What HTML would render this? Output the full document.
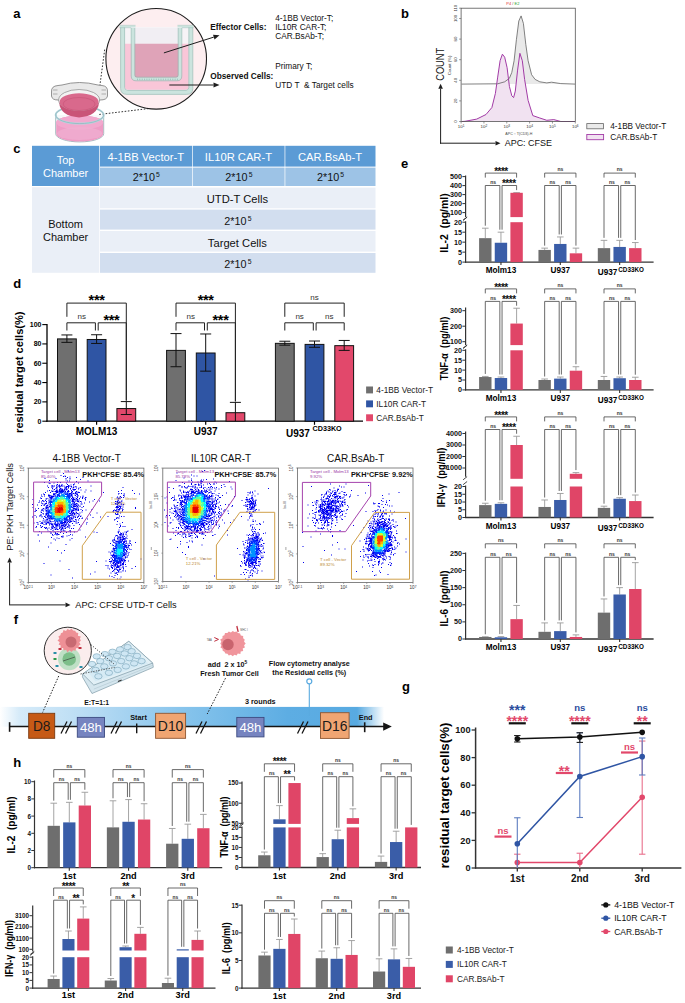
<!DOCTYPE html>
<html><head><meta charset="utf-8"><style>
html,body{margin:0;padding:0;background:#fff;}
svg{display:block;}
text{font-family:"Liberation Sans", sans-serif;}
</style></head><body>
<svg width="685" height="1003" viewBox="0 0 685 1003">
<rect width="685" height="1003" fill="#fff"/>
<text x="13.30" y="17.80" font-size="13" font-weight="bold" text-anchor="start" fill="#000">a</text>
<text x="401.00" y="17.80" font-size="13" font-weight="bold" text-anchor="start" fill="#000">b</text>
<text x="13.30" y="153.20" font-size="13" font-weight="bold" text-anchor="start" fill="#000">c</text>
<text x="13.30" y="288.20" font-size="13" font-weight="bold" text-anchor="start" fill="#000">d</text>
<text x="401.00" y="167.50" font-size="13" font-weight="bold" text-anchor="start" fill="#000">e</text>
<text x="13.80" y="623.50" font-size="13" font-weight="bold" text-anchor="start" fill="#000">f</text>
<text x="402.00" y="690.70" font-size="13" font-weight="bold" text-anchor="start" fill="#000">g</text>
<text x="13.30" y="766.60" font-size="13" font-weight="bold" text-anchor="start" fill="#000">h</text>
<rect x="32.00" y="145.80" width="67.30" height="40.20" fill="#5B9BD5"/>
<rect x="32.00" y="187.20" width="67.30" height="85.60" fill="#EAEFF7"/>
<rect x="100.00" y="145.80" width="92.30" height="20.80" fill="#5B9BD5"/>
<rect x="100.00" y="167.60" width="92.30" height="18.40" fill="#9DC3E6"/>
<rect x="193.00" y="145.80" width="91.60" height="20.80" fill="#5B9BD5"/>
<rect x="193.00" y="167.60" width="91.60" height="18.40" fill="#9DC3E6"/>
<rect x="285.30" y="145.80" width="90.20" height="20.80" fill="#5B9BD5"/>
<rect x="285.30" y="167.60" width="90.20" height="18.40" fill="#9DC3E6"/>
<rect x="100.00" y="187.60" width="275.50" height="20.70" fill="#EAEFF7"/>
<rect x="100.00" y="209.60" width="275.50" height="20.00" fill="#D2DEEF"/>
<rect x="100.00" y="231.00" width="275.50" height="20.60" fill="#EAEFF7"/>
<rect x="100.00" y="253.00" width="275.50" height="19.80" fill="#D2DEEF"/>
<text x="65.60" y="164.00" font-size="11" text-anchor="middle" fill="#fff">Top</text>
<text x="65.60" y="177.30" font-size="11" text-anchor="middle" fill="#fff">Chamber</text>
<text x="65.60" y="227.60" font-size="11" text-anchor="middle" fill="#111">Bottom</text>
<text x="65.60" y="240.80" font-size="11" text-anchor="middle" fill="#111">Chamber</text>
<text x="145.80" y="161.00" font-size="11.2" text-anchor="middle" fill="#fff">4-1BB Vector-T</text>
<text x="143.80" y="181.30" font-size="10.8" text-anchor="middle" fill="#111">2*10</text>
<text x="156.10" y="177.30" font-size="6.8" text-anchor="start" fill="#111">5</text>
<text x="238.45" y="161.00" font-size="11.2" text-anchor="middle" fill="#fff">IL10R CAR-T</text>
<text x="236.45" y="181.30" font-size="10.8" text-anchor="middle" fill="#111">2*10</text>
<text x="248.75" y="177.30" font-size="6.8" text-anchor="start" fill="#111">5</text>
<text x="330.05" y="161.00" font-size="11.2" text-anchor="middle" fill="#fff">CAR.BsAb-T</text>
<text x="328.05" y="181.30" font-size="10.8" text-anchor="middle" fill="#111">2*10</text>
<text x="340.35" y="177.30" font-size="6.8" text-anchor="start" fill="#111">5</text>
<text x="237.40" y="202.50" font-size="11.2" text-anchor="middle" fill="#111">UTD-T Cells</text>
<text x="235.40" y="224.50" font-size="10.8" text-anchor="middle" fill="#111">2*10</text>
<text x="247.70" y="220.50" font-size="6.8" text-anchor="start" fill="#111">5</text>
<text x="237.40" y="246.50" font-size="11.2" text-anchor="middle" fill="#111">Target Cells</text>
<text x="235.40" y="267.50" font-size="10.8" text-anchor="middle" fill="#111">2*10</text>
<text x="247.70" y="263.50" font-size="6.8" text-anchor="start" fill="#111">5</text>
<line x1="47.00" y1="324.00" x2="47.00" y2="421.80" stroke="#000" stroke-width="1.3"/>
<line x1="46.40" y1="421.20" x2="363.00" y2="421.20" stroke="#000" stroke-width="1.3"/>
<line x1="42.30" y1="421.20" x2="47.00" y2="421.20" stroke="#000" stroke-width="1.1"/>
<text x="41.50" y="423.70" font-size="7" font-weight="bold" text-anchor="end" fill="#000">0</text>
<line x1="42.30" y1="401.88" x2="47.00" y2="401.88" stroke="#000" stroke-width="1.1"/>
<text x="41.50" y="404.38" font-size="7" font-weight="bold" text-anchor="end" fill="#000">20</text>
<line x1="42.30" y1="382.56" x2="47.00" y2="382.56" stroke="#000" stroke-width="1.1"/>
<text x="41.50" y="385.06" font-size="7" font-weight="bold" text-anchor="end" fill="#000">40</text>
<line x1="42.30" y1="363.24" x2="47.00" y2="363.24" stroke="#000" stroke-width="1.1"/>
<text x="41.50" y="365.74" font-size="7" font-weight="bold" text-anchor="end" fill="#000">60</text>
<line x1="42.30" y1="343.92" x2="47.00" y2="343.92" stroke="#000" stroke-width="1.1"/>
<text x="41.50" y="346.42" font-size="7" font-weight="bold" text-anchor="end" fill="#000">80</text>
<line x1="42.30" y1="324.60" x2="47.00" y2="324.60" stroke="#000" stroke-width="1.1"/>
<text x="41.50" y="327.10" font-size="7" font-weight="bold" text-anchor="end" fill="#000">100</text>
<text x="22.60" y="372.20" font-size="11.2" font-weight="bold" text-anchor="middle" fill="#000" transform="rotate(-90 22.6 372.2)" textLength="121.5" lengthAdjust="spacingAndGlyphs">residual target cells(%)</text>
<rect x="57.50" y="338.90" width="18.80" height="82.30" fill="#6F6F6F" stroke="#111" stroke-width="1"/>
<line x1="66.90" y1="334.94" x2="66.90" y2="342.37" stroke="#111" stroke-width="1"/>
<line x1="61.40" y1="334.94" x2="72.40" y2="334.94" stroke="#111" stroke-width="1"/>
<line x1="61.40" y1="342.37" x2="72.40" y2="342.37" stroke="#111" stroke-width="1"/>
<rect x="87.20" y="339.48" width="18.80" height="81.72" fill="#2F55A4" stroke="#111" stroke-width="1"/>
<line x1="96.60" y1="334.74" x2="96.60" y2="343.44" stroke="#111" stroke-width="1"/>
<line x1="91.10" y1="334.74" x2="102.10" y2="334.74" stroke="#111" stroke-width="1"/>
<line x1="91.10" y1="343.44" x2="102.10" y2="343.44" stroke="#111" stroke-width="1"/>
<rect x="116.90" y="408.55" width="18.80" height="12.65" fill="#E2486B" stroke="#111" stroke-width="1"/>
<line x1="126.30" y1="401.59" x2="126.30" y2="414.53" stroke="#111" stroke-width="1"/>
<line x1="120.80" y1="401.59" x2="131.80" y2="401.59" stroke="#111" stroke-width="1"/>
<line x1="120.80" y1="414.53" x2="131.80" y2="414.53" stroke="#111" stroke-width="1"/>
<line x1="96.60" y1="421.20" x2="96.60" y2="424.80" stroke="#000" stroke-width="1.2"/>
<rect x="166.60" y="350.39" width="18.80" height="70.81" fill="#6F6F6F" stroke="#111" stroke-width="1"/>
<line x1="176.00" y1="333.58" x2="176.00" y2="366.72" stroke="#111" stroke-width="1"/>
<line x1="170.50" y1="333.58" x2="181.50" y2="333.58" stroke="#111" stroke-width="1"/>
<line x1="170.50" y1="366.72" x2="181.50" y2="366.72" stroke="#111" stroke-width="1"/>
<rect x="196.30" y="353.00" width="18.80" height="68.20" fill="#2F55A4" stroke="#111" stroke-width="1"/>
<line x1="205.70" y1="333.97" x2="205.70" y2="371.16" stroke="#111" stroke-width="1"/>
<line x1="200.20" y1="333.97" x2="211.20" y2="333.97" stroke="#111" stroke-width="1"/>
<line x1="200.20" y1="371.16" x2="211.20" y2="371.16" stroke="#111" stroke-width="1"/>
<rect x="226.00" y="412.70" width="18.80" height="8.50" fill="#E2486B" stroke="#111" stroke-width="1"/>
<line x1="235.40" y1="402.36" x2="235.40" y2="421.20" stroke="#111" stroke-width="1"/>
<line x1="229.90" y1="402.36" x2="240.90" y2="402.36" stroke="#111" stroke-width="1"/>
<line x1="205.70" y1="421.20" x2="205.70" y2="424.80" stroke="#000" stroke-width="1.2"/>
<rect x="275.40" y="343.34" width="18.80" height="77.86" fill="#6F6F6F" stroke="#111" stroke-width="1"/>
<line x1="284.80" y1="341.22" x2="284.80" y2="345.18" stroke="#111" stroke-width="1"/>
<line x1="279.30" y1="341.22" x2="290.30" y2="341.22" stroke="#111" stroke-width="1"/>
<line x1="279.30" y1="345.18" x2="290.30" y2="345.18" stroke="#111" stroke-width="1"/>
<rect x="305.10" y="344.40" width="18.80" height="76.80" fill="#2F55A4" stroke="#111" stroke-width="1"/>
<line x1="314.50" y1="341.02" x2="314.50" y2="347.30" stroke="#111" stroke-width="1"/>
<line x1="309.00" y1="341.02" x2="320.00" y2="341.02" stroke="#111" stroke-width="1"/>
<line x1="309.00" y1="347.30" x2="320.00" y2="347.30" stroke="#111" stroke-width="1"/>
<rect x="334.80" y="345.66" width="18.80" height="75.54" fill="#E2486B" stroke="#111" stroke-width="1"/>
<line x1="344.20" y1="340.44" x2="344.20" y2="350.39" stroke="#111" stroke-width="1"/>
<line x1="338.70" y1="340.44" x2="349.70" y2="340.44" stroke="#111" stroke-width="1"/>
<line x1="338.70" y1="350.39" x2="349.70" y2="350.39" stroke="#111" stroke-width="1"/>
<line x1="314.50" y1="421.20" x2="314.50" y2="424.80" stroke="#000" stroke-width="1.2"/>
<text x="96.60" y="435.00" font-size="10" font-weight="bold" text-anchor="middle" fill="#000">MOLM13</text>
<text x="205.70" y="435.00" font-size="10" font-weight="bold" text-anchor="middle" fill="#000">U937</text>
<text x="286.00" y="437.00" font-size="10" font-weight="bold" text-anchor="start" fill="#000">U937</text>
<text x="312.50" y="431.00" font-size="7.2" font-weight="bold" text-anchor="start" fill="#000">CD33KO</text>
<path d="M66.90 316.80 V303.10 H126.30 V400.59" fill="none" stroke="#222" stroke-width="1"/>
<path d="M66.90 330.50 V322.80 H95.40 V330.50" fill="none" stroke="#222" stroke-width="1"/>
<path d="M98.20 330.50 V322.80 H126.30 V400.59" fill="none" stroke="#222" stroke-width="1"/>
<text x="96.60" y="304.90" font-size="14.5" font-weight="bold" text-anchor="middle" fill="#000" letter-spacing="-0.3">***</text>
<text x="81.75" y="319.30" font-size="8" text-anchor="middle" fill="#333">ns</text>
<text x="111.45" y="324.60" font-size="14.5" font-weight="bold" text-anchor="middle" fill="#000" letter-spacing="-0.3">***</text>
<path d="M176.00 316.80 V303.10 H235.40 V401.36" fill="none" stroke="#222" stroke-width="1"/>
<path d="M176.00 330.50 V322.80 H204.50 V330.50" fill="none" stroke="#222" stroke-width="1"/>
<path d="M207.30 330.50 V322.80 H235.40 V401.36" fill="none" stroke="#222" stroke-width="1"/>
<text x="205.70" y="304.90" font-size="14.5" font-weight="bold" text-anchor="middle" fill="#000" letter-spacing="-0.3">***</text>
<text x="190.85" y="319.30" font-size="8" text-anchor="middle" fill="#333">ns</text>
<text x="220.55" y="324.60" font-size="14.5" font-weight="bold" text-anchor="middle" fill="#000" letter-spacing="-0.3">***</text>
<path d="M284.80 316.80 V303.10 H344.20 V316.80" fill="none" stroke="#222" stroke-width="1"/>
<path d="M284.80 330.50 V322.80 H313.30 V330.50" fill="none" stroke="#222" stroke-width="1"/>
<path d="M316.10 330.50 V322.80 H344.20 V330.50" fill="none" stroke="#222" stroke-width="1"/>
<text x="314.50" y="299.60" font-size="8" text-anchor="middle" fill="#333">ns</text>
<text x="299.65" y="319.30" font-size="8" text-anchor="middle" fill="#333">ns</text>
<text x="329.35" y="319.30" font-size="8" text-anchor="middle" fill="#333">ns</text>
<rect x="366.10" y="386.50" width="6.90" height="6.90" fill="#6F6F6F"/>
<text x="376.30" y="392.90" font-size="8.3" text-anchor="start" fill="#222">4-1BB Vector-T</text>
<rect x="366.10" y="400.40" width="6.90" height="6.90" fill="#2F55A4"/>
<text x="376.30" y="406.80" font-size="8.3" text-anchor="start" fill="#222">IL10R CAR-T</text>
<rect x="366.10" y="414.30" width="6.90" height="6.90" fill="#E2486B"/>
<text x="376.30" y="420.70" font-size="8.3" text-anchor="start" fill="#222">CAR.BsAb-T</text>
<line x1="465.60" y1="221.20" x2="465.60" y2="262.70" stroke="#333" stroke-width="1.2"/>
<line x1="465.60" y1="175.50" x2="465.60" y2="217.10" stroke="#333" stroke-width="1.2"/>
<line x1="463.10" y1="220.40" x2="467.10" y2="217.20" stroke="#333" stroke-width="0.9"/>
<line x1="463.10" y1="220.10" x2="467.10" y2="216.90" stroke="#333" stroke-width="0.9"/>
<line x1="465.00" y1="262.10" x2="653.60" y2="262.10" stroke="#333" stroke-width="1.3"/>
<line x1="462.40" y1="262.10" x2="465.60" y2="262.10" stroke="#333" stroke-width="1.0"/>
<text x="462.00" y="264.50" font-size="7.2" font-weight="bold" text-anchor="end" fill="#111">0</text>
<line x1="462.40" y1="252.13" x2="465.60" y2="252.13" stroke="#333" stroke-width="1.0"/>
<text x="462.00" y="254.53" font-size="7.2" font-weight="bold" text-anchor="end" fill="#111">5</text>
<line x1="462.40" y1="242.15" x2="465.60" y2="242.15" stroke="#333" stroke-width="1.0"/>
<text x="462.00" y="244.55" font-size="7.2" font-weight="bold" text-anchor="end" fill="#111">10</text>
<line x1="462.40" y1="232.18" x2="465.60" y2="232.18" stroke="#333" stroke-width="1.0"/>
<text x="462.00" y="234.58" font-size="7.2" font-weight="bold" text-anchor="end" fill="#111">15</text>
<line x1="462.40" y1="222.20" x2="465.60" y2="222.20" stroke="#333" stroke-width="1.0"/>
<text x="462.00" y="224.60" font-size="7.2" font-weight="bold" text-anchor="end" fill="#111">20</text>
<line x1="462.40" y1="212.60" x2="465.60" y2="212.60" stroke="#333" stroke-width="1.0"/>
<text x="462.00" y="215.00" font-size="7.2" font-weight="bold" text-anchor="end" fill="#111">100</text>
<line x1="462.40" y1="203.60" x2="465.60" y2="203.60" stroke="#333" stroke-width="1.0"/>
<text x="462.00" y="206.00" font-size="7.2" font-weight="bold" text-anchor="end" fill="#111">200</text>
<line x1="462.40" y1="194.60" x2="465.60" y2="194.60" stroke="#333" stroke-width="1.0"/>
<text x="462.00" y="197.00" font-size="7.2" font-weight="bold" text-anchor="end" fill="#111">300</text>
<line x1="462.40" y1="185.60" x2="465.60" y2="185.60" stroke="#333" stroke-width="1.0"/>
<text x="462.00" y="188.00" font-size="7.2" font-weight="bold" text-anchor="end" fill="#111">400</text>
<line x1="462.40" y1="176.60" x2="465.60" y2="176.60" stroke="#333" stroke-width="1.0"/>
<text x="462.00" y="179.00" font-size="7.2" font-weight="bold" text-anchor="end" fill="#111">500</text>
<text x="447.50" y="223.00" font-size="10.5" font-weight="bold" text-anchor="middle" fill="#000" transform="rotate(-90 447.5 223)" textLength="59.5" lengthAdjust="spacingAndGlyphs">IL-2  (pg/ml)</text>
<line x1="485.30" y1="228.19" x2="485.30" y2="238.16" stroke="#9a9a9a" stroke-width="0.9"/>
<line x1="482.00" y1="228.19" x2="488.60" y2="228.19" stroke="#9a9a9a" stroke-width="0.9"/>
<rect x="479.10" y="238.16" width="12.40" height="23.94" fill="#6E6E6E"/>
<line x1="500.95" y1="232.18" x2="500.95" y2="242.75" stroke="#9a9a9a" stroke-width="0.9"/>
<line x1="497.65" y1="232.18" x2="504.25" y2="232.18" stroke="#9a9a9a" stroke-width="0.9"/>
<rect x="494.75" y="242.75" width="12.40" height="19.35" fill="#3A5DA8"/>
<line x1="516.60" y1="192.62" x2="516.60" y2="192.80" stroke="#9a9a9a" stroke-width="0.9"/>
<line x1="513.30" y1="192.62" x2="519.90" y2="192.62" stroke="#9a9a9a" stroke-width="0.9"/>
<rect x="510.40" y="192.80" width="12.40" height="24.30" fill="#E04567"/>
<rect x="510.40" y="222.20" width="12.40" height="39.90" fill="#E04567"/>
<line x1="500.95" y1="262.10" x2="500.95" y2="265.10" stroke="#333" stroke-width="1.1"/>
<path d="M485.30 177.60 V173.10 H516.60 V177.60" fill="none" stroke="#444" stroke-width="0.8"/>
<path d="M485.30 225.69 V185.50 H499.85 V229.68" fill="none" stroke="#444" stroke-width="0.8"/>
<path d="M502.05 229.68 V185.50 H516.60 V190.12" fill="none" stroke="#444" stroke-width="0.8"/>
<text x="500.95" y="174.70" font-size="10" font-weight="bold" text-anchor="middle" fill="#111" letter-spacing="-0.5">****</text>
<text x="493.12" y="183.80" font-size="5.0" font-weight="bold" text-anchor="middle" fill="#333">ns</text>
<text x="508.77" y="187.10" font-size="10" font-weight="bold" text-anchor="middle" fill="#111" letter-spacing="-0.5">****</text>
<text x="500.95" y="273.30" font-size="8.2" font-weight="bold" text-anchor="middle" fill="#000">Molm13</text>
<line x1="544.65" y1="248.14" x2="544.65" y2="249.93" stroke="#9a9a9a" stroke-width="0.9"/>
<line x1="541.35" y1="248.14" x2="547.95" y2="248.14" stroke="#9a9a9a" stroke-width="0.9"/>
<rect x="538.45" y="249.93" width="12.40" height="12.17" fill="#6E6E6E"/>
<line x1="560.30" y1="236.96" x2="560.30" y2="243.95" stroke="#9a9a9a" stroke-width="0.9"/>
<line x1="557.00" y1="236.96" x2="563.60" y2="236.96" stroke="#9a9a9a" stroke-width="0.9"/>
<rect x="554.10" y="243.95" width="12.40" height="18.15" fill="#3A5DA8"/>
<line x1="575.95" y1="248.14" x2="575.95" y2="253.32" stroke="#9a9a9a" stroke-width="0.9"/>
<line x1="572.65" y1="248.14" x2="579.25" y2="248.14" stroke="#9a9a9a" stroke-width="0.9"/>
<rect x="569.75" y="253.32" width="12.40" height="8.78" fill="#E04567"/>
<line x1="560.30" y1="262.10" x2="560.30" y2="265.10" stroke="#333" stroke-width="1.1"/>
<path d="M544.65 177.60 V173.10 H575.95 V177.60" fill="none" stroke="#444" stroke-width="0.8"/>
<path d="M544.65 245.64 V185.50 H559.20 V234.46" fill="none" stroke="#444" stroke-width="0.8"/>
<path d="M561.40 234.46 V185.50 H575.95 V245.64" fill="none" stroke="#444" stroke-width="0.8"/>
<text x="560.30" y="171.40" font-size="5.0" font-weight="bold" text-anchor="middle" fill="#333">ns</text>
<text x="552.48" y="183.80" font-size="5.0" font-weight="bold" text-anchor="middle" fill="#333">ns</text>
<text x="568.12" y="183.80" font-size="5.0" font-weight="bold" text-anchor="middle" fill="#333">ns</text>
<text x="560.30" y="273.30" font-size="8.2" font-weight="bold" text-anchor="middle" fill="#000">U937</text>
<line x1="604.00" y1="240.35" x2="604.00" y2="248.14" stroke="#9a9a9a" stroke-width="0.9"/>
<line x1="600.70" y1="240.35" x2="607.30" y2="240.35" stroke="#9a9a9a" stroke-width="0.9"/>
<rect x="597.80" y="248.14" width="12.40" height="13.97" fill="#6E6E6E"/>
<line x1="619.65" y1="240.35" x2="619.65" y2="246.94" stroke="#9a9a9a" stroke-width="0.9"/>
<line x1="616.35" y1="240.35" x2="622.95" y2="240.35" stroke="#9a9a9a" stroke-width="0.9"/>
<rect x="613.45" y="246.94" width="12.40" height="15.16" fill="#3A5DA8"/>
<line x1="635.30" y1="242.55" x2="635.30" y2="248.14" stroke="#9a9a9a" stroke-width="0.9"/>
<line x1="632.00" y1="242.55" x2="638.60" y2="242.55" stroke="#9a9a9a" stroke-width="0.9"/>
<rect x="629.10" y="248.14" width="12.40" height="13.97" fill="#E04567"/>
<line x1="619.65" y1="262.10" x2="619.65" y2="265.10" stroke="#333" stroke-width="1.1"/>
<path d="M604.00 177.60 V173.10 H635.30 V177.60" fill="none" stroke="#444" stroke-width="0.8"/>
<path d="M604.00 237.85 V185.50 H618.55 V237.85" fill="none" stroke="#444" stroke-width="0.8"/>
<path d="M620.75 237.85 V185.50 H635.30 V240.05" fill="none" stroke="#444" stroke-width="0.8"/>
<text x="619.65" y="171.40" font-size="5.0" font-weight="bold" text-anchor="middle" fill="#333">ns</text>
<text x="611.83" y="183.80" font-size="5.0" font-weight="bold" text-anchor="middle" fill="#333">ns</text>
<text x="627.48" y="183.80" font-size="5.0" font-weight="bold" text-anchor="middle" fill="#333">ns</text>
<text x="597.80" y="275.10" font-size="8.2" font-weight="bold" text-anchor="start" fill="#000">U937</text>
<text x="618.30" y="272.10" font-size="6.3" font-weight="bold" text-anchor="start" fill="#000">CD33KO</text>
<line x1="465.60" y1="349.30" x2="465.60" y2="390.50" stroke="#333" stroke-width="1.2"/>
<line x1="465.60" y1="307.50" x2="465.60" y2="345.10" stroke="#333" stroke-width="1.2"/>
<line x1="463.10" y1="348.50" x2="467.10" y2="345.30" stroke="#333" stroke-width="0.9"/>
<line x1="463.10" y1="348.10" x2="467.10" y2="344.90" stroke="#333" stroke-width="0.9"/>
<line x1="465.00" y1="389.90" x2="653.60" y2="389.90" stroke="#333" stroke-width="1.3"/>
<line x1="462.40" y1="389.90" x2="465.60" y2="389.90" stroke="#333" stroke-width="1.0"/>
<text x="462.00" y="392.30" font-size="7.2" font-weight="bold" text-anchor="end" fill="#111">0</text>
<line x1="462.40" y1="380.00" x2="465.60" y2="380.00" stroke="#333" stroke-width="1.0"/>
<text x="462.00" y="382.40" font-size="7.2" font-weight="bold" text-anchor="end" fill="#111">5</text>
<line x1="462.40" y1="370.10" x2="465.60" y2="370.10" stroke="#333" stroke-width="1.0"/>
<text x="462.00" y="372.50" font-size="7.2" font-weight="bold" text-anchor="end" fill="#111">10</text>
<line x1="462.40" y1="360.20" x2="465.60" y2="360.20" stroke="#333" stroke-width="1.0"/>
<text x="462.00" y="362.60" font-size="7.2" font-weight="bold" text-anchor="end" fill="#111">15</text>
<line x1="462.40" y1="350.30" x2="465.60" y2="350.30" stroke="#333" stroke-width="1.0"/>
<text x="462.00" y="352.70" font-size="7.2" font-weight="bold" text-anchor="end" fill="#111">20</text>
<line x1="462.40" y1="341.70" x2="465.60" y2="341.70" stroke="#333" stroke-width="1.0"/>
<text x="462.00" y="344.10" font-size="7.2" font-weight="bold" text-anchor="end" fill="#111">100</text>
<line x1="462.40" y1="326.20" x2="465.60" y2="326.20" stroke="#333" stroke-width="1.0"/>
<text x="462.00" y="328.60" font-size="7.2" font-weight="bold" text-anchor="end" fill="#111">200</text>
<line x1="462.40" y1="310.70" x2="465.60" y2="310.70" stroke="#333" stroke-width="1.0"/>
<text x="462.00" y="313.10" font-size="7.2" font-weight="bold" text-anchor="end" fill="#111">300</text>
<text x="447.50" y="348.50" font-size="10.5" font-weight="bold" text-anchor="middle" fill="#000" transform="rotate(-90 447.5 348.5)" textLength="63.7" lengthAdjust="spacingAndGlyphs">TNF-α  (pg/ml)</text>
<line x1="485.30" y1="376.44" x2="485.30" y2="377.03" stroke="#9a9a9a" stroke-width="0.9"/>
<line x1="482.00" y1="376.44" x2="488.60" y2="376.44" stroke="#9a9a9a" stroke-width="0.9"/>
<rect x="479.10" y="377.03" width="12.40" height="12.87" fill="#6E6E6E"/>
<line x1="500.95" y1="377.03" x2="500.95" y2="378.02" stroke="#9a9a9a" stroke-width="0.9"/>
<line x1="497.65" y1="377.03" x2="504.25" y2="377.03" stroke="#9a9a9a" stroke-width="0.9"/>
<rect x="494.75" y="378.02" width="12.40" height="11.88" fill="#3A5DA8"/>
<line x1="516.60" y1="308.22" x2="516.60" y2="323.56" stroke="#9a9a9a" stroke-width="0.9"/>
<line x1="513.30" y1="308.22" x2="519.90" y2="308.22" stroke="#9a9a9a" stroke-width="0.9"/>
<rect x="510.40" y="323.56" width="12.40" height="21.54" fill="#E04567"/>
<rect x="510.40" y="350.30" width="12.40" height="39.60" fill="#E04567"/>
<line x1="500.95" y1="389.90" x2="500.95" y2="392.90" stroke="#333" stroke-width="1.1"/>
<path d="M485.30 293.40 V288.90 H516.60 V293.40" fill="none" stroke="#444" stroke-width="0.8"/>
<path d="M485.30 373.94 V301.40 H499.85 V374.53" fill="none" stroke="#444" stroke-width="0.8"/>
<path d="M502.05 374.53 V301.40 H516.60 V305.72" fill="none" stroke="#444" stroke-width="0.8"/>
<text x="500.95" y="290.50" font-size="10" font-weight="bold" text-anchor="middle" fill="#111" letter-spacing="-0.5">****</text>
<text x="493.12" y="299.70" font-size="5.0" font-weight="bold" text-anchor="middle" fill="#333">ns</text>
<text x="508.77" y="303.00" font-size="10" font-weight="bold" text-anchor="middle" fill="#111" letter-spacing="-0.5">****</text>
<text x="500.95" y="401.10" font-size="8.2" font-weight="bold" text-anchor="middle" fill="#000">Molm13</text>
<line x1="544.65" y1="379.01" x2="544.65" y2="380.00" stroke="#9a9a9a" stroke-width="0.9"/>
<line x1="541.35" y1="379.01" x2="547.95" y2="379.01" stroke="#9a9a9a" stroke-width="0.9"/>
<rect x="538.45" y="380.00" width="12.40" height="9.90" fill="#6E6E6E"/>
<line x1="560.30" y1="377.03" x2="560.30" y2="378.61" stroke="#9a9a9a" stroke-width="0.9"/>
<line x1="557.00" y1="377.03" x2="563.60" y2="377.03" stroke="#9a9a9a" stroke-width="0.9"/>
<rect x="554.10" y="378.61" width="12.40" height="11.29" fill="#3A5DA8"/>
<line x1="575.95" y1="366.73" x2="575.95" y2="370.69" stroke="#9a9a9a" stroke-width="0.9"/>
<line x1="572.65" y1="366.73" x2="579.25" y2="366.73" stroke="#9a9a9a" stroke-width="0.9"/>
<rect x="569.75" y="370.69" width="12.40" height="19.21" fill="#E04567"/>
<line x1="560.30" y1="389.90" x2="560.30" y2="392.90" stroke="#333" stroke-width="1.1"/>
<path d="M544.65 293.40 V288.90 H575.95 V293.40" fill="none" stroke="#444" stroke-width="0.8"/>
<path d="M544.65 376.51 V301.40 H559.20 V374.53" fill="none" stroke="#444" stroke-width="0.8"/>
<path d="M561.40 374.53 V301.40 H575.95 V364.23" fill="none" stroke="#444" stroke-width="0.8"/>
<text x="560.30" y="287.20" font-size="5.0" font-weight="bold" text-anchor="middle" fill="#333">ns</text>
<text x="552.48" y="299.70" font-size="5.0" font-weight="bold" text-anchor="middle" fill="#333">ns</text>
<text x="568.12" y="299.70" font-size="5.0" font-weight="bold" text-anchor="middle" fill="#333">ns</text>
<text x="560.30" y="401.10" font-size="8.2" font-weight="bold" text-anchor="middle" fill="#000">U937</text>
<line x1="604.00" y1="376.44" x2="604.00" y2="380.00" stroke="#9a9a9a" stroke-width="0.9"/>
<line x1="600.70" y1="376.44" x2="607.30" y2="376.44" stroke="#9a9a9a" stroke-width="0.9"/>
<rect x="597.80" y="380.00" width="12.40" height="9.90" fill="#6E6E6E"/>
<line x1="619.65" y1="377.03" x2="619.65" y2="378.22" stroke="#9a9a9a" stroke-width="0.9"/>
<line x1="616.35" y1="377.03" x2="622.95" y2="377.03" stroke="#9a9a9a" stroke-width="0.9"/>
<rect x="613.45" y="378.22" width="12.40" height="11.68" fill="#3A5DA8"/>
<line x1="635.30" y1="377.23" x2="635.30" y2="380.00" stroke="#9a9a9a" stroke-width="0.9"/>
<line x1="632.00" y1="377.23" x2="638.60" y2="377.23" stroke="#9a9a9a" stroke-width="0.9"/>
<rect x="629.10" y="380.00" width="12.40" height="9.90" fill="#E04567"/>
<line x1="619.65" y1="389.90" x2="619.65" y2="392.90" stroke="#333" stroke-width="1.1"/>
<path d="M604.00 293.40 V288.90 H635.30 V293.40" fill="none" stroke="#444" stroke-width="0.8"/>
<path d="M604.00 373.94 V301.40 H618.55 V374.53" fill="none" stroke="#444" stroke-width="0.8"/>
<path d="M620.75 374.53 V301.40 H635.30 V374.73" fill="none" stroke="#444" stroke-width="0.8"/>
<text x="619.65" y="287.20" font-size="5.0" font-weight="bold" text-anchor="middle" fill="#333">ns</text>
<text x="611.83" y="299.70" font-size="5.0" font-weight="bold" text-anchor="middle" fill="#333">ns</text>
<text x="627.48" y="299.70" font-size="5.0" font-weight="bold" text-anchor="middle" fill="#333">ns</text>
<text x="597.80" y="402.90" font-size="8.2" font-weight="bold" text-anchor="start" fill="#000">U937</text>
<text x="618.30" y="399.90" font-size="6.3" font-weight="bold" text-anchor="start" fill="#000">CD33KO</text>
<line x1="465.60" y1="485.50" x2="465.60" y2="518.10" stroke="#333" stroke-width="1.2"/>
<line x1="465.60" y1="431.50" x2="465.60" y2="476.80" stroke="#333" stroke-width="1.2"/>
<line x1="463.10" y1="484.70" x2="467.10" y2="481.50" stroke="#333" stroke-width="0.9"/>
<line x1="463.10" y1="479.80" x2="467.10" y2="476.60" stroke="#333" stroke-width="0.9"/>
<line x1="465.00" y1="517.50" x2="653.60" y2="517.50" stroke="#333" stroke-width="1.3"/>
<line x1="462.40" y1="517.50" x2="465.60" y2="517.50" stroke="#333" stroke-width="1.0"/>
<text x="462.00" y="519.90" font-size="7.2" font-weight="bold" text-anchor="end" fill="#111">0</text>
<line x1="462.40" y1="509.75" x2="465.60" y2="509.75" stroke="#333" stroke-width="1.0"/>
<text x="462.00" y="512.15" font-size="7.2" font-weight="bold" text-anchor="end" fill="#111">5</text>
<line x1="462.40" y1="502.00" x2="465.60" y2="502.00" stroke="#333" stroke-width="1.0"/>
<text x="462.00" y="504.40" font-size="7.2" font-weight="bold" text-anchor="end" fill="#111">10</text>
<line x1="462.40" y1="494.25" x2="465.60" y2="494.25" stroke="#333" stroke-width="1.0"/>
<text x="462.00" y="496.65" font-size="7.2" font-weight="bold" text-anchor="end" fill="#111">15</text>
<line x1="462.40" y1="486.50" x2="465.60" y2="486.50" stroke="#333" stroke-width="1.0"/>
<text x="462.00" y="488.90" font-size="7.2" font-weight="bold" text-anchor="end" fill="#111">20</text>
<line x1="462.40" y1="468.00" x2="465.60" y2="468.00" stroke="#333" stroke-width="1.0"/>
<text x="462.00" y="470.40" font-size="7.2" font-weight="bold" text-anchor="end" fill="#111">1000</text>
<line x1="462.40" y1="456.50" x2="465.60" y2="456.50" stroke="#333" stroke-width="1.0"/>
<text x="462.00" y="458.90" font-size="7.2" font-weight="bold" text-anchor="end" fill="#111">2000</text>
<line x1="462.40" y1="445.00" x2="465.60" y2="445.00" stroke="#333" stroke-width="1.0"/>
<text x="462.00" y="447.40" font-size="7.2" font-weight="bold" text-anchor="end" fill="#111">3000</text>
<line x1="462.40" y1="433.50" x2="465.60" y2="433.50" stroke="#333" stroke-width="1.0"/>
<text x="462.00" y="435.90" font-size="7.2" font-weight="bold" text-anchor="end" fill="#111">4000</text>
<text x="444.50" y="477.50" font-size="10.5" font-weight="bold" text-anchor="middle" fill="#000" transform="rotate(-90 444.5 477.5)" textLength="59.5" lengthAdjust="spacingAndGlyphs">IFN-γ  (pg/ml)</text>
<line x1="485.30" y1="503.24" x2="485.30" y2="505.10" stroke="#9a9a9a" stroke-width="0.9"/>
<line x1="482.00" y1="503.24" x2="488.60" y2="503.24" stroke="#9a9a9a" stroke-width="0.9"/>
<rect x="479.10" y="505.10" width="12.40" height="12.40" fill="#6E6E6E"/>
<line x1="500.95" y1="502.77" x2="500.95" y2="503.86" stroke="#9a9a9a" stroke-width="0.9"/>
<line x1="497.65" y1="502.77" x2="504.25" y2="502.77" stroke="#9a9a9a" stroke-width="0.9"/>
<rect x="494.75" y="503.86" width="12.40" height="13.64" fill="#3A5DA8"/>
<line x1="516.60" y1="436.26" x2="516.60" y2="445.00" stroke="#9a9a9a" stroke-width="0.9"/>
<line x1="513.30" y1="436.26" x2="519.90" y2="436.26" stroke="#9a9a9a" stroke-width="0.9"/>
<rect x="510.40" y="445.00" width="12.40" height="33.80" fill="#E04567"/>
<rect x="510.40" y="486.50" width="12.40" height="31.00" fill="#E04567"/>
<line x1="500.95" y1="517.50" x2="500.95" y2="520.50" stroke="#333" stroke-width="1.1"/>
<path d="M485.30 421.40 V416.90 H516.60 V421.40" fill="none" stroke="#444" stroke-width="0.8"/>
<path d="M485.30 500.74 V429.50 H499.85 V500.27" fill="none" stroke="#444" stroke-width="0.8"/>
<path d="M502.05 500.27 V429.50 H516.60 V433.76" fill="none" stroke="#444" stroke-width="0.8"/>
<text x="500.95" y="418.50" font-size="10" font-weight="bold" text-anchor="middle" fill="#111" letter-spacing="-0.5">****</text>
<text x="493.12" y="427.80" font-size="5.0" font-weight="bold" text-anchor="middle" fill="#333">ns</text>
<text x="508.77" y="431.10" font-size="10" font-weight="bold" text-anchor="middle" fill="#111" letter-spacing="-0.5">****</text>
<text x="500.95" y="528.70" font-size="8.2" font-weight="bold" text-anchor="middle" fill="#000">Molm13</text>
<line x1="544.65" y1="499.99" x2="544.65" y2="506.96" stroke="#9a9a9a" stroke-width="0.9"/>
<line x1="541.35" y1="499.99" x2="547.95" y2="499.99" stroke="#9a9a9a" stroke-width="0.9"/>
<rect x="538.45" y="506.96" width="12.40" height="10.54" fill="#6E6E6E"/>
<line x1="560.30" y1="493.48" x2="560.30" y2="499.99" stroke="#9a9a9a" stroke-width="0.9"/>
<line x1="557.00" y1="493.48" x2="563.60" y2="493.48" stroke="#9a9a9a" stroke-width="0.9"/>
<rect x="554.10" y="499.99" width="12.40" height="17.51" fill="#3A5DA8"/>
<line x1="575.95" y1="472.60" x2="575.95" y2="473.80" stroke="#9a9a9a" stroke-width="0.9"/>
<line x1="572.65" y1="472.60" x2="579.25" y2="472.60" stroke="#9a9a9a" stroke-width="0.9"/>
<rect x="569.75" y="473.80" width="12.40" height="5.00" fill="#E04567"/>
<rect x="569.75" y="486.50" width="12.40" height="31.00" fill="#E04567"/>
<line x1="560.30" y1="517.50" x2="560.30" y2="520.50" stroke="#333" stroke-width="1.1"/>
<path d="M544.65 421.40 V416.90 H575.95 V421.40" fill="none" stroke="#444" stroke-width="0.8"/>
<path d="M544.65 497.49 V429.50 H559.20 V490.98" fill="none" stroke="#444" stroke-width="0.8"/>
<path d="M561.40 490.98 V429.50 H575.95 V470.10" fill="none" stroke="#444" stroke-width="0.8"/>
<text x="560.30" y="415.20" font-size="5.0" font-weight="bold" text-anchor="middle" fill="#333">ns</text>
<text x="552.48" y="427.80" font-size="5.0" font-weight="bold" text-anchor="middle" fill="#333">ns</text>
<text x="568.12" y="427.80" font-size="5.0" font-weight="bold" text-anchor="middle" fill="#333">ns</text>
<text x="560.30" y="528.70" font-size="8.2" font-weight="bold" text-anchor="middle" fill="#000">U937</text>
<line x1="604.00" y1="506.19" x2="604.00" y2="507.89" stroke="#9a9a9a" stroke-width="0.9"/>
<line x1="600.70" y1="506.19" x2="607.30" y2="506.19" stroke="#9a9a9a" stroke-width="0.9"/>
<rect x="597.80" y="507.89" width="12.40" height="9.61" fill="#6E6E6E"/>
<line x1="619.65" y1="497.66" x2="619.65" y2="498.75" stroke="#9a9a9a" stroke-width="0.9"/>
<line x1="616.35" y1="497.66" x2="622.95" y2="497.66" stroke="#9a9a9a" stroke-width="0.9"/>
<rect x="613.45" y="498.75" width="12.40" height="18.75" fill="#3A5DA8"/>
<line x1="635.30" y1="495.02" x2="635.30" y2="501.07" stroke="#9a9a9a" stroke-width="0.9"/>
<line x1="632.00" y1="495.02" x2="638.60" y2="495.02" stroke="#9a9a9a" stroke-width="0.9"/>
<rect x="629.10" y="501.07" width="12.40" height="16.43" fill="#E04567"/>
<line x1="619.65" y1="517.50" x2="619.65" y2="520.50" stroke="#333" stroke-width="1.1"/>
<path d="M604.00 421.40 V416.90 H635.30 V421.40" fill="none" stroke="#444" stroke-width="0.8"/>
<path d="M604.00 503.69 V429.50 H618.55 V495.16" fill="none" stroke="#444" stroke-width="0.8"/>
<path d="M620.75 495.16 V429.50 H635.30 V492.52" fill="none" stroke="#444" stroke-width="0.8"/>
<text x="619.65" y="415.20" font-size="5.0" font-weight="bold" text-anchor="middle" fill="#333">ns</text>
<text x="611.83" y="427.80" font-size="5.0" font-weight="bold" text-anchor="middle" fill="#333">ns</text>
<text x="627.48" y="427.80" font-size="5.0" font-weight="bold" text-anchor="middle" fill="#333">ns</text>
<text x="597.80" y="530.50" font-size="8.2" font-weight="bold" text-anchor="start" fill="#000">U937</text>
<text x="618.30" y="527.50" font-size="6.3" font-weight="bold" text-anchor="start" fill="#000">CD33KO</text>
<line x1="465.60" y1="552.50" x2="465.60" y2="639.60" stroke="#333" stroke-width="1.2"/>
<line x1="465.00" y1="639.00" x2="653.60" y2="639.00" stroke="#333" stroke-width="1.3"/>
<line x1="462.40" y1="639.00" x2="465.60" y2="639.00" stroke="#333" stroke-width="1.0"/>
<text x="462.00" y="641.40" font-size="7.2" font-weight="bold" text-anchor="end" fill="#111">0</text>
<line x1="462.40" y1="621.88" x2="465.60" y2="621.88" stroke="#333" stroke-width="1.0"/>
<text x="462.00" y="624.28" font-size="7.2" font-weight="bold" text-anchor="end" fill="#111">50</text>
<line x1="462.40" y1="604.76" x2="465.60" y2="604.76" stroke="#333" stroke-width="1.0"/>
<text x="462.00" y="607.16" font-size="7.2" font-weight="bold" text-anchor="end" fill="#111">100</text>
<line x1="462.40" y1="587.64" x2="465.60" y2="587.64" stroke="#333" stroke-width="1.0"/>
<text x="462.00" y="590.04" font-size="7.2" font-weight="bold" text-anchor="end" fill="#111">150</text>
<line x1="462.40" y1="570.52" x2="465.60" y2="570.52" stroke="#333" stroke-width="1.0"/>
<text x="462.00" y="572.92" font-size="7.2" font-weight="bold" text-anchor="end" fill="#111">200</text>
<line x1="462.40" y1="553.40" x2="465.60" y2="553.40" stroke="#333" stroke-width="1.0"/>
<text x="462.00" y="555.80" font-size="7.2" font-weight="bold" text-anchor="end" fill="#111">250</text>
<text x="447.50" y="598.50" font-size="10.5" font-weight="bold" text-anchor="middle" fill="#000" transform="rotate(-90 447.5 598.5)" textLength="56" lengthAdjust="spacingAndGlyphs">IL-6  (pg/ml)</text>
<line x1="485.30" y1="636.77" x2="485.30" y2="636.95" stroke="#9a9a9a" stroke-width="0.9"/>
<line x1="482.00" y1="636.77" x2="488.60" y2="636.77" stroke="#9a9a9a" stroke-width="0.9"/>
<rect x="479.10" y="636.95" width="12.40" height="2.05" fill="#6E6E6E"/>
<line x1="500.95" y1="636.60" x2="500.95" y2="637.29" stroke="#9a9a9a" stroke-width="0.9"/>
<line x1="497.65" y1="636.60" x2="504.25" y2="636.60" stroke="#9a9a9a" stroke-width="0.9"/>
<rect x="494.75" y="637.29" width="12.40" height="1.71" fill="#3A5DA8"/>
<line x1="516.60" y1="605.44" x2="516.60" y2="619.14" stroke="#9a9a9a" stroke-width="0.9"/>
<line x1="513.30" y1="605.44" x2="519.90" y2="605.44" stroke="#9a9a9a" stroke-width="0.9"/>
<rect x="510.40" y="619.14" width="12.40" height="19.86" fill="#E04567"/>
<line x1="500.95" y1="639.00" x2="500.95" y2="642.00" stroke="#333" stroke-width="1.1"/>
<path d="M485.30 548.30 V543.80 H516.60 V548.30" fill="none" stroke="#444" stroke-width="0.8"/>
<path d="M485.30 634.27 V557.30 H499.85 V634.10" fill="none" stroke="#444" stroke-width="0.8"/>
<path d="M502.05 634.10 V557.30 H516.60 V602.94" fill="none" stroke="#444" stroke-width="0.8"/>
<text x="500.95" y="542.10" font-size="5.0" font-weight="bold" text-anchor="middle" fill="#333">ns</text>
<text x="493.12" y="555.60" font-size="5.0" font-weight="bold" text-anchor="middle" fill="#333">ns</text>
<text x="508.77" y="555.60" font-size="5.0" font-weight="bold" text-anchor="middle" fill="#333">ns</text>
<text x="500.95" y="650.20" font-size="8.2" font-weight="bold" text-anchor="middle" fill="#000">Molm13</text>
<line x1="544.65" y1="622.91" x2="544.65" y2="631.81" stroke="#9a9a9a" stroke-width="0.9"/>
<line x1="541.35" y1="622.91" x2="547.95" y2="622.91" stroke="#9a9a9a" stroke-width="0.9"/>
<rect x="538.45" y="631.81" width="12.40" height="7.19" fill="#6E6E6E"/>
<line x1="560.30" y1="622.91" x2="560.30" y2="631.12" stroke="#9a9a9a" stroke-width="0.9"/>
<line x1="557.00" y1="622.91" x2="563.60" y2="622.91" stroke="#9a9a9a" stroke-width="0.9"/>
<rect x="554.10" y="631.12" width="12.40" height="7.88" fill="#3A5DA8"/>
<line x1="575.95" y1="634.89" x2="575.95" y2="636.95" stroke="#9a9a9a" stroke-width="0.9"/>
<line x1="572.65" y1="634.89" x2="579.25" y2="634.89" stroke="#9a9a9a" stroke-width="0.9"/>
<rect x="569.75" y="636.95" width="12.40" height="2.05" fill="#E04567"/>
<line x1="560.30" y1="639.00" x2="560.30" y2="642.00" stroke="#333" stroke-width="1.1"/>
<path d="M544.65 548.30 V543.80 H575.95 V548.30" fill="none" stroke="#444" stroke-width="0.8"/>
<path d="M544.65 620.41 V557.30 H559.20 V620.41" fill="none" stroke="#444" stroke-width="0.8"/>
<path d="M561.40 620.41 V557.30 H575.95 V632.39" fill="none" stroke="#444" stroke-width="0.8"/>
<text x="560.30" y="542.10" font-size="5.0" font-weight="bold" text-anchor="middle" fill="#333">ns</text>
<text x="552.48" y="555.60" font-size="5.0" font-weight="bold" text-anchor="middle" fill="#333">ns</text>
<text x="568.12" y="555.60" font-size="5.0" font-weight="bold" text-anchor="middle" fill="#333">ns</text>
<text x="560.30" y="650.20" font-size="8.2" font-weight="bold" text-anchor="middle" fill="#000">U937</text>
<line x1="604.00" y1="598.94" x2="604.00" y2="612.64" stroke="#9a9a9a" stroke-width="0.9"/>
<line x1="600.70" y1="598.94" x2="607.30" y2="598.94" stroke="#9a9a9a" stroke-width="0.9"/>
<rect x="597.80" y="612.64" width="12.40" height="26.36" fill="#6E6E6E"/>
<line x1="619.65" y1="587.64" x2="619.65" y2="594.49" stroke="#9a9a9a" stroke-width="0.9"/>
<line x1="616.35" y1="587.64" x2="622.95" y2="587.64" stroke="#9a9a9a" stroke-width="0.9"/>
<rect x="613.45" y="594.49" width="12.40" height="44.51" fill="#3A5DA8"/>
<line x1="635.30" y1="562.64" x2="635.30" y2="589.01" stroke="#9a9a9a" stroke-width="0.9"/>
<line x1="632.00" y1="562.64" x2="638.60" y2="562.64" stroke="#9a9a9a" stroke-width="0.9"/>
<rect x="629.10" y="589.01" width="12.40" height="49.99" fill="#E04567"/>
<line x1="619.65" y1="639.00" x2="619.65" y2="642.00" stroke="#333" stroke-width="1.1"/>
<path d="M604.00 548.30 V543.80 H635.30 V548.30" fill="none" stroke="#444" stroke-width="0.8"/>
<path d="M604.00 596.44 V557.30 H618.55 V585.14" fill="none" stroke="#444" stroke-width="0.8"/>
<path d="M620.75 585.14 V557.30 H635.30 V560.14" fill="none" stroke="#444" stroke-width="0.8"/>
<text x="619.65" y="542.10" font-size="5.0" font-weight="bold" text-anchor="middle" fill="#333">ns</text>
<text x="611.83" y="555.60" font-size="5.0" font-weight="bold" text-anchor="middle" fill="#333">ns</text>
<text x="627.48" y="555.60" font-size="5.0" font-weight="bold" text-anchor="middle" fill="#333">ns</text>
<text x="597.80" y="652.00" font-size="8.2" font-weight="bold" text-anchor="start" fill="#000">U937</text>
<text x="618.30" y="649.00" font-size="6.3" font-weight="bold" text-anchor="start" fill="#000">CD33KO</text>
<line x1="34.50" y1="780.50" x2="34.50" y2="868.30" stroke="#333" stroke-width="1.2"/>
<line x1="33.90" y1="867.70" x2="222.20" y2="867.70" stroke="#333" stroke-width="1.3"/>
<line x1="31.30" y1="867.70" x2="34.50" y2="867.70" stroke="#333" stroke-width="1.0"/>
<text x="30.90" y="870.10" font-size="6.3" font-weight="bold" text-anchor="end" fill="#111">0</text>
<line x1="31.30" y1="850.50" x2="34.50" y2="850.50" stroke="#333" stroke-width="1.0"/>
<text x="30.90" y="852.90" font-size="6.3" font-weight="bold" text-anchor="end" fill="#111">2</text>
<line x1="31.30" y1="833.30" x2="34.50" y2="833.30" stroke="#333" stroke-width="1.0"/>
<text x="30.90" y="835.70" font-size="6.3" font-weight="bold" text-anchor="end" fill="#111">4</text>
<line x1="31.30" y1="816.10" x2="34.50" y2="816.10" stroke="#333" stroke-width="1.0"/>
<text x="30.90" y="818.50" font-size="6.3" font-weight="bold" text-anchor="end" fill="#111">6</text>
<line x1="31.30" y1="798.90" x2="34.50" y2="798.90" stroke="#333" stroke-width="1.0"/>
<text x="30.90" y="801.30" font-size="6.3" font-weight="bold" text-anchor="end" fill="#111">8</text>
<line x1="31.30" y1="781.70" x2="34.50" y2="781.70" stroke="#333" stroke-width="1.0"/>
<text x="30.90" y="784.10" font-size="6.3" font-weight="bold" text-anchor="end" fill="#111">10</text>
<text x="14.50" y="825.00" font-size="10.5" font-weight="bold" text-anchor="middle" fill="#000" transform="rotate(-90 14.5 825)" textLength="57" lengthAdjust="spacingAndGlyphs">IL-2  (pg/ml)</text>
<line x1="53.75" y1="803.20" x2="53.75" y2="825.82" stroke="#9a9a9a" stroke-width="0.9"/>
<line x1="50.45" y1="803.20" x2="57.05" y2="803.20" stroke="#9a9a9a" stroke-width="0.9"/>
<rect x="47.60" y="825.82" width="12.30" height="41.88" fill="#6E6E6E"/>
<line x1="69.30" y1="802.34" x2="69.30" y2="822.38" stroke="#9a9a9a" stroke-width="0.9"/>
<line x1="66.00" y1="802.34" x2="72.60" y2="802.34" stroke="#9a9a9a" stroke-width="0.9"/>
<rect x="63.15" y="822.38" width="12.30" height="45.32" fill="#3A5DA8"/>
<line x1="84.85" y1="792.28" x2="84.85" y2="805.52" stroke="#9a9a9a" stroke-width="0.9"/>
<line x1="81.55" y1="792.28" x2="88.15" y2="792.28" stroke="#9a9a9a" stroke-width="0.9"/>
<rect x="78.70" y="805.52" width="12.30" height="62.18" fill="#E04567"/>
<line x1="69.30" y1="867.70" x2="69.30" y2="870.70" stroke="#333" stroke-width="1.1"/>
<path d="M53.75 777.60 V769.60 H84.85 V777.60" fill="none" stroke="#444" stroke-width="0.8"/>
<path d="M53.75 800.70 V782.70 H68.20 V799.84" fill="none" stroke="#444" stroke-width="0.8"/>
<path d="M70.40 799.84 V782.70 H84.85 V789.78" fill="none" stroke="#444" stroke-width="0.8"/>
<text x="69.30" y="767.90" font-size="4.9" font-weight="bold" text-anchor="middle" fill="#333">ns</text>
<text x="61.52" y="781.00" font-size="4.9" font-weight="bold" text-anchor="middle" fill="#333">ns</text>
<text x="77.07" y="781.00" font-size="4.9" font-weight="bold" text-anchor="middle" fill="#333">ns</text>
<text x="69.30" y="878.60" font-size="9.2" font-weight="bold" text-anchor="middle" fill="#000">1st</text>
<line x1="113.00" y1="800.79" x2="113.00" y2="827.37" stroke="#9a9a9a" stroke-width="0.9"/>
<line x1="109.70" y1="800.79" x2="116.30" y2="800.79" stroke="#9a9a9a" stroke-width="0.9"/>
<rect x="106.85" y="827.37" width="12.30" height="40.33" fill="#6E6E6E"/>
<line x1="128.55" y1="799.59" x2="128.55" y2="821.78" stroke="#9a9a9a" stroke-width="0.9"/>
<line x1="125.25" y1="799.59" x2="131.85" y2="799.59" stroke="#9a9a9a" stroke-width="0.9"/>
<rect x="122.40" y="821.78" width="12.30" height="45.92" fill="#3A5DA8"/>
<line x1="144.10" y1="803.72" x2="144.10" y2="819.54" stroke="#9a9a9a" stroke-width="0.9"/>
<line x1="140.80" y1="803.72" x2="147.40" y2="803.72" stroke="#9a9a9a" stroke-width="0.9"/>
<rect x="137.95" y="819.54" width="12.30" height="48.16" fill="#E04567"/>
<line x1="128.55" y1="867.70" x2="128.55" y2="870.70" stroke="#333" stroke-width="1.1"/>
<path d="M113.00 777.60 V769.60 H144.10 V777.60" fill="none" stroke="#444" stroke-width="0.8"/>
<path d="M113.00 798.29 V782.70 H127.45 V797.09" fill="none" stroke="#444" stroke-width="0.8"/>
<path d="M129.65 797.09 V782.70 H144.10 V801.22" fill="none" stroke="#444" stroke-width="0.8"/>
<text x="128.55" y="767.90" font-size="4.9" font-weight="bold" text-anchor="middle" fill="#333">ns</text>
<text x="120.78" y="781.00" font-size="4.9" font-weight="bold" text-anchor="middle" fill="#333">ns</text>
<text x="136.32" y="781.00" font-size="4.9" font-weight="bold" text-anchor="middle" fill="#333">ns</text>
<text x="128.55" y="878.60" font-size="9.2" font-weight="bold" text-anchor="middle" fill="#000">2nd</text>
<line x1="172.25" y1="828.48" x2="172.25" y2="843.71" stroke="#9a9a9a" stroke-width="0.9"/>
<line x1="168.95" y1="828.48" x2="175.55" y2="828.48" stroke="#9a9a9a" stroke-width="0.9"/>
<rect x="166.10" y="843.71" width="12.30" height="23.99" fill="#6E6E6E"/>
<line x1="187.80" y1="824.18" x2="187.80" y2="838.80" stroke="#9a9a9a" stroke-width="0.9"/>
<line x1="184.50" y1="824.18" x2="191.10" y2="824.18" stroke="#9a9a9a" stroke-width="0.9"/>
<rect x="181.65" y="838.80" width="12.30" height="28.90" fill="#3A5DA8"/>
<line x1="203.35" y1="814.38" x2="203.35" y2="828.23" stroke="#9a9a9a" stroke-width="0.9"/>
<line x1="200.05" y1="814.38" x2="206.65" y2="814.38" stroke="#9a9a9a" stroke-width="0.9"/>
<rect x="197.20" y="828.23" width="12.30" height="39.47" fill="#E04567"/>
<line x1="187.80" y1="867.70" x2="187.80" y2="870.70" stroke="#333" stroke-width="1.1"/>
<path d="M172.25 777.60 V769.60 H203.35 V777.60" fill="none" stroke="#444" stroke-width="0.8"/>
<path d="M172.25 825.98 V782.70 H186.70 V821.68" fill="none" stroke="#444" stroke-width="0.8"/>
<path d="M188.90 821.68 V782.70 H203.35 V811.88" fill="none" stroke="#444" stroke-width="0.8"/>
<text x="187.80" y="767.90" font-size="4.9" font-weight="bold" text-anchor="middle" fill="#333">ns</text>
<text x="180.03" y="781.00" font-size="4.9" font-weight="bold" text-anchor="middle" fill="#333">ns</text>
<text x="195.57" y="781.00" font-size="4.9" font-weight="bold" text-anchor="middle" fill="#333">ns</text>
<text x="187.80" y="878.60" font-size="9.2" font-weight="bold" text-anchor="middle" fill="#000">3rd</text>
<line x1="32.70" y1="956.20" x2="32.70" y2="988.70" stroke="#333" stroke-width="1.2"/>
<line x1="32.70" y1="905.50" x2="32.70" y2="951.50" stroke="#333" stroke-width="1.2"/>
<line x1="30.20" y1="955.40" x2="34.20" y2="952.20" stroke="#333" stroke-width="0.9"/>
<line x1="30.20" y1="954.50" x2="34.20" y2="951.30" stroke="#333" stroke-width="0.9"/>
<line x1="32.10" y1="988.10" x2="215.50" y2="988.10" stroke="#333" stroke-width="1.3"/>
<line x1="29.50" y1="988.10" x2="32.70" y2="988.10" stroke="#333" stroke-width="1.0"/>
<text x="29.10" y="990.50" font-size="6.3" font-weight="bold" text-anchor="end" fill="#111">0</text>
<line x1="29.50" y1="980.38" x2="32.70" y2="980.38" stroke="#333" stroke-width="1.0"/>
<text x="29.10" y="982.77" font-size="6.3" font-weight="bold" text-anchor="end" fill="#111">5</text>
<line x1="29.50" y1="972.65" x2="32.70" y2="972.65" stroke="#333" stroke-width="1.0"/>
<text x="29.10" y="975.05" font-size="6.3" font-weight="bold" text-anchor="end" fill="#111">10</text>
<line x1="29.50" y1="964.93" x2="32.70" y2="964.93" stroke="#333" stroke-width="1.0"/>
<text x="29.10" y="967.33" font-size="6.3" font-weight="bold" text-anchor="end" fill="#111">15</text>
<line x1="29.50" y1="957.20" x2="32.70" y2="957.20" stroke="#333" stroke-width="1.0"/>
<text x="29.10" y="959.60" font-size="6.3" font-weight="bold" text-anchor="end" fill="#111">20</text>
<line x1="29.50" y1="949.30" x2="32.70" y2="949.30" stroke="#333" stroke-width="1.0"/>
<text x="29.10" y="951.70" font-size="6.3" font-weight="bold" text-anchor="end" fill="#111">100</text>
<line x1="29.50" y1="938.10" x2="32.70" y2="938.10" stroke="#333" stroke-width="1.0"/>
<text x="29.10" y="940.50" font-size="6.3" font-weight="bold" text-anchor="end" fill="#111">1100</text>
<line x1="29.50" y1="926.90" x2="32.70" y2="926.90" stroke="#333" stroke-width="1.0"/>
<text x="29.10" y="929.30" font-size="6.3" font-weight="bold" text-anchor="end" fill="#111">2100</text>
<line x1="29.50" y1="915.70" x2="32.70" y2="915.70" stroke="#333" stroke-width="1.0"/>
<text x="29.10" y="918.10" font-size="6.3" font-weight="bold" text-anchor="end" fill="#111">3100</text>
<text x="12.50" y="948.50" font-size="10.5" font-weight="bold" text-anchor="middle" fill="#000" transform="rotate(-90 12.5 948.5)" textLength="57" lengthAdjust="spacingAndGlyphs">IFN-γ  (pg/ml)</text>
<line x1="53.65" y1="976.05" x2="53.65" y2="978.98" stroke="#9a9a9a" stroke-width="0.9"/>
<line x1="50.35" y1="976.05" x2="56.95" y2="976.05" stroke="#9a9a9a" stroke-width="0.9"/>
<rect x="47.60" y="978.98" width="12.10" height="9.12" fill="#6E6E6E"/>
<line x1="68.45" y1="931.00" x2="68.45" y2="939.00" stroke="#9a9a9a" stroke-width="0.9"/>
<line x1="65.15" y1="931.00" x2="71.75" y2="931.00" stroke="#9a9a9a" stroke-width="0.9"/>
<rect x="62.40" y="939.00" width="12.10" height="11.50" fill="#3A5DA8"/>
<rect x="62.40" y="957.20" width="12.10" height="30.90" fill="#3A5DA8"/>
<line x1="83.25" y1="906.90" x2="83.25" y2="918.60" stroke="#9a9a9a" stroke-width="0.9"/>
<line x1="79.95" y1="906.90" x2="86.55" y2="906.90" stroke="#9a9a9a" stroke-width="0.9"/>
<rect x="77.20" y="918.60" width="12.10" height="31.90" fill="#E04567"/>
<rect x="77.20" y="957.20" width="12.10" height="30.90" fill="#E04567"/>
<line x1="68.45" y1="988.10" x2="68.45" y2="991.10" stroke="#333" stroke-width="1.1"/>
<path d="M53.65 896.00 V888.00 H83.25 V896.00" fill="none" stroke="#444" stroke-width="0.8"/>
<path d="M53.65 973.55 V900.20 H67.35 V928.50" fill="none" stroke="#444" stroke-width="0.8"/>
<path d="M69.55 928.50 V900.20 H83.25 V904.40" fill="none" stroke="#444" stroke-width="0.8"/>
<text x="68.45" y="889.60" font-size="10" font-weight="bold" text-anchor="middle" fill="#111" letter-spacing="-0.5">****</text>
<text x="61.05" y="898.50" font-size="4.9" font-weight="bold" text-anchor="middle" fill="#333">ns</text>
<text x="75.85" y="901.80" font-size="10" font-weight="bold" text-anchor="middle" fill="#111" letter-spacing="-0.5">**</text>
<text x="68.45" y="998.30" font-size="9.2" font-weight="bold" text-anchor="middle" fill="#000">1st</text>
<line x1="110.80" y1="978.52" x2="110.80" y2="980.53" stroke="#9a9a9a" stroke-width="0.9"/>
<line x1="107.50" y1="978.52" x2="114.10" y2="978.52" stroke="#9a9a9a" stroke-width="0.9"/>
<rect x="104.75" y="980.53" width="12.10" height="7.57" fill="#6E6E6E"/>
<line x1="125.60" y1="946.00" x2="125.60" y2="947.21" stroke="#9a9a9a" stroke-width="0.9"/>
<line x1="122.30" y1="946.00" x2="128.90" y2="946.00" stroke="#9a9a9a" stroke-width="0.9"/>
<rect x="119.55" y="947.21" width="12.10" height="3.29" fill="#3A5DA8"/>
<rect x="119.55" y="957.20" width="12.10" height="30.90" fill="#3A5DA8"/>
<line x1="140.40" y1="927.40" x2="140.40" y2="933.80" stroke="#9a9a9a" stroke-width="0.9"/>
<line x1="137.10" y1="927.40" x2="143.70" y2="927.40" stroke="#9a9a9a" stroke-width="0.9"/>
<rect x="134.35" y="933.80" width="12.10" height="16.70" fill="#E04567"/>
<rect x="134.35" y="957.20" width="12.10" height="30.90" fill="#E04567"/>
<line x1="125.60" y1="988.10" x2="125.60" y2="991.10" stroke="#333" stroke-width="1.1"/>
<path d="M110.80 896.00 V888.00 H140.40 V896.00" fill="none" stroke="#444" stroke-width="0.8"/>
<path d="M110.80 976.02 V900.20 H124.50 V943.50" fill="none" stroke="#444" stroke-width="0.8"/>
<path d="M126.70 943.50 V900.20 H140.40 V924.90" fill="none" stroke="#444" stroke-width="0.8"/>
<text x="125.60" y="889.60" font-size="10" font-weight="bold" text-anchor="middle" fill="#111" letter-spacing="-0.5">**</text>
<text x="118.20" y="898.50" font-size="4.9" font-weight="bold" text-anchor="middle" fill="#333">ns</text>
<text x="133.00" y="901.80" font-size="10" font-weight="bold" text-anchor="middle" fill="#111" letter-spacing="-0.5">*</text>
<text x="125.60" y="998.30" font-size="9.2" font-weight="bold" text-anchor="middle" fill="#000">2nd</text>
<line x1="167.95" y1="978.21" x2="167.95" y2="983.00" stroke="#9a9a9a" stroke-width="0.9"/>
<line x1="164.65" y1="978.21" x2="171.25" y2="978.21" stroke="#9a9a9a" stroke-width="0.9"/>
<rect x="161.90" y="983.00" width="12.10" height="5.10" fill="#6E6E6E"/>
<rect x="176.70" y="949.30" width="12.10" height="1.20" fill="#3A5DA8"/>
<rect x="176.70" y="957.20" width="12.10" height="30.90" fill="#3A5DA8"/>
<line x1="197.55" y1="931.00" x2="197.55" y2="939.90" stroke="#9a9a9a" stroke-width="0.9"/>
<line x1="194.25" y1="931.00" x2="200.85" y2="931.00" stroke="#9a9a9a" stroke-width="0.9"/>
<rect x="191.50" y="939.90" width="12.10" height="10.60" fill="#E04567"/>
<rect x="191.50" y="957.20" width="12.10" height="30.90" fill="#E04567"/>
<line x1="182.75" y1="988.10" x2="182.75" y2="991.10" stroke="#333" stroke-width="1.1"/>
<path d="M167.95 896.00 V888.00 H197.55 V896.00" fill="none" stroke="#444" stroke-width="0.8"/>
<path d="M167.95 975.71 V900.20 H181.65 V946.80" fill="none" stroke="#444" stroke-width="0.8"/>
<path d="M183.85 946.80 V900.20 H197.55 V928.50" fill="none" stroke="#444" stroke-width="0.8"/>
<text x="182.75" y="886.30" font-size="4.9" font-weight="bold" text-anchor="middle" fill="#333">ns</text>
<text x="175.35" y="898.50" font-size="4.9" font-weight="bold" text-anchor="middle" fill="#333">ns</text>
<text x="190.15" y="898.50" font-size="4.9" font-weight="bold" text-anchor="middle" fill="#333">ns</text>
<text x="182.75" y="998.30" font-size="9.2" font-weight="bold" text-anchor="middle" fill="#000">3rd</text>
<line x1="242.00" y1="826.40" x2="242.00" y2="868.10" stroke="#333" stroke-width="1.2"/>
<line x1="242.00" y1="781.50" x2="242.00" y2="823.90" stroke="#333" stroke-width="1.2"/>
<line x1="239.50" y1="825.60" x2="243.50" y2="822.40" stroke="#333" stroke-width="0.9"/>
<line x1="239.50" y1="826.90" x2="243.50" y2="823.70" stroke="#333" stroke-width="0.9"/>
<line x1="241.40" y1="867.50" x2="421.00" y2="867.50" stroke="#333" stroke-width="1.3"/>
<line x1="238.80" y1="867.50" x2="242.00" y2="867.50" stroke="#333" stroke-width="1.0"/>
<text x="238.40" y="869.90" font-size="6.3" font-weight="bold" text-anchor="end" fill="#111">0</text>
<line x1="238.80" y1="857.48" x2="242.00" y2="857.48" stroke="#333" stroke-width="1.0"/>
<text x="238.40" y="859.88" font-size="6.3" font-weight="bold" text-anchor="end" fill="#111">5</text>
<line x1="238.80" y1="847.45" x2="242.00" y2="847.45" stroke="#333" stroke-width="1.0"/>
<text x="238.40" y="849.85" font-size="6.3" font-weight="bold" text-anchor="end" fill="#111">10</text>
<line x1="238.80" y1="837.42" x2="242.00" y2="837.42" stroke="#333" stroke-width="1.0"/>
<text x="238.40" y="839.82" font-size="6.3" font-weight="bold" text-anchor="end" fill="#111">15</text>
<line x1="238.80" y1="827.40" x2="242.00" y2="827.40" stroke="#333" stroke-width="1.0"/>
<text x="238.40" y="829.80" font-size="6.3" font-weight="bold" text-anchor="end" fill="#111">20</text>
<line x1="238.80" y1="823.35" x2="242.00" y2="823.35" stroke="#333" stroke-width="1.0"/>
<text x="238.40" y="825.75" font-size="6.3" font-weight="bold" text-anchor="end" fill="#111">50</text>
<line x1="238.80" y1="803.20" x2="242.00" y2="803.20" stroke="#333" stroke-width="1.0"/>
<text x="238.40" y="805.60" font-size="6.3" font-weight="bold" text-anchor="end" fill="#111">100</text>
<line x1="238.80" y1="783.05" x2="242.00" y2="783.05" stroke="#333" stroke-width="1.0"/>
<text x="238.40" y="785.45" font-size="6.3" font-weight="bold" text-anchor="end" fill="#111">150</text>
<text x="228.00" y="827.00" font-size="10.5" font-weight="bold" text-anchor="middle" fill="#000" transform="rotate(-90 228 827)" textLength="61" lengthAdjust="spacingAndGlyphs">TNF-α  (pg/ml)</text>
<line x1="264.35" y1="852.06" x2="264.35" y2="855.27" stroke="#9a9a9a" stroke-width="0.9"/>
<line x1="261.05" y1="852.06" x2="267.65" y2="852.06" stroke="#9a9a9a" stroke-width="0.9"/>
<rect x="258.20" y="855.27" width="12.30" height="12.23" fill="#6E6E6E"/>
<line x1="279.45" y1="805.62" x2="279.45" y2="819.32" stroke="#9a9a9a" stroke-width="0.9"/>
<line x1="276.15" y1="805.62" x2="282.75" y2="805.62" stroke="#9a9a9a" stroke-width="0.9"/>
<rect x="273.30" y="819.32" width="12.30" height="4.58" fill="#3A5DA8"/>
<rect x="273.30" y="827.40" width="12.30" height="40.10" fill="#3A5DA8"/>
<rect x="288.40" y="783.05" width="12.30" height="40.85" fill="#E04567"/>
<rect x="288.40" y="827.40" width="12.30" height="40.10" fill="#E04567"/>
<line x1="279.45" y1="867.50" x2="279.45" y2="870.50" stroke="#333" stroke-width="1.1"/>
<path d="M264.35 771.80 V763.80 H294.55 V771.80" fill="none" stroke="#444" stroke-width="0.8"/>
<path d="M264.35 849.56 V776.70 H278.35 V803.12" fill="none" stroke="#444" stroke-width="0.8"/>
<path d="M280.55 803.12 V776.70 H294.55 V780.55" fill="none" stroke="#444" stroke-width="0.8"/>
<text x="279.45" y="765.40" font-size="10" font-weight="bold" text-anchor="middle" fill="#111" letter-spacing="-0.5">****</text>
<text x="271.90" y="775.00" font-size="4.9" font-weight="bold" text-anchor="middle" fill="#333">ns</text>
<text x="287.00" y="778.30" font-size="10" font-weight="bold" text-anchor="middle" fill="#111" letter-spacing="-0.5">**</text>
<text x="279.45" y="878.90" font-size="9.2" font-weight="bold" text-anchor="middle" fill="#000">1st</text>
<line x1="322.70" y1="853.67" x2="322.70" y2="857.07" stroke="#9a9a9a" stroke-width="0.9"/>
<line x1="319.40" y1="853.67" x2="326.00" y2="853.67" stroke="#9a9a9a" stroke-width="0.9"/>
<rect x="316.55" y="857.07" width="12.30" height="10.43" fill="#6E6E6E"/>
<line x1="337.80" y1="830.21" x2="337.80" y2="839.23" stroke="#9a9a9a" stroke-width="0.9"/>
<line x1="334.50" y1="830.21" x2="341.10" y2="830.21" stroke="#9a9a9a" stroke-width="0.9"/>
<rect x="331.65" y="839.23" width="12.30" height="28.27" fill="#3A5DA8"/>
<line x1="352.90" y1="808.84" x2="352.90" y2="818.11" stroke="#9a9a9a" stroke-width="0.9"/>
<line x1="349.60" y1="808.84" x2="356.20" y2="808.84" stroke="#9a9a9a" stroke-width="0.9"/>
<rect x="346.75" y="818.11" width="12.30" height="5.79" fill="#E04567"/>
<rect x="346.75" y="827.40" width="12.30" height="40.10" fill="#E04567"/>
<line x1="337.80" y1="867.50" x2="337.80" y2="870.50" stroke="#333" stroke-width="1.1"/>
<path d="M322.70 771.80 V763.80 H352.90 V771.80" fill="none" stroke="#444" stroke-width="0.8"/>
<path d="M322.70 851.17 V776.70 H336.70 V827.71" fill="none" stroke="#444" stroke-width="0.8"/>
<path d="M338.90 827.71 V776.70 H352.90 V806.34" fill="none" stroke="#444" stroke-width="0.8"/>
<text x="337.80" y="762.10" font-size="4.9" font-weight="bold" text-anchor="middle" fill="#333">ns</text>
<text x="330.25" y="775.00" font-size="4.9" font-weight="bold" text-anchor="middle" fill="#333">ns</text>
<text x="345.35" y="775.00" font-size="4.9" font-weight="bold" text-anchor="middle" fill="#333">ns</text>
<text x="337.80" y="878.90" font-size="9.2" font-weight="bold" text-anchor="middle" fill="#000">2nd</text>
<line x1="381.05" y1="856.07" x2="381.05" y2="861.89" stroke="#9a9a9a" stroke-width="0.9"/>
<line x1="377.75" y1="856.07" x2="384.35" y2="856.07" stroke="#9a9a9a" stroke-width="0.9"/>
<rect x="374.90" y="861.89" width="12.30" height="5.61" fill="#6E6E6E"/>
<line x1="396.15" y1="831.21" x2="396.15" y2="842.04" stroke="#9a9a9a" stroke-width="0.9"/>
<line x1="392.85" y1="831.21" x2="399.45" y2="831.21" stroke="#9a9a9a" stroke-width="0.9"/>
<rect x="390.00" y="842.04" width="12.30" height="25.46" fill="#3A5DA8"/>
<rect x="405.10" y="827.40" width="12.30" height="40.10" fill="#E04567"/>
<line x1="396.15" y1="867.50" x2="396.15" y2="870.50" stroke="#333" stroke-width="1.1"/>
<path d="M381.05 771.80 V763.80 H411.25 V771.80" fill="none" stroke="#444" stroke-width="0.8"/>
<path d="M381.05 853.57 V776.70 H395.05 V828.71" fill="none" stroke="#444" stroke-width="0.8"/>
<path d="M397.25 828.71 V776.70 H411.25 V824.90" fill="none" stroke="#444" stroke-width="0.8"/>
<text x="396.15" y="762.10" font-size="4.9" font-weight="bold" text-anchor="middle" fill="#333">ns</text>
<text x="388.60" y="775.00" font-size="4.9" font-weight="bold" text-anchor="middle" fill="#333">ns</text>
<text x="403.70" y="775.00" font-size="4.9" font-weight="bold" text-anchor="middle" fill="#333">ns</text>
<text x="396.15" y="878.90" font-size="9.2" font-weight="bold" text-anchor="middle" fill="#000">3rd</text>
<line x1="242.00" y1="904.50" x2="242.00" y2="988.70" stroke="#333" stroke-width="1.2"/>
<line x1="241.40" y1="988.10" x2="421.00" y2="988.10" stroke="#333" stroke-width="1.3"/>
<line x1="238.80" y1="988.10" x2="242.00" y2="988.10" stroke="#333" stroke-width="1.0"/>
<text x="238.40" y="990.50" font-size="6.3" font-weight="bold" text-anchor="end" fill="#111">0</text>
<line x1="238.80" y1="960.47" x2="242.00" y2="960.47" stroke="#333" stroke-width="1.0"/>
<text x="238.40" y="962.87" font-size="6.3" font-weight="bold" text-anchor="end" fill="#111">5</text>
<line x1="238.80" y1="932.83" x2="242.00" y2="932.83" stroke="#333" stroke-width="1.0"/>
<text x="238.40" y="935.23" font-size="6.3" font-weight="bold" text-anchor="end" fill="#111">10</text>
<line x1="238.80" y1="905.20" x2="242.00" y2="905.20" stroke="#333" stroke-width="1.0"/>
<text x="238.40" y="907.60" font-size="6.3" font-weight="bold" text-anchor="end" fill="#111">15</text>
<text x="230.50" y="948.30" font-size="10.5" font-weight="bold" text-anchor="middle" fill="#000" transform="rotate(-90 230.5 948.3)" textLength="52" lengthAdjust="spacingAndGlyphs">IL-6  (pg/ml)</text>
<line x1="264.50" y1="952.17" x2="264.50" y2="955.49" stroke="#9a9a9a" stroke-width="0.9"/>
<line x1="261.20" y1="952.17" x2="267.80" y2="952.17" stroke="#9a9a9a" stroke-width="0.9"/>
<rect x="258.40" y="955.49" width="12.20" height="32.61" fill="#6E6E6E"/>
<line x1="279.40" y1="939.46" x2="279.40" y2="948.86" stroke="#9a9a9a" stroke-width="0.9"/>
<line x1="276.10" y1="939.46" x2="282.70" y2="939.46" stroke="#9a9a9a" stroke-width="0.9"/>
<rect x="273.30" y="948.86" width="12.20" height="39.24" fill="#3A5DA8"/>
<line x1="294.30" y1="919.01" x2="294.30" y2="933.94" stroke="#9a9a9a" stroke-width="0.9"/>
<line x1="291.00" y1="919.01" x2="297.60" y2="919.01" stroke="#9a9a9a" stroke-width="0.9"/>
<rect x="288.20" y="933.94" width="12.20" height="54.16" fill="#E04567"/>
<line x1="279.40" y1="988.10" x2="279.40" y2="991.10" stroke="#333" stroke-width="1.1"/>
<path d="M264.50 908.70 V900.70 H294.30 V908.70" fill="none" stroke="#444" stroke-width="0.8"/>
<path d="M264.50 949.67 V913.30 H278.30 V936.96" fill="none" stroke="#444" stroke-width="0.8"/>
<path d="M280.50 936.96 V913.30 H294.30 V916.51" fill="none" stroke="#444" stroke-width="0.8"/>
<text x="279.40" y="899.00" font-size="4.9" font-weight="bold" text-anchor="middle" fill="#333">ns</text>
<text x="271.95" y="911.60" font-size="4.9" font-weight="bold" text-anchor="middle" fill="#333">ns</text>
<text x="286.85" y="911.60" font-size="4.9" font-weight="bold" text-anchor="middle" fill="#333">ns</text>
<text x="279.40" y="999.30" font-size="9.2" font-weight="bold" text-anchor="middle" fill="#000">1st</text>
<line x1="321.80" y1="951.07" x2="321.80" y2="958.25" stroke="#9a9a9a" stroke-width="0.9"/>
<line x1="318.50" y1="951.07" x2="325.10" y2="951.07" stroke="#9a9a9a" stroke-width="0.9"/>
<rect x="315.70" y="958.25" width="12.20" height="29.85" fill="#6E6E6E"/>
<line x1="336.70" y1="947.75" x2="336.70" y2="958.81" stroke="#9a9a9a" stroke-width="0.9"/>
<line x1="333.40" y1="947.75" x2="340.00" y2="947.75" stroke="#9a9a9a" stroke-width="0.9"/>
<rect x="330.60" y="958.81" width="12.20" height="29.29" fill="#3A5DA8"/>
<line x1="351.60" y1="940.57" x2="351.60" y2="954.94" stroke="#9a9a9a" stroke-width="0.9"/>
<line x1="348.30" y1="940.57" x2="354.90" y2="940.57" stroke="#9a9a9a" stroke-width="0.9"/>
<rect x="345.50" y="954.94" width="12.20" height="33.16" fill="#E04567"/>
<line x1="336.70" y1="988.10" x2="336.70" y2="991.10" stroke="#333" stroke-width="1.1"/>
<path d="M321.80 908.70 V900.70 H351.60 V908.70" fill="none" stroke="#444" stroke-width="0.8"/>
<path d="M321.80 948.57 V913.30 H335.60 V945.25" fill="none" stroke="#444" stroke-width="0.8"/>
<path d="M337.80 945.25 V913.30 H351.60 V938.07" fill="none" stroke="#444" stroke-width="0.8"/>
<text x="336.70" y="899.00" font-size="4.9" font-weight="bold" text-anchor="middle" fill="#333">ns</text>
<text x="329.25" y="911.60" font-size="4.9" font-weight="bold" text-anchor="middle" fill="#333">ns</text>
<text x="344.15" y="911.60" font-size="4.9" font-weight="bold" text-anchor="middle" fill="#333">ns</text>
<text x="336.70" y="999.30" font-size="9.2" font-weight="bold" text-anchor="middle" fill="#000">2nd</text>
<line x1="379.10" y1="958.81" x2="379.10" y2="971.52" stroke="#9a9a9a" stroke-width="0.9"/>
<line x1="375.80" y1="958.81" x2="382.40" y2="958.81" stroke="#9a9a9a" stroke-width="0.9"/>
<rect x="373.00" y="971.52" width="12.20" height="16.58" fill="#6E6E6E"/>
<line x1="394.00" y1="948.86" x2="394.00" y2="959.36" stroke="#9a9a9a" stroke-width="0.9"/>
<line x1="390.70" y1="948.86" x2="397.30" y2="948.86" stroke="#9a9a9a" stroke-width="0.9"/>
<rect x="387.90" y="959.36" width="12.20" height="28.74" fill="#3A5DA8"/>
<line x1="408.90" y1="958.48" x2="408.90" y2="966.82" stroke="#9a9a9a" stroke-width="0.9"/>
<line x1="405.60" y1="958.48" x2="412.20" y2="958.48" stroke="#9a9a9a" stroke-width="0.9"/>
<rect x="402.80" y="966.82" width="12.20" height="21.28" fill="#E04567"/>
<line x1="394.00" y1="988.10" x2="394.00" y2="991.10" stroke="#333" stroke-width="1.1"/>
<path d="M379.10 908.70 V900.70 H408.90 V908.70" fill="none" stroke="#444" stroke-width="0.8"/>
<path d="M379.10 956.31 V913.30 H392.90 V946.36" fill="none" stroke="#444" stroke-width="0.8"/>
<path d="M395.10 946.36 V913.30 H408.90 V955.98" fill="none" stroke="#444" stroke-width="0.8"/>
<text x="394.00" y="899.00" font-size="4.9" font-weight="bold" text-anchor="middle" fill="#333">ns</text>
<text x="386.55" y="911.60" font-size="4.9" font-weight="bold" text-anchor="middle" fill="#333">ns</text>
<text x="401.45" y="911.60" font-size="4.9" font-weight="bold" text-anchor="middle" fill="#333">ns</text>
<text x="394.00" y="999.30" font-size="9.2" font-weight="bold" text-anchor="middle" fill="#000">3rd</text>
<line x1="475.60" y1="727.50" x2="475.60" y2="868.60" stroke="#333" stroke-width="1.5"/>
<line x1="475.00" y1="868.10" x2="681.40" y2="868.10" stroke="#333" stroke-width="1.5"/>
<line x1="471.60" y1="868.00" x2="475.60" y2="868.00" stroke="#333" stroke-width="1.3"/>
<text x="470.60" y="871.20" font-size="9.2" font-weight="bold" text-anchor="end" fill="#111">0</text>
<line x1="471.60" y1="840.40" x2="475.60" y2="840.40" stroke="#333" stroke-width="1.3"/>
<text x="470.60" y="843.60" font-size="9.2" font-weight="bold" text-anchor="end" fill="#111">20</text>
<line x1="471.60" y1="812.80" x2="475.60" y2="812.80" stroke="#333" stroke-width="1.3"/>
<text x="470.60" y="816.00" font-size="9.2" font-weight="bold" text-anchor="end" fill="#111">40</text>
<line x1="471.60" y1="785.20" x2="475.60" y2="785.20" stroke="#333" stroke-width="1.3"/>
<text x="470.60" y="788.40" font-size="9.2" font-weight="bold" text-anchor="end" fill="#111">60</text>
<line x1="471.60" y1="757.60" x2="475.60" y2="757.60" stroke="#333" stroke-width="1.3"/>
<text x="470.60" y="760.80" font-size="9.2" font-weight="bold" text-anchor="end" fill="#111">80</text>
<line x1="471.60" y1="730.00" x2="475.60" y2="730.00" stroke="#333" stroke-width="1.3"/>
<text x="470.60" y="733.20" font-size="9.2" font-weight="bold" text-anchor="end" fill="#111">100</text>
<text x="448.80" y="795.50" font-size="13.2" font-weight="bold" text-anchor="middle" fill="#000" transform="rotate(-90 448.8 795.5)" textLength="146" lengthAdjust="spacingAndGlyphs">residual target cells(%)</text>
<line x1="517.30" y1="868.10" x2="517.30" y2="871.50" stroke="#333" stroke-width="1.3"/>
<text x="517.30" y="882.20" font-size="10" font-weight="bold" text-anchor="middle" fill="#111">1st</text>
<line x1="579.80" y1="868.10" x2="579.80" y2="871.50" stroke="#333" stroke-width="1.3"/>
<text x="579.80" y="882.20" font-size="10" font-weight="bold" text-anchor="middle" fill="#111">2nd</text>
<line x1="642.20" y1="868.10" x2="642.20" y2="871.50" stroke="#333" stroke-width="1.3"/>
<text x="642.20" y="882.20" font-size="10" font-weight="bold" text-anchor="middle" fill="#111">3rd</text>
<polyline points="517.30,862.48 579.80,862.48 642.20,797.34" fill="none" stroke="#E2486B" stroke-width="1.5"/>
<line x1="517.30" y1="854.20" x2="517.30" y2="868.00" stroke="#E8708C" stroke-width="1.1"/>
<line x1="514.10" y1="854.20" x2="520.50" y2="854.20" stroke="#E8708C" stroke-width="1.1"/>
<line x1="579.80" y1="853.23" x2="579.80" y2="868.00" stroke="#E8708C" stroke-width="1.1"/>
<line x1="576.60" y1="853.23" x2="583.00" y2="853.23" stroke="#E8708C" stroke-width="1.1"/>
<line x1="642.20" y1="741.04" x2="642.20" y2="854.20" stroke="#E8708C" stroke-width="1.1"/>
<line x1="639.00" y1="741.04" x2="645.40" y2="741.04" stroke="#E8708C" stroke-width="1.1"/>
<line x1="639.00" y1="854.20" x2="645.40" y2="854.20" stroke="#E8708C" stroke-width="1.1"/>
<circle cx="517.30" cy="862.48" r="2.8" fill="#E2486B"/>
<circle cx="579.80" cy="862.48" r="2.8" fill="#E2486B"/>
<circle cx="642.20" cy="797.34" r="2.8" fill="#E2486B"/>
<polyline points="517.30,843.71 579.80,776.51 642.20,756.63" fill="none" stroke="#2F55A4" stroke-width="1.5"/>
<line x1="517.30" y1="817.77" x2="517.30" y2="868.00" stroke="#5D7DC0" stroke-width="1.1"/>
<line x1="514.10" y1="817.77" x2="520.50" y2="817.77" stroke="#5D7DC0" stroke-width="1.1"/>
<line x1="579.80" y1="732.76" x2="579.80" y2="817.49" stroke="#5D7DC0" stroke-width="1.1"/>
<line x1="576.60" y1="732.76" x2="583.00" y2="732.76" stroke="#5D7DC0" stroke-width="1.1"/>
<line x1="576.60" y1="817.49" x2="583.00" y2="817.49" stroke="#5D7DC0" stroke-width="1.1"/>
<line x1="642.20" y1="738.00" x2="642.20" y2="774.99" stroke="#5D7DC0" stroke-width="1.1"/>
<line x1="639.00" y1="738.00" x2="645.40" y2="738.00" stroke="#5D7DC0" stroke-width="1.1"/>
<line x1="639.00" y1="774.99" x2="645.40" y2="774.99" stroke="#5D7DC0" stroke-width="1.1"/>
<circle cx="517.30" cy="843.71" r="2.8" fill="#2F55A4"/>
<circle cx="579.80" cy="776.51" r="2.8" fill="#2F55A4"/>
<circle cx="642.20" cy="756.63" r="2.8" fill="#2F55A4"/>
<polyline points="517.30,738.83 579.80,737.04 642.20,732.35" fill="none" stroke="#111" stroke-width="1.5"/>
<line x1="517.30" y1="735.52" x2="517.30" y2="742.01" stroke="#222" stroke-width="1.1"/>
<line x1="514.10" y1="735.52" x2="520.50" y2="735.52" stroke="#222" stroke-width="1.1"/>
<line x1="514.10" y1="742.01" x2="520.50" y2="742.01" stroke="#222" stroke-width="1.1"/>
<line x1="579.80" y1="732.76" x2="579.80" y2="742.42" stroke="#222" stroke-width="1.1"/>
<line x1="576.60" y1="732.76" x2="583.00" y2="732.76" stroke="#222" stroke-width="1.1"/>
<line x1="576.60" y1="742.42" x2="583.00" y2="742.42" stroke="#222" stroke-width="1.1"/>
<circle cx="517.30" cy="738.83" r="2.8" fill="#111"/>
<circle cx="579.80" cy="737.04" r="2.8" fill="#111"/>
<circle cx="642.20" cy="732.35" r="2.8" fill="#111"/>
<text x="517.30" y="715.20" font-size="14" font-weight="bold" text-anchor="middle" fill="#2B4D9E">***</text>
<text x="517.30" y="725.50" font-size="14" font-weight="bold" text-anchor="middle" fill="#E2486B">****</text>
<line x1="508.80" y1="723.30" x2="525.80" y2="723.30" stroke="#111" stroke-width="2.2"/>
<text x="579.80" y="710.50" font-size="9.5" font-weight="bold" text-anchor="middle" fill="#2B4D9E">ns</text>
<text x="579.80" y="725.50" font-size="14" font-weight="bold" text-anchor="middle" fill="#E2486B">****</text>
<line x1="571.30" y1="723.30" x2="588.30" y2="723.30" stroke="#111" stroke-width="2.2"/>
<text x="642.20" y="710.50" font-size="9.5" font-weight="bold" text-anchor="middle" fill="#2B4D9E">ns</text>
<text x="642.20" y="725.50" font-size="14" font-weight="bold" text-anchor="middle" fill="#E2486B">**</text>
<line x1="633.70" y1="723.30" x2="650.70" y2="723.30" stroke="#111" stroke-width="2.2"/>
<text x="503.00" y="833.60" font-size="9.5" font-weight="bold" text-anchor="middle" fill="#E2486B">ns</text>
<line x1="494.50" y1="836.60" x2="511.50" y2="836.60" stroke="#E2486B" stroke-width="2.2"/>
<text x="564.30" y="776.20" font-size="14" font-weight="bold" text-anchor="middle" fill="#E2486B">**</text>
<line x1="555.80" y1="773.00" x2="572.80" y2="773.00" stroke="#E2486B" stroke-width="2.2"/>
<text x="629.50" y="749.50" font-size="9.5" font-weight="bold" text-anchor="middle" fill="#E2486B">ns</text>
<line x1="621.00" y1="752.50" x2="638.00" y2="752.50" stroke="#E2486B" stroke-width="2.2"/>
<line x1="601.30" y1="904.90" x2="610.30" y2="904.90" stroke="#111" stroke-width="1.3"/>
<circle cx="605.8" cy="904.9" r="2.6" fill="#111"/>
<text x="614.20" y="908.00" font-size="8.3" text-anchor="start" fill="#111" textLength="60.3" lengthAdjust="spacingAndGlyphs">4-1BB Vector-T</text>
<line x1="601.30" y1="918.20" x2="610.30" y2="918.20" stroke="#2F55A4" stroke-width="1.3"/>
<circle cx="605.8" cy="918.1999999999999" r="2.6" fill="#2F55A4"/>
<text x="614.20" y="921.30" font-size="8.3" text-anchor="start" fill="#111" textLength="52.5" lengthAdjust="spacingAndGlyphs">IL10R CAR-T</text>
<line x1="601.30" y1="931.50" x2="610.30" y2="931.50" stroke="#E2486B" stroke-width="1.3"/>
<circle cx="605.8" cy="931.5" r="2.6" fill="#E2486B"/>
<text x="614.20" y="934.60" font-size="8.3" text-anchor="start" fill="#111" textLength="48.5" lengthAdjust="spacingAndGlyphs">CAR.BsAb-T</text>
<rect x="445.80" y="946.50" width="7.00" height="7.00" fill="#6E6E6E"/>
<text x="457.00" y="952.80" font-size="8.3" text-anchor="start" fill="#222">4-1BB Vector-T</text>
<rect x="445.80" y="960.90" width="7.00" height="7.00" fill="#3A5DA8"/>
<text x="457.00" y="967.20" font-size="8.3" text-anchor="start" fill="#222">IL10R CAR-T</text>
<rect x="445.80" y="975.30" width="7.00" height="7.00" fill="#E04567"/>
<text x="457.00" y="981.60" font-size="8.3" text-anchor="start" fill="#222">CAR.BsAb-T</text>
<path d="M104.7 49.6 L98.8 93.4" fill="none" stroke="#333" stroke-width="1.0" stroke-dasharray="1.6 1.6"/>
<path d="M148.5 108.6 L98.8 114.5" fill="none" stroke="#333" stroke-width="1.0" stroke-dasharray="1.6 1.6"/>
<path d="M55.7 115 V133.7 A24 8.2 0 0 0 103.7 133.7 V115" fill="#F7F9FA" stroke="#8FA9AE" stroke-width="0.8"/>
<path d="M56.2 122.5 V133.7 A23.5 7.8 0 0 0 103.2 133.7 V122.5 A23.5 7 0 0 0 56.2 122.5 Z" fill="#EE9CC5"/>
<ellipse cx="79.7" cy="122.5" rx="23.5" ry="7" fill="#F2A9CE"/>
<ellipse cx="79.7" cy="133.5" rx="22.5" ry="6.5" fill="#F0B0D2" opacity="0.7"/>
<ellipse cx="79.7" cy="115" rx="24" ry="8.6" fill="none" stroke="#B5D8DF" stroke-width="2"/>
<ellipse cx="79.7" cy="115" rx="24" ry="8.6" fill="none" stroke="#7FA3AA" stroke-width="0.5"/>
<path d="M51.5 92 Q51 86 58 85.5 L62 85 Q79 80 98 85 L102 85.5 Q108 86 107.5 92 L107.5 96 Q107 100 100 100 L96 101 Q79 108 62 101 L58 100 Q52 100 51.5 96 Z" fill="#E9E9E9" stroke="#7A7A7A" stroke-width="0.8"/>
<path d="M59.2 102.5 Q60 116 79.1 117.4 Q98 116 99 102.5 Z" fill="#C95478"/>
<ellipse cx="79.1" cy="100" rx="20.5" ry="10.5" fill="#F2F2F2" stroke="#8A8A8A" stroke-width="0.7"/>
<ellipse cx="79.1" cy="102" rx="19.5" ry="8.8" fill="#D9698C"/>
<ellipse cx="79.1" cy="104" rx="16" ry="6.5" fill="none" stroke="#C24F72" stroke-width="0.5"/>
<path d="M53 90 H57.5 M53 94 H57.5 M101.5 90 H106 M101.5 94 H106" fill="none" stroke="#888" stroke-width="0.6"/>
<circle cx="156.2" cy="58.8" r="50.3" fill="#FDEEF0" stroke="#1E1E1E" stroke-width="1.1"/>
<path d="M122.6 27 V88 Q122.6 92 127 92 H186.5 Q190.8 92 190.8 88 V27" fill="#F6F3F6"/>
<path d="M124.8 43.8 H188.6 V87 Q188.6 89.8 185.6 89.8 H128 Q124.8 89.8 124.8 87 Z" fill="#F9C6D8"/>
<path d="M122.6 27 V88 Q122.6 92.4 127 92.4 H186.5 Q190.8 92.4 190.8 88 V27" fill="none" stroke="#CBE4DE" stroke-width="3.6"/>
<path d="M120.6 27 V88.5 Q120.6 94.4 127 94.4 H186.5 Q192.8 94.4 192.8 88.5 V27 M124.6 27 V87.5 Q124.6 90.4 127.5 90.4 H186 Q188.8 90.4 188.8 87.5 V27" fill="none" stroke="#86B3AA" stroke-width="0.6"/>
<path d="M134.4 28 V43.8 H178.6 V28 Z" fill="#F1EEF3"/>
<path d="M134.4 43.8 H178.6 V75 Q178.6 77.6 176 77.6 H137 Q134.4 77.6 134.4 75 Z" fill="#DFA3B8"/>
<path d="M133 28 V75.5 Q133 79 136.5 79 H176.5 Q180 79 180 75.5 V28" fill="none" stroke="#CBE4DE" stroke-width="3.2"/>
<path d="M131.2 28 V76 Q131.2 80.8 136 80.8 H177 Q181.8 80.8 181.8 76 V28 M134.8 28 V75 Q134.8 77.2 137 77.2 H176 Q178.2 77.2 178.2 75 V28" fill="none" stroke="#86B3AA" stroke-width="0.6"/>
<path d="M119.5 26.5 H135.5 M177.5 26.5 H193.5" fill="none" stroke="#CBE4DE" stroke-width="2.2"/>
<path d="M119.5 25.3 H135.5 M177.5 25.3 H193.5 M119.5 27.7 H131.2 M181.8 27.7 H193.5" fill="none" stroke="#8DB8AF" stroke-width="0.4"/>
<path d="M137.5 78.6 v1.6 M139.8 78.6 v1.6 M142.2 78.6 v1.6 M144.6 78.6 v1.6 M146.9 78.6 v1.6 M149.2 78.6 v1.6 M151.6 78.6 v1.6 M153.9 78.6 v1.6 M156.3 78.6 v1.6 M158.7 78.6 v1.6 M161.0 78.6 v1.6 M163.3 78.6 v1.6 M165.7 78.6 v1.6 M168.1 78.6 v1.6 M170.4 78.6 v1.6 M172.8 78.6 v1.6 M175.1 78.6 v1.6 M177.4 78.6 v1.6" fill="none" stroke="#8DB8AF" stroke-width="0.7"/>
<line x1="163.90" y1="52.90" x2="213.78" y2="37.11" stroke="#1E1E1E" stroke-width="1.0"/>
<path d="M219.50 35.30 L214.56 39.59 L213.00 34.63 Z" fill="#1E1E1E"/>
<line x1="169.30" y1="85.00" x2="213.50" y2="85.00" stroke="#1E1E1E" stroke-width="1.0"/>
<path d="M219.50 85.00 L213.50 87.60 L213.50 82.40 Z" fill="#1E1E1E"/>
<text x="210.20" y="30.20" font-size="8.3" font-weight="bold" text-anchor="start" fill="#111">Effector Cells:</text>
<text x="210.20" y="78.80" font-size="8.3" font-weight="bold" text-anchor="start" fill="#111">Observed Cells:</text>
<text x="275.20" y="20.80" font-size="8.3" text-anchor="start" fill="#111">4-1BB Vector-T;</text>
<text x="275.20" y="30.10" font-size="8.3" text-anchor="start" fill="#111">IL10R CAR-T;</text>
<text x="275.20" y="39.40" font-size="8.3" text-anchor="start" fill="#111">CAR.BsAb-T;</text>
<text x="275.20" y="69.40" font-size="8.3" text-anchor="start" fill="#111">Primary T;</text>
<text x="275.20" y="87.70" font-size="8.3" text-anchor="start" fill="#111">UTD T&#160; &amp; Target cells</text>
<path d="M461.6 84.1 L497.7 83.8 L504.7 81.8 L509.4 78.3 L511.8 72.4 L514.1 60.7 L516.4 39.7 L518.8 21.0 L521.1 15.9 L523.4 23.4 L525.8 44.4 L528.1 60.7 L531.6 74.7 L535.1 79.4 L539.8 81.8 L546.8 82.9 L551.5 82.2 L560.8 83.6 L575.0 84.1 Z" fill="#E9E9E9"/>
<path d="M462.0 121.5 L465.0 121.3 L476.7 119.1 L486.0 114.5 L491.9 107.5 L495.4 93.4 L497.7 77.1 L500.1 60.7 L502.4 54.2 L504.7 57.2 L507.1 67.7 L509.4 86.4 L511.8 95.8 L513.6 97.6 L515.3 91.1 L517.6 70.1 L519.9 53.3 L522.3 60.7 L524.6 79.4 L528.1 100.4 L532.8 115.6 L539.8 118.0 L546.8 120.3 L553.8 119.6 L560.8 121.5 L575.0 121.5 Z" fill="#F1E2F1"/>
<path d="M461.6 84.1 L497.7 83.8 L504.7 81.8 L509.4 78.3 L511.8 72.4 L514.1 60.7 L516.4 39.7 L518.8 21.0 L521.1 15.9 L523.4 23.4 L525.8 44.4 L528.1 60.7 L531.6 74.7 L535.1 79.4 L539.8 81.8 L546.8 82.9 L551.5 82.2 L560.8 83.6 L575.0 84.1" fill="none" stroke="#5A5A5A" stroke-width="0.75"/>
<path d="M462.0 121.5 L465.0 121.3 L476.7 119.1 L486.0 114.5 L491.9 107.5 L495.4 93.4 L497.7 77.1 L500.1 60.7 L502.4 54.2 L504.7 57.2 L507.1 67.7 L509.4 86.4 L511.8 95.8 L513.6 97.6 L515.3 91.1 L517.6 70.1 L519.9 53.3 L522.3 60.7 L524.6 79.4 L528.1 100.4 L532.8 115.6 L539.8 118.0 L546.8 120.3 L553.8 119.6 L560.8 121.5 L575.0 121.5" fill="none" stroke="#A23BA6" stroke-width="1.0"/>
<rect x="461.1" y="8.2" width="114.2" height="113.3" fill="none" stroke="#555" stroke-width="0.8"/>
<line x1="459.10" y1="121.50" x2="461.10" y2="121.50" stroke="#555" stroke-width="0.6"/>
<text x="457.20" y="121.50" font-size="4.2" text-anchor="middle" fill="#333" transform="rotate(-90 457.2 121.5)">0</text>
<line x1="459.10" y1="100.90" x2="461.10" y2="100.90" stroke="#555" stroke-width="0.6"/>
<text x="457.20" y="100.90" font-size="4.2" text-anchor="middle" fill="#333" transform="rotate(-90 457.2 100.9)">20</text>
<line x1="459.10" y1="80.30" x2="461.10" y2="80.30" stroke="#555" stroke-width="0.6"/>
<text x="457.20" y="80.30" font-size="4.2" text-anchor="middle" fill="#333" transform="rotate(-90 457.2 80.3)">40</text>
<line x1="459.10" y1="59.70" x2="461.10" y2="59.70" stroke="#555" stroke-width="0.6"/>
<text x="457.20" y="59.70" font-size="4.2" text-anchor="middle" fill="#333" transform="rotate(-90 457.2 59.7)">60</text>
<line x1="459.10" y1="39.10" x2="461.10" y2="39.10" stroke="#555" stroke-width="0.6"/>
<text x="457.20" y="39.10" font-size="4.2" text-anchor="middle" fill="#333" transform="rotate(-90 457.2 39.099999999999994)">80</text>
<line x1="459.10" y1="18.50" x2="461.10" y2="18.50" stroke="#555" stroke-width="0.6"/>
<text x="457.20" y="18.50" font-size="4.2" text-anchor="middle" fill="#333" transform="rotate(-90 457.2 18.5)">100</text>
<line x1="459.10" y1="8.20" x2="461.10" y2="8.20" stroke="#555" stroke-width="0.6"/>
<text x="457.20" y="8.20" font-size="4.2" text-anchor="middle" fill="#333" transform="rotate(-90 457.2 8.200000000000003)">110</text>
<line x1="461.10" y1="121.50" x2="461.10" y2="123.50" stroke="#555" stroke-width="0.6"/>
<text x="461.10" y="128.20" font-size="4.4" text-anchor="middle" fill="#333">10<tspan dy="-1.5" font-size="3.2">1</tspan></text>
<line x1="483.94" y1="121.50" x2="483.94" y2="123.50" stroke="#555" stroke-width="0.6"/>
<text x="483.94" y="128.20" font-size="4.4" text-anchor="middle" fill="#333">10<tspan dy="-1.5" font-size="3.2">2</tspan></text>
<line x1="506.78" y1="121.50" x2="506.78" y2="123.50" stroke="#555" stroke-width="0.6"/>
<text x="506.78" y="128.20" font-size="4.4" text-anchor="middle" fill="#333">10<tspan dy="-1.5" font-size="3.2">3</tspan></text>
<line x1="529.62" y1="121.50" x2="529.62" y2="123.50" stroke="#555" stroke-width="0.6"/>
<text x="529.62" y="128.20" font-size="4.4" text-anchor="middle" fill="#333">10<tspan dy="-1.5" font-size="3.2">4</tspan></text>
<line x1="552.46" y1="121.50" x2="552.46" y2="123.50" stroke="#555" stroke-width="0.6"/>
<text x="552.46" y="128.20" font-size="4.4" text-anchor="middle" fill="#333">10<tspan dy="-1.5" font-size="3.2">5</tspan></text>
<line x1="575.30" y1="121.50" x2="575.30" y2="123.50" stroke="#555" stroke-width="0.6"/>
<text x="575.30" y="128.20" font-size="4.4" text-anchor="middle" fill="#333">10<tspan dy="-1.5" font-size="3.2">6</tspan></text>
<text x="451.00" y="65.40" font-size="4.4" text-anchor="middle" fill="#333" transform="rotate(-90 451 65.4)">Count (%)</text>
<text x="518.80" y="134.50" font-size="3.6" text-anchor="middle" fill="#444">APC :: T(CD3)-H</text>
<text x="512.80" y="5.20" font-size="4" text-anchor="middle" fill="#000"><tspan fill="#E03030">P4</tspan><tspan fill="#555"> / </tspan><tspan fill="#30A030">E2</tspan></text>
<text x="444.50" y="64.30" font-size="11" text-anchor="middle" fill="#111" transform="rotate(-90 444.5 64.3)" textLength="33" lengthAdjust="spacingAndGlyphs">COUNT</text>
<line x1="440.60" y1="143.20" x2="440.60" y2="88.80" stroke="#1E1E1E" stroke-width="1.0"/>
<path d="M440.60 83.80 L442.90 88.80 L438.30 88.80 Z" fill="#1E1E1E"/>
<line x1="440.10" y1="143.20" x2="441.00" y2="143.20" stroke="#1E1E1E" stroke-width="1"/>
<line x1="440.10" y1="143.20" x2="495.50" y2="143.20" stroke="#1E1E1E" stroke-width="1.0"/>
<path d="M500.50 143.20 L495.50 145.50 L495.50 140.90 Z" fill="#1E1E1E"/>
<text x="504.70" y="146.10" font-size="9.3" text-anchor="start" fill="#111" textLength="47.3" lengthAdjust="spacingAndGlyphs">APC: CFSE</text>
<rect x="586.80" y="123.60" width="16.80" height="5.20" fill="#EAEAEA" stroke="#666" stroke-width="0.8"/>
<rect x="586.80" y="134.50" width="16.80" height="5.20" fill="#F1E2F1" stroke="#A23BA6" stroke-width="0.9"/>
<text x="610.30" y="129.10" font-size="8.2" text-anchor="start" fill="#111">4-1BB Vector-T</text>
<text x="610.30" y="140.10" font-size="8.2" text-anchor="start" fill="#111">CAR.BsAb-T</text>
<text x="86.60" y="462.30" font-size="10" text-anchor="middle" fill="#111">4-1BB Vector-T</text>
<path d="M55.5 490.5h1v1h-1m-4 27h1v1h-1m20-25.5h1v1h-1m-15-10.5h1v1h-1m-5.5 13h1v1h-1m-2.5 17h1v1h-1m27.5-26.5h1v1h-1m-5 22.5h1v1h-1m-24.5-17.5h1v1h-1m26-10h1v1h-1m4.5 13.5h1v1h-1m-21.5-11.5h1v1h-1m-10 20h1v1h-1m3-15h1v1h-1m14.5 21h1v1h-1m-10-27.5h1v1h-1m-6.5 15h1v1h-1m0-7.5h1v1h-1m15-15h1v1h-1m-11 4h1v1h-1m24 0.5h1v1h-1m-19 27.5h1v1h-1m14.5-6.5h1v1h-1m0-33h1v1h-1m-23.5 21.5h1v1h-1m15 11h1v1h-1m6-5h1v1h-1m-17-22.5h1v1h-1m10.5-13.5h1v1h-1m-9.5 39.5h1v1h-1m1.5 0h1v1h-1m10-36.5h1v1h-1m-10 3.5h1v1h-1m13-10.5h1v1h-1m6 4h1v1h-1m-16 33.5h1v1h-1m-1-3h1v1h-1m-4.5-6h1v1h-1m0 3.5h1v1h-1m-5-7h1v1h-1m10.5-26h1v1h-1m0.5 31h1v1h-1m22.5-27h1v1h-1m-32.5 15.5h1v1h-1m8 8.5h1v1h-1m4.5-35h1v1h-1m-9.5 32.5h1v1h-1m9.5-35.5h1v1h-1m-3.5 38h1v1h-1m16-28h1v1h-1m-4.5-21.5h1v1h-1m-8.5 43.5h1v1h-1m-11.5-10h1v1h-1m18-26h1v1h-1m8.5 14.5h1v1h-1m-27.5 16h1v1h-1m30.5-28.5h1v1h-1m-35 19.5h1v1h-1m8-11.5h1v1h-1m21.5-12h1v1h-1m-22.5 26.5h1v1h-1m29.5-31.5h1v1h-1m-7.5 18.5h1v1h-1m-13.5-21h1v1h-1m-8.5 8h1v1h-1m22.5-11.5h1v1h-1m4.5 13.5h1v1h-1m-12-15h1v1h-1m14 0h1v1h-1m-20 36.5h1v1h-1m-11.5-27h1v1h-1m22.5-13h1v1h-1m-20.5 10.5h1v1h-1m12.5 21h1v1h-1m-0.5-34.5h1v1h-1m-7 4h1v1h-1m14 29h1v1h-1m-11-40h1v1h-1m-7 13.5h1v1h-1m13.5 20.5h1v1h-1m-9-0.5h1v1h-1m12-35.5h1v1h-1m-11 33.5h1v1h-1m4.5-38h1v1h-1m-10 18.5h1v1h-1m16 14h1v1h-1m8.5-20.5h1v1h-1m-5.5-16h1v1h-1m-16 37h1v1h-1m-4-10.5h1v1h-1m18 6.5h1v1h-1m-3-32.5h1v1h-1m-3.5-2.5h1v1h-1m-14.5 12.5h1v1h-1m0.5 9h1v1h-1m19 12h1v1h-1m-10 0h1v1h-1m17-15h1v1h-1m-11.5 8.5h1v1h-1m-1-32.5h1v1h-1m-11.5 17h1v1h-1m13-20.5h1v1h-1m-15 32.5h1v1h-1m4-6.5h1v1h-1m-3.5-17.5h1v1h-1m21.5-11h1v1h-1m-10.5-1.5h1v1h-1m-4 2h1v1h-1m11.5 29.5h1v1h-1m-18-18h1v1h-1m5.5 18.5h1v1h-1m17.5-8h1v1h-1m-15.5-26.5h1v1h-1m6.5-5h1v1h-1m-8 5h1v1h-1m20.5 20.5h1v1h-1m-1.5-27h1v1h-1m-20 5.5h1v1h-1m-6 8.5h1v1h-1m19 15h1v1h-1m-8-35h1v1h-1m20.5 17h1v1h-1m-5-7.5h1v1h-1m-15-15.5h1v1h-1m9.5 2h1v1h-1m-11 34.5h1v1h-1m15.5-28h1v1h-1m-5.5 21.5h1v1h-1m-16-1.5h1v1h-1m16 3.5h1v1h-1m-23-5h1v1h-1m29-10.5h1v1h-1m-17 9h1v1h-1m-0.5-26.5h1v1h-1m17-3h1v1h-1m-25 20h1v1h-1m-3-5h1v1h-1m26-18.5h1v1h-1m4 12.5h1v1h-1m-4.5-13.5h1v1h-1m-18.5 3.5h1v1h-1m-1.5 28h1v1h-1m-2.5-26h1v1h-1m0.5 7h1v1h-1m-2.5-17.5h1v1h-1m2.5 24h1v1h-1m6-23.5h1v1h-1m21.5-8.5h1v1h-1m-31.5 32.5h1v1h-1m1.5-28h1v1h-1m1.5 2h1v1h-1m8.5-10.5h1v1h-1m17 38h1v1h-1m4.5-6.5h1v1h-1m-28.5-38h1v1h-1m0.5 23h1v1h-1m33-7h1v1h-1m-35.5 23.5h1v1h-1m4.5-46h1v1h-1m-10.5 16.5h1v1h-1m7 26h1v1h-1m-1.5-24.5h1v1h-1m23 22h1v1h-1m-4.5-2.5h1v1h-1m-21-17h1v1h-1m5 9h1v1h-1m-9.5 2h1v1h-1m19 14h1v1h-1m17.5-36.5h1v1h-1m-22.5 24h1v1h-1m-4.5-12.5h1v1h-1m14 14.5h1v1h-1m-11.5-11h1v1h-1m17-1.5h1v1h-1m-0.5 3h1v1h-1m12-24.5h1v1h-1m2-5.5h1v1h-1m-7 18h1v1h-1m-26.5-4h1v1h-1m23 16.5h1v1h-1m-3-42.5h1v1h-1m5.5 7.5h1v1h-1m-26 12h1v1h-1m29-18h1v1h-1m-2 3.5h1v1h-1m-5 27h1v1h-1m-11.5 8h1v1h-1m12.5-50h1v1h-1m7 18h1v1h-1m-8-20.5h1v1h-1m4 32.5h1v1h-1m-8.5-34h1v1h-1m11 22.5h1v1h-1m-11-20.5h1v1h-1m-16.5 38h1v1h-1m17-7.5h1v1h-1m-18 0h1v1h-1m3-27.5h1v1h-1m13 27.5h1v1h-1m8.5-40h1v1h-1m-11.5 39.5h1v1h-1m17-15.5h1v1h-1m-6 8.5h1v1h-1m3-12.5h1v1h-1m2-7.5h1v1h-1m-21.5-22h1v1h-1m21.5 33h1v1h-1m-14.5 7h1v1h-1m20-36h1v1h-1m-18.5 37.5h1v1h-1m12.5-36h1v1h-1m-25 21.5h1v1h-1m-6 3h1v1h-1m8.5-24h1v1h-1m21-4.5h1v1h-1m11.5 4h1v1h-1m-49.5 11.5h1v1h-1m42.5-20h1v1h-1m-25.5 31h1v1h-1m7.5-39h1v1h-1m22.5 23.5h1v1h-1m3.5-21.5h1v1h-1m-11 17.5h1v1h-1m-13.5-18h1v1h-1m-8.5 29h1v1h-1m-9 2h1v1h-1m25.5-4.5h1v1h-1m-20-6h1v1h-1m24-15.5h1v1h-1m-4 25.5h1v1h-1m-19.5-24h1v1h-1m7.5 18h1v1h-1m-15.5-14.5h1v1h-1m8-14h1v1h-1m26 13.5h1v1h-1m-6 13h1v1h-1m4-18.5h1v1h-1m-1 4.5h1v1h-1m2-14h1v1h-1m-1.5-2h1v1h-1m8 1h1v1h-1m-19 24.5h1v1h-1m-15.5-7h1v1h-1m14.5-37h1v1h-1m8.5-7.5h1v1h-1m-21.5 16h1v1h-1m22 34h1v1h-1m2-35h1v1h-1m-3.5 28h1v1h-1m-8-3.5h1v1h-1m-9-0.5h1v1h-1m21-24.5h1v1h-1m-10.5-15.5h1v1h-1m-19 14h1v1h-1m17.5 28h1v1h-1m13.5-31.5h1v1h-1m-18 33.5h1v1h-1m-7.5-28h1v1h-1m24 5h1v1h-1m-40-6.5h1v1h-1m22 12.5h1v1h-1m0 1h1v1h-1m-13.5-29h1v1h-1m8.5-0.5h1v1h-1m27.5 1h1v1h-1m-20-6h1v1h-1m17.5-6.5h1v1h-1m1.5 18h1v1h-1m-27 18h1v1h-1m-11.5 9h1v1h-1m41-20.5h1v1h-1m-4.5-12h1v1h-1m-30-23h1v1h-1m1.5 37h1v1h-1m-4.5-9h1v1h-1m11-25h1v1h-1m17.5-12.5h1v1h-1m6.5 10h1v1h-1m-1.5 10.5h1v1h-1m-26.5 22.5h1v1h-1m23.5-7h1v1h-1m2.5-13h1v1h-1m-19.5-14.5h1v1h-1m-3.5 5h1v1h-1m13.5-11h1v1h-1m11.5-11h1v1h-1m-34.5 18h1v1h-1m5.5 8.5h1v1h-1m22-26h1v1h-1m3 28.5h1v1h-1m-28 16h1v1h-1m24-4.5h1v1h-1m2.5-6h1v1h-1m-29-3.5h1v1h-1m-2.5-1.5h1v1h-1m36-10.5h1v1h-1m-7-16h1v1h-1m-29 48.5h1v1h-1m19-18h1v1h-1m5.5 6h1v1h-1m5.5-46h1v1h-1m-27.5 16.5h1v1h-1m21 21h1v1h-1m-13.5-36h1v1h-1m8 42h1v1h-1m-11.5-14.5h1v1h-1m45-35h1v1h-1m-18.5 48h1v1h-1m8-19.5h1v1h-1m-16 9h1v1h-1m-22-1h1v1h-1m24-44.5h1v1h-1m-11 45.5h1v1h-1m31.5-8h1v1h-1m-41 4h1v1h-1m15.5-2.5h1v1h-1m3-0.5h1v1h-1m-9 12.5h1v1h-1m21.5-42h1v1h-1m-14.5-9.5h1v1h-1m1-18h1v1h-1m13 24h1v1h-1m-41.5 16h1v1h-1m17-31h1v1h-1m3.5 37.5h1v1h-1m21-31h1v1h-1m-35 38h1v1h-1m34.5-20.5h1v1h-1m-4-15.5h1v1h-1m-27-21.5h1v1h-1m11.5 45.5h1v1h-1m1-1.5h1v1h-1m-7 7.5h1v1h-1m-4-28h1v1h-1m27-2h1v1h-1m-11.5 24h1v1h-1m-14.5-23.5h1v1h-1m31-19.5h1v1h-1m-35 28.5h1v1h-1m1-14.5h1v1h-1m15 18h1v1h-1m-3-39h1v1h-1m14 6.5h1v1h-1m6 15h1v1h-1m-28.5 6.5h1v1h-1m30-17h1v1h-1m-5.5 13h1v1h-1m-31-10.5h1v1h-1m4-6h1v1h-1m15-13h1v1h-1m10-1h1v1h-1m2 34h1v1h-1m-0.5-6h1v1h-1m0-0.5h1v1h-1m6-6.5h1v1h-1m-26.5 4h1v1h-1m36-0.5h1v1h-1m-14.5-21h1v1h-1m5-4h1v1h-1m-4 7.5h1v1h-1m-22.5 22.5h1v1h-1m0-4.5h1v1h-1m19.5-31h1v1h-1m-32.5 13h1v1h-1m3 0.5h1v1h-1m32.5-6.5h1v1h-1m-13-15.5h1v1h-1m15.5-9.5h1v1h-1m-29.5 30h1v1h-1m4.5 19.5h1v1h-1m20.5-15h1v1h-1m4 0h1v1h-1m4.5-41.5h1v1h-1m-32.5 35.5h1v1h-1m10 6h1v1h-1m36.5-24.5h1v1h-1m-21 6h1v1h-1m-30.5-3.5h1v1h-1m7 26.5h1v1h-1m-1-49.5h1v1h-1m-8 43h1v1h-1m13.5-0.5h1v1h-1m7 0.5h1v1h-1m-12.5-34h1v1h-1m22 18h1v1h-1m-2.5 5.5h1v1h-1m-3 0h1v1h-1m-2.5 12.5h1v1h-1m-17-12.5h1v1h-1m26-24.5h1v1h-1m-18 30h1v1h-1m-11-32h1v1h-1m39 16.5h1v1h-1m-37-15.5h1v1h-1m7-9h1v1h-1m4.5 31h1v1h-1m-3.5-37.5h1v1h-1m3 31.5h1v1h-1m0-33h1v1h-1m-1 34.5h1v1h-1m-15.5 3h1v1h-1m38-19h1v1h-1m-3-30.5h1v1h-1m-7 6.5h1v1h-1m-8 32.5h1v1h-1m17-32h1v1h-1m-7 27.5h1v1h-1m6.5-14.5h1v1h-1m4.5-22.5h1v1h-1m-3 13h1v1h-1m-1.5-10h1v1h-1m-0.5-1h1v1h-1m-2 15h1v1h-1m5 0h1v1h-1m-25.5 20h1v1h-1m-11.5-29.5h1v1h-1m20.5-14h1v1h-1m-17.5 26.5h1v1h-1m27-25.5h1v1h-1m8.5 13h1v1h-1m-21.5-21h1v1h-1m-8.5 32h1v1h-1m26-27h1v1h-1m-4.5 18h1v1h-1m-27 9h1v1h-1m15-36h1v1h-1m7.5 36h1v1h-1m8.5-5.5h1v1h-1m-20 13h1v1h-1m-2.5-47.5h1v1h-1m9 49h1v1h-1m-18.5-29.5h1v1h-1m29-9.5h1v1h-1m-32.5 20.5h1v1h-1m36-21.5h1v1h-1m-6 17.5h1v1h-1m-33.5-10h1v1h-1m11.5 6.5h1v1h-1m1-18.5h1v1h-1m-12.5 25h1v1h-1m38-6h1v1h-1m-29.5-13.5h1v1h-1m32-10h1v1h-1m5 6.5h1v1h-1m-17.5 14.5h1v1h-1m-19-8h1v1h-1m29.5-6.5h1v1h-1m-3-18.5h1v1h-1m-35 28.5h1v1h-1m27.5-34h1v1h-1m-14 2h1v1h-1m14 28h1v1h-1m21.5-12.5h1v1h-1m-28 23.5h1v1h-1m-15-26.5h1v1h-1m14-21h1v1h-1m-5.5 7h1v1h-1m-10 25h1v1h-1m30.5-27.5h1v1h-1m-31.5 28h1v1h-1m29-8.5h1v1h-1m-1-28.5h1v1h-1m-25 22.5h1v1h-1m12.5-36.5h1v1h-1m1.5 11.5h1v1h-1m20.5 14h1v1h-1m-17.5 25.5h1v1h-1m0-51h1v1h-1m-16.5 18h1v1h-1m7 27h1v1h-1m22.5-43h1v1h-1m-9.5 36.5h1v1h-1m18.5-27.5h1v1h-1m-14-13.5h1v1h-1m-11-2.5h1v1h-1m8.5 39.5h1v1h-1m-2.5-35h1v1h-1m-10.5-2h1v1h-1m8-15.5h1v1h-1m13 36.5h1v1h-1m-25-19h1v1h-1m26.5 23.5h1v1h-1m-24.5-1.5h1v1h-1m6 9.5h1v1h-1m1 1h1v1h-1m17.5-15h1v1h-1m-4.5-4h1v1h-1m-14.5-25h1v1h-1m-1 41h1v1h-1m22.5-20h1v1h-1m-31.5-6h1v1h-1m13.5 18.5h1v1h-1m-0.5-2h1v1h-1m-8.5-31.5h1v1h-1m26.5 12.5h1v1h-1m6-4.5h1v1h-1m-17.5-19h1v1h-1m12.5 27h1v1h-1m-13.5-26.5h1v1h-1m-2 32.5h1v1h-1m-20.5-2h1v1h-1m21.5 3.5h1v1h-1m-31.5-24.5h1v1h-1m46.5-3.5h1v1h-1m-35 2.5h1v1h-1m35.5 12h1v1h-1m-13.5-41h1v1h-1m9.5 10h1v1h-1m-17 33.5h1v1h-1m17-32.5h1v1h-1m-2 8.5h1v1h-1m-19-17h1v1h-1m-6.5 18h1v1h-1m19.5 15h1v1h-1m-19-14h1v1h-1m9-18h1v1h-1m3.5-3h1v1h-1m-5 35.5h1v1h-1m10.5 6h1v1h-1m-15.5 9.5h1v1h-1m22-56h1v1h-1m-16 1h1v1h-1m21.5 19.5h1v1h-1m-25.5 24h1v1h-1m4.5-10.5h1v1h-1m18-22h1v1h-1m1 4h1v1h-1m-16 19h1v1h-1m8.5-6h1v1h-1m14-29h1v1h-1m-4 16.5h1v1h-1m-30.5-20.5h1v1h-1m0.5 7h1v1h-1m3.5-12.5h1v1h-1m23.5-0.5h1v1h-1m-2.5 17h1v1h-1m-6-26.5h1v1h-1m-18-5h1v1h-1m13 10h1v1h-1m-5-10h1v1h-1m10 3h1v1h-1m13 14h1v1h-1m-18.5-18h1v1h-1m-21 26.5h1v1h-1m20.5 23.5h1v1h-1m-15.5-27.5h1v1h-1m29-0.5h1v1h-1m3.5-6.5h1v1h-1m9.5-25h1v1h-1m-5 14h1v1h-1m-35 26h1v1h-1m25.5-39.5h1v1h-1m-3.5 40.5h1v1h-1m-19-5.5h1v1h-1m-7.5-28.5h1v1h-1m-3.5 21h1v1h-1m23.5-40.5h1v1h-1m-15.5 53.5h1v1h-1m20.5-61h1v1h-1m-6 17.5h1v1h-1m6-2.5h1v1h-1m5.5 27h1v1h-1m1.5-8h1v1h-1m-21.5-15.5h1v1h-1m0-2h1v1h-1m22 15h1v1h-1m-24 16.5h1v1h-1m25.5-33h1v1h-1m0.5 20.5h1v1h-1m-9 18h1v1h-1m-22-17.5h1v1h-1m19 7.5h1v1h-1m-12 0.5h1v1h-1m5.5-44.5h1v1h-1m-13.5 21h1v1h-1m28-2.5h1v1h-1m11-15h1v1h-1m-11.5 14h1v1h-1m-14.5 18h1v1h-1m13-16.5h1v1h-1m-1.5 2h1v1h-1m-15.5-20.5h1v1h-1m10.5 33.5h1v1h-1m12-23h1v1h-1m-20 17h1v1h-1m2.5 2.5h1v1h-1m-11.5-41.5h1v1h-1m-1.5 25.5h1v1h-1m35.5 3h1v1h-1m-42-21h1v1h-1m-7.5 0.5h1v1h-1m38.5 11h1v1h-1m-17.5 26.5h1v1h-1m-5-20h1v1h-1m14.5 9h1v1h-1m10-18.5h1v1h-1m-22.5-17.5h1v1h-1m19.5 37.5h1v1h-1m-29.5-20h1v1h-1m18.5-31.5h1v1h-1m17.5 37h1v1h-1m4-14.5h1v1h-1m-4-16.5h1v1h-1m-1-8.5h1v1h-1m-2 38h1v1h-1m-25-26h1v1h-1m22.5 20h1v1h-1m-10.5-36h1v1h-1m10.5 25h1v1h-1m-10-24.5h1v1h-1m17 18h1v1h-1m-42 8h1v1h-1m23.5-30h1v1h-1m9.5 30h1v1h-1m5-13.5h1v1h-1m-27 12h1v1h-1m-9.5 4h1v1h-1m33.5-39h1v1h-1m-6-11h1v1h-1m-6 51h1v1h-1m12.5-34h1v1h-1m7.5-4h1v1h-1m-7.5 20h1v1h-1m-10 12h1v1h-1m-8.5-1.5h1v1h-1m17 5h1v1h-1m-19-15h1v1h-1m5-27.5h1v1h-1m-4 36h1v1h-1m21.5-24h1v1h-1m-0.5-17h1v1h-1m-5.5 30h1v1h-1m-7.5 5.5h1v1h-1m13.5-37.5h1v1h-1m-25 7.5h1v1h-1m25 17h1v1h-1m-16-27h1v1h-1m-5-6h1v1h-1m18.5 0h1v1h-1m-4-10.5h1v1h-1m-18 44.5h1v1h-1m21.5-6.5h1v1h-1m11-14.5h1v1h-1m-17-18h1v1h-1m19.5 15h1v1h-1m-37 4h1v1h-1m34.5 3h1v1h-1m-10 8h1v1h-1m2.5 10h1v1h-1m-12.5-4.5h1v1h-1m-8.5-2.5h1v1h-1m29-30.5h1v1h-1m-45 6.5h1v1h-1m8.5 1h1v1h-1m13 30.5h1v1h-1m10.5-13.5h1v1h-1m-7.5 0.5h1v1h-1m-19-15h1v1h-1m30.5-15.5h1v1h-1m2.5 15h1v1h-1m-24-29h1v1h-1m25.5 6h1v1h-1m-22.5 39.5h1v1h-1m22.5-36h1v1h-1m-25 34h1v1h-1m30.5-58h1v1h-1m-16.5 9h1v1h-1m11.5 4h1v1h-1m0 12h1v1h-1m-16.5-16h1v1h-1m14.5 30h1v1h-1m-29 0h1v1h-1m26.5-37.5h1v1h-1m5-4h1v1h-1m-27.5 38h1v1h-1m26.5-22h1v1h-1m-31 25.5h1v1h-1m5-37.5h1v1h-1m-10.5 22.5h1v1h-1m35.5-7.5h1v1h-1m-7.5 22.5h1v1h-1m3-17h1v1h-1m-26-5.5h1v1h-1m0.5-13h1v1h-1m10.5 28h1v1h-1m34-38h1v1h-1m-25-12h1v1h-1m-17.5 41h1v1h-1m12.5 0h1v1h-1m-12.5-21h1v1h-1m18.5 32h1v1h-1m6-25h1v1h-1m1-9.5h1v1h-1m-3-19.5h1v1h-1m-30 37.5h1v1h-1m1.5-24h1v1h-1m43.5-4h1v1h-1m-44.5 0h1v1h-1m14.5-11h1v1h-1m9.5-1.5h1v1h-1m-14-2h1v1h-1m8 36h1v1h-1m6.5-37h1v1h-1m-1.5 0h1v1h-1m-13.5 39.5h1v1h-1m20.5-38h1v1h-1m-24 29h1v1h-1m-12.5-12h1v1h-1m4-10h1v1h-1m26-27.5h1v1h-1m0 54h1v1h-1m10.5-36.5h1v1h-1m-26.5 22h1v1h-1m2-22h1v1h-1m19-20h1v1h-1m7 15h1v1h-1m-23.5-1h1v1h-1m-12 32h1v1h-1m37.5-28.5h1v1h-1m-37 21.5h1v1h-1m33.5-18.5h1v1h-1m-34 17h1v1h-1m5 0h1v1h-1m17 1h1v1h-1m10-6h1v1h-1m-6.5-33h1v1h-1m18.5 9.5h1v1h-1m-40-8h1v1h-1m28 35h1v1h-1m48.5 6.5h1v1h-1m2.5 5.5h1v1h-1m-10-5.5h1v1h-1m5.5 1.5h1v1h-1m-1.5-9h1v1h-1m-7 34h1v1h-1m18-19.5h1v1h-1m-15.5 6h1v1h-1m12-10h1v1h-1m-11 11h1v1h-1m0-3h1v1h-1m-3.5 3.5h1v1h-1m15.5-15h1v1h-1m-4-11h1v1h-1m-7.5 25h1v1h-1m2-2h1v1h-1m3 1.5h1v1h-1m0.5-3.5h1v1h-1m-6-20.5h1v1h-1m5.5-4h1v1h-1m-7.5 22.5h1v1h-1m17.5-21h1v1h-1m-7.5-5h1v1h-1m-10 14.5h1v1h-1m-1 6h1v1h-1m5.5 3h1v1h-1m5.5-6.5h1v1h-1m-2.5-22.5h1v1h-1m-7 26h1v1h-1m10-4.5h1v1h-1m-1-23h1v1h-1m-9 12.5h1v1h-1m13-7h1v1h-1m-6 13h1v1h-1m8-16h1v1h-1m-7.5 12h1v1h-1m-8.5 4.5h1v1h-1m11-23.5h1v1h-1m-9.5 27h1v1h-1m2.5 1h1v1h-1m7-32h1v1h-1m-4-8.5h1v1h-1m-7 24h1v1h-1m3.5-17.5h1v1h-1m4 21.5h1v1h-1m3.5-3h1v1h-1m-7 3h1v1h-1m10-36h1v1h-1m-4.5 27h1v1h-1m7.5-16h1v1h-1m-16 17.5h1v1h-1m2.5-21.5h1v1h-1m4 15h1v1h-1m-1-22.5h1v1h-1m-6 10h1v1h-1m10.5-7.5h1v1h-1m-3 17.5h1v1h-1m0.5-23h1v1h-1m-1.5-12.5h1v1h-1m-4.5 29.5h1v1h-1m11.5-7.5h1v1h-1m-1-6h1v1h-1m-6-7.5h1v1h-1m-5.5-1h1v1h-1m9.5 14.5h1v1h-1m-8.5 16.5h1v1h-1m8.5-30.5h1v1h-1m-2.5 21h1v1h-1m-7-2.5h1v1h-1m8-25.5h1v1h-1m-5 29h1v1h-1m3-33.5h1v1h-1m-5.5 14h1v1h-1m0.5 8.5h1v1h-1m3 3h1v1h-1m0.5-33.5h1v1h-1m4 5.5h1v1h-1m-2-5.5h1v1h-1m4.5 3h1v1h-1m-11.5 30.5h1v1h-1m2-2.5h1v1h-1m9.5-31.5h1v1h-1m-2.5 24.5h1v1h-1m-8-4.5h1v1h-1m4.5 5h1v1h-1m-5.5-3.5h1v1h-1m10 3h1v1h-1m-6-2h1v1h-1m5.5-30h1v1h-1m-6 26h1v1h-1m-6.5-13h1v1h-1m8 8.5h1v1h-1m4.5-27h1v1h-1m-6 27h1v1h-1m-7.5-6h1v1h-1m4 1.5h1v1h-1m5 4.5h1v1h-1m3-9h1v1h-1m-6.5 4h1v1h-1m3.5-24.5h1v1h-1m-0.5 23.5h1v1h-1m-4.5-12h1v1h-1m1 4.5h1v1h-1m2.5-19.5h1v1h-1m-3.5 13.5h1v1h-1m12-7.5h1v1h-1m2.5-6.5h1v1h-1m-2.5 9h1v1h-1m-12 1h1v1h-1m2 12h1v1h-1m10.5-26.5h1v1h-1m-0.5 1.5h1v1h-1m-2 15h1v1h-1m-4.5 7.5h1v1h-1m-2.5-7.5h1v1h-1m7.5-10.5h1v1h-1m-2-20h1v1h-1m-7.5 13.5h1v1h-1m4.5 12.5h1v1h-1m-4.5-2h1v1h-1m2.5 3h1v1h-1m7.5-26h1v1h-1m-5.5-4.5h1v1h-1m-4.5 16.5h1v1h-1m3.5 11h1v1h-1m-4-18h1v1h-1m12 3h1v1h-1m-3.5 1h1v1h-1m0 3.5h1v1h-1m-8-1h1v1h-1m5.5-24h1v1h-1m4 16.5h1v1h-1m-12 4h1v1h-1m12.5-0.5h1v1h-1m-10.5-6h1v1h-1m-0.5 6h1v1h-1m7-25h1v1h-1m-1.5 22.5h1v1h-1m3-3h1v1h-1m2.5-1.5h1v1h-1m-6.5-22h1v1h-1m-3.5 19h1v1h-1m-0.5-4.5h1v1h-1m12.5-10.5h1v1h-1m-14 9.5h1v1h-1m3.5 5.5h1v1h-1m0-22.5h1v1h-1m1 20h1v1h-1m6-4h1v1h-1m-8-10h1v1h-1m11-1h1v1h-1m1 0h1v1h-1m-11 21h1v1h-1m10-21.5h1v1h-1m-2.5-14.5h1v1h-1m2 24h1v1h-1m-13.5-10h1v1h-1m11.5 6.5h1v1h-1m-1-3h1v1h-1m-5-24h1v1h-1m2-4.5h1v1h-1m0.5 43.5h1v1h-1m7.5-30.5h1v1h-1m-5.5-16h1v1h-1m6.5 10h1v1h-1m-6-6.5h1v1h-1m-6 21.5h1v1h-1m8.5-31.5h1v1h-1m0.5 6h1v1h-1m-4.5 28h1v1h-1m-3.5 5.5h1v1h-1m-5-4h1v1h-1m2.5-16h1v1h-1m13-2h1v1h-1m-4.5 7.5h1v1h-1m5.5-12.5h1v1h-1m-5.5 15.5h1v1h-1m2.5-14h1v1h-1m-1.5-20.5h1v1h-1m-12 7.5h1v1h-1m8.5 18.5h1v1h-1m-3.5-1.5h1v1h-1m2 4.5h1v1h-1m-5.5-28h1v1h-1m3-2.5h1v1h-1m11 2h1v1h-1m-7.5-18.5h1v1h-1m-3 11h1v1h-1m10.5 6.5h1v1h-1m-14 9h1v1h-1m9 6.5h1v1h-1m-4-34.5h1v1h-1m16.5 11.5h1v1h-1m-24.5 14.5h1v1h-1m12 0h1v1h-1m1.5-5.5h1v1h-1m-16.5 10.5h1v1h-1m2.5-4h1v1h-1m12.5-26h1v1h-1m-4.5 23h1v1h-1m-4 3h1v1h-1m-4-5.5h1v1h-1m9.5-38.5h1v1h-1m4.5 15h1v1h-1m-9.5 11.5h1v1h-1m8.5 11h1v1h-1m0-27.5h1v1h-1m-1 24.5h1v1h-1m9.5-35h1v1h-1m-6 11h1v1h-1m-12 35h1v1h-1m13-47h1v1h-1m-9.5 35h1v1h-1m5-31.5h1v1h-1m-7.5 26.5h1v1h-1m10.5-18.5h1v1h-1m0-2.5h1v1h-1m-12 9h1v1h-1m9-34h1v1h-1m-5.5 19.5h1v1h-1m0.5-2.5h1v1h-1m3-17h1v1h-1m-3.5 9h1v1h-1m1 27h1v1h-1m0 5.5h1v1h-1m-4-22h1v1h-1m1 15.5h1v1h-1m13-18.5h1v1h-1m-15.5 19.5h1v1h-1m7.5-3.5h1v1h-1m5-40.5h1v1h-1m-16 24.5h1v1h-1m12 19h1v1h-1m-7.5-12.5h1v1h-1m7.5-1.5h1v1h-1m-1-23h1v1h-1m3 28.5h1v1h-1m3-34.5h1v1h-1m-8.5 44h1v1h-1m11-26h1v1h-1m-5.5-22h1v1h-1m-6.5 1.5h1v1h-1m11.5-5.5h1v1h-1m-13.5 36h1v1h-1m4.5-37.5h1v1h-1m-1.5 34h1v1h-1m5.5 3h1v1h-1m-3-35.5h1v1h-1m3 30h1v1h-1m-1-28h1v1h-1m-0.5 18.5h1v1h-1m3.5 1.5h1v1h-1m-1.5-0.5h1v1h-1m-5.5-31.5h1v1h-1m-3.5 25.5h1v1h-1m8.5-4.5h1v1h-1m-6 16.5h1v1h-1m3.5-40.5h1v1h-1m-7 14h1v1h-1m8 12h1v1h-1m4-21h1v1h-1m5-1h1v1h-1m-17 14h1v1h-1m-1.5-6h1v1h-1m8.5 11h1v1h-1m-9.5 2h1v1h-1m11.5-2.5h1v1h-1m0.5-39h1v1h-1m-9 28.5h1v1h-1m15.5-16h1v1h-1m-3 3.5h1v1h-1m0.5-10.5h1v1h-1m-15.5 30h1v1h-1m7 3.5h1v1h-1m-4-18.5h1v1h-1m4.5 17h1v1h-1m-6-33h1v1h-1m13.5 7h1v1h-1m-3 10h1v1h-1m-2.5 17h1v1h-1m-5.5-13.5h1v1h-1m-9.5-4.5h1v1h-1m6.5 6h1v1h-1m9.5-28.5h1v1h-1m-7.5 7h1v1h-1m4-12.5h1v1h-1m-9 31h1v1h-1m14.5-11h1v1h-1m0-3h1v1h-1m2-0.5h1v1h-1m-3-17h1v1h-1m1-4h1v1h-1m2.5 11h1v1h-1m-12.5-3h1v1h-1m3.5 25h1v1h-1m9.5-37h1v1h-1m-9.5 31h1v1h-1m-3-2h1v1h-1m-2-3h1v1h-1m1-26.5h1v1h-1m5 29h1v1h-1m-5-27.5h1v1h-1m3 22.5h1v1h-1m6-33.5h1v1h-1m-10.5 20.5h1v1h-1m2-10.5h1v1h-1m7-12h1v1h-1m-0.5 31h1v1h-1m2.5-4.5h1v1h-1m-5.5-1h1v1h-1m-2.5 8.5h1v1h-1m7-41.5h1v1h-1m9.5 9h1v1h-1m-22 15.5h1v1h-1m18-5.5h1v1h-1m-12 7.5h1v1h-1m8-32h1v1h-1m-12.5 37.5h1v1h-1m12-35.5h1v1h-1m0 31.5h1v1h-1m6.5-29h1v1h-1m-4 13h1v1h-1m-7.5 8.5h1v1h-1m5-24h1v1h-1m-10 7h1v1h-1m6.5 15.5h1v1h-1m-13.5-3.5h1v1h-1m13.5 3h1v1h-1m-4-34.5h1v1h-1m6.5 3h1v1h-1m-14 27h1v1h-1m1.5 7h1v1h-1m1-33.5h1v1h-1m13 24h1v1h-1m0-35.5h1v1h-1m0 0h1v1h-1m-9 32h1v1h-1m-3-7.5h1v1h-1m17-1.5h1v1h-1m-17 3h1v1h-1m-0.5-11h1v1h-1m4.5 10h1v1h-1m9-11.5h1v1h-1m1 8h1v1h-1m5.5-16h1v1h-1m-11-16h1v1h-1m-5.5 4h1v1h-1m12.5 12.5h1v1h-1m-0.5-11h1v1h-1m-18.5 21.5h1v1h-1m24 2h1v1h-1m-6.5 1.5h1v1h-1m0.5-34.5h1v1h-1m-0.5 19.5h1v1h-1m-11.5-6.5h1v1h-1m7 10.5h1v1h-1m-8.5-9.5h1v1h-1m0-15.5h1v1h-1m2 8.5h1v1h-1m12-10.5h1v1h-1m-5-8.5h1v1h-1m-7 35h1v1h-1m4.5-4h1v1h-1m-4-27h1v1h-1m5 20.5h1v1h-1m6-28.5h1v1h-1m-5-1.5h1v1h-1m-3.5 1h1v1h-1m-3.5 13h1v1h-1m12.5-5.5h1v1h-1m-8.5-7h1v1h-1m-6 11.5h1v1h-1m2.5 4h1v1h-1m-1-0.5h1v1h-1m9.5-51.5h1v1h-1m-6.5 2h1v1h-1m1-9.5h1v1h-1m1.5 4h1v1h-1m5.5-13.5h1v1h-1m-7 18h1v1h-1m1-6.5h1v1h-1m5-11h1v1h-1m-5 12.5h1v1h-1m0.5-18.5h1v1h-1m-2.5 12h1v1h-1m1.5 10.5h1v1h-1m5.5-23.5h1v1h-1m-2.5 15.5h1v1h-1m2-8h1v1h-1m-5.5 0.5h1v1h-1m5 2.5h1v1h-1m0 0h1v1h-1m-4-13.5h1v1h-1m6-3.5h1v1h-1m-6 6.5h1v1h-1m-1.5-3h1v1h-1m0.5 19h1v1h-1m1.5-20.5h1v1h-1m-0.5 9h1v1h-1m-1-10.5h1v1h-1m-3 6.5h1v1h-1m5 5h1v1h-1m-5 3h1v1h-1m7-17h1v1h-1m-3-1.5h1v1h-1m-3 6h1v1h-1m2.5-11h1v1h-1m2 5h1v1h-1m-2.5-3.5h1v1h-1m-0.5 9.5h1v1h-1m5-14.5h1v1h-1m-4 12.5h1v1h-1m-1 2h1v1h-1m2.5-8.5h1v1h-1m-6-0.5h1v1h-1m6-2h1v1h-1m0.5-1.5h1v1h-1m-3 1.5h1v1h-1m3-14h1v1h-1m-3.5 7h1v1h-1m5-17h1v1h-1m-8 20.5h1v1h-1m3.5 11.5h1v1h-1m-1.5-22h1v1h-1m1.5 4.5h1v1h-1m4.5 6.5h1v1h-1m-6-4h1v1h-1m0.5-7h1v1h-1m3 1h1v1h-1m-3 4h1v1h-1m3-10h1v1h-1m0-8.5h1v1h-1m1.5 9h1v1h-1m-1.5 9h1v1h-1m-2-15.5h1v1h-1m1.5 7h1v1h-1m-0.5-0.5h1v1h-1m3.5-19.5h1v1h-1m-3-3h1v1h-1m0 10h1v1h-1m2 3.5h1v1h-1m-2.5 6h1v1h-1m3.5-17.5h1v1h-1m-4.5 9h1v1h-1m6.5-4h1v1h-1m-5 2h1v1h-1m2.5-3.5h1v1h-1m-1-3.5h1v1h-1m-2-3.5h1v1h-1m3 1h1v1h-1m-1 5.5h1v1h-1m3-22h1v1h-1m-5.5 8.5h1v1h-1m0.5 13h1v1h-1m6 4.5h1v1h-1m-2-9h1v1h-1m-4.5-0.5h1v1h-1m-4.5 1.5h1v1h-1m5.5-3h1v1h-1m-1.5-12.5h1v1h-1m0.5 6h1v1h-1m2.5-3h1v1h-1m-0.5 6h1v1h-1m-3.5-6.5h1v1h-1m-0.5-4h1v1h-1m6-1.5h1v1h-1m1.5 7.5h1v1h-1m-2-4h1v1h-1m-0.5 5.5h1v1h-1m-1-12h1v1h-1m-3 15.5h1v1h-1m2.5-17h1v1h-1m-0.5-9.5h1v1h-1m-1 12.5h1v1h-1m1-8.5h1v1h-1m1 7.5h1v1h-1m-2-2h1v1h-1m-1.5 2.5h1v1h-1m1-9h1v1h-1m2.5-1.5h1v1h-1m-4.5 16h1v1h-1m9-26.5h1v1h-1m-4 2h1v1h-1m0.5-1.5h1v1h-1m-42 25h1v1h-1m15.5 8.5h1v1h-1m-30-4.5h1v1h-1m-0.5-38h1v1h-1m15.5-4.5h1v1h-1m-11.5 33.5h1v1h-1m4.5-29.5h1v1h-1m-10.5 30h1v1h-1m24 11h1v1h-1m-40-16h1v1h-1m18.5 3h1v1h-1m-16.5-13.5h1v1h-1m32.5-8h1v1h-1m5.5-10h1v1h-1m-19.5 46h1v1h-1m8.5-41.5h1v1h-1m4 15h1v1h-1m-4-6.5h1v1h-1m2.5-16h1v1h-1m-21.5 24.5h1v1h-1m41.5 6.5h1v1h-1m-20.5-13.5h1v1h-1m1.5-25.5h1v1h-1m-3.5 17h1v1h-1m6.5 1.5h1v1h-1m-9-9.5h1v1h-1m-25 2.5h1v1h-1m33 18h1v1h-1m9.5-29h1v1h-1m-32 22h1v1h-1m7 24.5h1v1h-1m10.5-56.5h1v1h-1m-12 41h1v1h-1m-17.5-20.5h1v1h-1m6 19h1v1h-1m-4.5-32.5h1v1h-1m-11.5 2h1v1h-1m65 7h1v1h-1m-33.5-18.5h1v1h-1m8 8.5h1v1h-1m-16 24.5h1v1h-1m17.5-32h1v1h-1m14 10.5h1v1h-1m-13 1.5h1v1h-1m9 5.5h1v1h-1m-21 0.5h1v1h-1m-0.5-9h1v1h-1m28-17.5h1v1h-1m-29.5 31.5h1v1h-1m-15 12.5h1v1h-1m43.5-38.5h1v1h-1m-19 0h1v1h-1m6.5 13h1v1h-1m1.5 0.5h1v1h-1m16-14h1v1h-1m-17-1h1v1h-1m-9 4.5h1v1h-1m-1 0.5h1v1h-1m-1.5-27h1v1h-1m14 15.5h1v1h-1m-46.5 16h1v1h-1m63.5-27.5h1v1h-1m26.5 64.5h1v1h-1m-0.5-7h1v1h-1m-40-61.5h1v1h-1m-24 52h1v1h-1m78-60h1v1h-1m-107 22h1v1h-1m37.5 22h1v1h-1m-26 22.5h1v1h-1m25 5h1v1h-1m-1-58h1v1h-1m-17 61.5h1v1h-1m45.5-14.5h1v1h-1m-58-27.5h1v1h-1m73.5 40.5h1v1h-1m22.5-84h1v1h-1m-62 83.5h1v1h-1m18-5h1v1h-1m-31-89h1v1h-1m76 21.5h1v1h-1m-42.5 8h1v1h-1m2 53.5h1v1h-1m40.5-6.5h1v1h-1m-75.5-6.5h1v1h-1m-26-39h1v1h-1m101.5-16.5h1v1h-1m-63.5 30h1v1h-1m-14.5 11h1v1h-1m46-59h1v1h-1m29-3h1v1h-1m-24.5 25h1v1h-1m-60.5-26.5h1v1h-1m93.5 67h1v1h-1" fill="#0000ef"/>
<path d="M48.5 510.5h1v1h-1m1.5-10.5h1v1h-1m1.5 4h1v1h-1m-3.5 6.5h1v1h-1m21-19.5h1v1h-1m0 17h1v1h-1m-17.5-13h1v1h-1m17.5-4h1v1h-1m-11-5h1v1h-1m1 25.5h1v1h-1m-8.5-4.5h1v1h-1m11 2.5h1v1h-1m-14-12h1v1h-1m21 0h1v1h-1m-16.5-8.5h1v1h-1m15.5-12h1v1h-1m2 16.5h1v1h-1m-12.5-16h1v1h-1m8.5 22h1v1h-1m1-2h1v1h-1m-17-13.5h1v1h-1m0.5 12h1v1h-1m15-3h1v1h-1m0.5 1.5h1v1h-1m-2-25.5h1v1h-1m-13.5 9h1v1h-1m17.5-9h1v1h-1m-3.5 22.5h1v1h-1m2.5-23.5h1v1h-1m-15.5 8.5h1v1h-1m8.5-11h1v1h-1m13 12.5h1v1h-1m-4.5 0.5h1v1h-1m-3.5 7h1v1h-1m-12-1.5h1v1h-1m-0.5-22h1v1h-1m18.5 8.5h1v1h-1m-1.5-12h1v1h-1m-11-1.5h1v1h-1m-0.5 0.5h1v1h-1m-6 7h1v1h-1m15-9.5h1v1h-1m-10 23h1v1h-1m-7-5h1v1h-1m-0.5-5.5h1v1h-1m5.5 6h1v1h-1m13.5-9h1v1h-1m-1.5-15h1v1h-1m1-0.5h1v1h-1m-3-5.5h1v1h-1m-3.5 28.5h1v1h-1m-7-3h1v1h-1m-5.5-10.5h1v1h-1m-1 1h1v1h-1m0.5-1.5h1v1h-1m17-19h1v1h-1m-1.5-1.5h1v1h-1m0-1.5h1v1h-1m-4 26h1v1h-1m8.5-5.5h1v1h-1m-2.5-20.5h1v1h-1m3.5 14h1v1h-1m-18 4h1v1h-1m10-25h1v1h-1m-4 3.5h1v1h-1m4.5-5.5h1v1h-1m5 25.5h1v1h-1m-17-4.5h1v1h-1m20-21.5h1v1h-1m-2.5 21h1v1h-1m2-19.5h1v1h-1m-12-5h1v1h-1m-3.5 23h1v1h-1m-2-4h1v1h-1m-1.5-11.5h1v1h-1m-0.5 11h1v1h-1m15.5-1h1v1h-1m-4-24h1v1h-1m-9 7h1v1h-1m8.5 18.5h1v1h-1m-1.5-27h1v1h-1m2.5-4h1v1h-1m-12 19h1v1h-1m4.5-14.5h1v1h-1m11.5-3.5h1v1h-1m-9 24h1v1h-1m11.5-26h1v1h-1m-0.5 13h1v1h-1m3.5-7h1v1h-1m-4 10.5h1v1h-1m-5.5 3.5h1v1h-1m-6-0.5h1v1h-1m0-25.5h1v1h-1m11.5-3h1v1h-1m-16 4.5h1v1h-1m18 10.5h1v1h-1m-10-19h1v1h-1m-7.5 7.5h1v1h-1m7-8.5h1v1h-1m-1.5 0h1v1h-1m1.5-2h1v1h-1m9.5 1.5h1v1h-1m-2.5 20.5h1v1h-1m-3-27h1v1h-1m-5.5 3.5h1v1h-1m3 24.5h1v1h-1m1.5-30.5h1v1h-1m-14 17h1v1h-1m21.5-17.5h1v1h-1m-0.5-0.5h1v1h-1m0.5 2.5h1v1h-1m-3.5-3h1v1h-1m4 18h1v1h-1m-8 5.5h1v1h-1m6-6h1v1h-1m-8.5 2.5h1v1h-1m10.5-24.5h1v1h-1m-11 24h1v1h-1m10-27.5h1v1h-1m-1.5 20.5h1v1h-1m1.5-22.5h1v1h-1m-16 22.5h1v1h-1m3-25h1v1h-1m10 0.5h1v1h-1m1.5-4h1v1h-1m0-0.5h1v1h-1m2.5 2.5h1v1h-1m-18.5 3h1v1h-1m-2 9h1v1h-1m1.5-10h1v1h-1m0 12.5h1v1h-1m21-10h1v1h-1m-14-12h1v1h-1m-8.5 13.5h1v1h-1m6 11h1v1h-1m-3-20h1v1h-1m18 2h1v1h-1m-18 10.5h1v1h-1m14 0.5h1v1h-1m-15.5-16h1v1h-1m17-8.5h1v1h-1m-13.5 21h1v1h-1m-1.5-2h1v1h-1m19.5-11.5h1v1h-1m-23 3.5h1v1h-1m17 7h1v1h-1m-1.5-3h1v1h-1m-4.5 2h1v1h-1m6.5-6.5h1v1h-1m-1-22.5h1v1h-1m-1-2.5h1v1h-1m4 23.5h1v1h-1m-8 5h1v1h-1m-1.5-27.5h1v1h-1m9 18h1v1h-1m-16.5 1.5h1v1h-1m17.5-21h1v1h-1m-18 1h1v1h-1m18 15.5h1v1h-1m1.5-11h1v1h-1m-2-11h1v1h-1m1 20h1v1h-1m-4.5 1.5h1v1h-1m-1-1.5h1v1h-1m-13.5-4h1v1h-1m19.5-2h1v1h-1m-21.5-4h1v1h-1m3-13.5h1v1h-1m7-7.5h1v1h-1m-8.5 6.5h1v1h-1m7-7.5h1v1h-1m-5.5 7h1v1h-1m-0.5-1.5h1v1h-1m14.5 14h1v1h-1m4-22h1v1h-1m-10 24h1v1h-1m-12.5-8.5h1v1h-1m21-15.5h1v1h-1m-19.5 15h1v1h-1m17-19.5h1v1h-1m-14 4.5h1v1h-1m18-3.5h1v1h-1m-8.5-8h1v1h-1m6-0.5h1v1h-1m-3.5 0h1v1h-1m-15.5 17h1v1h-1m2-5.5h1v1h-1m18.5 7h1v1h-1m0.5-20.5h1v1h-1m-2.5 21.5h1v1h-1m-0.5-25h1v1h-1m-11 0.5h1v1h-1m-5 7.5h1v1h-1m15 14h1v1h-1m-3 2h1v1h-1m7-10h1v1h-1m-1-15h1v1h-1m1-3.5h1v1h-1m2 8.5h1v1h-1m-21-1.5h1v1h-1m18.5-9h1v1h-1m1.5 9h1v1h-1m2.5-1h1v1h-1m-5.5 11h1v1h-1m5.5-17.5h1v1h-1m-11-12h1v1h-1m-7 24.5h1v1h-1m12-24h1v1h-1m0 1h1v1h-1m-15 3.5h1v1h-1m12 15.5h1v1h-1m4-3h1v1h-1m-7.5-24.5h1v1h-1m-12 19.5h1v1h-1m18.5-19.5h1v1h-1m2 20.5h1v1h-1m1.5-21h1v1h-1m-20.5 5.5h1v1h-1m2.5-0.5h1v1h-1m17 6h1v1h-1m-0.5-14h1v1h-1m-15.5 1h1v1h-1m18 10h1v1h-1m-0.5-7h1v1h-1m-19 2h1v1h-1m10.5-13.5h1v1h-1m0 26.5h1v1h-1m-10-20h1v1h-1m-4.5 9h1v1h-1m19 4h1v1h-1m2.5-24h1v1h-1m-19.5 20h1v1h-1m0-17h1v1h-1m18 10.5h1v1h-1m-6.5 8.5h1v1h-1m4.5-2h1v1h-1m-11.5-2.5h1v1h-1m5.5-27h1v1h-1m-0.5-0.5h1v1h-1m-0.5 1.5h1v1h-1m-1 24.5h1v1h-1m-6.5-6h1v1h-1m15-24h1v1h-1m6 11h1v1h-1m-13-12h1v1h-1m6.5-2h1v1h-1m-8.5 28h1v1h-1m0-1.5h1v1h-1m12-9.5h1v1h-1m-13 6.5h1v1h-1m-6-20h1v1h-1m21 4.5h1v1h-1m-22 3.5h1v1h-1m10-18.5h1v1h-1m0.5-2.5h1v1h-1m-2.5 2.5h1v1h-1m0.5 24h1v1h-1m0.5-30h1v1h-1m2 0h1v1h-1m5.5 26.5h1v1h-1m-1.5-28.5h1v1h-1m3 22h1v1h-1m-14.5 1.5h1v1h-1m12 0.5h1v1h-1m2.5-25h1v1h-1m-0.5 20h1v1h-1m-4.5 4.5h1v1h-1m-6-2.5h1v1h-1m-9-9h1v1h-1m12.5-17.5h1v1h-1m8.5 2h1v1h-1m4 2.5h1v1h-1m-20.5-1.5h1v1h-1m-4 8h1v1h-1m1.5-1h1v1h-1m20-1h1v1h-1m2.5-5.5h1v1h-1m-8 12.5h1v1h-1m-11.5-2.5h1v1h-1m8.5 2h1v1h-1m10.5-18h1v1h-1m-8 13h1v1h-1m5-7.5h1v1h-1m-18-7.5h1v1h-1m0.5 10.5h1v1h-1m-2.5-3.5h1v1h-1m71 45.5h1v1h-1m-1-5.5h1v1h-1m-3.5 3.5h1v1h-1m2-15.5h1v1h-1m6.5-3.5h1v1h-1m-6.5 12.5h1v1h-1m6.5-12h1v1h-1m1.5 4.5h1v1h-1m-3.5-11h1v1h-1m3 9.5h1v1h-1m-8.5-8.5h1v1h-1m1 9h1v1h-1m8-12.5h1v1h-1m-1 6.5h1v1h-1m1-6h1v1h-1m-7.5-0.5h1v1h-1m4 9h1v1h-1m-6-2.5h1v1h-1m8-5h1v1h-1m-4 8h1v1h-1m3.5-13.5h1v1h-1m1-3h1v1h-1m1 3h1v1h-1m-8-2.5h1v1h-1m1 9.5h1v1h-1m-2.5-13.5h1v1h-1m2.5-4h1v1h-1m6.5 4h1v1h-1m-6.5-6h1v1h-1m-2.5 15h1v1h-1m8.5-9h1v1h-1m-1.5-2h1v1h-1m-7 8.5h1v1h-1m8-9.5h1v1h-1m-3-11h1v1h-1m-3.5 4h1v1h-1m-1.5 8.5h1v1h-1m1.5-1h1v1h-1m7-10h1v1h-1m-2 10h1v1h-1m-4.5-1h1v1h-1m7-13.5h1v1h-1m-5.5-2.5h1v1h-1m0 14.5h1v1h-1m2.5-3h1v1h-1m-2.5-15.5h1v1h-1m-2.5 0.5h1v1h-1m-1 15.5h1v1h-1m-0.5-1.5h1v1h-1m7.5-2.5h1v1h-1m-7.5-1h1v1h-1m10-15.5h1v1h-1m-1.5-1.5h1v1h-1m0.5 5h1v1h-1m-0.5-2h1v1h-1m-4 10.5h1v1h-1m-3.5-3.5h1v1h-1m1.5 1.5h1v1h-1m4-19.5h1v1h-1m-4 16h1v1h-1m1.5 0h1v1h-1m-2-4.5h1v1h-1m1.5-16h1v1h-1m-0.5-0.5h1v1h-1m5.5 6.5h1v1h-1m-6 10h1v1h-1m-2 0h1v1h-1m8-9h1v1h-1m-6.5-9h1v1h-1m-1 15h1v1h-1m1-3.5h1v1h-1m1 2h1v1h-1m-1-14.5h1v1h-1m-0.5 8h1v1h-1m3.5-16.5h1v1h-1m-3 14h1v1h-1m0 0h1v1h-1m7.5-10h1v1h-1m-5.5-7h1v1h-1m1 18h1v1h-1m-1-20.5h1v1h-1m-3 2h1v1h-1m0.5 11h1v1h-1m6-15h1v1h-1m-3-2h1v1h-1m0.5 14h1v1h-1m3-7h1v1h-1m-7-5h1v1h-1m3.5-5.5h1v1h-1m2-1h1v1h-1m-2 0h1v1h-1m-0.5 12h1v1h-1m-4 3.5h1v1h-1m8-15h1v1h-1m-7.5 10h1v1h-1m3.5 0.5h1v1h-1m6-8.5h1v1h-1m-9-6h1v1h-1m3.5 12.5h1v1h-1m0-2h1v1h-1m-3-12h1v1h-1m5-8.5h1v1h-1m-5 3.5h1v1h-1m-0.5 10.5h1v1h-1m-0.5-11.5h1v1h-1m1.5 11.5h1v1h-1m0-5h1v1h-1m5.5-12.5h1v1h-1m-3 14h1v1h-1m-0.5-17.5h1v1h-1m-1 18h1v1h-1m0-19.5h1v1h-1m0.5-2.5h1v1h-1m-2.5 18h1v1h-1m-1-15h1v1h-1m9 6.5h1v1h-1m-8 2h1v1h-1m2.5 3.5h1v1h-1m-2-1.5h1v1h-1m4.5-3.5h1v1h-1m-2.5-2h1v1h-1m4.5-9.5h1v1h-1m-3.5-8.5h1v1h-1m1.5 15.5h1v1h-1m-4.5-2h1v1h-1m3.5 2.5h1v1h-1m4-11h1v1h-1m-9 5.5h1v1h-1m3.5-15h1v1h-1m-3 2h1v1h-1m9 5.5h1v1h-1m-1.5-7h1v1h-1m-3 11h1v1h-1m-3-10.5h1v1h-1m0 11h1v1h-1m6-11h1v1h-1m-7-7h1v1h-1m2 16h1v1h-1m6-12h1v1h-1m-7.5-4h1v1h-1m7.5-0.5h1v1h-1m-2 9.5h1v1h-1m-1-17.5h1v1h-1m-0.5 13.5h1v1h-1m-2.5-16.5h1v1h-1m-2 15.5h1v1h-1m0-10h1v1h-1m0 8.5h1v1h-1m7.5-5.5h1v1h-1m-0.5-4.5h1v1h-1m0 2.5h1v1h-1m-5.5 3h1v1h-1m6-7h1v1h-1m-6.5-4.5h1v1h-1m6-2h1v1h-1m-1.5-5.5h1v1h-1m0 14.5h1v1h-1m0.5-2.5h1v1h-1m-5 3.5h1v1h-1m-0.5-2h1v1h-1m6-15.5h1v1h-1m-4 11h1v1h-1m6-6.5h1v1h-1m-0.5-7.5h1v1h-1m1 0.5h1v1h-1m-1-4h1v1h-1m-1 6.5h1v1h-1m-8 7.5h1v1h-1m2.5-5h1v1h-1m-1.5-12h1v1h-1m8.5 5.5h1v1h-1m-9 8.5h1v1h-1m0.5-18.5h1v1h-1m0 11h1v1h-1m1-8h1v1h-1m6-2.5h1v1h-1m-7 6.5h1v1h-1m3.5 3.5h1v1h-1m0.5-18.5h1v1h-1m-1.5 0h1v1h-1m3.5 15h1v1h-1m2-6h1v1h-1m-4-12h1v1h-1m4 8h1v1h-1m-8.5-4.5h1v1h-1m6-6.5h1v1h-1m-5 18h1v1h-1m5.5-4h1v1h-1m1.5-10.5h1v1h-1m-6.5-1.5h1v1h-1m6.5 4h1v1h-1m-6.5 4h1v1h-1m6-12.5h1v1h-1m-4 9.5h1v1h-1m-1.5-2.5h1v1h-1m2.5 3h1v1h-1m-4-15.5h1v1h-1m4.5 10h1v1h-1m0.5 0.5h1v1h-1m3-10.5h1v1h-1m-5-8.5h1v1h-1m5.5 5h1v1h-1m-1 0.5h1v1h-1m-4.5 9h1v1h-1m5-6.5h1v1h-1m0-10h1v1h-1m-6 15.5h1v1h-1m5.5-8h1v1h-1m-5.5 3h1v1h-1m7-12h1v1h-1m-6 10h1v1h-1m-3.5 1.5h1v1h-1m-0.5-4.5h1v1h-1m-51-44h1v1h-1m1.5-13h1v1h-1m-11.5 6.5h1v1h-1m7-12.5h1v1h-1m3.5 2.5h1v1h-1m-2.5-3h1v1h-1m5-0.5h1v1h-1" fill="#002dff"/>
<path d="M53.5 515h1v1h-1m12.5-19.5h1v1h-1m-16.5 13h1v1h-1m1.5 0.5h1v1h-1m17.5-6.5h1v1h-1m1-5.5h1v1h-1m0-3h1v1h-1m-1.5-1h1v1h-1m-8 19h1v1h-1m7-24h1v1h-1m-12 20.5h1v1h-1m14.5-17h1v1h-1m0.5-1.5h1v1h-1m-17.5-3.5h1v1h-1m0.5-1.5h1v1h-1m7.5 18.5h1v1h-1m-6.5-20h1v1h-1m7.5-4.5h1v1h-1m6.5 4h1v1h-1m-4.5-6h1v1h-1m-1.5-1h1v1h-1m-2-1.5h1v1h-1m-6 4h1v1h-1m3-4.5h1v1h-1m11.5 3.5h1v1h-1m0 2h1v1h-1m1.5-5h1v1h-1m-6.5-5.5h1v1h-1m5.5 8.5h1v1h-1m-1.5 0.5h1v1h-1m1-1h1v1h-1m-0.5-4h1v1h-1m-10 15h1v1h-1m-1.5-24h1v1h-1m9.5 0h1v1h-1m-10 0h1v1h-1m4 18.5h1v1h-1m-6.5-4.5h1v1h-1m-1.5-6.5h1v1h-1m-1-1h1v1h-1m-0.5 4.5h1v1h-1m4.5-17h1v1h-1m14 0h1v1h-1m0 4h1v1h-1m-11 11.5h1v1h-1m-3-1h1v1h-1m-5-9.5h1v1h-1m7.5 8h1v1h-1m3-23h1v1h-1m0.5-2.5h1v1h-1m-11.5 13.5h1v1h-1m14-14h1v1h-1m5 11h1v1h-1m0.5 0h1v1h-1m-10.5 8h1v1h-1m-8.5-7.5h1v1h-1m15-16.5h1v1h-1m-12 18.5h1v1h-1m6 1.5h1v1h-1m1 1h1v1h-1m-7.5-20h1v1h-1m5 17h1v1h-1m-7.5-7.5h1v1h-1m0.5-3.5h1v1h-1m6 8.5h1v1h-1m5.5-2h1v1h-1m4-21.5h1v1h-1m-14 15h1v1h-1m-1-6h1v1h-1m18.5-7.5h1v1h-1m0.5-1.5h1v1h-1m-12 16h1v1h-1m-6-18.5h1v1h-1m10-6.5h1v1h-1m-8 19h1v1h-1m2.5-19h1v1h-1m9 0h1v1h-1m-13 17h1v1h-1m-1.5-9.5h1v1h-1m10.5 10h1v1h-1m-10-7h1v1h-1m-2-1.5h1v1h-1m20-8.5h1v1h-1m0.5 2h1v1h-1m-19 3.5h1v1h-1m0.5-4.5h1v1h-1m1-11h1v1h-1m5.5 19.5h1v1h-1m-2-23.5h1v1h-1m-1.5 21h1v1h-1m4.5-1.5h1v1h-1m10.5-14h1v1h-1m-15-9.5h1v1h-1m1.5-1.5h1v1h-1m9.5 0.5h1v1h-1m-13.5 17h1v1h-1m-2-4.5h1v1h-1m18.5-13.5h1v1h-1m0.5 6h1v1h-1m-1.5-3h1v1h-1m-14.5 10h1v1h-1m1.5-17.5h1v1h-1m3.5 18h1v1h-1m-6-8h1v1h-1m-2-4.5h1v1h-1m19-2.5h1v1h-1m-17.5 6.5h1v1h-1m12-21h1v1h-1m6 8h1v1h-1m-18 4h1v1h-1m18.5-1h1v1h-1m-1.5-7.5h1v1h-1m-15.5 14h1v1h-1m2-0.5h1v1h-1m11-21h1v1h-1m-3-2.5h1v1h-1m-11.5 11h1v1h-1m5.5 10.5h1v1h-1m12-12h1v1h-1m-8.5 8h1v1h-1m-5.5 0h1v1h-1m5-23h1v1h-1m9 3h1v1h-1m-15 16h1v1h-1m8-23h1v1h-1m-6.5 0.5h1v1h-1m12.5 2.5h1v1h-1m0-2h1v1h-1m-16 16h1v1h-1m9-23h1v1h-1m-6.5 4.5h1v1h-1m3 18h1v1h-1m1.5-2h1v1h-1m4-24.5h1v1h-1m-2 0h1v1h-1m8.5 3h1v1h-1m-8 18h1v1h-1m-8-19h1v1h-1m-3 6.5h1v1h-1m19.5-3h1v1h-1m-1-3h1v1h-1m-1 0.5h1v1h-1m-11-7.5h1v1h-1m9-2h1v1h-1m0.5-2h1v1h-1m1 11.5h1v1h-1m-12 9h1v1h-1m13-18h1v1h-1m-13-6.5h1v1h-1m14.5 7h1v1h-1m-18.5 6.5h1v1h-1m13.5-17.5h1v1h-1m-2-1.5h1v1h-1m-1-2.5h1v1h-1m-1 1h1v1h-1m-9.5 11.5h1v1h-1m-1.5-2.5h1v1h-1m-0.5 1h1v1h-1m18.5-8h1v1h-1m-12.5-4h1v1h-1m-2.5 1.5h1v1h-1m14.5 3h1v1h-1m2-2h1v1h-1m-5.5-11h1v1h-1m-12 21.5h1v1h-1m3.5-21h1v1h-1m4.5 22h1v1h-1m-4.5-23h1v1h-1m13.5 3h1v1h-1m-13-6.5h1v1h-1m6.5-3h1v1h-1m-13 17.5h1v1h-1m7.5 4.5h1v1h-1m8-21.5h1v1h-1m-11.5 2h1v1h-1m13.5-4h1v1h-1m-6.5 19h1v1h-1m-8-1.5h1v1h-1m-1-6.5h1v1h-1m17-5h1v1h-1m-16 6.5h1v1h-1m15-18h1v1h-1m0-1.5h1v1h-1m1 1h1v1h-1m-13-2.5h1v1h-1m14 8.5h1v1h-1m-6.5-15h1v1h-1m-6.5 23h1v1h-1m7.5-23.5h1v1h-1m-6 23h1v1h-1m10.5-15h1v1h-1m-12 13h1v1h-1m5-26h1v1h-1m8.5 10.5h1v1h-1m0 2.5h1v1h-1m-13 8h1v1h-1m-2-1.5h1v1h-1m-3-6.5h1v1h-1m17.5-13h1v1h-1m-16.5 15.5h1v1h-1m2-20h1v1h-1m13.5 8.5h1v1h-1m-11 10.5h1v1h-1m10-12.5h1v1h-1m0.5-4h1v1h-1m-3.5-9.5h1v1h-1m-13.5 14.5h1v1h-1m2 4.5h1v1h-1m11-21.5h1v1h-1m-2-2h1v1h-1m-6 23h1v1h-1m3-3h1v1h-1m0.5-0.5h1v1h-1m7-20.5h1v1h-1m-15.5 15h1v1h-1m18-14.5h1v1h-1m0.5 5h1v1h-1m-13.5 10.5h1v1h-1m-3-19.5h1v1h-1m6 17.5h1v1h-1m-8-12.5h1v1h-1m16-10.5h1v1h-1m-15.5 11h1v1h-1m8.5 7.5h1v1h-1m2 0.5h1v1h-1m-10-9h1v1h-1m0-2.5h1v1h-1m9.5-15.5h1v1h-1m-8 4h1v1h-1m12.5-2.5h1v1h-1m-14 13.5h1v1h-1m68 37.5h1v1h-1m0 1.5h1v1h-1m-4-2h1v1h-1m3-8.5h1v1h-1m0 8h1v1h-1m3-1h1v1h-1m-2.5-1h1v1h-1m-1.5-10h1v1h-1m-1.5 4h1v1h-1m3.5-4.5h1v1h-1m-2 6.5h1v1h-1m4-11h1v1h-1m-2.5-1h1v1h-1m0-0.5h1v1h-1m-1-1h1v1h-1m1 0h1v1h-1m-0.5 1h1v1h-1m0.5-2.5h1v1h-1m-1.5-3h1v1h-1m4 7.5h1v1h-1m-6.5-2h1v1h-1m3.5 1.5h1v1h-1m1-8.5h1v1h-1m-2.5 6.5h1v1h-1m3-11h1v1h-1m0.5 2.5h1v1h-1m-3.5-6h1v1h-1m4.5 0h1v1h-1m-2-0.5h1v1h-1m-1 9h1v1h-1m-3.5-4h1v1h-1m2.5-4.5h1v1h-1m4-3h1v1h-1m-5 1h1v1h-1m4 3h1v1h-1m-1 2.5h1v1h-1m1.5-3h1v1h-1m-0.5-3.5h1v1h-1m-4.5-2.5h1v1h-1m2.5-3h1v1h-1m-1 6.5h1v1h-1m0.5-9.5h1v1h-1m0 7.5h1v1h-1m1-1.5h1v1h-1m0.5-4.5h1v1h-1m-3.5 1h1v1h-1m3.5-9.5h1v1h-1m1 0h1v1h-1m0 9.5h1v1h-1m-1-12h1v1h-1m-5 6.5h1v1h-1m6 1h1v1h-1m-4.5-2h1v1h-1m2 0.5h1v1h-1m2-4h1v1h-1m1.5 1.5h1v1h-1m-4-2h1v1h-1m1-7h1v1h-1m0 5.5h1v1h-1m-2 0.5h1v1h-1m1.5-11h1v1h-1m3 8.5h1v1h-1m-4.5-5.5h1v1h-1m4-7h1v1h-1m-1 1.5h1v1h-1m-0.5-1.5h1v1h-1m2 3h1v1h-1m-5.5-0.5h1v1h-1m1.5-4.5h1v1h-1m-1.5 1.5h1v1h-1m2.5-5h1v1h-1m-1.5 2h1v1h-1m-1-0.5h1v1h-1m3.5-5.5h1v1h-1m1-1h1v1h-1m-2.5 7.5h1v1h-1m-2-4h1v1h-1m-0.5 1.5h1v1h-1m3.5 1h1v1h-1m2.5-11h1v1h-1m-4.5 6.5h1v1h-1m3.5-10.5h1v1h-1m-4.5 9h1v1h-1m1.5-7h1v1h-1m4.5 4h1v1h-1m-4-6.5h1v1h-1m-0.5-1.5h1v1h-1m4 0.5h1v1h-1m-4.5-4h1v1h-1m3 9h1v1h-1m1.5-2h1v1h-1m-1.5-7.5h1v1h-1m1 7.5h1v1h-1m-1-4h1v1h-1m-3.5-3.5h1v1h-1m-1-1.5h1v1h-1m1.5-7h1v1h-1m1 9h1v1h-1m-1.5-6h1v1h-1m-1 3h1v1h-1m5.5-1.5h1v1h-1m-4-2h1v1h-1m2-7.5h1v1h-1m-0.5 1.5h1v1h-1m-0.5-1h1v1h-1m-1.5 1.5h1v1h-1m-2 0.5h1v1h-1m5.5 4h1v1h-1m-2.5-9h1v1h-1m1-1.5h1v1h-1m1-4h1v1h-1m1 1h1v1h-1m0.5-1h1v1h-1m1-1h1v1h-1m-0.5 4.5h1v1h-1m-1.5-1h1v1h-1m-1.5-5.5h1v1h-1m2-4h1v1h-1m-1-0.5h1v1h-1m1 1.5h1v1h-1m0.5-3h1v1h-1m-5.5 3h1v1h-1m1.5 4h1v1h-1m1.5-12h1v1h-1m2 10h1v1h-1m-2.5-12h1v1h-1m0.5 3h1v1h-1m2-4.5h1v1h-1m0 10.5h1v1h-1m0-12.5h1v1h-1m-1 0h1v1h-1m-0.5 0h1v1h-1m-0.5 7h1v1h-1m0-1h1v1h-1m-2-4.5h1v1h-1m3-5h1v1h-1m-1.5 6h1v1h-1m-2-5h1v1h-1m6-5h1v1h-1m-7 6h1v1h-1m7-10h1v1h-1m-2 11h1v1h-1m2-4.5h1v1h-1m-4.5 1h1v1h-1m1-10.5h1v1h-1m2-1.5h1v1h-1m-3.5 9h1v1h-1m-0.5-6h1v1h-1m0 2.5h1v1h-1m1.5 0.5h1v1h-1m4-2h1v1h-1m-1-7h1v1h-1m-3 7h1v1h-1m-2-7h1v1h-1m3-2.5h1v1h-1m2.5 3.5h1v1h-1m-1-2h1v1h-1m-2 1.5h1v1h-1m1.5-1h1v1h-1m1.5-11h1v1h-1m-2 2.5h1v1h-1m0 4.5h1v1h-1m0-9.5h1v1h-1m-3 7.5h1v1h-1m1-6.5h1v1h-1m-0.5 2.5h1v1h-1m4.5-4.5h1v1h-1m-4-2h1v1h-1m0-1h1v1h-1m4 7h1v1h-1m0.5-10.5h1v1h-1m-5 10.5h1v1h-1m1.5-3h1v1h-1m3-11.5h1v1h-1m-6.5 7h1v1h-1m3-6.5h1v1h-1m-3.5 4.5h1v1h-1m7.5-0.5h1v1h-1m-2 1h1v1h-1m-0.5-7h1v1h-1m0.5 2.5h1v1h-1m-5-3h1v1h-1m1.5 0.5h1v1h-1m5-8h1v1h-1m-1 2h1v1h-1m0.5-2.5h1v1h-1m0.5 0.5h1v1h-1m-1.5-4.5h1v1h-1m-5.5 7.5h1v1h-1m3.5-10h1v1h-1m-2.5 6h1v1h-1m4.5 0.5h1v1h-1m-0.5-6h1v1h-1m1.5 6.5h1v1h-1m-0.5-2h1v1h-1m1.5-11h1v1h-1m-4 0.5h1v1h-1m-0.5-1h1v1h-1m-1 3h1v1h-1m3 2h1v1h-1m1-9h1v1h-1m-2 0h1v1h-1m1-1.5h1v1h-1m0 11h1v1h-1m-4.5-4.5h1v1h-1m3-5.5h1v1h-1m4 5.5h1v1h-1m-5.5-5.5h1v1h-1m4-4.5h1v1h-1m1.5-0.5h1v1h-1m-3.5 6h1v1h-1m2.5-1.5h1v1h-1m-0.5-8.5h1v1h-1m1.5 4.5h1v1h-1m-0.5-1.5h1v1h-1m-0.5-1h1v1h-1m-63.5-42h1v1h-1m-1.5-2h1v1h-1m2.5 2.5h1v1h-1m2-6h1v1h-1" fill="#0093ff"/>
<path d="M60.5 515.5h1v1h-1m5.5-4h1v1h-1m-2.5-16h1v1h-1m-7.5 2.5h1v1h-1m9.5 12h1v1h-1m0.5-0.5h1v1h-1m-13.5-3h1v1h-1m0-10h1v1h-1m10.5 11h1v1h-1m-10-10h1v1h-1m12.5-6.5h1v1h-1m-1.5 13h1v1h-1m-1.5-17.5h1v1h-1m-9.5 14h1v1h-1m0.5-2h1v1h-1m-0.5-9h1v1h-1m0.5 8.5h1v1h-1m9 0h1v1h-1m1-17.5h1v1h-1m-6.5 0h1v1h-1m3 14.5h1v1h-1m-2.5-17h1v1h-1m9.5 13.5h1v1h-1m-7 0.5h1v1h-1m-7-10h1v1h-1m3-6.5h1v1h-1m11.5 13h1v1h-1m-6.5 0h1v1h-1m-8-12h1v1h-1m1.5 0h1v1h-1m9.5-9.5h1v1h-1m-10 6h1v1h-1m7 10.5h1v1h-1m4-16.5h1v1h-1m-10.5 5.5h1v1h-1m-2-3.5h1v1h-1m14 7.5h1v1h-1m-14-11h1v1h-1m14.5 10h1v1h-1m-13.5-11.5h1v1h-1m0.5 8.5h1v1h-1m11-2h1v1h-1m-0.5-14h1v1h-1m1 11h1v1h-1m-0.5 0.5h1v1h-1m-9-13.5h1v1h-1m10 10.5h1v1h-1m-11.5-7h1v1h-1m7.5 9h1v1h-1m1.5-0.5h1v1h-1m3-6h1v1h-1m-0.5 3h1v1h-1m-0.5-5.5h1v1h-1m-13-7h1v1h-1m11.5-6.5h1v1h-1m3 0.5h1v1h-1m-4.5 15h1v1h-1m1.5-19.5h1v1h-1m-3 18h1v1h-1m6.5-18h1v1h-1m-4.5 14.5h1v1h-1m-10.5-12.5h1v1h-1m13-4.5h1v1h-1m-13 5.5h1v1h-1m1-2h1v1h-1m-1 0h1v1h-1m5-10.5h1v1h-1m8.5 13.5h1v1h-1m-12-8h1v1h-1m12.5 7.5h1v1h-1m-7-15.5h1v1h-1m-5 14h1v1h-1m12.5-4.5h1v1h-1m-0.5 3h1v1h-1m0-4.5h1v1h-1m-14 1h1v1h-1m0.5 1h1v1h-1m14.5-1.5h1v1h-1m-2.5 2h1v1h-1m-13-12h1v1h-1m0.5 6h1v1h-1m10.5 1.5h1v1h-1m-6-15h1v1h-1m0-1.5h1v1h-1m9.5-2.5h1v1h-1m-1-0.5h1v1h-1m-8.5-1.5h1v1h-1m-5 12h1v1h-1m10.5 4h1v1h-1m-9-14.5h1v1h-1m12.5 5.5h1v1h-1m-10.5-11h1v1h-1m-2 3.5h1v1h-1m7 10.5h1v1h-1m5-17h1v1h-1m-11 2.5h1v1h-1m7.5 11h1v1h-1m4.5-17.5h1v1h-1m-14 6.5h1v1h-1m4.5-8h1v1h-1m8-1h1v1h-1m-2-2.5h1v1h-1m1-2h1v1h-1m-10 6.5h1v1h-1m7 10.5h1v1h-1m-6-16h1v1h-1m-1.5 1h1v1h-1m-1 9h1v1h-1m7-16.5h1v1h-1m-6 5h1v1h-1m4-7h1v1h-1m9 1h1v1h-1m-13.5 3.5h1v1h-1m3-3.5h1v1h-1m5.5 14h1v1h-1m-5.5-18.5h1v1h-1m11.5-1h1v1h-1m-5-1.5h1v1h-1m-9 2h1v1h-1m1 10h1v1h-1m10.5 1h1v1h-1m0-14.5h1v1h-1m-11 10h1v1h-1m1.5-12.5h1v1h-1m8 14h1v1h-1m-2-1.5h1v1h-1m6-4h1v1h-1m-4.5-15.5h1v1h-1m3.5 13.5h1v1h-1m1 1h1v1h-1m-3.5 0.5h1v1h-1m2.5-3.5h1v1h-1m-6.5-15.5h1v1h-1m2 17.5h1v1h-1m-10-15.5h1v1h-1m3-3.5h1v1h-1m4.5-3.5h1v1h-1m6.5 12h1v1h-1m-14 0.5h1v1h-1m13-2.5h1v1h-1m-11.5 1h1v1h-1m5-16.5h1v1h-1m8.5 15.5h1v1h-1m-15-9.5h1v1h-1m3.5-5.5h1v1h-1m6 15h1v1h-1m2.5-19.5h1v1h-1m1.5 11h1v1h-1m0-12h1v1h-1m-7-3h1v1h-1m8 2h1v1h-1m-4.5 15h1v1h-1m-9.5-4.5h1v1h-1m13-2h1v1h-1m-2.5-15h1v1h-1m-0.5-1.5h1v1h-1m1 16.5h1v1h-1m-11.5-12.5h1v1h-1m15 9h1v1h-1m-13.5-12.5h1v1h-1m12-2.5h1v1h-1m1.5 12h1v1h-1m-11.5-14h1v1h-1m0.5-1.5h1v1h-1m-3.5 13.5h1v1h-1m0-11.5h1v1h-1m9.5 11.5h1v1h-1m-8-14h1v1h-1m2.5-3h1v1h-1m3.5 13.5h1v1h-1m5-7.5h1v1h-1m-7-11.5h1v1h-1m7 14.5h1v1h-1m-4.5 1.5h1v1h-1m-2.5-21h1v1h-1m1 0.5h1v1h-1m5.5 15.5h1v1h-1m0-18h1v1h-1m-10 4h1v1h-1m4-5h1v1h-1m6 16h1v1h-1m-1.5-0.5h1v1h-1m-5-20h1v1h-1m2 18.5h1v1h-1m5.5-5.5h1v1h-1m0-2h1v1h-1m1 2h1v1h-1m-13.5-2.5h1v1h-1m0.5 0.5h1v1h-1m11-17.5h1v1h-1m2.5 12h1v1h-1m-0.5-11h1v1h-1m0 8h1v1h-1m-6 5h1v1h-1m5-4h1v1h-1m0 0.5h1v1h-1m1-13.5h1v1h-1m-3.5 12.5h1v1h-1m1-1.5h1v1h-1m-1-1h1v1h-1m2-5.5h1v1h-1m-1.5-13.5h1v1h-1m4 11h1v1h-1m-14-5h1v1h-1m11.5 4.5h1v1h-1m-2.5-14h1v1h-1m-0.5 16.5h1v1h-1m-9-14h1v1h-1m1 2h1v1h-1m4-8.5h1v1h-1m9 13.5h1v1h-1m-3.5 1.5h1v1h-1m-11-3.5h1v1h-1m14-14h1v1h-1m-12.5 1h1v1h-1m12-3h1v1h-1m-13.5 13h1v1h-1m13.5-14.5h1v1h-1m-1-0.5h1v1h-1m-7-3.5h1v1h-1m3.5 16h1v1h-1m-9-10.5h1v1h-1m14 3.5h1v1h-1m-4 4h1v1h-1m4-3.5h1v1h-1m51 39h1v1h-1m2-2h1v1h-1m-0.5-4h1v1h-1m1.5-0.5h1v1h-1m0-0.5h1v1h-1m-3 0.5h1v1h-1m2.5-2.5h1v1h-1m2-1h1v1h-1m-2.5 0.5h1v1h-1m-2-3.5h1v1h-1m0 0.5h1v1h-1m1.5-1h1v1h-1m2.5-1.5h1v1h-1m-3-0.5h1v1h-1m0.5 2.5h1v1h-1m-2-2h1v1h-1m0.5-3.5h1v1h-1m2-1h1v1h-1m-2.5 1h1v1h-1m0.5-2h1v1h-1m0-1.5h1v1h-1m0.5 1.5h1v1h-1m0.5-3.5h1v1h-1m1.5-1h1v1h-1m-1.5 2h1v1h-1m0-2.5h1v1h-1m0-1.5h1v1h-1m0 0h1v1h-1m-0.5-1.5h1v1h-1m1-2h1v1h-1m2-2h1v1h-1m1-2h1v1h-1m0-1h1v1h-1m-5 3h1v1h-1m0.5-5h1v1h-1m1-1h1v1h-1m3.5-1h1v1h-1m-4.5-0.5h1v1h-1m3.5-1h1v1h-1m-3.5-0.5h1v1h-1m0 2h1v1h-1m1.5-1.5h1v1h-1m-2-4.5h1v1h-1m3-1.5h1v1h-1m-1 2h1v1h-1m2-2h1v1h-1m-1-3.5h1v1h-1m-0.5 1.5h1v1h-1m-2 1h1v1h-1m4.5-4h1v1h-1m0-1h1v1h-1m-4 1h1v1h-1m2.5-3.5h1v1h-1m-3 0h1v1h-1m2.5-2.5h1v1h-1m-3 1h1v1h-1m1.5 1h1v1h-1m0.5-2h1v1h-1m3-2h1v1h-1m-3.5 1.5h1v1h-1m0-3.5h1v1h-1m-0.5-3h1v1h-1m2.5-0.5h1v1h-1m-1-1h1v1h-1m1 0h1v1h-1m1-0.5h1v1h-1m-1.5-2h1v1h-1m-2 1h1v1h-1m1-1h1v1h-1m-0.5 0.5h1v1h-1m-0.5-6h1v1h-1m3 1.5h1v1h-1m0-1h1v1h-1m-2.5-1.5h1v1h-1m-1-3h1v1h-1m0 4h1v1h-1m0-5.5h1v1h-1" fill="#00f9ff"/>
<path d="M64 512.5h1v1h-1m-5 3.5h1v1h-1m1-19h1v1h-1m-4 17h1v1h-1m4.5-21.5h1v1h-1m2.5 15.5h1v1h-1m-6 2h1v1h-1m-3.5-6.5h1v1h-1m3.5 5h1v1h-1m8.5-10.5h1v1h-1m-0.5-0.5h1v1h-1m2.5 0h1v1h-1m0-2h1v1h-1m-11 8.5h1v1h-1m3-2.5h1v1h-1m2.5-19.5h1v1h-1m4 6.5h1v1h-1m-13.5 2h1v1h-1m12 6h1v1h-1m-11.5-5h1v1h-1m7-12.5h1v1h-1m-5.5 7.5h1v1h-1m8-11h1v1h-1m-3.5 17h1v1h-1m-6.5-5.5h1v1h-1m1.5-2.5h1v1h-1m12.5-3h1v1h-1m-8 7.5h1v1h-1m4-4.5h1v1h-1m-8-3.5h1v1h-1m13-8.5h1v1h-1m-10 13.5h1v1h-1m8-8.5h1v1h-1m-11.5 0.5h1v1h-1m12.5-2.5h1v1h-1m-12.5 1.5h1v1h-1m13-7h1v1h-1m-5-8.5h1v1h-1m-9.5 10h1v1h-1m2 0h1v1h-1m-1.5-1.5h1v1h-1m13-7.5h1v1h-1m-13.5 2.5h1v1h-1m13.5-5h1v1h-1m-8.5 11h1v1h-1m-3-5.5h1v1h-1m13-4.5h1v1h-1m-10.5 7.5h1v1h-1m-4.5-8h1v1h-1m10 4.5h1v1h-1m-1.5-16.5h1v1h-1m-4 15.5h1v1h-1m10-8h1v1h-1m-2-3.5h1v1h-1m0.5-4h1v1h-1m-10 13.5h1v1h-1m-3.5-7h1v1h-1m2 0h1v1h-1m9.5 2h1v1h-1m-10.5-4h1v1h-1m12.5-7.5h1v1h-1m2-3.5h1v1h-1m-9.5 11h1v1h-1m-4.5-8.5h1v1h-1m9 4.5h1v1h-1m4-12h1v1h-1m0 6h1v1h-1m-9.5 7h1v1h-1m5.5-19.5h1v1h-1m-0.5-1h1v1h-1m2.5 14h1v1h-1m1.5-7.5h1v1h-1m-0.5 1.5h1v1h-1m-6.5 5.5h1v1h-1m1.5-19h1v1h-1m-7 11h1v1h-1m13-7.5h1v1h-1m-9.5 11h1v1h-1m2.5-1.5h1v1h-1m2.5-17h1v1h-1m-1.5-2h1v1h-1m5 5.5h1v1h-1m-12.5 3.5h1v1h-1m13.5-4h1v1h-1m0-1h1v1h-1m-13 4h1v1h-1m0 0h1v1h-1m4.5 2.5h1v1h-1m-6-7h1v1h-1m14.5-8h1v1h-1m1 1h1v1h-1m0-2h1v1h-1m-7-8h1v1h-1m4 15h1v1h-1m1.5-8.5h1v1h-1m-0.5 2h1v1h-1m1-6.5h1v1h-1m-14 7h1v1h-1m13.5-9.5h1v1h-1m-10.5 13.5h1v1h-1m-1-10h1v1h-1m7-11.5h1v1h-1m-2 17.5h1v1h-1m-0.5-1.5h1v1h-1m2.5-17h1v1h-1m4.5 4h1v1h-1m-0.5 4.5h1v1h-1m-13-2.5h1v1h-1m13.5-2.5h1v1h-1m-12.5 3h1v1h-1m3 3.5h1v1h-1m-4-7.5h1v1h-1m14-3h1v1h-1m-10.5 7.5h1v1h-1m7-2h1v1h-1m-5.5 1.5h1v1h-1m8-15h1v1h-1m-12.5 4h1v1h-1m-1 2.5h1v1h-1m2.5-2h1v1h-1m-2.5-0.5h1v1h-1m14-4.5h1v1h-1m-0.5-4.5h1v1h-1m-1.5 9h1v1h-1m-5.5 0.5h1v1h-1m1.5-19h1v1h-1m5.5 5h1v1h-1m-3-6h1v1h-1m3.5 5.5h1v1h-1m-4-7h1v1h-1m4 7h1v1h-1m-11.5 2.5h1v1h-1m4 5.5h1v1h-1m-4-9h1v1h-1m0-1h1v1h-1m12.5-4.5h1v1h-1m-3.5 8h1v1h-1m-2.5-16.5h1v1h-1m-0.5-1.5h1v1h-1m-2.5 17h1v1h-1m-3-1h1v1h-1m9.5-4h1v1h-1m-2.5-15h1v1h-1m-7.5 10.5h1v1h-1m6.5-15h1v1h-1m-8 10h1v1h-1m6 8h1v1h-1m0-2h1v1h-1m-3.5 0.5h1v1h-1m11.5-15h1v1h-1m-3 9h1v1h-1m-11.5-2.5h1v1h-1m1.5-0.5h1v1h-1m8-16.5h1v1h-1m-1-0.5h1v1h-1m6.5 8h1v1h-1m-1.5-3h1v1h-1m-9.5 11h1v1h-1m-1-2h1v1h-1m10-13h1v1h-1m-9.5 11h1v1h-1m10-13h1v1h-1m-1-1h1v1h-1m-10 13h1v1h-1m10.5-11.5h1v1h-1m-1.5 5h1v1h-1m3-11.5h1v1h-1m-1.5 1.5h1v1h-1m-0.5 0h1v1h-1m1 0.5h1v1h-1m-7 7.5h1v1h-1m-5-9h1v1h-1m13 0.5h1v1h-1m-1-7.5h1v1h-1m0.5 0.5h1v1h-1m1 2h1v1h-1m-10.5 8h1v1h-1m0-2h1v1h-1m7-1.5h1v1h-1m-11-4.5h1v1h-1m9.5 0.5h1v1h-1m-3 3.5h1v1h-1m0.5-1.5h1v1h-1m3-3h1v1h-1m2-11.5h1v1h-1m-7.5 12.5h1v1h-1m9-10.5h1v1h-1m-2 4.5h1v1h-1m-6.5 2h1v1h-1m1.5-0.5h1v1h-1m1-20h1v1h-1m6 6h1v1h-1m-1-2h1v1h-1m2-2h1v1h-1m-15 4h1v1h-1m14.5-4h1v1h-1m-2 0h1v1h-1m-9 9h1v1h-1m11.5-9h1v1h-1m-6-11h1v1h-1m-2.5 18h1v1h-1m-3.5-2.5h1v1h-1m11-8.5h1v1h-1m-4 5.5h1v1h-1m-2.5-17h1v1h-1m-5.5 8h1v1h-1m6-9.5h1v1h-1m5.5 2.5h1v1h-1m-14 6h1v1h-1m14-2.5h1v1h-1m0 0h1v1h-1m-0.5-7h1v1h-1m0.5 0.5h1v1h-1m-9 11.5h1v1h-1m1.5-1.5h1v1h-1m0-2h1v1h-1m6-3h1v1h-1m-12-5.5h1v1h-1m2-1.5h1v1h-1" fill="#60ff9e"/>
<path d="M55.5 503.5h1v1h-1m0.5-2.5h1v1h-1m8 0h1v1h-1m-5.5-3.5h1v1h-1m2.5-1h1v1h-1m3.5 2h1v1h-1m-1-2.5h1v1h-1m-0.5 0h1v1h-1m-8-1.5h1v1h-1m8-1h1v1h-1m-1-2.5h1v1h-1m2.5-1.5h1v1h-1m-3-0.5h1v1h-1m-0.5 0h1v1h-1m0.5-2.5h1v1h-1m-2-1h1v1h-1m-0.5-0.5h1v1h-1m-3.5 0.5h1v1h-1m7-4.5h1v1h-1m1 4h1v1h-1m-5-4h1v1h-1m4.5 0.5h1v1h-1m-4-3.5h1v1h-1m5.5-0.5h1v1h-1m-7 0h1v1h-1m6.5 0h1v1h-1m-8-1h1v1h-1m0.5-1h1v1h-1m6 0h1v1h-1m-7.5 0h1v1h-1m3-4h1v1h-1m0.5-2h1v1h-1m-0.5-1.5h1v1h-1m5 1h1v1h-1m0-0.5h1v1h-1m-5.5-3.5h1v1h-1m0-1.5h1v1h-1m-1.5 2h1v1h-1m2.5-4h1v1h-1m2 0.5h1v1h-1m-5 0.5h1v1h-1m6.5-3h1v1h-1m2.5 2h1v1h-1m-8-1.5h1v1h-1m2-2.5h1v1h-1m-0.5-2h1v1h-1m5.5 3h1v1h-1m-5.5-6h1v1h-1m0.5-1h1v1h-1m-1 0h1v1h-1m5.5-1.5h1v1h-1m1 1h1v1h-1m-0.5 0h1v1h-1m-4.5-4h1v1h-1m0 0.5h1v1h-1m-2.5 1h1v1h-1m7-2.5h1v1h-1m1-2h1v1h-1m-5-0.5h1v1h-1m-0.5-2.5h1v1h-1m-2.5 2.5h1v1h-1m4.5-3.5h1v1h-1m-3-2h1v1h-1m-1.5 2h1v1h-1m6.5-2h1v1h-1m-6.5 0h1v1h-1m7.5-4.5h1v1h-1m-2 1.5h1v1h-1m-5.5 0.5h1v1h-1m7-5h1v1h-1m-4-1h1v1h-1m0 0h1v1h-1m5.5-1h1v1h-1m-1 0.5h1v1h-1m-3-2.5h1v1h-1m2.5-0.5h1v1h-1m0-0.5h1v1h-1m0.5 1.5h1v1h-1m-1.5-4.5h1v1h-1m-4.5-1h1v1h-1m0.5 0h1v1h-1m1-1.5h1v1h-1m4 1.5h1v1h-1m-8.5-2.5h1v1h-1m1-1h1v1h-1m1-2h1v1h-1m4-1.5h1v1h-1m-1-2h1v1h-1m-2 0h1v1h-1m1-1h1v1h-1m0.5-1h1v1h-1m3.5 1h1v1h-1m-0.5 0.5h1v1h-1m-7-2.5h1v1h-1m6-3h1v1h-1m2 2.5h1v1h-1m-8.5-1.5h1v1h-1m8.5-2.5h1v1h-1m0.5-1.5h1v1h-1m-1 1h1v1h-1m-3.5-4.5h1v1h-1m-2-1h1v1h-1m6 1.5h1v1h-1m-0.5-1h1v1h-1m-6.5-0.5h1v1h-1m8.5-1.5h1v1h-1m-1.5-2.5h1v1h-1m-8.5 2h1v1h-1m9.5-1h1v1h-1m-6.5-3.5h1v1h-1m3.5-2h1v1h-1m-4.5 1.5h1v1h-1m4-2.5h1v1h-1m-0.5-2h1v1h-1m0.5-1h1v1h-1m2-0.5h1v1h-1m0-2h1v1h-1m-0.5 3h1v1h-1m0.5-3h1v1h-1m-8-1h1v1h-1m5-3.5h1v1h-1m4 0.5h1v1h-1m-3.5-2h1v1h-1m4-1.5h1v1h-1m-6-0.5h1v1h-1m-1.5 1.5h1v1h-1m3-3h1v1h-1m1-1h1v1h-1m-3.5 0h1v1h-1m1.5-3h1v1h-1m4.5 2h1v1h-1m0.5-2h1v1h-1m-6.5-3h1v1h-1m5.5 0.5h1v1h-1m0.5-2.5h1v1h-1m-3-1h1v1h-1m-5.5 2h1v1h-1" fill="#d1ff2d"/>
<path d="M59 504h1v1h-1m5 6h1v1h-1m1-1.5h1v1h-1m-9 3h1v1h-1m7-8.5h1v1h-1m-3.5 4.5h1v1h-1m-2.5-11h1v1h-1m8 5.5h1v1h-1m-2.5-2h1v1h-1m-0.5 3.5h1v1h-1m-3.5-10h1v1h-1m-1.5 9.5h1v1h-1m5.5-11.5h1v1h-1m-5.5 0.5h1v1h-1m-0.5 8h1v1h-1m6.5-5.5h1v1h-1m2-4h1v1h-1m-7 5h1v1h-1m1-1.5h1v1h-1m1.5-10.5h1v1h-1m-3.5 9.5h1v1h-1m-0.5 0.5h1v1h-1m1-2.5h1v1h-1m6.5-7.5h1v1h-1m-1.5-3.5h1v1h-1m-1 9h1v1h-1m-2-12h1v1h-1m-4.5 0.5h1v1h-1m3.5 8.5h1v1h-1m5.5-5.5h1v1h-1m-8-6h1v1h-1m-0.5 7h1v1h-1m1-7.5h1v1h-1m0 5h1v1h-1m-1.5 1.5h1v1h-1m0.5-2.5h1v1h-1m9-5h1v1h-1m-1-1.5h1v1h-1m-1-2h1v1h-1m-1.5 5h1v1h-1m-1.5-10h1v1h-1m-0.5-1.5h1v1h-1m1 7.5h1v1h-1m2.5-3h1v1h-1m-6-4.5h1v1h-1m7-3h1v1h-1m1.5 4h1v1h-1m-2.5-4h1v1h-1m-2 5.5h1v1h-1m1.5-10h1v1h-1m2.5-1h1v1h-1m-7 7.5h1v1h-1m-1-8.5h1v1h-1m6-0.5h1v1h-1m1.5 0.5h1v1h-1m-8-2.5h1v1h-1m1.5 6h1v1h-1m5-3.5h1v1h-1m0-4.5h1v1h-1m-5.5 4.5h1v1h-1m6.5-6h1v1h-1m-8.5 6h1v1h-1m3-2.5h1v1h-1m2-12h1v1h-1m-4 2.5h1v1h-1m8.5 1h1v1h-1m-8.5-2.5h1v1h-1m4.5 7h1v1h-1m3-3.5h1v1h-1m1-7h1v1h-1m-8.5 7h1v1h-1m6.5-7.5h1v1h-1m1-1h1v1h-1m0.5 3.5h1v1h-1m-5 2h1v1h-1m5-10h1v1h-1m-1-0.5h1v1h-1m-8 5.5h1v1h-1m6-9.5h1v1h-1m-1.5-2h1v1h-1m1.5-2h1v1h-1m-3.5 9.5h1v1h-1m-1.5-8h1v1h-1m7 3.5h1v1h-1m-5 3.5h1v1h-1m1-13.5h1v1h-1m5 6h1v1h-1m-4.5-8h1v1h-1m-0.5 1h1v1h-1m2-3h1v1h-1m-5 4h1v1h-1m4.5 5h1v1h-1m1.5 0h1v1h-1m0.5-11.5h1v1h-1m-0.5-2.5h1v1h-1m0 1.5h1v1h-1m-6.5 0.5h1v1h-1m1.5-0.5h1v1h-1m4 6.5h1v1h-1m-2-11h1v1h-1m3.5 1.5h1v1h-1m0.5-2h1v1h-1m0 5h1v1h-1m-2-10h1v1h-1m3 1h1v1h-1m-2-2h1v1h-1m-3.5 8.5h1v1h-1m-3.5-9h1v1h-1m9.5 3h1v1h-1m-3 3h1v1h-1m-4-11h1v1h-1m7 8h1v1h-1m-2-6.5h1v1h-1m0-4.5h1v1h-1m-7 8.5h1v1h-1m8-6.5h1v1h-1m-6.5 4.5h1v1h-1m4.5-11.5h1v1h-1m-7 10.5h1v1h-1m8.5-5.5h1v1h-1m1 0.5h1v1h-1m-7.5-7h1v1h-1m6-2h1v1h-1m0.5 4h1v1h-1m-4.5 3.5h1v1h-1m3 0.5h1v1h-1m-2.5-2h1v1h-1m-2-1h1v1h-1m-0.5-9h1v1h-1m5.5 6.5h1v1h-1m0.5-1h1v1h-1m-4-12h1v1h-1m6.5 8.5h1v1h-1m-9 1.5h1v1h-1m8.5-5.5h1v1h-1m-9.5-4h1v1h-1m1.5 5h1v1h-1m-2 1h1v1h-1m2-8.5h1v1h-1m-1-2.5h1v1h-1m7.5 4h1v1h-1m0-3h1v1h-1m-2-6h1v1h-1m-6 9.5h1v1h-1m9.5-5.5h1v1h-1m-5.5-8.5h1v1h-1m2-1h1v1h-1m-0.5 1h1v1h-1m-3-3h1v1h-1m6 5.5h1v1h-1m0.5-3.5h1v1h-1m-8.5 0h1v1h-1m9 0.5h1v1h-1m-2.5-6.5h1v1h-1m-5 10h1v1h-1m4.5-2.5h1v1h-1m-5.5-7h1v1h-1m4.5-5.5h1v1h-1m0.5 11.5h1v1h-1m-2.5-12h1v1h-1m-2.5 10h1v1h-1m4-2.5h1v1h-1m-0.5-12h1v1h-1m-4.5 3.5h1v1h-1m8.5-2h1v1h-1m-6-2h1v1h-1m3-3.5h1v1h-1m-0.5 1.5h1v1h-1m3.5 1.5h1v1h-1m-3.5-6h1v1h-1m0 0.5h1v1h-1m1-2h1v1h-1m-3.5 10.5h1v1h-1m7-3h1v1h-1m-6.5-11h1v1h-1m6 3.5h1v1h-1m-7-2.5h1v1h-1m-1.5 8h1v1h-1m8.5-5.5h1v1h-1m-1 1h1v1h-1m-3 1h1v1h-1m2.5-8.5h1v1h-1m-3.5 6.5h1v1h-1m5.5-9h1v1h-1m-1 0.5h1v1h-1m-1.5 4.5h1v1h-1m2.5-5h1v1h-1m-5 4h1v1h-1m-2.5-8.5h1v1h-1m3 6h1v1h-1m4-5h1v1h-1m-4.5-8h1v1h-1m1.5 0.5h1v1h-1m-3.5-0.5h1v1h-1m-3 0h1v1h-1m1.5 8.5h1v1h-1m7-6.5h1v1h-1m-4.5 2h1v1h-1m-1.5 0h1v1h-1m-2-2h1v1h-1m4 1h1v1h-1m-3-2h1v1h-1m2.5-10h1v1h-1m4 5h1v1h-1m-2 1.5h1v1h-1m-1.5-1h1v1h-1m0-9.5h1v1h-1m3-1h1v1h-1m-3-2h1v1h-1m3.5 3.5h1v1h-1m0.5-3.5h1v1h-1m-7.5 0.5h1v1h-1m8 0.5h1v1h-1m-4.5-5.5h1v1h-1m5 4h1v1h-1m-2 4.5h1v1h-1m0-0.5h1v1h-1m-1-13h1v1h-1m2.5 4.5h1v1h-1m-2.5-5h1v1h-1m-6.5 0h1v1h-1m2 0h1v1h-1m1 7.5h1v1h-1m3-2h1v1h-1m3.5-8h1v1h-1m-4.5 6.5h1v1h-1m4-9.5h1v1h-1m-8.5 7.5h1v1h-1m8-3.5h1v1h-1m-3-8.5h1v1h-1m4.5 0h1v1h-1m-8 8.5h1v1h-1m6.5-3.5h1v1h-1m0.5-6h1v1h-1m-3-4h1v1h-1m-2.5-1h1v1h-1m4 7.5h1v1h-1m-2 0.5h1v1h-1m1.5-12h1v1h-1m2 4h1v1h-1m-1-2h1v1h-1m-7 5.5h1v1h-1m6.5-10h1v1h-1m-5.5 7h1v1h-1m1 0.5h1v1h-1m-1-2h1v1h-1m3.5-1h1v1h-1m1.5-11h1v1h-1m3 4.5h1v1h-1m-8.5-3h1v1h-1m-0.5 5h1v1h-1m7.5-1.5h1v1h-1m-1-9.5h1v1h-1m-2.5-0.5h1v1h-1m5 5h1v1h-1m-1-1.5h1v1h-1m-0.5 0h1v1h-1m1 0h1v1h-1m-3 0.5h1v1h-1m1.5-12h1v1h-1m0.5 2.5h1v1h-1m-1 6h1v1h-1m-5-8.5h1v1h-1m7-0.5h1v1h-1m-0.5 5.5h1v1h-1m-8.5-6.5h1v1h-1m3.5 7.5h1v1h-1m4-13h1v1h-1m-0.5 9.5h1v1h-1m2.5-9h1v1h-1m-5.5 8.5h1v1h-1m4-8h1v1h-1m1 1.5h1v1h-1m-2.5 1h1v1h-1m-6.5-7.5h1v1h-1m4.5 6h1v1h-1m-1-10.5h1v1h-1m4 6h1v1h-1m-6.5-6.5h1v1h-1m3.5-3.5h1v1h-1m3 8h1v1h-1m-8 1h1v1h-1m1-2h1v1h-1m3.5-0.5h1v1h-1m4.5-3.5h1v1h-1m-5.5-8h1v1h-1m-0.5-1h1v1h-1m-1.5 0h1v1h-1m8.5 1h1v1h-1m-1.5 3.5h1v1h-1m-8.5-5h1v1h-1m3.5-5.5h1v1h-1m3 10h1v1h-1" fill="#ffb200"/>
<path d="M57 510.5h1v1h-1m3.5 0h1v1h-1m-0.5-2h1v1h-1m-2-6h1v1h-1m4 3.5h1v1h-1m-7.5-3.5h1v1h-1m6 3.5h1v1h-1m-1-8.5h1v1h-1m-3 4h1v1h-1m-1 0.5h1v1h-1m3-6h1v1h-1m-2.5 4h1v1h-1m4.5-1h1v1h-1m-2-5.5h1v1h-1m-2.5 0h1v1h-1m6 2h1v1h-1m-2-6h1v1h-1m1.5 5.5h1v1h-1m-0.5-2.5h1v1h-1m1-1.5h1v1h-1m0.5-4.5h1v1h-1m-6 4h1v1h-1m2.5-5.5h1v1h-1m3 3h1v1h-1m-3-6h1v1h-1m-4 0.5h1v1h-1m3.5-2h1v1h-1m-4 0h1v1h-1m5.5-4h1v1h-1m-3.5 2h1v1h-1m4-2.5h1v1h-1m-1 0h1v1h-1m1.5 2.5h1v1h-1m-0.5 0.5h1v1h-1m-5-3.5h1v1h-1m3.5-4.5h1v1h-1m-4 1.5h1v1h-1m5-4.5h1v1h-1m1 0h1v1h-1m-0.5-2h1v1h-1m-5 5.5h1v1h-1m0.5-0.5h1v1h-1m5-6h1v1h-1m-6 1.5h1v1h-1m5.5 0.5h1v1h-1m1.5-5.5h1v1h-1m-1.5 4h1v1h-1m-4-1.5h1v1h-1m-2-3h1v1h-1m1.5 0h1v1h-1m1.5-4.5h1v1h-1m3.5 4.5h1v1h-1m-0.5-8h1v1h-1m-4.5 1h1v1h-1m2-1.5h1v1h-1m0-1.5h1v1h-1m-2 0.5h1v1h-1m4.5-4h1v1h-1m0 6.5h1v1h-1m-1-7.5h1v1h-1m-4.5 2.5h1v1h-1m0-1h1v1h-1m5.5-3.5h1v1h-1m-4 2.5h1v1h-1m4.5 0h1v1h-1m-0.5-2.5h1v1h-1m-6 0.5h1v1h-1m7.5-7h1v1h-1m-5 6h1v1h-1m5-7.5h1v1h-1m-1-0.5h1v1h-1m-6 4.5h1v1h-1m5-1.5h1v1h-1m-3.5-1.5h1v1h-1m4.5-0.5h1v1h-1m-5.5-3.5h1v1h-1m0 1.5h1v1h-1m0-3h1v1h-1m2-5h1v1h-1m-2.5 4h1v1h-1m0.5-3h1v1h-1m4-3h1v1h-1m1.5 3.5h1v1h-1m-4.5-1.5h1v1h-1m1-4.5h1v1h-1m4-0.5h1v1h-1m-0.5-2h1v1h-1m-6 5h1v1h-1m2-5h1v1h-1m2.5-3h1v1h-1m2-2.5h1v1h-1m-4 1h1v1h-1m1-1h1v1h-1m3-1.5h1v1h-1m-5.5 0.5h1v1h-1m5-3h1v1h-1m-1.5-0.5h1v1h-1m2 5h1v1h-1m0-7h1v1h-1m-4.5 5h1v1h-1m1.5-6.5h1v1h-1m-2.5 2h1v1h-1m2.5-4h1v1h-1m-2 1h1v1h-1m1.5-3.5h1v1h-1m3-1h1v1h-1m-0.5 3.5h1v1h-1m-4 0.5h1v1h-1m-0.5-1.5h1v1h-1m5-1h1v1h-1m-1-6h1v1h-1m-2-3h1v1h-1m1-0.5h1v1h-1m1.5 5h1v1h-1m-5.5 0h1v1h-1m5-2.5h1v1h-1m-4-4h1v1h-1m1 1h1v1h-1m-1-2.5h1v1h-1m-0.5 2.5h1v1h-1m4.5-6h1v1h-1m0 3.5h1v1h-1m1-5.5h1v1h-1m-4 1.5h1v1h-1m-2 0.5h1v1h-1m0.5-1h1v1h-1m0.5 0.5h1v1h-1m3.5-8h1v1h-1m-3 5.5h1v1h-1m4.5-0.5h1v1h-1m-1-3h1v1h-1m-3.5 1h1v1h-1m5-2.5h1v1h-1m-5-3h1v1h-1m-1 0h1v1h-1m1.5-3h1v1h-1m3.5 3h1v1h-1m-3.5-3.5h1v1h-1m-0.5 2h1v1h-1m-0.5-1h1v1h-1m1-4h1v1h-1m2-5h1v1h-1m2.5 3.5h1v1h-1m0.5-5.5h1v1h-1m-6 1.5h1v1h-1m0 0h1v1h-1m1 1.5h1v1h-1m4.5-6h1v1h-1m0-2.5h1v1h-1m-5.5 6h1v1h-1m4-0.5h1v1h-1m0-2.5h1v1h-1m-4-3.5h1v1h-1m6.5 2.5h1v1h-1m-6-1.5h1v1h-1m4-1h1v1h-1m-5-3.5h1v1h-1m-0.5-1h1v1h-1m1.5 1h1v1h-1m0-3h1v1h-1m4 0.5h1v1h-1m-3.5-4h1v1h-1m4 4h1v1h-1m-0.5-6.5h1v1h-1" fill="#ff4200"/>
<path d="M61 509h1v1h-1m0-3h1v1h-1m1-0.5h1v1h-1m-2.5 2h1v1h-1m1.5-3h1v1h-1m-2.5 2h1v1h-1m-0.5-3.5h1v1h-1m3-0.5h1v1h-1m-3-2.5h1v1h-1m2-1h1v1h-1m-2.5 2h1v1h-1m3-3h1v1h-1m-2.5 1h1v1h-1m0.5-4h1v1h-1m0.5-0.5h1v1h-1m2.5 0h1v1h-1m-3.5 1h1v1h-1m2.5-4.5h1v1h-1m-1.5 0h1v1h-1m-0.5-1h1v1h-1m0-1h1v1h-1m1 1.5h1v1h-1m-0.5-2h1v1h-1m-1.5-2h1v1h-1m3-1h1v1h-1m-2-2h1v1h-1m0.5-0.5h1v1h-1m1-0.5h1v1h-1m-0.5-3h1v1h-1m1.5-0.5h1v1h-1m-2.5 1h1v1h-1m-0.5-1h1v1h-1m4-3.5h1v1h-1m-1 0.5h1v1h-1m-2 1h1v1h-1m3.5-2.5h1v1h-1m-3.5-3h1v1h-1m3 0.5h1v1h-1m-4 1.5h1v1h-1m0.5-2h1v1h-1m0.5-2.5h1v1h-1m0.5-1.5h1v1h-1m1.5-1.5h1v1h-1m-1-0.5h1v1h-1m-2-1.5h1v1h-1m-0.5-0.5h1v1h-1m1 1.5h1v1h-1m1-3h1v1h-1m2-1h1v1h-1m-2-1.5h1v1h-1m0.5-1h1v1h-1m-2.5-0.5h1v1h-1m1.5 2h1v1h-1m1-4h1v1h-1m-1.5-1h1v1h-1m0.5 2h1v1h-1m1.5-4.5h1v1h-1m-1.5-0.5h1v1h-1m2.5-0.5h1v1h-1m-3.5 0.5h1v1h-1m0-1h1v1h-1m1-2.5h1v1h-1m-1.5 1.5h1v1h-1m3-6h1v1h-1m-1-0.5h1v1h-1m1.5 0.5h1v1h-1m-2 0h1v1h-1m0.5-0.5h1v1h-1m2-3h1v1h-1m0-0.5h1v1h-1m-4 0.5h1v1h-1m4.5-3h1v1h-1m-2.5 0h1v1h-1m1.5-3h1v1h-1m-2 3.5h1v1h-1m3-4.5h1v1h-1m-2.5 1.5h1v1h-1m-2-3h1v1h-1m1 1.5h1v1h-1m2-4.5h1v1h-1m-1.5 1.5h1v1h-1m3-3h1v1h-1m0 0h1v1h-1m-2.5-1.5h1v1h-1m0-2.5h1v1h-1m-2 3h1v1h-1m4-3.5h1v1h-1m-2 0h1v1h-1m-0.5 1h1v1h-1m0.5-4.5h1v1h-1m2.5-1.5h1v1h-1m-3-0.5h1v1h-1m-1 0h1v1h-1m0 0.5h1v1h-1m0-3.5h1v1h-1m0.5-0.5h1v1h-1m0 1.5h1v1h-1m2.5-5h1v1h-1m-2.5 2h1v1h-1m0.5 0h1v1h-1m-1.5-4h1v1h-1m4 0h1v1h-1m-2-2h1v1h-1m-1.5-2h1v1h-1m-0.5-0.5h1v1h-1m2.5-1h1v1h-1m-1.5 2h1v1h-1m3.5-3h1v1h-1m-1-0.5h1v1h-1m1-1h1v1h-1m-3-3.5h1v1h-1m2.5 0.5h1v1h-1m-2 1h1v1h-1m-0.5-2h1v1h-1" fill="#e50000"/>
<path d="M33.6 482.1 L101.6 482.1 L101.6 495.3 L77.4 531.8 L33.6 531.8 Z" fill="none" stroke="#A542AD" stroke-width="1.0"/>
<path d="M82.3 545.8 L106.6 512.2 L141.0 512.2 L141.0 579.3 L82.3 579.3 Z" fill="none" stroke="#D0A04A" stroke-width="1.0"/>
<rect x="28.3" y="468.1" width="115.6" height="114.4" fill="none" stroke="#666" stroke-width="0.8"/>
<text x="40.90" y="473.40" font-size="4.3" text-anchor="start" fill="#9A35A5">Target cell - Molm13</text>
<text x="40.90" y="478.40" font-size="4.3" text-anchor="start" fill="#9A35A5">85.40%</text>
<text x="110.70" y="499.60" font-size="4.3" text-anchor="start" fill="#B8862C">T cell - Vector</text>
<text x="110.70" y="504.60" font-size="4.3" text-anchor="start" fill="#B8862C">12.91%</text>
<text x="82.30" y="476.80" font-size="7.3" font-weight="bold" text-anchor="start" fill="#111">PKH<tspan font-size="4.5" dy="-2.2">+</tspan><tspan dy="2.2">CFSE</tspan><tspan font-size="4.5" dy="-2.2">-</tspan><tspan dy="2.2"> 85.4%</tspan></text>
<line x1="28.30" y1="582.50" x2="28.30" y2="584.00" stroke="#666" stroke-width="0.5"/>
<text x="28.30" y="589.30" font-size="4.6" text-anchor="middle" fill="#333">10<tspan font-size="3.2" dy="-1.6">2.1</tspan></text>
<line x1="51.42" y1="582.50" x2="51.42" y2="584.00" stroke="#666" stroke-width="0.5"/>
<text x="51.42" y="589.30" font-size="4.6" text-anchor="middle" fill="#333">10<tspan font-size="3.2" dy="-1.6">3</tspan></text>
<line x1="74.54" y1="582.50" x2="74.54" y2="584.00" stroke="#666" stroke-width="0.5"/>
<text x="74.54" y="589.30" font-size="4.6" text-anchor="middle" fill="#333">10<tspan font-size="3.2" dy="-1.6">4</tspan></text>
<line x1="97.66" y1="582.50" x2="97.66" y2="584.00" stroke="#666" stroke-width="0.5"/>
<text x="97.66" y="589.30" font-size="4.6" text-anchor="middle" fill="#333">10<tspan font-size="3.2" dy="-1.6">5</tspan></text>
<line x1="120.78" y1="582.50" x2="120.78" y2="584.00" stroke="#666" stroke-width="0.5"/>
<text x="120.78" y="589.30" font-size="4.6" text-anchor="middle" fill="#333">10<tspan font-size="3.2" dy="-1.6">6</tspan></text>
<line x1="143.90" y1="582.50" x2="143.90" y2="584.00" stroke="#666" stroke-width="0.5"/>
<text x="143.90" y="589.30" font-size="4.6" text-anchor="middle" fill="#333">10<tspan font-size="3.2" dy="-1.6">7</tspan></text>
<line x1="26.80" y1="582.50" x2="28.30" y2="582.50" stroke="#666" stroke-width="0.5"/>
<text x="23.80" y="582.50" font-size="4.6" text-anchor="middle" fill="#333" transform="rotate(-90 23.8 582.5)">10<tspan font-size="3.2" dy="-1.6">2</tspan></text>
<line x1="26.80" y1="553.90" x2="28.30" y2="553.90" stroke="#666" stroke-width="0.5"/>
<text x="23.80" y="553.90" font-size="4.6" text-anchor="middle" fill="#333" transform="rotate(-90 23.8 553.9)">10<tspan font-size="3.2" dy="-1.6">3</tspan></text>
<line x1="26.80" y1="525.30" x2="28.30" y2="525.30" stroke="#666" stroke-width="0.5"/>
<text x="23.80" y="525.30" font-size="4.6" text-anchor="middle" fill="#333" transform="rotate(-90 23.8 525.3)">10<tspan font-size="3.2" dy="-1.6">4</tspan></text>
<line x1="26.80" y1="496.70" x2="28.30" y2="496.70" stroke="#666" stroke-width="0.5"/>
<text x="23.80" y="496.70" font-size="4.6" text-anchor="middle" fill="#333" transform="rotate(-90 23.8 496.70000000000005)">10<tspan font-size="3.2" dy="-1.6">5</tspan></text>
<line x1="26.80" y1="468.10" x2="28.30" y2="468.10" stroke="#666" stroke-width="0.5"/>
<text x="23.80" y="468.10" font-size="4.6" text-anchor="middle" fill="#333" transform="rotate(-90 23.8 468.1)">10<tspan font-size="3.2" dy="-1.6">6</tspan></text>
<text x="221.10" y="462.30" font-size="10" text-anchor="middle" fill="#111">IL10R CAR-T</text>
<path d="M209 509.5h1v1h-1m-29-10.5h1v1h-1m6-9h1v1h-1m-5 16.5h1v1h-1m12.5-17.5h1v1h-1m-9 27.5h1v1h-1m-9-10.5h1v1h-1m11.5 13h1v1h-1m19-4h1v1h-1m-21.5-32.5h1v1h-1m19-1.5h1v1h-1m-6-0.5h1v1h-1m-6.5-1h1v1h-1m-9 13.5h1v1h-1m-1.5 10.5h1v1h-1m30.5-27h1v1h-1m0.5 16h1v1h-1m5 4.5h1v1h-1m-32.5-19.5h1v1h-1m1.5-2h1v1h-1m21.5 22.5h1v1h-1m-19.5 7h1v1h-1m-7-24.5h1v1h-1m10.5-14.5h1v1h-1m-11 31.5h1v1h-1m4.5-30.5h1v1h-1m22 3h1v1h-1m-20-0.5h1v1h-1m-2.5 1.5h1v1h-1m1.5 29h1v1h-1m25-8.5h1v1h-1m-29.5-19.5h1v1h-1m5 22h1v1h-1m17-7h1v1h-1m2.5-30h1v1h-1m-1.5 30h1v1h-1m-24.5-14.5h1v1h-1m5.5 17.5h1v1h-1m26-20h1v1h-1m-1.5-10.5h1v1h-1m-9.5 28.5h1v1h-1m-6-1.5h1v1h-1m-6-3h1v1h-1m22-17h1v1h-1m-25.5-13h1v1h-1m12-9h1v1h-1m12.5 25h1v1h-1m2.5-23.5h1v1h-1m-31 25.5h1v1h-1m26.5-2.5h1v1h-1m-27-15h1v1h-1m2 3h1v1h-1m28-22.5h1v1h-1m-22.5 39.5h1v1h-1m0 0.5h1v1h-1m-9.5-11h1v1h-1m9 8.5h1v1h-1m7 4h1v1h-1m17.5-38.5h1v1h-1m-5 22.5h1v1h-1m-15.5 7h1v1h-1m-6.5-25.5h1v1h-1m6-13h1v1h-1m18.5 9.5h1v1h-1m-14 24.5h1v1h-1m-13-13h1v1h-1m18.5 17.5h1v1h-1m-8.5-42h1v1h-1m6-4h1v1h-1m-13.5 6.5h1v1h-1m-0.5-0.5h1v1h-1m26.5 9.5h1v1h-1m-2.5-16h1v1h-1m-26.5 3.5h1v1h-1m29 10h1v1h-1m-19-17.5h1v1h-1m-13.5 34.5h1v1h-1m31.5-20h1v1h-1m-27 13h1v1h-1m29-24.5h1v1h-1m-7.5 20.5h1v1h-1m8-12.5h1v1h-1m-25-18h1v1h-1m14 30.5h1v1h-1m2-31h1v1h-1m-25 34h1v1h-1m29.5-11h1v1h-1m-15.5-28.5h1v1h-1m3.5-1h1v1h-1m-12 31.5h1v1h-1m22.5-34h1v1h-1m-10.5 0h1v1h-1m1.5 38h1v1h-1m7-5.5h1v1h-1m-23.5-7.5h1v1h-1m31.5-10.5h1v1h-1m-9-31h1v1h-1m-14 55.5h1v1h-1m21.5-33.5h1v1h-1m-28.5 12.5h1v1h-1m-4.5-9h1v1h-1m12.5-21h1v1h-1m1-7h1v1h-1m16.5 39h1v1h-1m2-9h1v1h-1m-5.5 4h1v1h-1m4.5-21.5h1v1h-1m-13-13h1v1h-1m-15.5 20h1v1h-1m-3 6h1v1h-1m13.5-23.5h1v1h-1m14.5 28.5h1v1h-1m-6-33h1v1h-1m-19.5 31h1v1h-1m5 2.5h1v1h-1m-6.5-13h1v1h-1m-1-2h1v1h-1m-3 2h1v1h-1m25.5 8.5h1v1h-1m-21.5 6.5h1v1h-1m-5-34h1v1h-1m7 30h1v1h-1m38.5-24.5h1v1h-1m-42 10h1v1h-1m34.5-24.5h1v1h-1m8.5 18.5h1v1h-1m-17 9.5h1v1h-1m-8 4.5h1v1h-1m39.5-35.5h1v1h-1m-43-22.5h1v1h-1m25 11.5h1v1h-1m-35.5 31h1v1h-1m10.5-27.5h1v1h-1m3.5 33.5h1v1h-1m14-31h1v1h-1m-3 31h1v1h-1m2.5-4h1v1h-1m21-46h1v1h-1m-28 44h1v1h-1m2.5 6.5h1v1h-1m-24-15h1v1h-1m26.5-29h1v1h-1m-27 5.5h1v1h-1m24.5 23.5h1v1h-1m-21 1.5h1v1h-1m17 3.5h1v1h-1m6.5-51.5h1v1h-1m-16.5 48h1v1h-1m20.5-20h1v1h-1m8 2h1v1h-1m-36-4.5h1v1h-1m24.5 8.5h1v1h-1m-7.5 14h1v1h-1m1-9.5h1v1h-1m-19-7.5h1v1h-1m34-22h1v1h-1m8.5 13h1v1h-1m-59 10h1v1h-1m47-21.5h1v1h-1m-11-19.5h1v1h-1m-19 28h1v1h-1m1 19h1v1h-1m-1.5-19h1v1h-1m29-14h1v1h-1m-27 21.5h1v1h-1m-3-34h1v1h-1m17.5-10h1v1h-1m-20 25h1v1h-1m25.5 15.5h1v1h-1m-20.5-2h1v1h-1m4.5 4h1v1h-1m13.5-48h1v1h-1m-9.5 48h1v1h-1m-17-23h1v1h-1m31.5-12.5h1v1h-1m6.5 26.5h1v1h-1m-15 2.5h1v1h-1m-23.5-18h1v1h-1m7.5 4.5h1v1h-1m27 1.5h1v1h-1m-33-4.5h1v1h-1m37.5-10.5h1v1h-1m-2.5 2.5h1v1h-1m2.5-4h1v1h-1m-4-10.5h1v1h-1m-38 41h1v1h-1m34-48h1v1h-1m5.5 3.5h1v1h-1m-40 25.5h1v1h-1m42-20h1v1h-1m1 19h1v1h-1m-36-17h1v1h-1m13 17h1v1h-1m2.5-34.5h1v1h-1m19.5 26.5h1v1h-1m-26 7.5h1v1h-1m24-37.5h1v1h-1m-2 24h1v1h-1m1.5-19.5h1v1h-1m-15-13.5h1v1h-1m-16.5 29h1v1h-1m35.5-5h1v1h-1m-15.5-23h1v1h-1m-28 27h1v1h-1m31 5.5h1v1h-1m-7 4.5h1v1h-1m7.5-40.5h1v1h-1m14.5 15h1v1h-1m-23.5-20.5h1v1h-1m15 34h1v1h-1m-13-31h1v1h-1m8.5 45.5h1v1h-1m4-55.5h1v1h-1m-23 45.5h1v1h-1m6.5-2h1v1h-1m25.5-43h1v1h-1m-10.5 27h1v1h-1m22-5.5h1v1h-1m-49 5.5h1v1h-1m-0.5-22.5h1v1h-1m-4 14.5h1v1h-1m10-12.5h1v1h-1m-0.5 20.5h1v1h-1m-8-8h1v1h-1m8-18.5h1v1h-1m2-2h1v1h-1m26.5 20.5h1v1h-1m-10 9h1v1h-1m11-5.5h1v1h-1m-42-25.5h1v1h-1m33-29h1v1h-1m24 33.5h1v1h-1m-41.5-13.5h1v1h-1m26.5 27.5h1v1h-1m-8.5-31.5h1v1h-1m-5 34.5h1v1h-1m9.5-15.5h1v1h-1m3-7h1v1h-1m-19.5 23.5h1v1h-1m4.5-43h1v1h-1m22 22.5h1v1h-1m-47.5 0.5h1v1h-1m18.5 15.5h1v1h-1m19-14h1v1h-1m-30-2h1v1h-1m0.5 18h1v1h-1m35.5-37.5h1v1h-1m-1-11h1v1h-1m-13 37h1v1h-1m0 2.5h1v1h-1m-5 1.5h1v1h-1m4.5-5.5h1v1h-1m-2.5 2h1v1h-1m-15-35.5h1v1h-1m33 26h1v1h-1m-17.5-38.5h1v1h-1m17.5 15h1v1h-1m-40.5 11.5h1v1h-1m32 1h1v1h-1m-18.5 9.5h1v1h-1m8 4h1v1h-1m3.5-8h1v1h-1m1.5-44h1v1h-1m-12.5 14h1v1h-1m-1.5-11.5h1v1h-1m-0.5 4.5h1v1h-1m17.5 39h1v1h-1m-25.5-26.5h1v1h-1m31.5-20.5h1v1h-1m-37.5 10h1v1h-1m37 20h1v1h-1m-15.5 15h1v1h-1m-15-35h1v1h-1m9 39.5h1v1h-1m-1.5-47h1v1h-1m-3.5-9.5h1v1h-1m-2 46.5h1v1h-1m13-6h1v1h-1m7-6h1v1h-1m9-2.5h1v1h-1m-29-41h1v1h-1m20-2h1v1h-1m-29.5 46h1v1h-1m36.5-46h1v1h-1m-5.5 10h1v1h-1m-19.5 37.5h1v1h-1m1 1h1v1h-1m20.5-40h1v1h-1m-1.5 33h1v1h-1m19.5-20.5h1v1h-1m-42 24.5h1v1h-1m34.5-34h1v1h-1m-24.5 31.5h1v1h-1m16.5-21.5h1v1h-1m-0.5 1h1v1h-1m-1.5-2.5h1v1h-1m-14.5 17h1v1h-1m23.5-22.5h1v1h-1m10-8.5h1v1h-1m-48 9.5h1v1h-1m6.5-13.5h1v1h-1m0.5-20h1v1h-1m25.5 27h1v1h-1m-26.5 9.5h1v1h-1m18-32.5h1v1h-1m8 20h1v1h-1m-28-16h1v1h-1m1 16h1v1h-1m21.5 13h1v1h-1m-22.5-18.5h1v1h-1m-4.5 2h1v1h-1m9 23.5h1v1h-1m-6-26.5h1v1h-1m33.5-34h1v1h-1m-25 46h1v1h-1m-3.5 7h1v1h-1m8-8h1v1h-1m-4.5-35.5h1v1h-1m-4.5 28h1v1h-1m-12-14h1v1h-1m12.5-7.5h1v1h-1m-3 2h1v1h-1m-4.5-33h1v1h-1m38.5 38.5h1v1h-1m-21.5-23h1v1h-1m12 25h1v1h-1m-17.5-21h1v1h-1m-14 2.5h1v1h-1m18-11.5h1v1h-1m-5.5 37h1v1h-1m26-27h1v1h-1m4 19.5h1v1h-1m-9-6h1v1h-1m5.5-11h1v1h-1m2.5-13h1v1h-1m-5 30h1v1h-1m-36-20h1v1h-1m25 18h1v1h-1m-11 9.5h1v1h-1m25.5-53.5h1v1h-1m10.5 24.5h1v1h-1m-6.5 6h1v1h-1m-37-12h1v1h-1m34.5-2h1v1h-1m-8.5 27h1v1h-1m7.5-17.5h1v1h-1m-34.5-14h1v1h-1m2 16h1v1h-1m31.5-22h1v1h-1m1.5 6.5h1v1h-1m-3-14h1v1h-1m-22.5 35.5h1v1h-1m13.5-43h1v1h-1m-25.5 23h1v1h-1m31.5-17.5h1v1h-1m7-13.5h1v1h-1m0 41h1v1h-1m-38.5-16h1v1h-1m29.5-16h1v1h-1m-23 31h1v1h-1m11.5 4.5h1v1h-1m-8-41.5h1v1h-1m-4-15h1v1h-1m5 18h1v1h-1m21-8h1v1h-1m2.5 20h1v1h-1m-14-21h1v1h-1m16 16h1v1h-1m-3.5 12.5h1v1h-1m-7.5-34h1v1h-1m-9 3.5h1v1h-1m-4.5 34h1v1h-1m-10-43.5h1v1h-1m31.5 17.5h1v1h-1m-28 16.5h1v1h-1m23-27h1v1h-1m-42 13.5h1v1h-1m49 0.5h1v1h-1m-32-5h1v1h-1m16 18h1v1h-1m-14.5-6h1v1h-1m10.5 4.5h1v1h-1m26-14.5h1v1h-1m-39 5.5h1v1h-1m1.5-16.5h1v1h-1m-16 11.5h1v1h-1m19.5-21.5h1v1h-1m24.5-9.5h1v1h-1m8.5 27h1v1h-1m-13.5 11.5h1v1h-1m-1-4h1v1h-1m-7 2.5h1v1h-1m-29.5-19.5h1v1h-1m15.5-16.5h1v1h-1m38.5 13h1v1h-1m-12.5-13.5h1v1h-1m6.5 11h1v1h-1m6-24h1v1h-1m-45 41h1v1h-1m37.5-12h1v1h-1m-10.5 3h1v1h-1m-12.5-32.5h1v1h-1m24.5 10h1v1h-1m-34.5 16.5h1v1h-1m1 0h1v1h-1m5-23h1v1h-1m-2 23.5h1v1h-1m18 2h1v1h-1m16-7.5h1v1h-1m-30 8h1v1h-1m19.5-40h1v1h-1m-27.5 27.5h1v1h-1m35.5 7h1v1h-1m-24 17h1v1h-1m-10.5-31.5h1v1h-1m-1.5-10h1v1h-1m27-12h1v1h-1m3.5 28h1v1h-1m0.5-12h1v1h-1m-30-17.5h1v1h-1m11.5 32.5h1v1h-1m-20-7.5h1v1h-1m40.5-16h1v1h-1m4.5-3h1v1h-1m-1.5-0.5h1v1h-1m-32.5 24.5h1v1h-1m18 2.5h1v1h-1m-22-20.5h1v1h-1m-5.5-18h1v1h-1m-7.5 6h1v1h-1m-2-6h1v1h-1m47.5 4h1v1h-1m-1.5 24h1v1h-1m-30.5 12.5h1v1h-1m23-8.5h1v1h-1m-18.5-31h1v1h-1m24.5 7h1v1h-1m-32.5-5h1v1h-1m33-11h1v1h-1m-7.5 33h1v1h-1m12.5-51h1v1h-1m-4 43h1v1h-1m-33.5-24.5h1v1h-1m18-16.5h1v1h-1m-13 22h1v1h-1m-2 14.5h1v1h-1m1-20.5h1v1h-1m8-16h1v1h-1m-0.5-11h1v1h-1m25 27.5h1v1h-1m-26 17.5h1v1h-1m-4.5-37.5h1v1h-1m14 35h1v1h-1m-3.5-36h1v1h-1m19 8.5h1v1h-1m-2 1.5h1v1h-1m-19.5-21h1v1h-1m9.5-0.5h1v1h-1m-25 25.5h1v1h-1m26.5 21h1v1h-1m-14 13h1v1h-1m30-52.5h1v1h-1m-6.5 1h1v1h-1m2 3h1v1h-1m-38.5 8.5h1v1h-1m3.5-26.5h1v1h-1m10 46.5h1v1h-1m3.5-52.5h1v1h-1m25.5 16h1v1h-1m-19.5-15h1v1h-1m23 28h1v1h-1m-32.5 18.5h1v1h-1m7.5-3.5h1v1h-1m15.5-24h1v1h-1m2-4.5h1v1h-1m-5 17h1v1h-1m3-21.5h1v1h-1m-14.5 27h1v1h-1m-17 13h1v1h-1m5-15h1v1h-1m16-39.5h1v1h-1m14.5-3.5h1v1h-1m-4 30.5h1v1h-1m3.5 0.5h1v1h-1m-6-30.5h1v1h-1m-17.5 47.5h1v1h-1m20.5-29h1v1h-1m-16 22h1v1h-1m-8-41.5h1v1h-1m22-12h1v1h-1m-31.5 36h1v1h-1m-3 8h1v1h-1m8-10h1v1h-1m5 6.5h1v1h-1m12.5-44h1v1h-1m-8.5 44h1v1h-1m2.5-42.5h1v1h-1m-8 40.5h1v1h-1m5-45h1v1h-1m3.5-3.5h1v1h-1m-1.5 2.5h1v1h-1m14 9h1v1h-1m8 1.5h1v1h-1m-21 25h1v1h-1m16.5-38.5h1v1h-1m2.5 30h1v1h-1m-11 5.5h1v1h-1m-22.5-29.5h1v1h-1m34.5 7h1v1h-1m-6.5-9h1v1h-1m1 13h1v1h-1m-31 3h1v1h-1m52-30h1v1h-1m-26.5 40h1v1h-1m1.5-37.5h1v1h-1m-28 10h1v1h-1m33.5 20.5h1v1h-1m-31.5-9h1v1h-1m18.5-33h1v1h-1m12 25h1v1h-1m-25-15h1v1h-1m15.5-5.5h1v1h-1m-4-1h1v1h-1m-29 33.5h1v1h-1m9-10.5h1v1h-1m24.5 7h1v1h-1m-15.5 9.5h1v1h-1m5.5-45h1v1h-1m-9.5 9h1v1h-1m32 8h1v1h-1m-32.5 20.5h1v1h-1m33.5-41.5h1v1h-1m-41 13h1v1h-1m17.5-25.5h1v1h-1m-8 11h1v1h-1m17-11.5h1v1h-1m8.5 43h1v1h-1m-29-2.5h1v1h-1m29.5-13.5h1v1h-1m3.5-3.5h1v1h-1m-12.5 20h1v1h-1m-2-4.5h1v1h-1m10.5-14.5h1v1h-1m-8-34h1v1h-1m-10 46.5h1v1h-1m20-13.5h1v1h-1m-29-14h1v1h-1m-2 0.5h1v1h-1m17 31h1v1h-1m-21-30h1v1h-1m14.5 28h1v1h-1m1-10.5h1v1h-1m17-19.5h1v1h-1m-39 6.5h1v1h-1m49.5-23h1v1h-1m3.5 1h1v1h-1m-35.5 46h1v1h-1m-9.5 4h1v1h-1m0-43h1v1h-1m35-19h1v1h-1m-38 10.5h1v1h-1m12.5-12h1v1h-1m22 1h1v1h-1m-29 20h1v1h-1m-0.5-12h1v1h-1m47-8h1v1h-1m-45 25.5h1v1h-1m-0.5-25h1v1h-1m7 35h1v1h-1m-1.5-39.5h1v1h-1m1.5 2.5h1v1h-1m7-13h1v1h-1m7-4h1v1h-1m-18.5 51.5h1v1h-1m8.5-41h1v1h-1m-0.5-16h1v1h-1m20.5 40h1v1h-1m-18.5-29.5h1v1h-1m-7 33.5h1v1h-1m-6-10.5h1v1h-1m31.5-17.5h1v1h-1m3.5 4.5h1v1h-1m-36.5 26h1v1h-1m35-20.5h1v1h-1m-35 9.5h1v1h-1m10 9.5h1v1h-1m-13.5-24.5h1v1h-1m-5.5-2h1v1h-1m51 2h1v1h-1m-14 11h1v1h-1m-4.5-54h1v1h-1m6.5 48.5h1v1h-1m6 12.5h1v1h-1m-19-7.5h1v1h-1m-22.5 4h1v1h-1m19.5-42.5h1v1h-1m4-16.5h1v1h-1m11 50.5h1v1h-1m-15-42.5h1v1h-1m-26 10h1v1h-1m39 17.5h1v1h-1m-24-30h1v1h-1m17-3h1v1h-1m-1.5 52h1v1h-1m-11.5-50.5h1v1h-1m15 41.5h1v1h-1m-20.5-17.5h1v1h-1m21-28h1v1h-1m-19 64.5h1v1h-1m-9-40h1v1h-1m30 9h1v1h-1m-21-20h1v1h-1m30-3h1v1h-1m-3-6.5h1v1h-1m-18 34.5h1v1h-1m-10-36h1v1h-1m5.5-4h1v1h-1m-9.5 38.5h1v1h-1m16.5-59h1v1h-1m-6.5 10h1v1h-1m24 26h1v1h-1m-41.5 8h1v1h-1m34 3.5h1v1h-1m1.5 7h1v1h-1m-26.5-18.5h1v1h-1m3.5-17.5h1v1h-1m-4.5 17.5h1v1h-1m41.5 5.5h1v1h-1m-26.5 4.5h1v1h-1m20-32h1v1h-1m-37 15.5h1v1h-1m38.5-4.5h1v1h-1m-35.5 0.5h1v1h-1m-3.5-7.5h1v1h-1m18.5 16h1v1h-1m-18-27h1v1h-1m33 7h1v1h-1m-7.5-17h1v1h-1m-17.5 9h1v1h-1m-2 19.5h1v1h-1m10 3.5h1v1h-1m13-40.5h1v1h-1m16 27h1v1h-1m-33 11.5h1v1h-1m14.5-4.5h1v1h-1m-2.5-38h1v1h-1m20.5 9h1v1h-1m-36.5-2.5h1v1h-1m-1 24h1v1h-1m2-34.5h1v1h-1m20.5 4h1v1h-1m-26.5 1.5h1v1h-1m9.5-2h1v1h-1m7 31h1v1h-1m-25.5 12.5h1v1h-1m14.5-16.5h1v1h-1m-8-14h1v1h-1m33.5-3h1v1h-1m14-25.5h1v1h-1m-15 44.5h1v1h-1m2-13.5h1v1h-1m3.5-17.5h1v1h-1m6 3.5h1v1h-1m-8 5h1v1h-1m3-5.5h1v1h-1m-34.5 18h1v1h-1m31.5-21.5h1v1h-1m-1.5 7.5h1v1h-1m-36.5-9h1v1h-1m35 15h1v1h-1m2.5-8.5h1v1h-1m-10.5-28h1v1h-1m10 24.5h1v1h-1m-23.5-17h1v1h-1m20.5 12h1v1h-1m11-13.5h1v1h-1m-17 25.5h1v1h-1m-20-12.5h1v1h-1m24 7.5h1v1h-1m-26.5-32h1v1h-1m1 10h1v1h-1m-1.5 7.5h1v1h-1m3.5 10.5h1v1h-1m6-35.5h1v1h-1m6.5 40.5h1v1h-1m-11.5-28h1v1h-1m-0.5 0h1v1h-1m29 3.5h1v1h-1m-32.5 2h1v1h-1m-11-23h1v1h-1m16.5 66h1v1h-1m28-43h1v1h-1m5-0.5h1v1h-1m-10.5 15.5h1v1h-1m-34.5-42h1v1h-1m35.5 25.5h1v1h-1m-20 19h1v1h-1m1.5-0.5h1v1h-1m-10-11h1v1h-1m21-46.5h1v1h-1m-20 46.5h1v1h-1m-6 7h1v1h-1m33.5-8h1v1h-1m-12.5 1h1v1h-1m-17-13.5h1v1h-1m39.5 6h1v1h-1m-29-32h1v1h-1m31.5-7.5h1v1h-1m-7.5 29.5h1v1h-1m0-25.5h1v1h-1m-33 7.5h1v1h-1m29 16.5h1v1h-1m9.5-18.5h1v1h-1m5.5-16.5h1v1h-1m-21.5-2.5h1v1h-1m1.5 4.5h1v1h-1m10 12.5h1v1h-1m3-9.5h1v1h-1m-36 2h1v1h-1m-12 12.5h1v1h-1m13.5-22h1v1h-1m14 44.5h1v1h-1m-14 0h1v1h-1m35.5-49.5h1v1h-1m-43-9.5h1v1h-1m31 40h1v1h-1m11.5 5.5h1v1h-1m-24 0h1v1h-1m13.5-8h1v1h-1m1.5-12h1v1h-1m-9 17h1v1h-1m-18-29.5h1v1h-1m36 5.5h1v1h-1m-19 20.5h1v1h-1m-28-21.5h1v1h-1m39.5 8.5h1v1h-1m-32-23h1v1h-1m70 43h1v1h-1m1.5 35h1v1h-1m-1.5-33h1v1h-1m0 33h1v1h-1m3-12h1v1h-1m-6-27h1v1h-1m12 1h1v1h-1m-1-3.5h1v1h-1m-1.5-4h1v1h-1m-5 25.5h1v1h-1m6.5-25h1v1h-1m-7 19h1v1h-1m8-21.5h1v1h-1m-6.5 23.5h1v1h-1m4.5-24h1v1h-1m-3.5-1.5h1v1h-1m-0.5 0.5h1v1h-1m0 20.5h1v1h-1m8-24.5h1v1h-1m3.5 3h1v1h-1m-2 0h1v1h-1m-3.5-11.5h1v1h-1m-10 11.5h1v1h-1m6.5 19h1v1h-1m-5-22h1v1h-1m1.5-6h1v1h-1m-3 19h1v1h-1m11.5-26.5h1v1h-1m-2 1.5h1v1h-1m-8.5 27h1v1h-1m7.5-29h1v1h-1m-1 2h1v1h-1m0.5 17.5h1v1h-1m-6-13.5h1v1h-1m7.5 10h1v1h-1m-9.5 12h1v1h-1m4.5-40h1v1h-1m2.5 1h1v1h-1m-2.5 39h1v1h-1m-1.5-49.5h1v1h-1m1.5 13.5h1v1h-1m6 4h1v1h-1m1.5 16h1v1h-1m-12.5-20.5h1v1h-1m2-3h1v1h-1m-3 8.5h1v1h-1m8 16h1v1h-1m-10-7h1v1h-1m5-27h1v1h-1m8 1.5h1v1h-1m-5.5 24h1v1h-1m7-25h1v1h-1m-0.5 5.5h1v1h-1m-1.5-4.5h1v1h-1m-4.5-15h1v1h-1m4.5-3.5h1v1h-1m-7 20.5h1v1h-1m-0.5-0.5h1v1h-1m2.5-11.5h1v1h-1m-3 6h1v1h-1m0 20.5h1v1h-1m-2-15.5h1v1h-1m10 7h1v1h-1m3-13.5h1v1h-1m0-6.5h1v1h-1m-4-4h1v1h-1m0-2h1v1h-1m-12 20h1v1h-1m9.5-24.5h1v1h-1m-2.5 6h1v1h-1m5.5 21.5h1v1h-1m-10 1h1v1h-1m10-26h1v1h-1m-1.5-3.5h1v1h-1m2-0.5h1v1h-1m2 13h1v1h-1m-10 10.5h1v1h-1m11-19h1v1h-1m-2-8h1v1h-1m-9 25.5h1v1h-1m9.5-11.5h1v1h-1m-10 7.5h1v1h-1m5-1.5h1v1h-1m3-22.5h1v1h-1m1.5-9.5h1v1h-1m-10.5 26.5h1v1h-1m-1-8.5h1v1h-1m10.5-14h1v1h-1m1 12h1v1h-1m-2 7.5h1v1h-1m-9.5-0.5h1v1h-1m5.5 1.5h1v1h-1m0.5 0h1v1h-1m-3-23.5h1v1h-1m10 7h1v1h-1m-2.5 6h1v1h-1m1-8.5h1v1h-1m-2-12.5h1v1h-1m-0.5 1h1v1h-1m-5-2.5h1v1h-1m4.5-1.5h1v1h-1m-5.5 21h1v1h-1m5-30h1v1h-1m3.5 12.5h1v1h-1m-8.5 19.5h1v1h-1m11-15h1v1h-1m-13.5 8h1v1h-1m11-14.5h1v1h-1m-4 14.5h1v1h-1m-4.5-2h1v1h-1m-3-12.5h1v1h-1m2.5-12.5h1v1h-1m9.5 9h1v1h-1m-6.5 15.5h1v1h-1m2-29h1v1h-1m6 7h1v1h-1m0 8h1v1h-1m-12-15h1v1h-1m-0.5 20h1v1h-1m5-23h1v1h-1m5.5-3.5h1v1h-1m0 0.5h1v1h-1m2 6.5h1v1h-1m-8 23h1v1h-1m6-20h1v1h-1m2-9.5h1v1h-1m-4 14.5h1v1h-1m-7.5 1.5h1v1h-1m-3.5 1h1v1h-1m1.5 9.5h1v1h-1m14.5-23h1v1h-1m1 1.5h1v1h-1m-18.5 18.5h1v1h-1m6.5-32h1v1h-1m-1 33.5h1v1h-1m-4.5-19.5h1v1h-1m11-37.5h1v1h-1m-8.5 28h1v1h-1m13.5 8.5h1v1h-1m-7.5-26h1v1h-1m6.5 6.5h1v1h-1m0 5.5h1v1h-1m-5.5 16h1v1h-1m6.5-2.5h1v1h-1m0-1h1v1h-1m-9.5 5.5h1v1h-1m5.5-6h1v1h-1m-8.5 13.5h1v1h-1m6.5-53h1v1h-1m-9 36h1v1h-1m13.5-12.5h1v1h-1m-12-7.5h1v1h-1m15 10h1v1h-1m-11.5 6.5h1v1h-1m1.5 3h1v1h-1m-5.5-10.5h1v1h-1m0.5-2h1v1h-1m15 11h1v1h-1m-6-31h1v1h-1m0 21h1v1h-1m8.5-11.5h1v1h-1m-20.5 1.5h1v1h-1m11.5 8h1v1h-1m-2.5 5.5h1v1h-1m6.5-48h1v1h-1m-19.5 30h1v1h-1m19-9h1v1h-1m0 12h1v1h-1m-17.5 1h1v1h-1m12-27h1v1h-1m3.5 37h1v1h-1m6.5-41h1v1h-1m-6 5.5h1v1h-1m-8 19.5h1v1h-1m9.5 2.5h1v1h-1m-3.5-3h1v1h-1m-8.5-13.5h1v1h-1m-1.5 3h1v1h-1m14 7h1v1h-1m-10-2h1v1h-1m8.5-14h1v1h-1m3.5-10.5h1v1h-1m-12-21h1v1h-1m14 29h1v1h-1m-7.5 10h1v1h-1m-1 5.5h1v1h-1m1.5-7h1v1h-1m-10.5-6h1v1h-1m7-20.5h1v1h-1m-4 7h1v1h-1m7.5 17h1v1h-1m-9-18.5h1v1h-1m11 17h1v1h-1m-8 1h1v1h-1m6.5 4.5h1v1h-1m-8.5-32.5h1v1h-1m9.5 27h1v1h-1m2-8h1v1h-1m-19 15h1v1h-1m10.5-13h1v1h-1m12.5-11.5h1v1h-1m-18 10h1v1h-1m7-39.5h1v1h-1m-6.5 37h1v1h-1m16.5-6h1v1h-1m-7.5 10h1v1h-1m3-27h1v1h-1m-5.5 20h1v1h-1m8.5-20h1v1h-1m-11 18h1v1h-1m0.5-29h1v1h-1m2 26.5h1v1h-1m5.5-14.5h1v1h-1m-4-19h1v1h-1m2 4h1v1h-1m2.5 12h1v1h-1m0.5-9.5h1v1h-1m-14 0.5h1v1h-1m10 14h1v1h-1m-11.5-5.5h1v1h-1m9.5 17h1v1h-1m2.5-13.5h1v1h-1m-11-4h1v1h-1m-0.5-8.5h1v1h-1m5.5 24h1v1h-1m-7.5-11h1v1h-1m10-36h1v1h-1m5 10.5h1v1h-1m5.5 5.5h1v1h-1m-11 16h1v1h-1m0 11h1v1h-1m4.5-12.5h1v1h-1m-9-5.5h1v1h-1m13-20.5h1v1h-1m-1.5-6.5h1v1h-1m-3.5-5.5h1v1h-1m-11.5 14.5h1v1h-1m11.5 11.5h1v1h-1m4-23.5h1v1h-1m-7.5 31h1v1h-1m-7.5-9.5h1v1h-1m11.5-24.5h1v1h-1m-10 29.5h1v1h-1m4.5-0.5h1v1h-1m2.5-4.5h1v1h-1m-3-1.5h1v1h-1m-1.5 1h1v1h-1m14-24.5h1v1h-1m-3 24.5h1v1h-1m-3-33h1v1h-1m1.5 12h1v1h-1m-13.5 15h1v1h-1m12-4.5h1v1h-1m-9-14.5h1v1h-1m11-1h1v1h-1m-5-25.5h1v1h-1m-5 39.5h1v1h-1m17-30h1v1h-1m-19.5 35.5h1v1h-1m1-17h1v1h-1m6 10h1v1h-1m5.5-17.5h1v1h-1m2.5 3.5h1v1h-1m-3.5 18.5h1v1h-1m-4-4.5h1v1h-1m-0.5-5h1v1h-1m1.5-3h1v1h-1m5-13h1v1h-1m-13-1h1v1h-1m5-12.5h1v1h-1m-4.5-5h1v1h-1m11 7.5h1v1h-1m-9 22.5h1v1h-1m8.5-11h1v1h-1m2.5-34h1v1h-1m-13.5 28.5h1v1h-1m9 8h1v1h-1m-10 0.5h1v1h-1m13.5-3h1v1h-1m-12-12.5h1v1h-1m5.5-17h1v1h-1m3.5 4.5h1v1h-1m6-1h1v1h-1m-18.5 10.5h1v1h-1m6.5-8.5h1v1h-1m5.5 17.5h1v1h-1m7.5-14.5h1v1h-1m-14.5-14.5h1v1h-1m-1 16.5h1v1h-1m2-9.5h1v1h-1m0 19.5h1v1h-1m4.5 1.5h1v1h-1m1.5-7.5h1v1h-1m2.5-4h1v1h-1m0.5 6.5h1v1h-1m2.5-10.5h1v1h-1m-15.5 22h1v1h-1m11.5-39h1v1h-1m-7 25.5h1v1h-1m5.5-11.5h1v1h-1m-6.5-14.5h1v1h-1m3.5-6.5h1v1h-1m-9.5 16h1v1h-1m20 0h1v1h-1m-5-16h1v1h-1m6 1.5h1v1h-1m-14 15.5h1v1h-1m-9.5 4.5h1v1h-1m17.5-18.5h1v1h-1m1.5-19.5h1v1h-1m1.5 16h1v1h-1m1-1.5h1v1h-1m-11-9h1v1h-1m-2.5 27h1v1h-1m5.5-29h1v1h-1m4.5-3h1v1h-1m-3.5 30.5h1v1h-1m-1.5-6h1v1h-1m-7.5-6h1v1h-1m0.5-9h1v1h-1m14-26h1v1h-1m-2.5 15h1v1h-1m-5-9.5h1v1h-1m0-3.5h1v1h-1m-8 26h1v1h-1m13.5-13h1v1h-1m-3.5 26.5h1v1h-1m-12-31.5h1v1h-1m15 28h1v1h-1m-12-23.5h1v1h-1m11-13h1v1h-1m-12.5 37.5h1v1h-1m0.5-23.5h1v1h-1m10.5 5.5h1v1h-1m0.5-24h1v1h-1m-2.5-1h1v1h-1m8 21h1v1h-1m-12 6.5h1v1h-1m6.5-6h1v1h-1m-3.5 15h1v1h-1m-11.5-10.5h1v1h-1m8-2.5h1v1h-1m9-13.5h1v1h-1m-1.5-13.5h1v1h-1m-11.5 28.5h1v1h-1m3-30h1v1h-1m13-3h1v1h-1m-16.5 24h1v1h-1m2.5-17.5h1v1h-1m3.5 24h1v1h-1m-2.5-53h1v1h-1m2-11.5h1v1h-1m2-11.5h1v1h-1m0.5-8h1v1h-1m0 19h1v1h-1m-2.5-5h1v1h-1m-3 2.5h1v1h-1m2.5-13.5h1v1h-1m0.5-6.5h1v1h-1m2 20.5h1v1h-1m-5-14h1v1h-1m5.5-2.5h1v1h-1m-6.5 3.5h1v1h-1m8-1.5h1v1h-1m-6-4h1v1h-1m-2.5 0h1v1h-1m8.5 6.5h1v1h-1m-3.5-5h1v1h-1m-1-3h1v1h-1m-0.5-0.5h1v1h-1m0.5-1h1v1h-1m3.5-2h1v1h-1m-6 1.5h1v1h-1m3.5-6.5h1v1h-1m2.5-2.5h1v1h-1m0.5 7h1v1h-1m-4-8.5h1v1h-1m1.5-2h1v1h-1m4-8.5h1v1h-1m-3.5 9.5h1v1h-1m-4 4h1v1h-1m2-1.5h1v1h-1m0.5-5h1v1h-1m2 6h1v1h-1m2-6.5h1v1h-1m1.5-2.5h1v1h-1m-7.5-10.5h1v1h-1m-1 4.5h1v1h-1m-1.5 6h1v1h-1m5.5-2.5h1v1h-1m1-1.5h1v1h-1m-1.5-2.5h1v1h-1m1.5-5.5h1v1h-1m2 14.5h1v1h-1m-4 3h1v1h-1m-2.5-9h1v1h-1m-1.5-3h1v1h-1m2 1.5h1v1h-1m3-1h1v1h-1m1.5-3.5h1v1h-1m-3 5h1v1h-1m2.5-7h1v1h-1m3.5-5h1v1h-1m0 6.5h1v1h-1m-3.5-15.5h1v1h-1m3 5.5h1v1h-1m-4 1h1v1h-1m2.5 2.5h1v1h-1m-7.5-9h1v1h-1m6 4h1v1h-1m1 1.5h1v1h-1m3-8h1v1h-1m-1.5 5h1v1h-1m-3 0.5h1v1h-1m-2-1h1v1h-1m0.5-1h1v1h-1m-2 1.5h1v1h-1m-1-11.5h1v1h-1m3.5 4.5h1v1h-1m-1.5-5h1v1h-1m2 7.5h1v1h-1m4-9.5h1v1h-1m-4-0.5h1v1h-1m-4-2h1v1h-1m8-5.5h1v1h-1m4 13h1v1h-1m-3-6h1v1h-1m-12-0.5h1v1h-1m12-6h1v1h-1m-1.5 6.5h1v1h-1m-1.5-1h1v1h-1m-0.5-1.5h1v1h-1m2-2h1v1h-1m-2-1.5h1v1h-1m-0.5-8.5h1v1h-1m-5.5-2h1v1h-1m1.5-3.5h1v1h-1m5 6h1v1h-1m0 18.5h1v1h-1m0.5-21.5h1v1h-1m-1.5 0.5h1v1h-1m-1.5 12h1v1h-1m4.5-5.5h1v1h-1m-4 1.5h1v1h-1m2-5.5h1v1h-1m-5-10.5h1v1h-1m3.5 2h1v1h-1m-1-11.5h1v1h-1m-1.5 9.5h1v1h-1m3.5-6h1v1h-1m-3 15h1v1h-1m3-22h1v1h-1m-2 10h1v1h-1m4 0.5h1v1h-1m0.5 0h1v1h-1m-1.5 4.5h1v1h-1m2-7.5h1v1h-1m-5 20h1v1h-1m-3-22.5h1v1h-1m5.5-6h1v1h-1m0.5 2.5h1v1h-1m-0.5 1h1v1h-1m-5.5 3h1v1h-1m9-0.5h1v1h-1m-3.5-16.5h1v1h-1m-1 8.5h1v1h-1m-2-12h1v1h-1m2 15.5h1v1h-1m0 6.5h1v1h-1m-6.5-12.5h1v1h-1m4.5 5.5h1v1h-1m1.5-14.5h1v1h-1m-1 7h1v1h-1m-1-8h1v1h-1m2 8.5h1v1h-1m-1.5-3.5h1v1h-1m-0.5-5.5h1v1h-1m1.5 6.5h1v1h-1m4.5-6.5h1v1h-1m-4.5 10.5h1v1h-1m2.5-14.5h1v1h-1m-42-6h1v1h-1m-34.5 8h1v1h-1m42.5 3h1v1h-1m-12.5 6h1v1h-1m25-28.5h1v1h-1m-27 35h1v1h-1m5-7.5h1v1h-1m-9 10.5h1v1h-1m11.5 4.5h1v1h-1m-5.5-47.5h1v1h-1m-24 19h1v1h-1m29-16h1v1h-1m-14 37h1v1h-1m12.5-27h1v1h-1m-6.5 10h1v1h-1m23.5 17h1v1h-1m-39 10.5h1v1h-1m15.5-50.5h1v1h-1m-18.5 19.5h1v1h-1m23.5-11.5h1v1h-1m0.5 16.5h1v1h-1m4-41.5h1v1h-1m-2.5 41h1v1h-1m-25.5 9.5h1v1h-1m9.5-11h1v1h-1m21.5-7h1v1h-1m-11.5-0.5h1v1h-1m36.5-5.5h1v1h-1m-40-34.5h1v1h-1m-6 53.5h1v1h-1m22-39h1v1h-1m-1 17.5h1v1h-1m-21.5 7h1v1h-1m11-8.5h1v1h-1m-6 0h1v1h-1m6-2.5h1v1h-1m5-12h1v1h-1m-24 6.5h1v1h-1m35.5 4.5h1v1h-1m-13.5-15.5h1v1h-1m-19-7.5h1v1h-1m-5 14h1v1h-1m-0.5 9.5h1v1h-1m21-33.5h1v1h-1m-7 25.5h1v1h-1m12.5 6.5h1v1h-1m-8.5-4h1v1h-1m5-13h1v1h-1m-16.5 21.5h1v1h-1m21.5-31h1v1h-1m20 1h1v1h-1m-19.5 29h1v1h-1m11.5-13.5h1v1h-1m-18 0.5h1v1h-1m27.5-5.5h1v1h-1m-61.5-23.5h1v1h-1m80.5 21.5h1v1h-1m-1 20.5h1v1h-1m-85.5-27h1v1h-1m65.5-10h1v1h-1m-51 69.5h1v1h-1m21-33h1v1h-1m12.5 30h1v1h-1m-23.5-90.5h1v1h-1m46.5 61h1v1h-1m20.5-55.5h1v1h-1m-72.5 33h1v1h-1m11.5-33.5h1v1h-1m-15-9h1v1h-1m31 7.5h1v1h-1m-43.5-4.5h1v1h-1m74 50.5h1v1h-1m-39.5 14h1v1h-1m-33-37.5h1v1h-1m97.5-35h1v1h-1m-86 39h1v1h-1m22-39.5h1v1h-1m54 66.5h1v1h-1m-28-36h1v1h-1m-3 7h1v1h-1m1-18h1v1h-1m27 17.5h1v1h-1m-63.5 5h1v1h-1m59.5-9h1v1h-1m-49.5 3.5h1v1h-1m40-35h1v1h-1m21.5 20.5h1v1h-1m-51.5 9h1v1h-1m37.5-33.5h1v1h-1" fill="#0000ef"/>
<path d="M184 508.5h1v1h-1m3-10.5h1v1h-1m6 25h1v1h-1m-3.5-3h1v1h-1m17.5-25.5h1v1h-1m-21.5-0.5h1v1h-1m6.5-3.5h1v1h-1m17 6.5h1v1h-1m-2.5-2h1v1h-1m-3-7.5h1v1h-1m2 0.5h1v1h-1m-21 13.5h1v1h-1m1 8h1v1h-1m11.5 1.5h1v1h-1m-8-26.5h1v1h-1m16.5 11h1v1h-1m-13 12.5h1v1h-1m-1-27h1v1h-1m16.5-0.5h1v1h-1m-6.5 18.5h1v1h-1m-8.5 6h1v1h-1m11.5-29.5h1v1h-1m-19.5 4.5h1v1h-1m16 15h1v1h-1m-10 4h1v1h-1m-5 1h1v1h-1m6.5-3h1v1h-1m3.5 0.5h1v1h-1m-8.5-28h1v1h-1m2.5-3h1v1h-1m14 21h1v1h-1m-18 2.5h1v1h-1m23.5-16h1v1h-1m-24-3.5h1v1h-1m21.5 5h1v1h-1m-8.5 10.5h1v1h-1m-7.5-27.5h1v1h-1m-3 28.5h1v1h-1m11.5-4.5h1v1h-1m-12.5-23h1v1h-1m18 15.5h1v1h-1m-19.5-18h1v1h-1m20.5 6.5h1v1h-1m1.5-1.5h1v1h-1m-14.5-11h1v1h-1m4.5 27.5h1v1h-1m8.5-21h1v1h-1m-3.5 15h1v1h-1m-19.5-14.5h1v1h-1m2.5 14.5h1v1h-1m10.5 1.5h1v1h-1m5-31.5h1v1h-1m7.5 11.5h1v1h-1m-5 10.5h1v1h-1m4-19.5h1v1h-1m-1 9.5h1v1h-1m-2-13h1v1h-1m-12-0.5h1v1h-1m-7.5 21.5h1v1h-1m20-1.5h1v1h-1m-7 3h1v1h-1m-13.5-13h1v1h-1m18-19.5h1v1h-1m-3.5 28h1v1h-1m-11.5-26h1v1h-1m0.5 24h1v1h-1m-2.5-21h1v1h-1m1 17.5h1v1h-1m5-24.5h1v1h-1m15 4h1v1h-1m-11-10.5h1v1h-1m-11.5 20.5h1v1h-1m16.5 5h1v1h-1m1-0.5h1v1h-1m5.5-21.5h1v1h-1m-21 21h1v1h-1m10.5 0h1v1h-1m0.5-31h1v1h-1m-1.5 29h1v1h-1m13-20.5h1v1h-1m-1 9.5h1v1h-1m-5.5 3h1v1h-1m-4-27.5h1v1h-1m-9.5 30.5h1v1h-1m0.5-1h1v1h-1m15-9.5h1v1h-1m0-21.5h1v1h-1m-4 25h1v1h-1m4.5-23.5h1v1h-1m-14.5-1.5h1v1h-1m9.5 23h1v1h-1m-17-3.5h1v1h-1m17.5 0h1v1h-1m4-25.5h1v1h-1m-0.5 22h1v1h-1m-21-2.5h1v1h-1m19-26h1v1h-1m1.5 4.5h1v1h-1m2.5 15h1v1h-1m-19.5-11h1v1h-1m15-12.5h1v1h-1m-18 16h1v1h-1m11.5-15h1v1h-1m6 23h1v1h-1m-15-16h1v1h-1m14 18h1v1h-1m3.5-26.5h1v1h-1m-12.5-3h1v1h-1m0.5 2h1v1h-1m17.5 2.5h1v1h-1m-22.5 18h1v1h-1m7.5 1h1v1h-1m-9-4.5h1v1h-1m19-24h1v1h-1m-18 24h1v1h-1m18.5-2.5h1v1h-1m-3.5-27.5h1v1h-1m1-1h1v1h-1m-3.5 30.5h1v1h-1m-15.5-11h1v1h-1m3.5-15h1v1h-1m13 19.5h1v1h-1m-13-19.5h1v1h-1m-2.5 2h1v1h-1m11.5-15h1v1h-1m13 7.5h1v1h-1m-24.5 10.5h1v1h-1m14-20h1v1h-1m-2.5 2.5h1v1h-1m9 1h1v1h-1m2 7h1v1h-1m1-9.5h1v1h-1m-14-5h1v1h-1m6-2h1v1h-1m-16.5 19h1v1h-1m19.5-21.5h1v1h-1m-17 5.5h1v1h-1m23.5 3h1v1h-1m-20.5-5.5h1v1h-1m10 23h1v1h-1m-15-9h1v1h-1m24.5-14h1v1h-1m-14 22h1v1h-1m-8-22h1v1h-1m-1.5 3h1v1h-1m-0.5 1h1v1h-1m14-17h1v1h-1m9.5 8h1v1h-1m-22-6.5h1v1h-1m15 23h1v1h-1m-10-26.5h1v1h-1m13.5-0.5h1v1h-1m-12-1.5h1v1h-1m8-4h1v1h-1m2 0h1v1h-1m-19 15.5h1v1h-1m22-14h1v1h-1m-19.5 1h1v1h-1m11 23.5h1v1h-1m-12.5-18h1v1h-1m2.5 13h1v1h-1m20-9h1v1h-1m-20.5-14.5h1v1h-1m10.5 23h1v1h-1m-13-4h1v1h-1m14.5-28.5h1v1h-1m6.5 5h1v1h-1m-12-1.5h1v1h-1m13-3.5h1v1h-1m-19.5 23.5h1v1h-1m4.5-22h1v1h-1m14-1h1v1h-1m-1 16h1v1h-1m-20.5-1.5h1v1h-1m3.5-17h1v1h-1m-3 13.5h1v1h-1m16 10h1v1h-1m-14.5-9h1v1h-1m2-21h1v1h-1m16.5-2h1v1h-1m1.5 1.5h1v1h-1m-15 24h1v1h-1m-5-5.5h1v1h-1m21-17.5h1v1h-1m1 2.5h1v1h-1m-22 12.5h1v1h-1m22.5-23.5h1v1h-1m-24 13h1v1h-1m24.5-15h1v1h-1m-24.5 21h1v1h-1m24-15.5h1v1h-1m-1-6h1v1h-1m-15.5-2.5h1v1h-1m16-1.5h1v1h-1m-6.5 24h1v1h-1m-4-30h1v1h-1m-6.5 2h1v1h-1m-5.5 13h1v1h-1m21.5-6.5h1v1h-1m-6.5-13h1v1h-1m-13.5 10h1v1h-1m21 1.5h1v1h-1m0.5 4h1v1h-1m-9 10.5h1v1h-1m3-30.5h1v1h-1m3 4h1v1h-1m-18.5 3.5h1v1h-1m20.5-2.5h1v1h-1m-19-4h1v1h-1m15.5 22.5h1v1h-1m-16-1h1v1h-1m-4-5h1v1h-1m9-20.5h1v1h-1m-1 23h1v1h-1m15-21h1v1h-1m-22 13.5h1v1h-1m15.5 3h1v1h-1m-8-24h1v1h-1m-8 18h1v1h-1m1.5-6h1v1h-1m22-10.5h1v1h-1m-8-11h1v1h-1m-15 25.5h1v1h-1m9.5 3h1v1h-1m-8-24.5h1v1h-1m25.5 6h1v1h-1m-3.5-10h1v1h-1m-24.5 13.5h1v1h-1m14.5-20.5h1v1h-1m10.5 12.5h1v1h-1m-16.5-11.5h1v1h-1m-7.5 21h1v1h-1m-1-9h1v1h-1m23 2.5h1v1h-1m-20.5-11.5h1v1h-1m19 13h1v1h-1m1 0.5h1v1h-1m-10.5-24h1v1h-1m-7.5 25h1v1h-1m-2.5-10.5h1v1h-1m6 10.5h1v1h-1m16-20h1v1h-1m-22.5 9.5h1v1h-1m1.5 6.5h1v1h-1m-2-7.5h1v1h-1m24-11.5h1v1h-1m-12.5 17.5h1v1h-1m-2.5-1h1v1h-1m2.5-29h1v1h-1m-7.5 2h1v1h-1m17.5 18h1v1h-1m2.5-15.5h1v1h-1m-6.5 15h1v1h-1m0.5 1h1v1h-1m-18-4.5h1v1h-1m14 5.5h1v1h-1m0-31.5h1v1h-1m-9.5 29h1v1h-1m12-31h1v1h-1m8 6.5h1v1h-1m-2 1h1v1h-1m-8.5-11h1v1h-1m5.5 0.5h1v1h-1m-9.5 29.5h1v1h-1m2-3.5h1v1h-1m12-13h1v1h-1m-24.5 2h1v1h-1m19.5 7.5h1v1h-1m-2-31h1v1h-1m2.5 24h1v1h-1m3-8h1v1h-1m-10 12.5h1v1h-1m6.5-31h1v1h-1m-1.5-2.5h1v1h-1m-13.5 32h1v1h-1m15-4.5h1v1h-1m-2-3.5h1v1h-1m4-3h1v1h-1m5-13h1v1h-1m-8 15.5h1v1h-1m0.5-31h1v1h-1m4.5 11h1v1h-1m-1 10h1v1h-1m0.5-14h1v1h-1m-18.5-3.5h1v1h-1m11.5-8h1v1h-1m-14 31.5h1v1h-1m7-31h1v1h-1m3 29h1v1h-1m10.5-16.5h1v1h-1m-17 13h1v1h-1m14.5-27h1v1h-1m-20 21.5h1v1h-1m11 2h1v1h-1m0.5-27h1v1h-1m6 22h1v1h-1m-13.5 2.5h1v1h-1m10.5-30.5h1v1h-1m-5 30h1v1h-1m-3-3h1v1h-1m11-3h1v1h-1m-14-21h1v1h-1m19.5 3h1v1h-1m-2-8h1v1h-1m3 5.5h1v1h-1m-12.5 18.5h1v1h-1m10-30.5h1v1h-1m-18 9h1v1h-1m23 0h1v1h-1m-3-5h1v1h-1m-3.5-4h1v1h-1m3 11h1v1h-1m-21.5 4h1v1h-1m23-15.5h1v1h-1m-21.5-2h1v1h-1m23.5 3.5h1v1h-1m-4.5 12h1v1h-1m5.5-16h1v1h-1m-1 3h1v1h-1m-3.5 1h1v1h-1m-11 15h1v1h-1m15-20h1v1h-1m-18.5 17h1v1h-1m7-31h1v1h-1m-10.5 30h1v1h-1m20-19.5h1v1h-1m-6 13.5h1v1h-1m-19-15h1v1h-1m-0.5 0.5h1v1h-1m23 1.5h1v1h-1m2-3.5h1v1h-1m-21.5-6.5h1v1h-1m-2 5.5h1v1h-1m9 15h1v1h-1m13-20h1v1h-1m-9 17h1v1h-1m12-17.5h1v1h-1m-22-10.5h1v1h-1m21 9.5h1v1h-1m-22-12.5h1v1h-1m6-3h1v1h-1m-5.5 1.5h1v1h-1m8 26h1v1h-1m2.5-2h1v1h-1m-11-3.5h1v1h-1m15 0h1v1h-1m-9-23.5h1v1h-1m-9 14.5h1v1h-1m22.5-10.5h1v1h-1m-22-1h1v1h-1m19.5-7.5h1v1h-1m-17 1.5h1v1h-1m9.5 22.5h1v1h-1m5-7h1v1h-1m7.5-5h1v1h-1m-23-17.5h1v1h-1m2 23h1v1h-1m23-18h1v1h-1m-4 8h1v1h-1m-19 7h1v1h-1m23.5-21h1v1h-1m-27.5 14h1v1h-1m17.5-25.5h1v1h-1m-9.5 5.5h1v1h-1m-6.5 9.5h1v1h-1m10-14h1v1h-1m13.5 5.5h1v1h-1m-23.5 6h1v1h-1m16 6.5h1v1h-1m7-4.5h1v1h-1m-1-4h1v1h-1m-7-18h1v1h-1m-17 12.5h1v1h-1m2 3.5h1v1h-1m8.5 11h1v1h-1m6.5-31.5h1v1h-1m6 0.5h1v1h-1m-2.5-2h1v1h-1m-16 5.5h1v1h-1m-2.5 3.5h1v1h-1m19.5 11.5h1v1h-1m-20.5-4.5h1v1h-1m68.5 26.5h1v1h-1m1-1.5h1v1h-1m-0.5 0.5h1v1h-1m-1 15h1v1h-1m-2-0.5h1v1h-1m6.5-13h1v1h-1m-4.5 11h1v1h-1m-1-3h1v1h-1m3.5-15h1v1h-1m-1-4.5h1v1h-1m3 11.5h1v1h-1m0.5-11h1v1h-1m0-1.5h1v1h-1m0 9.5h1v1h-1m-2.5-13.5h1v1h-1m-5 7h1v1h-1m3-6.5h1v1h-1m4 0.5h1v1h-1m0 10h1v1h-1m-6.5-1h1v1h-1m4.5 4h1v1h-1m-4.5-12h1v1h-1m4.5-9h1v1h-1m0 17h1v1h-1m-3.5-0.5h1v1h-1m7-19h1v1h-1m-2.5 6h1v1h-1m-6.5 2.5h1v1h-1m-1 2h1v1h-1m4-9.5h1v1h-1m4 9h1v1h-1m0.5-1h1v1h-1m-1-4h1v1h-1m-4 4.5h1v1h-1m-0.5-14h1v1h-1m-1 0h1v1h-1m2 10.5h1v1h-1m-0.5-14h1v1h-1m3.5-6.5h1v1h-1m-4.5 21h1v1h-1m1.5-4.5h1v1h-1m-1.5-14.5h1v1h-1m-1.5 6h1v1h-1m2-7h1v1h-1m-3 5.5h1v1h-1m7.5 1h1v1h-1m-2.5 2.5h1v1h-1m2.5-18h1v1h-1m2 2h1v1h-1m-5.5-1.5h1v1h-1m4-1h1v1h-1m-3 16.5h1v1h-1m0-20h1v1h-1m-1 0.5h1v1h-1m-2.5 7.5h1v1h-1m1.5 4.5h1v1h-1m4-15h1v1h-1m1.5 2h1v1h-1m-7 3.5h1v1h-1m6.5-2.5h1v1h-1m-7.5-3h1v1h-1m6.5 9.5h1v1h-1m1.5-14.5h1v1h-1m-8 9.5h1v1h-1m6.5 2.5h1v1h-1m-6-1.5h1v1h-1m4-19.5h1v1h-1m2.5 8.5h1v1h-1m-8-1.5h1v1h-1m5 8.5h1v1h-1m4-9h1v1h-1m-7-4h1v1h-1m6.5-4.5h1v1h-1m2-1h1v1h-1m-9.5 12h1v1h-1m5-0.5h1v1h-1m-5.5-7.5h1v1h-1m4.5-5h1v1h-1m-4.5 11h1v1h-1m9.5-7.5h1v1h-1m-2.5-11h1v1h-1m-1.5-3h1v1h-1m-2 20h1v1h-1m3-19.5h1v1h-1m-1.5 0h1v1h-1m-4 11h1v1h-1m8.5-4.5h1v1h-1m-4.5-10h1v1h-1m-4.5 10h1v1h-1m4.5 6.5h1v1h-1m0.5-4.5h1v1h-1m2.5-3.5h1v1h-1m1-6h1v1h-1m-4.5 6h1v1h-1m-1 1.5h1v1h-1m6-6.5h1v1h-1m-5.5-10h1v1h-1m0 13.5h1v1h-1m2-20.5h1v1h-1m3 7h1v1h-1m-4.5-3.5h1v1h-1m4.5 6.5h1v1h-1m-0.5-1h1v1h-1m-5.5 2.5h1v1h-1m5.5-14.5h1v1h-1m-1.5 15h1v1h-1m-1-20h1v1h-1m2.5 7h1v1h-1m-7.5 4.5h1v1h-1m6 4h1v1h-1m-1-17h1v1h-1m-5 11h1v1h-1m4-16.5h1v1h-1m4 5h1v1h-1m0.5 3h1v1h-1m-3.5-7.5h1v1h-1m2.5 6.5h1v1h-1m-4-8.5h1v1h-1m-2.5 12h1v1h-1m2.5 4.5h1v1h-1m3.5-10.5h1v1h-1m-6.5 5h1v1h-1m1 1h1v1h-1m2.5-21.5h1v1h-1m-2 16.5h1v1h-1m1.5 1.5h1v1h-1m3-6.5h1v1h-1m-4.5 3.5h1v1h-1m1-16h1v1h-1m3.5 4h1v1h-1m0-5h1v1h-1m0.5 3.5h1v1h-1m1-4h1v1h-1m-7 1.5h1v1h-1m3.5-8h1v1h-1m3.5 6.5h1v1h-1m-6.5-4.5h1v1h-1m5.5 2h1v1h-1m-5-8h1v1h-1m5 6.5h1v1h-1m1 3.5h1v1h-1m-6 5.5h1v1h-1m5.5-18.5h1v1h-1m-4 15.5h1v1h-1m-3.5-1.5h1v1h-1m5.5-16h1v1h-1m-6.5 10.5h1v1h-1m4.5-11h1v1h-1m0 13h1v1h-1m0.5-17.5h1v1h-1m-4.5 10.5h1v1h-1m4 3h1v1h-1m5-5h1v1h-1m-1-1.5h1v1h-1m0-2.5h1v1h-1m-7.5 1h1v1h-1m6 2.5h1v1h-1m-4 3.5h1v1h-1m0.5-5.5h1v1h-1m3-1h1v1h-1m-6.5-6h1v1h-1m4-12h1v1h-1m-3 17h1v1h-1m5-3h1v1h-1m-1.5-15.5h1v1h-1m-2 16h1v1h-1m5-14.5h1v1h-1m0 6h1v1h-1m1.5 0.5h1v1h-1m0-5.5h1v1h-1m-0.5 1.5h1v1h-1m-7.5-6h1v1h-1m7.5-6h1v1h-1m-0.5 8h1v1h-1m-8-1h1v1h-1m4-10.5h1v1h-1m-2 16h1v1h-1m-0.5-10.5h1v1h-1m0-1.5h1v1h-1m-0.5 6.5h1v1h-1m2-12.5h1v1h-1m-3 11.5h1v1h-1m2-1h1v1h-1m-1.5-2.5h1v1h-1m8-12.5h1v1h-1m-5 14h1v1h-1m1-17.5h1v1h-1m-4 10h1v1h-1m7.5-4h1v1h-1m0 2h1v1h-1m-4.5-12h1v1h-1m6 6h1v1h-1m-8-1h1v1h-1m1 8.5h1v1h-1m4-19.5h1v1h-1m2.5 2.5h1v1h-1m-4.5 13.5h1v1h-1m-4.5-10.5h1v1h-1m8 4h1v1h-1m-5-13.5h1v1h-1m0 0.5h1v1h-1m-1 10.5h1v1h-1m3 3h1v1h-1m4.5-7.5h1v1h-1m-1.5-11.5h1v1h-1m1.5 10h1v1h-1m-9.5 1.5h1v1h-1m9-3.5h1v1h-1m-0.5-4.5h1v1h-1m-7 3.5h1v1h-1m1.5 5h1v1h-1m-3-7h1v1h-1m9-3h1v1h-1m-4-11.5h1v1h-1m-4.5 7.5h1v1h-1m8.5-5.5h1v1h-1m-3.5 13.5h1v1h-1m3-10.5h1v1h-1m0.5 1h1v1h-1m-3 5.5h1v1h-1m-3-15h1v1h-1m5.5 6.5h1v1h-1m-7.5 4h1v1h-1m2.5-0.5h1v1h-1m2-2.5h1v1h-1m4-8.5h1v1h-1m-2 2.5h1v1h-1m-7-5h1v1h-1m0.5 5.5h1v1h-1m9-5h1v1h-1m-8-2h1v1h-1m3-11h1v1h-1m-2 18.5h1v1h-1m4-4h1v1h-1m0.5-6.5h1v1h-1m-5.5 3h1v1h-1m-1.5 1.5h1v1h-1m1-9h1v1h-1m8-1.5h1v1h-1m-3.5-11.5h1v1h-1m3 12h1v1h-1m-7 7.5h1v1h-1m1-3.5h1v1h-1m1.5-14h1v1h-1m0 15.5h1v1h-1m0-3.5h1v1h-1m-5-2h1v1h-1m7 1h1v1h-1m3-16h1v1h-1m-9 8h1v1h-1m9 0h1v1h-1m-8.5-4h1v1h-1m5.5 7.5h1v1h-1m-5.5-7h1v1h-1m7-14h1v1h-1m-5 18.5h1v1h-1m2.5-21.5h1v1h-1m4 7h1v1h-1m-7-6h1v1h-1m-2 7.5h1v1h-1m7.5-8.5h1v1h-1m-4 14h1v1h-1m4-5.5h1v1h-1m-1.5 5h1v1h-1m-3.5-5h1v1h-1m-2.5-8h1v1h-1m0 0h1v1h-1m1 1h1v1h-1m-53.5-56.5h1v1h-1m7 1.5h1v1h-1m0 13h1v1h-1m-6 3.5h1v1h-1m0.5-0.5h1v1h-1m-8-7h1v1h-1m-1-7h1v1h-1m12.5 5.5h1v1h-1" fill="#002dff"/>
<path d="M199 517.5h1v1h-1m0.5 1h1v1h-1m-13.5-13h1v1h-1m4.5 12.5h1v1h-1m-1.5 0h1v1h-1m0-5h1v1h-1m14-19.5h1v1h-1m-4 19h1v1h-1m2.5-25.5h1v1h-1m-14.5 16h1v1h-1m15 2.5h1v1h-1m-9 5h1v1h-1m-1-2h1v1h-1m13-7.5h1v1h-1m0-1h1v1h-1m-15.5-13.5h1v1h-1m-2.5 8.5h1v1h-1m5 9.5h1v1h-1m5-27h1v1h-1m-10.5 22.5h1v1h-1m-2-14.5h1v1h-1m17 10.5h1v1h-1m-15-3.5h1v1h-1m3.5 6h1v1h-1m13-23h1v1h-1m-17.5 7h1v1h-1m15 7.5h1v1h-1m-15-7h1v1h-1m10 10h1v1h-1m-8-4.5h1v1h-1m1.5 3.5h1v1h-1m-3-16h1v1h-1m1.5 14h1v1h-1m-1.5-7h1v1h-1m2-16.5h1v1h-1m8 20h1v1h-1m-9-14h1v1h-1m10.5-13h1v1h-1m-11 13h1v1h-1m3 6.5h1v1h-1m3.5 1.5h1v1h-1m-1-1.5h1v1h-1m11.5-10h1v1h-1m-11.5 9.5h1v1h-1m3-1.5h1v1h-1m-10-3h1v1h-1m1.5-8h1v1h-1m8 9h1v1h-1m-4.5-5.5h1v1h-1m-0.5 0.5h1v1h-1m-3.5-2.5h1v1h-1m17.5-18.5h1v1h-1m-14-0.5h1v1h-1m0-1.5h1v1h-1m-3 17.5h1v1h-1m16.5-8.5h1v1h-1m-15 6h1v1h-1m-1.5-14.5h1v1h-1m17.5 6h1v1h-1m-18.5 3h1v1h-1m11.5 5.5h1v1h-1m-12-15h1v1h-1m20 5.5h1v1h-1m-1-15h1v1h-1m-8 19.5h1v1h-1m-6.5 0h1v1h-1m-1-23.5h1v1h-1m8.5-5.5h1v1h-1m-12 10h1v1h-1m0.5 4.5h1v1h-1m0-1.5h1v1h-1m13 6.5h1v1h-1m6-9.5h1v1h-1m-17.5 2.5h1v1h-1m-1-10h1v1h-1m-0.5 9h1v1h-1m-0.5-9h1v1h-1m15.5 7.5h1v1h-1m3-3h1v1h-1m-4 5.5h1v1h-1m-10.5 1.5h1v1h-1m10-5h1v1h-1m-5 1h1v1h-1m-6.5-3h1v1h-1m15.5-19h1v1h-1m-15 18.5h1v1h-1m8-26h1v1h-1m5 20h1v1h-1m-12-16.5h1v1h-1m-3 12.5h1v1h-1m0-9.5h1v1h-1m1 7.5h1v1h-1m0 2.5h1v1h-1m-2-11.5h1v1h-1m4.5 10.5h1v1h-1m-4-3h1v1h-1m0.5-5.5h1v1h-1m-0.5 7h1v1h-1m2-1.5h1v1h-1m-2.5-3h1v1h-1m0.5 0.5h1v1h-1m0.5-5h1v1h-1m0.5-5h1v1h-1m17.5 0h1v1h-1m-1-11.5h1v1h-1m-17 7.5h1v1h-1m3.5-10.5h1v1h-1m12 14h1v1h-1m-16.5 1.5h1v1h-1m4.5-0.5h1v1h-1m12-3.5h1v1h-1m-2 1.5h1v1h-1m5-5.5h1v1h-1m-9 7h1v1h-1m-8 0h1v1h-1m8.5-28h1v1h-1m0-2h1v1h-1m-7 26.5h1v1h-1m3.5-3h1v1h-1m-5.5-12h1v1h-1m14.5-15.5h1v1h-1m-1.5 23.5h1v1h-1m-3.5-25h1v1h-1m-11 18.5h1v1h-1m-0.5-2.5h1v1h-1m-0.5 4h1v1h-1m7.5 3h1v1h-1m9-28.5h1v1h-1m-3.5 24.5h1v1h-1m-7-0.5h1v1h-1m1-1h1v1h-1m11-4.5h1v1h-1m-16-4.5h1v1h-1m18.5-2.5h1v1h-1m-19-5h1v1h-1m16.5-14.5h1v1h-1m3 19h1v1h-1m-19 4h1v1h-1m-1.5-2.5h1v1h-1m7 3.5h1v1h-1m-6-17.5h1v1h-1m17.5 3h1v1h-1m-13.5 10h1v1h-1m-2-1.5h1v1h-1m17-10.5h1v1h-1m-19 5.5h1v1h-1m16.5-22.5h1v1h-1m-1-2.5h1v1h-1m-1-1h1v1h-1m-11 4h1v1h-1m11.5 14.5h1v1h-1m4-4h1v1h-1m-3.5-17h1v1h-1m-1 19.5h1v1h-1m-15-4h1v1h-1m-1 5.5h1v1h-1m8.5 1.5h1v1h-1m10.5-22h1v1h-1m-9.5 19h1v1h-1m-8.5-12.5h1v1h-1m19.5 0.5h1v1h-1m-1-11h1v1h-1m-18.5 13h1v1h-1m2.5-14.5h1v1h-1m1 17.5h1v1h-1m6.5-26h1v1h-1m1 25.5h1v1h-1m-1-27h1v1h-1m5.5 19.5h1v1h-1m-12.5 0.5h1v1h-1m8-23.5h1v1h-1m-4 24h1v1h-1m4.5-26.5h1v1h-1m-10.5 9h1v1h-1m-1.5 5h1v1h-1m0.5 1.5h1v1h-1m0 0h1v1h-1m-0.5-7h1v1h-1m0-3h1v1h-1m0.5 7h1v1h-1m12-19h1v1h-1m-10.5 11h1v1h-1m17-8h1v1h-1m0.5 12.5h1v1h-1m-0.5-2.5h1v1h-1m-15.5 6.5h1v1h-1m13-5.5h1v1h-1m-13.5 5h1v1h-1m0-1.5h1v1h-1m-0.5-3h1v1h-1m-2-10h1v1h-1m11-16h1v1h-1m4 19.5h1v1h-1m-9 3h1v1h-1m1 0h1v1h-1m12.5-10h1v1h-1m-20 4.5h1v1h-1m5 1.5h1v1h-1m5.5 0.5h1v1h-1m-6-3h1v1h-1m13.5-6.5h1v1h-1m-8 5h1v1h-1m5.5-5.5h1v1h-1m4.5-7h1v1h-1m-2-1h1v1h-1m-13.5 9.5h1v1h-1m-3-7h1v1h-1m3-14.5h1v1h-1m15 10h1v1h-1m-19.5-6.5h1v1h-1m0-0.5h1v1h-1m20-8.5h1v1h-1m-2 12.5h1v1h-1m-17.5-4.5h1v1h-1m3 9h1v1h-1m-3.5-10h1v1h-1m3.5 8.5h1v1h-1m15.5-6.5h1v1h-1m-2-21.5h1v1h-1m-14.5 24h1v1h-1m-2.5-5h1v1h-1m8 6h1v1h-1m-4.5-3.5h1v1h-1m-2-9.5h1v1h-1m10-16.5h1v1h-1m7.5 3h1v1h-1m-8.5 21h1v1h-1m0.5-0.5h1v1h-1m4-4h1v1h-1m2.5-3.5h1v1h-1m-16.5-11h1v1h-1m11 15h1v1h-1m3-4h1v1h-1m-11-20.5h1v1h-1m14.5 11h1v1h-1m-7-17.5h1v1h-1m-8 23.5h1v1h-1m-3.5-16h1v1h-1m3 11.5h1v1h-1m13.5-23.5h1v1h-1m-2 23.5h1v1h-1m-7 0h1v1h-1m-3.5 0h1v1h-1m-3.5-13h1v1h-1m10 11h1v1h-1m2-28h1v1h-1m-11 16h1v1h-1m17-2.5h1v1h-1m-2 5.5h1v1h-1m3-8h1v1h-1m-18.5-2h1v1h-1m19-8h1v1h-1m-19.5 15h1v1h-1m1 1h1v1h-1m13-3h1v1h-1m5.5-5.5h1v1h-1m-15.5-13.5h1v1h-1m-3.5 13.5h1v1h-1m8.5 4h1v1h-1m5.5-1h1v1h-1m-13-14h1v1h-1m-2 0.5h1v1h-1m11.5 12h1v1h-1m58 25.5h1v1h-1m-1 0h1v1h-1m-0.5-5h1v1h-1m0 6h1v1h-1m0.5 0.5h1v1h-1m1-6h1v1h-1m-3.5-0.5h1v1h-1m2-3.5h1v1h-1m0.5 2.5h1v1h-1m-3 1h1v1h-1m3-9.5h1v1h-1m-3 10.5h1v1h-1m2.5-4.5h1v1h-1m-2.5-0.5h1v1h-1m-0.5-5.5h1v1h-1m2-1h1v1h-1m-1 0.5h1v1h-1m-1 4h1v1h-1m3 0.5h1v1h-1m-2-10h1v1h-1m0-1h1v1h-1m1 2h1v1h-1m1.5 3h1v1h-1m0-2h1v1h-1m1-3.5h1v1h-1m-2-3.5h1v1h-1m-1.5 1h1v1h-1m-0.5-1h1v1h-1m3-5h1v1h-1m-2-0.5h1v1h-1m2 6h1v1h-1m-0.5-2h1v1h-1m0-2.5h1v1h-1m1-1h1v1h-1m-3 3h1v1h-1m2.5-9h1v1h-1m-1.5-1h1v1h-1m0-1h1v1h-1m-0.5 1h1v1h-1m2-2h1v1h-1m-2.5 2.5h1v1h-1m1.5-1h1v1h-1m1.5-4h1v1h-1m0-4h1v1h-1m-3 0.5h1v1h-1m2-2h1v1h-1m-0.5 4h1v1h-1m0 3.5h1v1h-1m1.5-4h1v1h-1m-3.5 3.5h1v1h-1m4-4h1v1h-1m-1.5 0h1v1h-1m0-8h1v1h-1m-1 0h1v1h-1m-1.5-3h1v1h-1m3.5-0.5h1v1h-1m-2.5 3h1v1h-1m0 2h1v1h-1m1 0.5h1v1h-1m-1-6.5h1v1h-1m1.5 5h1v1h-1m-0.5-11h1v1h-1m1.5-1h1v1h-1m-3.5 6.5h1v1h-1m2-5h1v1h-1m-0.5 2h1v1h-1m-0.5-3.5h1v1h-1m3-1.5h1v1h-1m-4 0.5h1v1h-1m3.5-6h1v1h-1m-3.5 1h1v1h-1m1.5-2.5h1v1h-1m2.5 3.5h1v1h-1m-2.5-7.5h1v1h-1m2.5 2h1v1h-1m-2.5-0.5h1v1h-1m2 2.5h1v1h-1m-2 0h1v1h-1m0.5-4h1v1h-1m-0.5 5.5h1v1h-1m0-10.5h1v1h-1m-1 7h1v1h-1m1-4h1v1h-1m0.5-9h1v1h-1m-0.5 4.5h1v1h-1m3 5.5h1v1h-1m-5-2.5h1v1h-1m4.5-5h1v1h-1m-2.5 3.5h1v1h-1m1.5-0.5h1v1h-1m-2-5.5h1v1h-1m0.5 3h1v1h-1m1.5-2.5h1v1h-1m-1.5-2h1v1h-1m1-4h1v1h-1m0.5-3.5h1v1h-1m-0.5-2.5h1v1h-1m-1 1.5h1v1h-1m-1 7.5h1v1h-1m3.5-4.5h1v1h-1m-2.5-4.5h1v1h-1m1.5-2.5h1v1h-1m-1-3.5h1v1h-1m-1.5 10h1v1h-1m0-11h1v1h-1m0 2h1v1h-1m2-4.5h1v1h-1m-1 4h1v1h-1m2 1.5h1v1h-1m0.5-7.5h1v1h-1m-4.5 7h1v1h-1m3 0.5h1v1h-1m0.5-3.5h1v1h-1m-3.5-6h1v1h-1m2 3h1v1h-1m0.5-9.5h1v1h-1m-0.5 5h1v1h-1m-0.5 5h1v1h-1m3-13h1v1h-1m-3.5 2h1v1h-1m-0.5-1.5h1v1h-1m2.5 7.5h1v1h-1m1.5-5h1v1h-1m0-8.5h1v1h-1m-1.5 9.5h1v1h-1m0.5-1h1v1h-1m-1.5-1.5h1v1h-1m1.5 1.5h1v1h-1m1-10h1v1h-1m-3.5 2.5h1v1h-1m0.5 1.5h1v1h-1m2 1h1v1h-1m-2-9.5h1v1h-1m-0.5 0h1v1h-1m2.5-3h1v1h-1m-0.5 8h1v1h-1m-1.5-9h1v1h-1m1.5 7h1v1h-1m-1.5-4.5h1v1h-1m2.5-3h1v1h-1m-3.5 6h1v1h-1m1-6h1v1h-1m0-1h1v1h-1m0 3.5h1v1h-1m-1.5-1h1v1h-1m4-5h1v1h-1m-0.5-7h1v1h-1m-1 0.5h1v1h-1m0-3h1v1h-1m1 6h1v1h-1m-3-3h1v1h-1m4-2.5h1v1h-1m-1.5 3.5h1v1h-1m-3.5-1h1v1h-1m2.5-7h1v1h-1m2-4h1v1h-1m0.5 0h1v1h-1m-0.5 3.5h1v1h-1m-3.5-3.5h1v1h-1m1 7h1v1h-1m-1-9h1v1h-1m1 4.5h1v1h-1m0-0.5h1v1h-1m1-1h1v1h-1m0-7.5h1v1h-1m0.5 3h1v1h-1m-1.5 0h1v1h-1m-1.5-3h1v1h-1m3 0.5h1v1h-1m1.5 3.5h1v1h-1m-1.5-3h1v1h-1m-0.5-9h1v1h-1m0.5 0.5h1v1h-1m-2.5 3.5h1v1h-1m3.5-2.5h1v1h-1m-3.5 0h1v1h-1m0 2.5h1v1h-1m3-3.5h1v1h-1m0.5-1.5h1v1h-1m0.5-1.5h1v1h-1m-2-8h1v1h-1m1.5 6h1v1h-1m0-0.5h1v1h-1m-1-2.5h1v1h-1m-2.5 3h1v1h-1m4.5 1.5h1v1h-1m-3-1.5h1v1h-1m0.5-2h1v1h-1m2-0.5h1v1h-1m-1-13h1v1h-1m-0.5 10h1v1h-1m-0.5-11h1v1h-1m0 7h1v1h-1m0.5-4h1v1h-1m1.5-0.5h1v1h-1m-3.5 4.5h1v1h-1m3.5-2h1v1h-1m-2.5-1h1v1h-1m0.5-11h1v1h-1m0.5 2.5h1v1h-1m1 7.5h1v1h-1m-2.5-5h1v1h-1m1.5-4h1v1h-1m-2.5 6h1v1h-1m4.5-11.5h1v1h-1m-4.5-0.5h1v1h-1m1 2.5h1v1h-1m2-1.5h1v1h-1m0 0.5h1v1h-1m-0.5-6.5h1v1h-1m-53.5-35.5h1v1h-1m-5 0h1v1h-1m4.5-4h1v1h-1m-1.5 1.5h1v1h-1m-0.5-1.5h1v1h-1m-4-2h1v1h-1m3 2h1v1h-1m-2.5-4h1v1h-1" fill="#0093ff"/>
<path d="M198.5 496.5h1v1h-1m-9 18.5h1v1h-1m8 1.5h1v1h-1m-5-18h1v1h-1m2 15h1v1h-1m-5-2.5h1v1h-1m15-11h1v1h-1m-12-7h1v1h-1m-3 4h1v1h-1m9-10h1v1h-1m3.5 3h1v1h-1m-9.5 18h1v1h-1m-3-3h1v1h-1m0.5-17.5h1v1h-1m-0.5 13.5h1v1h-1m-1.5-10h1v1h-1m4.5-8.5h1v1h-1m-2 19h1v1h-1m2.5-21.5h1v1h-1m11 4h1v1h-1m-13-3h1v1h-1m0.5 17.5h1v1h-1m-2.5-13.5h1v1h-1m6-9h1v1h-1m-1.5-1.5h1v1h-1m-5 4h1v1h-1m13-7.5h1v1h-1m-1 3h1v1h-1m3 6h1v1h-1m-15-4h1v1h-1m9 12.5h1v1h-1m5.5-15h1v1h-1m-11.5-6h1v1h-1m9-1h1v1h-1m-12 17h1v1h-1m12-17h1v1h-1m-9 15.5h1v1h-1m9.5-21.5h1v1h-1m-7.5 21.5h1v1h-1m-4.5-15.5h1v1h-1m13.5-6h1v1h-1m0.5 3.5h1v1h-1m0.5 2h1v1h-1m-9.5-11.5h1v1h-1m1.5 19h1v1h-1m8.5-14h1v1h-1m-10-7.5h1v1h-1m7.5 2h1v1h-1m2.5 0h1v1h-1m-16.5 3.5h1v1h-1m2-3.5h1v1h-1m14.5 3h1v1h-1m-12-8.5h1v1h-1m8.5-4h1v1h-1m-10 19h1v1h-1m6-1h1v1h-1m0.5 1.5h1v1h-1m5-22.5h1v1h-1m1.5 3h1v1h-1m-0.5 0h1v1h-1m-11.5-4h1v1h-1m2.5-3.5h1v1h-1m0 0h1v1h-1m5.5-3.5h1v1h-1m-11.5 8h1v1h-1m12.5-5.5h1v1h-1m-12 13.5h1v1h-1m4.5 1.5h1v1h-1m-2.5-1.5h1v1h-1m1.5 1h1v1h-1m11.5-15.5h1v1h-1m-4-11h1v1h-1m-12 7h1v1h-1m17.5-2h1v1h-1m-14.5 15.5h1v1h-1m-1.5-14.5h1v1h-1m15-1h1v1h-1m-2-8h1v1h-1m1 9.5h1v1h-1m-4.5-13h1v1h-1m4.5 10.5h1v1h-1m-11 8.5h1v1h-1m8-24h1v1h-1m-11 21h1v1h-1m15.5-15h1v1h-1m-4-6.5h1v1h-1m-10.5 21h1v1h-1m-1.5-16.5h1v1h-1m3 13h1v1h-1m5 1h1v1h-1m7-18h1v1h-1m-12-2h1v1h-1m-1 15h1v1h-1m-2.5-13.5h1v1h-1m13-8.5h1v1h-1m-6 19h1v1h-1m2.5 0.5h1v1h-1m6.5-11h1v1h-1m1-0.5h1v1h-1m-4.5-11h1v1h-1m-3-4.5h1v1h-1m-4.5 0h1v1h-1m-5.5 6h1v1h-1m16.5 1h1v1h-1m-4.5-12.5h1v1h-1m4 13h1v1h-1m-13-8.5h1v1h-1m-1 15h1v1h-1m4 2h1v1h-1m7-23.5h1v1h-1m-6 20.5h1v1h-1m-3-1h1v1h-1m-3-16h1v1h-1m15.5 1h1v1h-1m-16 8h1v1h-1m0-9.5h1v1h-1m0.5-1h1v1h-1m5.5 10.5h1v1h-1m-2.5-18h1v1h-1m11.5 6.5h1v1h-1m1.5-3h1v1h-1m-1 0h1v1h-1m-6 9h1v1h-1m6-15.5h1v1h-1m-6-8h1v1h-1m-10 19h1v1h-1m7.5 1h1v1h-1m-4.5-0.5h1v1h-1m10-17.5h1v1h-1m-3 15.5h1v1h-1m7-15.5h1v1h-1m-5-11h1v1h-1m5.5 14.5h1v1h-1m-4.5-10h1v1h-1m-1.5-6.5h1v1h-1m4 8h1v1h-1m-5-10.5h1v1h-1m-10 10.5h1v1h-1m3-6.5h1v1h-1m9.5-2h1v1h-1m-13 14.5h1v1h-1m7 2.5h1v1h-1m5-24.5h1v1h-1m2.5 5.5h1v1h-1m-11.5 15.5h1v1h-1m0.5-17.5h1v1h-1m3.5 15.5h1v1h-1m-1-22h1v1h-1m-4 18.5h1v1h-1m8.5-22.5h1v1h-1m7 10.5h1v1h-1m-15.5-0.5h1v1h-1m-1-4.5h1v1h-1m3 13.5h1v1h-1m-2.5-16h1v1h-1m10-9h1v1h-1m-3.5 23.5h1v1h-1m-5.5-16.5h1v1h-1m10.5-6.5h1v1h-1m-5 20.5h1v1h-1m-2-23h1v1h-1m4.5-3h1v1h-1m4 4h1v1h-1m3 3.5h1v1h-1m-3-8.5h1v1h-1m1.5 7h1v1h-1m-7 12.5h1v1h-1m3.5-21h1v1h-1m-1.5-5h1v1h-1m4.5 12h1v1h-1m2-5.5h1v1h-1m-4.5-8h1v1h-1m1.5 3h1v1h-1m-3-7.5h1v1h-1m-5 24h1v1h-1m-4.5-17h1v1h-1m4.5-5.5h1v1h-1m-6 5.5h1v1h-1m13-6h1v1h-1m-13.5 13.5h1v1h-1m16.5-8.5h1v1h-1m-3.5-8.5h1v1h-1m-11.5 4h1v1h-1m3.5-8.5h1v1h-1m3 20h1v1h-1m-7.5-17h1v1h-1m16 0.5h1v1h-1m-12.5 13h1v1h-1m-1-17.5h1v1h-1m9.5-2h1v1h-1m-12 1.5h1v1h-1m16.5 0.5h1v1h-1m-12.5 13.5h1v1h-1m12.5-14h1v1h-1m-14.5-5.5h1v1h-1m6.5 15.5h1v1h-1m-6-0.5h1v1h-1m-1-16h1v1h-1m0.5-5h1v1h-1m-0.5 2h1v1h-1m6 15h1v1h-1m2-24.5h1v1h-1m4.5 1h1v1h-1m-13 6.5h1v1h-1m1 14h1v1h-1m3-2.5h1v1h-1m-2.5-0.5h1v1h-1m14-14h1v1h-1m-17.5-2h1v1h-1m14-3.5h1v1h-1m-6.5 14.5h1v1h-1m8-21h1v1h-1m-13.5 16.5h1v1h-1m15.5-10h1v1h-1m-4-6h1v1h-1m-7 17.5h1v1h-1m0.5-2h1v1h-1m10.5-11h1v1h-1m-16-7h1v1h-1m3-2.5h1v1h-1m7.5-8h1v1h-1m-5.5 24h1v1h-1m12-16h1v1h-1m-4-8.5h1v1h-1m0 1h1v1h-1m-6.5 18h1v1h-1m-4-17h1v1h-1m10.5-3h1v1h-1m0 1h1v1h-1m-7 15h1v1h-1m-6-12.5h1v1h-1m1-1.5h1v1h-1m12-8h1v1h-1m3 8h1v1h-1m-0.5-2h1v1h-1m-15-3.5h1v1h-1m0.5 1h1v1h-1m2.5 10.5h1v1h-1m1.5-21.5h1v1h-1m10 10.5h1v1h-1m-8.5-11h1v1h-1m9 8h1v1h-1m-9 10h1v1h-1m-2-0.5h1v1h-1m10-23.5h1v1h-1m0 5.5h1v1h-1m-9.5 15h1v1h-1m-4.5-3h1v1h-1m15-9h1v1h-1m1-1.5h1v1h-1m-15.5-3h1v1h-1m0.5-8h1v1h-1m14.5 4.5h1v1h-1m-1 3h1v1h-1m0-7h1v1h-1m-0.5-1h1v1h-1m2 1h1v1h-1m0-1h1v1h-1m-11.5-7h1v1h-1m12 6h1v1h-1m-2.5 1h1v1h-1m-15.5-4.5h1v1h-1m0.5 0.5h1v1h-1m15-2h1v1h-1m0-2.5h1v1h-1m-9 14.5h1v1h-1m0-22h1v1h-1m-5.5 5h1v1h-1m3.5 12.5h1v1h-1m13-14.5h1v1h-1m-7-10h1v1h-1m-9 19.5h1v1h-1m6.5 1h1v1h-1m-7-14.5h1v1h-1m5.5-6.5h1v1h-1" fill="#00f9ff"/>
<path d="M200.5 503h1v1h-1m1 8.5h1v1h-1m0.5-7h1v1h-1m-10.5-5.5h1v1h-1m7.5-5h1v1h-1m3.5 12h1v1h-1m-2-1.5h1v1h-1m-1.5-14.5h1v1h-1m2 14.5h1v1h-1m0-10h1v1h-1m0 6.5h1v1h-1m0-2.5h1v1h-1m0.5 0.5h1v1h-1m-5-13.5h1v1h-1m1.5-1.5h1v1h-1m0-2h1v1h-1m0 1h1v1h-1m4 5h1v1h-1m-2.5-7h1v1h-1m-2-3h1v1h-1m-6.5 5h1v1h-1m-3.5 4h1v1h-1m1 6h1v1h-1m0.5-4.5h1v1h-1m12-7.5h1v1h-1m1-1.5h1v1h-1m-4.5-7h1v1h-1m-6.5 2.5h1v1h-1m6-4.5h1v1h-1m-9 13h1v1h-1m14-9h1v1h-1m-4 10h1v1h-1m1 0.5h1v1h-1m-9.5-9h1v1h-1m13 1h1v1h-1m-14 1.5h1v1h-1m3.5-11h1v1h-1m9 7.5h1v1h-1m1 0.5h1v1h-1m-14.5-6.5h1v1h-1m12.5 1.5h1v1h-1m-3.5-14h1v1h-1m4 14h1v1h-1m-2 1.5h1v1h-1m1.5-1h1v1h-1m2.5-6h1v1h-1m0-6h1v1h-1m-6-9h1v1h-1m-6 4.5h1v1h-1m6-4.5h1v1h-1m-9.5 13.5h1v1h-1m1.5-2.5h1v1h-1m0 1h1v1h-1m8.5-17h1v1h-1m-8 14.5h1v1h-1m13-12h1v1h-1m-0.5 11h1v1h-1m-13-5.5h1v1h-1m-1 1h1v1h-1m2-3.5h1v1h-1m3-6.5h1v1h-1m-3.5 7.5h1v1h-1m6.5-14.5h1v1h-1m-4.5 4.5h1v1h-1m8 9.5h1v1h-1m-2.5-17h1v1h-1m1 16h1v1h-1m-7-13.5h1v1h-1m10-1.5h1v1h-1m0.5-2h1v1h-1m-1 12.5h1v1h-1m-0.5-18.5h1v1h-1m1.5 12.5h1v1h-1m-12.5-4h1v1h-1m10.5-11h1v1h-1m0 16.5h1v1h-1m-10.5-5h1v1h-1m13.5-7.5h1v1h-1m-4 10h1v1h-1m1-20h1v1h-1m3.5 4.5h1v1h-1m-14.5 9h1v1h-1m11 1h1v1h-1m-9-13.5h1v1h-1m9.5-5h1v1h-1m2 2.5h1v1h-1m-4-5.5h1v1h-1m-9.5 9h1v1h-1m13-3h1v1h-1m-1-1h1v1h-1m-12.5 5.5h1v1h-1m8-14.5h1v1h-1m5.5 11.5h1v1h-1m-12.5 1h1v1h-1m9-15.5h1v1h-1m-9.5 12.5h1v1h-1m11.5 4.5h1v1h-1m-3.5-21.5h1v1h-1m3 0.5h1v1h-1m-8 3h1v1h-1m11.5 0.5h1v1h-1m-13.5 5.5h1v1h-1m12 2h1v1h-1m-3.5-16h1v1h-1m3 13.5h1v1h-1m0.5-8.5h1v1h-1m-10.5-2.5h1v1h-1m-1 9.5h1v1h-1m8.5 2h1v1h-1m4.5-6h1v1h-1m-1.5-3h1v1h-1m-12-4h1v1h-1m-1.5 1.5h1v1h-1m13.5-1h1v1h-1m-2 4.5h1v1h-1m-11-5.5h1v1h-1m13-6.5h1v1h-1m2-3.5h1v1h-1m-1.5 10.5h1v1h-1m-12-1h1v1h-1m11-5.5h1v1h-1m-4.5-13h1v1h-1m-5 3h1v1h-1m-3.5 8.5h1v1h-1m10.5-14.5h1v1h-1m1.5 0h1v1h-1m-1-2.5h1v1h-1m-10.5 11.5h1v1h-1m1-1h1v1h-1m-1.5 2.5h1v1h-1m14-2h1v1h-1m-1 1h1v1h-1m-13-1.5h1v1h-1m4-13h1v1h-1m4-4.5h1v1h-1m3.5-2h1v1h-1m1 18.5h1v1h-1m-12.5-9h1v1h-1m8.5-13h1v1h-1m-8 12.5h1v1h-1m13.5-1.5h1v1h-1m-0.5-7.5h1v1h-1m0.5 7h1v1h-1m-14-5h1v1h-1m0.5-1h1v1h-1m1.5 3.5h1v1h-1m11.5 0h1v1h-1m-13 0h1v1h-1m14.5-10.5h1v1h-1m-1.5-0.5h1v1h-1m0 4h1v1h-1m-12 2.5h1v1h-1m0.5-2h1v1h-1m-1.5-0.5h1v1h-1m13 0h1v1h-1m-1.5-18h1v1h-1m-10.5 16.5h1v1h-1m10.5 0h1v1h-1m1-12h1v1h-1m2-3.5h1v1h-1m-2 2h1v1h-1m-0.5 11h1v1h-1m-12.5-8h1v1h-1m13-7.5h1v1h-1m-0.5 10.5h1v1h-1m0.5-10.5h1v1h-1m2 6.5h1v1h-1m-6.5-17.5h1v1h-1m6 16.5h1v1h-1m-2-9.5h1v1h-1m-2.5-8h1v1h-1m-6.5 3.5h1v1h-1m-1.5 9.5h1v1h-1m11.5-0.5h1v1h-1m-14-6.5h1v1h-1m14 0h1v1h-1m-10-7.5h1v1h-1m9.5 6h1v1h-1m-11.5-3h1v1h-1m13.5-4h1v1h-1m-4-9.5h1v1h-1m3.5 8.5h1v1h-1m-14 1h1v1h-1m8-10h1v1h-1m-8 10.5h1v1h-1m9.5-13h1v1h-1m-9 9.5h1v1h-1m-0.5 4h1v1h-1m2-5h1v1h-1m12-5.5h1v1h-1m-11.5-2.5h1v1h-1m-1 5h1v1h-1m11 2.5h1v1h-1m-4-17.5h1v1h-1m4 8h1v1h-1m-11 2.5h1v1h-1m6.5-12h1v1h-1m3 16h1v1h-1m1.5-10h1v1h-1m-5-11h1v1h-1m2.5-0.5h1v1h-1m2-1h1v1h-1m1 12.5h1v1h-1m0-4.5h1v1h-1m1 4.5h1v1h-1m-13.5-2.5h1v1h-1m6.5-13.5h1v1h-1m4-2h1v1h-1m-11 15.5h1v1h-1m-0.5-1.5h1v1h-1m1-6.5h1v1h-1m8-11h1v1h-1m-1-1h1v1h-1m-8.5 9h1v1h-1m15-5h1v1h-1m-2-7h1v1h-1m0.5 12h1v1h-1m1 0h1v1h-1m-10.5-11h1v1h-1m-2.5 11h1v1h-1m13-8h1v1h-1m-12 2h1v1h-1m12.5-4.5h1v1h-1m-12.5 0h1v1h-1m9.5-10.5h1v1h-1m1 4.5h1v1h-1m-11 8h1v1h-1m13.5-3.5h1v1h-1m-1-1.5h1v1h-1m-12.5 2.5h1v1h-1m13-1h1v1h-1m-4 2h1v1h-1m5-15h1v1h-1m-2.5 0.5h1v1h-1m-2.5 11.5h1v1h-1m-10.5-8h1v1h-1m14-5h1v1h-1m0 5h1v1h-1m-3.5 5h1v1h-1m-8.5-7.5h1v1h-1m11 2h1v1h-1m-2.5 2.5h1v1h-1m-1.5-21h1v1h-1m-7.5 16h1v1h-1m-1.5-4.5h1v1h-1m1.5 3.5h1v1h-1m12-12h1v1h-1m0 9.5h1v1h-1m-0.5-13.5h1v1h-1m-2 12h1v1h-1m-10.5-2.5h1v1h-1m1-3.5h1v1h-1m-0.5-3h1v1h-1m13 1.5h1v1h-1m-13.5-4h1v1h-1m13.5 2.5h1v1h-1m-1-2.5h1v1h-1m-2.5 5.5h1v1h-1m-7-16h1v1h-1m-0.5 0.5h1v1h-1m0-1h1v1h-1m10 8h1v1h-1m2-1.5h1v1h-1m-0.5-10h1v1h-1m-14.5 10h1v1h-1m4.5-13h1v1h-1m-3 11h1v1h-1m13-4.5h1v1h-1m0.5-1h1v1h-1m-0.5-8h1v1h-1m-12.5 5.5h1v1h-1m-1.5-3.5h1v1h-1m12.5-3h1v1h-1m-4-8h1v1h-1m4 14h1v1h-1m1-10h1v1h-1" fill="#60ff9e"/>
<path d="M194.5 517h1v1h-1m-1.5-0.5h1v1h-1m2.5-2h1v1h-1m2.5-13.5h1v1h-1m-3-4h1v1h-1m3.5-2.5h1v1h-1m-7 12.5h1v1h-1m10.5-6.5h1v1h-1m-8 7.5h1v1h-1m6-4.5h1v1h-1m1-5h1v1h-1m-2-8.5h1v1h-1m-9 11.5h1v1h-1m0.5-0.5h1v1h-1m7.5-13.5h1v1h-1m-6 13.5h1v1h-1m-2-4h1v1h-1m5 2h1v1h-1m3-13h1v1h-1m0.5 8.5h1v1h-1m3-6.5h1v1h-1m-3-6h1v1h-1m3.5 3.5h1v1h-1m-7 8.5h1v1h-1m-3.5-2.5h1v1h-1m2.5 0h1v1h-1m7.5-8.5h1v1h-1m-2-7h1v1h-1m-8.5 13.5h1v1h-1m8-4.5h1v1h-1m-3 2.5h1v1h-1m1-1h1v1h-1m-2.5-3.5h1v1h-1m3.5-16h1v1h-1m0.5 13h1v1h-1m2-6h1v1h-1m-1.5-10.5h1v1h-1m0.5-1h1v1h-1m-0.5-1h1v1h-1m-8.5 12h1v1h-1m5 2.5h1v1h-1m-2-2h1v1h-1m-3 1h1v1h-1m12-11h1v1h-1m-8.5-8.5h1v1h-1m5.5 2h1v1h-1m-8.5 13h1v1h-1m1-1h1v1h-1m3-16.5h1v1h-1m3-1h1v1h-1m-3 14h1v1h-1m3.5-14.5h1v1h-1m0 9.5h1v1h-1m-5.5-13.5h1v1h-1m7-0.5h1v1h-1m0.5 5h1v1h-1m-5.5-7.5h1v1h-1m-0.5 0h1v1h-1m0-2.5h1v1h-1m3.5 13.5h1v1h-1m3-7.5h1v1h-1m-8.5-8h1v1h-1m9 5.5h1v1h-1m-11 4.5h1v1h-1m11.5-5.5h1v1h-1m-8.5 7.5h1v1h-1m6.5-10h1v1h-1m0-8h1v1h-1m-5.5-2.5h1v1h-1m0.5 15h1v1h-1m4-3h1v1h-1m-8.5 2.5h1v1h-1m5-2.5h1v1h-1m1.5-1.5h1v1h-1m-2-0.5h1v1h-1m1-1.5h1v1h-1m-3-16.5h1v1h-1m6 3.5h1v1h-1m-9 10.5h1v1h-1m9.5-2.5h1v1h-1m-1.5-2.5h1v1h-1m-1 1.5h1v1h-1m2.5-16.5h1v1h-1m-9 14h1v1h-1m8.5-13h1v1h-1m-5 12.5h1v1h-1m-2.5-3h1v1h-1m-0.5 1h1v1h-1m7.5-14.5h1v1h-1m-2 12.5h1v1h-1m2.5-15h1v1h-1m-6.5 10.5h1v1h-1m1 1h1v1h-1m4 0.5h1v1h-1m-3.5-16.5h1v1h-1m7 5h1v1h-1m-8 8.5h1v1h-1m5.5-3h1v1h-1m-3.5 0h1v1h-1m7-9.5h1v1h-1m-7-8.5h1v1h-1m2 15.5h1v1h-1m4-8h1v1h-1m-4.5 6h1v1h-1m2-18h1v1h-1m-4.5 14.5h1v1h-1m4-16h1v1h-1m1 1.5h1v1h-1m-1-4h1v1h-1m-5.5 14h1v1h-1m1.5-16.5h1v1h-1m4 0.5h1v1h-1m-6 13.5h1v1h-1m9-8.5h1v1h-1m-4.5 8h1v1h-1m4.5-8.5h1v1h-1m-2.5-9h1v1h-1m1-2h1v1h-1m-8.5 12.5h1v1h-1m1.5-13h1v1h-1m0.5-1.5h1v1h-1m-1.5 11.5h1v1h-1m-0.5 1h1v1h-1m2.5-15h1v1h-1m4.5 11.5h1v1h-1m-4-15.5h1v1h-1m-3.5 15h1v1h-1m0.5-2h1v1h-1m8.5-14h1v1h-1m-1.5 12h1v1h-1m1-3h1v1h-1m-3 3h1v1h-1m-0.5 0h1v1h-1m3-19h1v1h-1m2 6.5h1v1h-1m0.5-1h1v1h-1m-6.5 9h1v1h-1m-4.5-5h1v1h-1m8-13.5h1v1h-1m3 7h1v1h-1m-1.5-8.5h1v1h-1m3 5h1v1h-1m-3-8.5h1v1h-1m1.5 7h1v1h-1m-9.5 7.5h1v1h-1m9.5-10h1v1h-1m-9.5 8.5h1v1h-1m11-10h1v1h-1m-11.5 6.5h1v1h-1m7.5-15h1v1h-1m-4-2h1v1h-1m-0.5 15.5h1v1h-1m8-10h1v1h-1m-12 8h1v1h-1m10-5h1v1h-1m0.5-4.5h1v1h-1m-8 6.5h1v1h-1m-2.5-3.5h1v1h-1m3.5 0.5h1v1h-1m-0.5 0.5h1v1h-1m-1-5.5h1v1h-1m5.5-10h1v1h-1m0 12.5h1v1h-1m-3-1.5h1v1h-1m5.5-14h1v1h-1m-8 12h1v1h-1m8.5-10h1v1h-1m-8 7.5h1v1h-1m5.5-15h1v1h-1m0-3h1v1h-1m0-1.5h1v1h-1m-3 15.5h1v1h-1m2.5-0.5h1v1h-1m1-15h1v1h-1m0.5-4h1v1h-1m1 12h1v1h-1m-9 0.5h1v1h-1m-1 2h1v1h-1m3-18.5h1v1h-1m1 14.5h1v1h-1m-2-3h1v1h-1m8-13h1v1h-1m-7 13.5h1v1h-1m1.5-1h1v1h-1m2-1h1v1h-1m0 0h1v1h-1m-5-4h1v1h-1m3.5 2.5h1v1h-1m-3-5h1v1h-1m1-12h1v1h-1m-0.5 13.5h1v1h-1m6-2.5h1v1h-1m-6-3.5h1v1h-1m9.5-6h1v1h-1m-11.5 4h1v1h-1m-0.5 1h1v1h-1m6.5 1.5h1v1h-1m-1.5-1.5h1v1h-1m7-8.5h1v1h-1m-9 6h1v1h-1m-2.5-1.5h1v1h-1m8.5-16h1v1h-1m-1.5 15.5h1v1h-1m-4-18h1v1h-1m-1 13h1v1h-1m-0.5-1h1v1h-1m7.5-11.5h1v1h-1m-6 11h1v1h-1m-2-4h1v1h-1m7-12h1v1h-1m0.5 12h1v1h-1m-4 0.5h1v1h-1m3-13h1v1h-1m-7.5 9.5h1v1h-1m8.5-11h1v1h-1m-6.5 9.5h1v1h-1m-1-2h1v1h-1m0-1.5h1v1h-1m2.5-13.5h1v1h-1" fill="#d1ff2d"/>
<path d="M191 505.5h1v1h-1m5-2.5h1v1h-1m-5.5 4.5h1v1h-1m9.5-1h1v1h-1m-4-9.5h1v1h-1m-2 1.5h1v1h-1m5 5.5h1v1h-1m-5.5-9h1v1h-1m-2.5 3.5h1v1h-1m7-1.5h1v1h-1m-1-4h1v1h-1m-5.5 5h1v1h-1m-1.5 1h1v1h-1m5 3h1v1h-1m-2.5-1.5h1v1h-1m6.5-5.5h1v1h-1m-1-4.5h1v1h-1m-1 7h1v1h-1m-2-13h1v1h-1m-3 7h1v1h-1m4 3h1v1h-1m1-12.5h1v1h-1m-5 2h1v1h-1m1.5 6h1v1h-1m4-1.5h1v1h-1m-7-8h1v1h-1m7-3.5h1v1h-1m-7.5 1h1v1h-1m8 3.5h1v1h-1m-8 1.5h1v1h-1m9.5-7h1v1h-1m-1.5 2h1v1h-1m-5 3h1v1h-1m-1-5.5h1v1h-1m3.5 5h1v1h-1m-4-7.5h1v1h-1m7-2h1v1h-1m1-1h1v1h-1m0-2.5h1v1h-1m-1 5.5h1v1h-1m-2 0.5h1v1h-1m3-5.5h1v1h-1m-3 3.5h1v1h-1m0.5-1h1v1h-1m-4.5-10h1v1h-1m1.5-1.5h1v1h-1m-0.5-2.5h1v1h-1m-2 2.5h1v1h-1m8.5 0.5h1v1h-1m-5-7.5h1v1h-1m3 4.5h1v1h-1m-6 4.5h1v1h-1m3.5-9.5h1v1h-1m1-5h1v1h-1m-0.5 2h1v1h-1m-4.5 3h1v1h-1m4-3.5h1v1h-1m4.5 6.5h1v1h-1m-3-10.5h1v1h-1m-4.5 11h1v1h-1m7.5-6h1v1h-1m-1-1h1v1h-1m-7.5-2h1v1h-1m4.5 5.5h1v1h-1m-1.5-2.5h1v1h-1m-3.5-9.5h1v1h-1m4-4.5h1v1h-1m-4 3.5h1v1h-1m5-5h1v1h-1m-3.5 6.5h1v1h-1m4 2.5h1v1h-1m-1.5 0h1v1h-1m4.5-8h1v1h-1m-6.5 6h1v1h-1m-2-8h1v1h-1m3.5 5.5h1v1h-1m-3-4.5h1v1h-1m0-5.5h1v1h-1m3 8h1v1h-1m2-11.5h1v1h-1m1.5 6h1v1h-1m-2.5-11h1v1h-1m-1.5 11.5h1v1h-1m4.5-8.5h1v1h-1m-1-7h1v1h-1m-1.5 0h1v1h-1m3 7h1v1h-1m-1.5 2.5h1v1h-1m-6.5-8.5h1v1h-1m4 8h1v1h-1m2-10.5h1v1h-1m1.5 0h1v1h-1m-4.5 8h1v1h-1m-1-12.5h1v1h-1m1-0.5h1v1h-1m2-4h1v1h-1m0.5 0h1v1h-1m-5.5 4.5h1v1h-1m1.5-3.5h1v1h-1m1.5 9.5h1v1h-1m1-13.5h1v1h-1m-4 4h1v1h-1m8 1h1v1h-1m0.5 0.5h1v1h-1m-4.5-8.5h1v1h-1m1.5-2.5h1v1h-1m-4.5 9h1v1h-1m-0.5-3.5h1v1h-1m7-3.5h1v1h-1m-1-1.5h1v1h-1m2.5-1.5h1v1h-1m-7.5 7h1v1h-1m6-7h1v1h-1m1.5 1.5h1v1h-1m-5-7h1v1h-1m-1-3h1v1h-1m1-0.5h1v1h-1m-4 4.5h1v1h-1m5-6h1v1h-1m0.5 10h1v1h-1m-6.5-8h1v1h-1m8.5-0.5h1v1h-1m-1.5-5h1v1h-1m-7 6h1v1h-1m5.5-10.5h1v1h-1m0 2h1v1h-1m3 4h1v1h-1m-3.5 4.5h1v1h-1m3.5-6.5h1v1h-1m-1-6.5h1v1h-1m-6 6h1v1h-1m3.5-9h1v1h-1m-1 9.5h1v1h-1m3.5-4h1v1h-1m-5.5-1.5h1v1h-1m-1.5-5.5h1v1h-1m2.5-2.5h1v1h-1m5.5 6h1v1h-1m-1-5h1v1h-1m-0.5-3.5h1v1h-1m2.5 4h1v1h-1m-7 3h1v1h-1m4-14.5h1v1h-1m-3 13.5h1v1h-1m4.5-9.5h1v1h-1m-6 0h1v1h-1m6 2h1v1h-1m1 0h1v1h-1m-8-4h1v1h-1m5.5 5h1v1h-1m0 0h1v1h-1m-4.5-7.5h1v1h-1m4.5-7.5h1v1h-1m-6.5 7h1v1h-1m1-5h1v1h-1m7 3.5h1v1h-1m-6.5-5h1v1h-1m6-6.5h1v1h-1m1.5 9.5h1v1h-1m0-7.5h1v1h-1m-8.5 6h1v1h-1m8-0.5h1v1h-1m1.5-5.5h1v1h-1m-2 0.5h1v1h-1m-4 3.5h1v1h-1m-4-5.5h1v1h-1m7 4.5h1v1h-1m-1-2.5h1v1h-1m-3-12h1v1h-1m-3 2h1v1h-1m10 4h1v1h-1m-8-1.5h1v1h-1m4.5-8h1v1h-1m2.5 3.5h1v1h-1m-2-6.5h1v1h-1m-2-2h1v1h-1m-1 0.5h1v1h-1m-0.5 12h1v1h-1m4-15h1v1h-1m1.5 6h1v1h-1m-4-5h1v1h-1m1-1h1v1h-1m-0.5-1.5h1v1h-1m-5 6h1v1h-1m0.5-4h1v1h-1m2.5 6h1v1h-1m-2.5-7h1v1h-1m1.5 5h1v1h-1m-1-6.5h1v1h-1m4.5 3h1v1h-1m-5-8h1v1h-1m7.5-0.5h1v1h-1m-4 5.5h1v1h-1m1-14h1v1h-1m2 13.5h1v1h-1m0-15.5h1v1h-1m-2.5 2h1v1h-1m4 3.5h1v1h-1m-3-7h1v1h-1m0.5 1h1v1h-1m-6.5 4.5h1v1h-1m1-1.5h1v1h-1m8.5-2.5h1v1h-1m-6.5 5h1v1h-1m5.5-2.5h1v1h-1m0-3h1v1h-1m-7.5-4.5h1v1h-1m5-3.5h1v1h-1m3.5 2.5h1v1h-1m-7.5 2h1v1h-1m2.5-6.5h1v1h-1m1.5-2.5h1v1h-1m0-3h1v1h-1m-2.5 1h1v1h-1m6 3.5h1v1h-1m-7 5.5h1v1h-1m4.5-13.5h1v1h-1m0.5 0.5h1v1h-1m0-2.5h1v1h-1m-0.5 10h1v1h-1m-5-3h1v1h-1m3-8h1v1h-1m-5 7.5h1v1h-1m6.5-8.5h1v1h-1m-1-3.5h1v1h-1m0.5-3h1v1h-1m-5.5 6.5h1v1h-1m4.5 4.5h1v1h-1m2.5-14h1v1h-1m-5 13h1v1h-1m-2.5-4h1v1h-1m2-7.5h1v1h-1m3.5 7.5h1v1h-1m4-6.5h1v1h-1m-5 6h1v1h-1m-3.5-11h1v1h-1m4 9h1v1h-1m-1-3.5h1v1h-1m2-10.5h1v1h-1m-0.5 9h1v1h-1m-3-0.5h1v1h-1m6-2h1v1h-1m0-1.5h1v1h-1m-7-1.5h1v1h-1m5-10.5h1v1h-1m-5.5 4h1v1h-1m1 3.5h1v1h-1m0.5-7h1v1h-1m-2 3h1v1h-1m9 2h1v1h-1m-3.5-11.5h1v1h-1m-4 7h1v1h-1m7.5 0.5h1v1h-1m-2.5 0.5h1v1h-1m2.5-1.5h1v1h-1m0-3.5h1v1h-1m-3.5-8h1v1h-1m3 1.5h1v1h-1m-4.5-3.5h1v1h-1m1-2h1v1h-1m-3.5 5h1v1h-1m1-4.5h1v1h-1m1.5-0.5h1v1h-1m-4 0h1v1h-1m2.5 8.5h1v1h-1m3-12h1v1h-1m1-3h1v1h-1m1 7.5h1v1h-1m0-7h1v1h-1m-2.5-6h1v1h-1m-3 11.5h1v1h-1m2.5 0h1v1h-1m-2-10.5h1v1h-1m-2.5 0.5h1v1h-1m5 8h1v1h-1m-3-11h1v1h-1m3.5-5h1v1h-1m-5 4.5h1v1h-1m3.5 8h1v1h-1m1-2h1v1h-1m2.5-4.5h1v1h-1m2-4.5h1v1h-1m-1 0.5h1v1h-1m-5 5.5h1v1h-1m-1-13h1v1h-1m1-1.5h1v1h-1m5 8h1v1h-1m-8.5-3.5h1v1h-1m1.5 0h1v1h-1m-2-2.5h1v1h-1m9 1.5h1v1h-1m0.5 0.5h1v1h-1m-4-0.5h1v1h-1m-2.5 0h1v1h-1m4-14.5h1v1h-1m0.5 9.5h1v1h-1m-4 3h1v1h-1m-1-12h1v1h-1m-2.5 2h1v1h-1m5.5-7h1v1h-1m3 3.5h1v1h-1m-1.5 8.5h1v1h-1m-4.5-3.5h1v1h-1m-1-8.5h1v1h-1m1-3.5h1v1h-1m1 9.5h1v1h-1m6-5h1v1h-1m-1 1h1v1h-1m-8-1.5h1v1h-1m5.5-9.5h1v1h-1m-5.5 6.5h1v1h-1m5-8.5h1v1h-1m-2 10.5h1v1h-1m-1-7h1v1h-1m-2-3.5h1v1h-1m8 6h1v1h-1m-4-9.5h1v1h-1m-0.5 0h1v1h-1m2-5.5h1v1h-1m2 6.5h1v1h-1m-1.5 6h1v1h-1m-1-13h1v1h-1m-4.5 3h1v1h-1m5-3h1v1h-1m-4 6h1v1h-1m2-9h1v1h-1m2 10.5h1v1h-1m-3-13.5h1v1h-1m4.5 10h1v1h-1m-7-7.5h1v1h-1m6-7h1v1h-1m-1 12.5h1v1h-1m1-1h1v1h-1m-3.5-2h1v1h-1m0.5-1.5h1v1h-1m3-10.5h1v1h-1m-5.5 8h1v1h-1m8.5-6.5h1v1h-1" fill="#ffb200"/>
<path d="M193 505.5h1v1h-1m2.5-2h1v1h-1m2 0h1v1h-1m-0.5-1.5h1v1h-1m0-1h1v1h-1m-3-0.5h1v1h-1m1.5 0h1v1h-1m-1-2h1v1h-1m-1-0.5h1v1h-1m-1-2h1v1h-1m2.5-0.5h1v1h-1m1-0.5h1v1h-1m1.5 0h1v1h-1m-0.5-1.5h1v1h-1m-2.5-2h1v1h-1m0-0.5h1v1h-1m1-1h1v1h-1m-1-1.5h1v1h-1m1-2h1v1h-1m-1-0.5h1v1h-1m2.5 0h1v1h-1m-1-1.5h1v1h-1m-2-1.5h1v1h-1m1-1.5h1v1h-1m-2 0.5h1v1h-1m4-1h1v1h-1m-1-1h1v1h-1m-2.5-1h1v1h-1m3.5-1.5h1v1h-1m0.5 0h1v1h-1m0-2.5h1v1h-1m-0.5-1h1v1h-1m-1.5 1h1v1h-1m1-1.5h1v1h-1m-0.5-2h1v1h-1m1-2h1v1h-1m-3 1h1v1h-1m3-3h1v1h-1m-2 1.5h1v1h-1m0-3h1v1h-1m-1-1h1v1h-1m0 0.5h1v1h-1m-0.5-2.5h1v1h-1m-0.5-1h1v1h-1m2.5-1h1v1h-1m-2-1h1v1h-1m0.5-1.5h1v1h-1m0.5-0.5h1v1h-1m1.5 0h1v1h-1m-1-2h1v1h-1m0.5 0h1v1h-1m1.5 0h1v1h-1m-2-2.5h1v1h-1m1.5 0.5h1v1h-1m-1-1h1v1h-1m-2-3.5h1v1h-1m2.5 1.5h1v1h-1" fill="#ff4200"/>
<path d="M197.5 509.5h1v1h-1m-2.5-1h1v1h-1m-1-1h1v1h-1m0.5 1.5h1v1h-1m2.5-4h1v1h-1m0-0.5h1v1h-1m-3.5-2.5h1v1h-1m2 1.5h1v1h-1m-1.5-3.5h1v1h-1m3.5 0.5h1v1h-1m-3-1.5h1v1h-1m3-1.5h1v1h-1m-0.5-0.5h1v1h-1m-0.5 1h1v1h-1m-4 0h1v1h-1m0.5-5.5h1v1h-1m2 0h1v1h-1m1 2.5h1v1h-1m-0.5-3h1v1h-1m-1-2.5h1v1h-1m0.5-0.5h1v1h-1m-2.5 0h1v1h-1m5-1h1v1h-1m-4-1.5h1v1h-1m-0.5 1h1v1h-1m-0.5-4.5h1v1h-1m3 1h1v1h-1m-2.5-3h1v1h-1m4 0h1v1h-1m-1-1.5h1v1h-1m1 1h1v1h-1m-1 0.5h1v1h-1m0-4h1v1h-1m-1.5-2h1v1h-1m1.5 1h1v1h-1m1.5-0.5h1v1h-1m-2.5-4h1v1h-1m-2 0h1v1h-1m-0.5-1.5h1v1h-1m0.5 2.5h1v1h-1m-0.5-2h1v1h-1m0-4.5h1v1h-1m0 2.5h1v1h-1m2-2h1v1h-1m2.5-1.5h1v1h-1m-1-3h1v1h-1m1 2h1v1h-1m-3.5-3h1v1h-1m1 1.5h1v1h-1m0-4h1v1h-1m-0.5-0.5h1v1h-1m2.5-2h1v1h-1m0-0.5h1v1h-1m-4 2.5h1v1h-1m1-4.5h1v1h-1m1 2h1v1h-1m1-4h1v1h-1m0-1.5h1v1h-1m2-1h1v1h-1m-5 0.5h1v1h-1m0.5-2.5h1v1h-1m3.5 1.5h1v1h-1m-2.5-2.5h1v1h-1m2.5 2.5h1v1h-1m0.5-5h1v1h-1m-2 1h1v1h-1m-0.5-1.5h1v1h-1m-1-3h1v1h-1m4 4h1v1h-1m-0.5-2.5h1v1h-1m-2.5-0.5h1v1h-1m-1-4h1v1h-1m1 3h1v1h-1m-1.5-6h1v1h-1m0.5-0.5h1v1h-1m3.5 0.5h1v1h-1m-2 1.5h1v1h-1m1.5-5.5h1v1h-1m-0.5 3.5h1v1h-1m1.5-1h1v1h-1m-3.5-3.5h1v1h-1m0.5 0h1v1h-1m2.5-3.5h1v1h-1m0 0h1v1h-1m-3 2.5h1v1h-1m1-3.5h1v1h-1m-0.5-2.5h1v1h-1m3-2h1v1h-1m-4 1h1v1h-1m1.5-2.5h1v1h-1m1 1h1v1h-1m-1.5-3.5h1v1h-1m0 1h1v1h-1m0.5-1.5h1v1h-1m1-1.5h1v1h-1m-3.5-1h1v1h-1m5-1h1v1h-1m-3 0h1v1h-1m0.5-1h1v1h-1m-1.5-0.5h1v1h-1m1-3h1v1h-1m3 2h1v1h-1m-4.5-2h1v1h-1m1.5 0h1v1h-1m-0.5-3h1v1h-1m2 1h1v1h-1m-2-1h1v1h-1m0-0.5h1v1h-1m3.5-4.5h1v1h-1m-3 3.5h1v1h-1m0.5-4h1v1h-1m-2.5-1h1v1h-1m1.5 1h1v1h-1m3-1h1v1h-1m-1.5-1h1v1h-1m1.5-2h1v1h-1m-3.5-2h1v1h-1m3-1h1v1h-1m0 0.5h1v1h-1m-3-2h1v1h-1m2.5-1h1v1h-1m-0.5-3h1v1h-1m-1 2h1v1h-1m1 0h1v1h-1m-1.5-2.5h1v1h-1m2-2.5h1v1h-1m-0.5 0h1v1h-1m-0.5-1h1v1h-1m1 0h1v1h-1m0.5-3h1v1h-1m-1.5-2h1v1h-1m0.5 2h1v1h-1m2-2h1v1h-1m-3.5-2h1v1h-1m2.5 1h1v1h-1m-3.5-1h1v1h-1m4-4.5h1v1h-1m-2 0.5h1v1h-1m-2.5-1.5h1v1h-1m0.5-1.5h1v1h-1m-0.5 2h1v1h-1m3.5-4h1v1h-1m1 1.5h1v1h-1m-4 0.5h1v1h-1m4-4h1v1h-1m-2.5-1h1v1h-1m-1 2h1v1h-1m0-1.5h1v1h-1m1.5-3h1v1h-1m0 2h1v1h-1m-1.5-4h1v1h-1m-1-2h1v1h-1" fill="#e50000"/>
<path d="M167.4 482.1 L235.4 482.1 L235.4 496.0 L210.3 532.2 L167.4 532.2 Z" fill="none" stroke="#A542AD" stroke-width="1.0"/>
<path d="M216.4 545.0 L239.9 512.3 L274.7 512.3 L274.7 579.4 L216.4 579.4 Z" fill="none" stroke="#D0A04A" stroke-width="1.0"/>
<rect x="162.8" y="468.1" width="115.6" height="113.4" fill="none" stroke="#666" stroke-width="0.8"/>
<text x="175.40" y="473.40" font-size="4.3" text-anchor="start" fill="#9A35A5">Target cell - Molm13</text>
<text x="175.40" y="478.40" font-size="4.3" text-anchor="start" fill="#9A35A5">85.78%</text>
<text x="185.80" y="560.40" font-size="4.3" text-anchor="start" fill="#B8862C">T cell - Vector</text>
<text x="185.80" y="565.40" font-size="4.3" text-anchor="start" fill="#B8862C">12.21%</text>
<text x="214.40" y="476.80" font-size="7.3" font-weight="bold" text-anchor="start" fill="#111">PKH<tspan font-size="4.5" dy="-2.2">+</tspan><tspan dy="2.2">CFSE</tspan><tspan font-size="4.5" dy="-2.2">-</tspan><tspan dy="2.2"> 85.7%</tspan></text>
<line x1="162.80" y1="581.50" x2="162.80" y2="583.00" stroke="#666" stroke-width="0.5"/>
<text x="162.80" y="589.30" font-size="4.6" text-anchor="middle" fill="#333">10<tspan font-size="3.2" dy="-1.6">2.1</tspan></text>
<line x1="185.92" y1="581.50" x2="185.92" y2="583.00" stroke="#666" stroke-width="0.5"/>
<text x="185.92" y="589.30" font-size="4.6" text-anchor="middle" fill="#333">10<tspan font-size="3.2" dy="-1.6">3</tspan></text>
<line x1="209.04" y1="581.50" x2="209.04" y2="583.00" stroke="#666" stroke-width="0.5"/>
<text x="209.04" y="589.30" font-size="4.6" text-anchor="middle" fill="#333">10<tspan font-size="3.2" dy="-1.6">4</tspan></text>
<line x1="232.16" y1="581.50" x2="232.16" y2="583.00" stroke="#666" stroke-width="0.5"/>
<text x="232.16" y="589.30" font-size="4.6" text-anchor="middle" fill="#333">10<tspan font-size="3.2" dy="-1.6">5</tspan></text>
<line x1="255.28" y1="581.50" x2="255.28" y2="583.00" stroke="#666" stroke-width="0.5"/>
<text x="255.28" y="589.30" font-size="4.6" text-anchor="middle" fill="#333">10<tspan font-size="3.2" dy="-1.6">6</tspan></text>
<line x1="278.40" y1="581.50" x2="278.40" y2="583.00" stroke="#666" stroke-width="0.5"/>
<text x="278.40" y="589.30" font-size="4.6" text-anchor="middle" fill="#333">10<tspan font-size="3.2" dy="-1.6">7</tspan></text>
<line x1="161.30" y1="581.50" x2="162.80" y2="581.50" stroke="#666" stroke-width="0.5"/>
<text x="158.30" y="581.50" font-size="4.6" text-anchor="middle" fill="#333" transform="rotate(-90 158.3 581.5)">10<tspan font-size="3.2" dy="-1.6">2</tspan></text>
<line x1="161.30" y1="553.15" x2="162.80" y2="553.15" stroke="#666" stroke-width="0.5"/>
<text x="158.30" y="553.15" font-size="4.6" text-anchor="middle" fill="#333" transform="rotate(-90 158.3 553.15)">10<tspan font-size="3.2" dy="-1.6">3</tspan></text>
<line x1="161.30" y1="524.80" x2="162.80" y2="524.80" stroke="#666" stroke-width="0.5"/>
<text x="158.30" y="524.80" font-size="4.6" text-anchor="middle" fill="#333" transform="rotate(-90 158.3 524.8)">10<tspan font-size="3.2" dy="-1.6">4</tspan></text>
<line x1="161.30" y1="496.45" x2="162.80" y2="496.45" stroke="#666" stroke-width="0.5"/>
<text x="158.30" y="496.45" font-size="4.6" text-anchor="middle" fill="#333" transform="rotate(-90 158.3 496.45000000000005)">10<tspan font-size="3.2" dy="-1.6">5</tspan></text>
<line x1="161.30" y1="468.10" x2="162.80" y2="468.10" stroke="#666" stroke-width="0.5"/>
<text x="158.30" y="468.10" font-size="4.6" text-anchor="middle" fill="#333" transform="rotate(-90 158.3 468.1)">10<tspan font-size="3.2" dy="-1.6">6</tspan></text>
<text x="151.80" y="505.00" font-size="3.2" text-anchor="middle" fill="#444" transform="rotate(-90 151.8 505)">bs-III</text>
<line x1="151.30" y1="547.00" x2="151.30" y2="550.00" stroke="#666" stroke-width="0.6"/>
<text x="355.70" y="462.30" font-size="10" text-anchor="middle" fill="#111">CAR.BsAb-T</text>
<path d="M328 518.5h1v1h-1m7.5-7.5h1v1h-1m-5.5 0.5h1v1h-1m-16 3.5h1v1h-1m13-17.5h1v1h-1m0.5-4.5h1v1h-1m8.5 12h1v1h-1m-4-20.5h1v1h-1m-1.5 15.5h1v1h-1m-7.5-4.5h1v1h-1m-7.5 3h1v1h-1m4.5-0.5h1v1h-1m17-19.5h1v1h-1m-12.5 8h1v1h-1m7.5 14.5h1v1h-1m-5 7.5h1v1h-1m2-21.5h1v1h-1m-8-9.5h1v1h-1m14.5 7h1v1h-1m-15 10.5h1v1h-1m-11.5-1.5h1v1h-1m34.5-18h1v1h-1m-11.5 12h1v1h-1m4-3h1v1h-1m-12.5 11h1v1h-1m0.5-10.5h1v1h-1m9.5-2h1v1h-1m-1 5h1v1h-1m7.5-20h1v1h-1m-18.5 11h1v1h-1m10 14h1v1h-1m0.5-22h1v1h-1m-3-14h1v1h-1m-5 21.5h1v1h-1m10-17h1v1h-1m-5.5 12h1v1h-1m-9 9h1v1h-1m8.5-1h1v1h-1m5-19h1v1h-1m-1 18.5h1v1h-1m-2-25.5h1v1h-1m6 9h1v1h-1m-14-2h1v1h-1m13-2h1v1h-1m-9 12h1v1h-1m13-20.5h1v1h-1m-11.5 27h1v1h-1m7.5-16h1v1h-1m2-15h1v1h-1m-9.5 5.5h1v1h-1m14.5 10h1v1h-1m-25 5h1v1h-1m25.5-23h1v1h-1m-8.5-5h1v1h-1m9.5-2.5h1v1h-1m1 11h1v1h-1m-29.5 18h1v1h-1m16-11.5h1v1h-1m7-11.5h1v1h-1m-2.5 5h1v1h-1m-4 2.5h1v1h-1m10.5-11.5h1v1h-1m-24 8h1v1h-1m24 8h1v1h-1m-16.5-6.5h1v1h-1m-4-9h1v1h-1m-3-2h1v1h-1m9 18.5h1v1h-1m-5-10.5h1v1h-1m18.5-12.5h1v1h-1m-7-12h1v1h-1m-12 16.5h1v1h-1m-4.5-10h1v1h-1m11 20.5h1v1h-1m-16-18h1v1h-1m21-18.5h1v1h-1m-13 22h1v1h-1m6 2.5h1v1h-1m-1.5-2h1v1h-1m1.5-16.5h1v1h-1m8-5.5h1v1h-1m3 15.5h1v1h-1m-11.5-12h1v1h-1m-3.5 7h1v1h-1m1.5 7h1v1h-1m-2-11h1v1h-1m-0.5-5h1v1h-1m16.5 9h1v1h-1m-3-1.5h1v1h-1m-9.5-13h1v1h-1m-4.5 9h1v1h-1m-1 24.5h1v1h-1m16.5-15h1v1h-1m-14-14h1v1h-1m-7.5 18h1v1h-1m5.5-10.5h1v1h-1m-2.5-6h1v1h-1m5-11h1v1h-1m6.5 7.5h1v1h-1m-0.5-3h1v1h-1m-5-3.5h1v1h-1m8-6h1v1h-1m0 10h1v1h-1m-12 5h1v1h-1m12.5-27.5h1v1h-1m5.5 17h1v1h-1m-1.5 6h1v1h-1m-17-1.5h1v1h-1m9 1h1v1h-1m-4.5 3.5h1v1h-1m12-15h1v1h-1m-16-4.5h1v1h-1m13-5h1v1h-1m-10.5 19h1v1h-1m-0.5-4.5h1v1h-1m5-20h1v1h-1m8.5 10.5h1v1h-1m-8.5 7.5h1v1h-1m16.5-16.5h1v1h-1m-11.5 8.5h1v1h-1m-8.5 11h1v1h-1m6-22h1v1h-1m10-11h1v1h-1m-5 8h1v1h-1m-1 0h1v1h-1m-0.5 4h1v1h-1m-10.5 2.5h1v1h-1m17-15.5h1v1h-1m-17.5 5h1v1h-1m0 15h1v1h-1m15-3h1v1h-1m0-9.5h1v1h-1m-17.5-2h1v1h-1m-7 9.5h1v1h-1m14 0h1v1h-1m4.5-26.5h1v1h-1m-5 17.5h1v1h-1m3.5-9h1v1h-1m0.5 2h1v1h-1m12.5-7h1v1h-1m-26.5 0h1v1h-1m20-6.5h1v1h-1m-9 14.5h1v1h-1m3-1h1v1h-1m-0.5-18.5h1v1h-1m6.5 12.5h1v1h-1m-21 9h1v1h-1m28.5-32h1v1h-1m1 28.5h1v1h-1m-29-5h1v1h-1m11 6.5h1v1h-1m8.5-26.5h1v1h-1m-5.5 9h1v1h-1m2 2.5h1v1h-1m5.5-9h1v1h-1m-9.5 2h1v1h-1m10-8.5h1v1h-1m-17 32h1v1h-1m-6-17h1v1h-1m11.5 3.5h1v1h-1m2.5-7h1v1h-1m1 1.5h1v1h-1m-7.5-10h1v1h-1m13 20h1v1h-1m-8-28h1v1h-1m-3 17.5h1v1h-1m13-12h1v1h-1m-22.5-5h1v1h-1m0 11.5h1v1h-1m21.5 2.5h1v1h-1m-5.5-4h1v1h-1m6 6.5h1v1h-1m5.5-21h1v1h-1m-16 3.5h1v1h-1m-9.5-7.5h1v1h-1m12.5 6.5h1v1h-1m16.5 4.5h1v1h-1m-17-7.5h1v1h-1m3.5-12.5h1v1h-1m4 15h1v1h-1m-5-2.5h1v1h-1m-1-18h1v1h-1m-4.5 18.5h1v1h-1m0 1h1v1h-1m-0.5-11.5h1v1h-1m5.5 3h1v1h-1m-5.5 12h1v1h-1m1-13.5h1v1h-1m-3 2h1v1h-1m10-9.5h1v1h-1m-6-8h1v1h-1m-0.5 12h1v1h-1m0-3.5h1v1h-1m-5 21h1v1h-1m6.5 1.5h1v1h-1m1-21.5h1v1h-1m10.5 5.5h1v1h-1m-4.5-12h1v1h-1m-12 6.5h1v1h-1m4.5-13h1v1h-1m-9 4.5h1v1h-1m8 5h1v1h-1m1.5-18h1v1h-1m8 14.5h1v1h-1m2-11.5h1v1h-1m-8-18h1v1h-1m-2.5 32.5h1v1h-1m3.5 8.5h1v1h-1m-9.5-33.5h1v1h-1m7 5h1v1h-1m2-0.5h1v1h-1m-10.5 2.5h1v1h-1m12.5-3h1v1h-1m1.5-6h1v1h-1m-6 6.5h1v1h-1m-1.5 0.5h1v1h-1m-0.5-13.5h1v1h-1m-5 17.5h1v1h-1m5.5-15.5h1v1h-1m15.5 12.5h1v1h-1m-12-12.5h1v1h-1m6 16h1v1h-1m-11 4.5h1v1h-1m2.5-32.5h1v1h-1m7 23h1v1h-1m-11.5-2h1v1h-1m-1.5 10h1v1h-1m-1.5-18h1v1h-1m12 9.5h1v1h-1m-4-15.5h1v1h-1m-4 8h1v1h-1m3-7.5h1v1h-1m9 3h1v1h-1m-5-3.5h1v1h-1m6-19h1v1h-1m-15 18h1v1h-1m5-8.5h1v1h-1m-6 25.5h1v1h-1m6.5-30.5h1v1h-1m-11.5 8h1v1h-1m15.5-7h1v1h-1m-8.5 13h1v1h-1m11-2h1v1h-1m-1.5 4.5h1v1h-1m-9-7h1v1h-1m3.5 0.5h1v1h-1m-4 11h1v1h-1m-3-20h1v1h-1m-6 16h1v1h-1m13-22.5h1v1h-1m2 3h1v1h-1m11 3.5h1v1h-1m-13.5 4.5h1v1h-1m15.5-14.5h1v1h-1m-6.5-7.5h1v1h-1m-8.5 23h1v1h-1m0-18h1v1h-1m8 9.5h1v1h-1m0.5-10h1v1h-1m-7-3h1v1h-1m15.5-5.5h1v1h-1m-24 19.5h1v1h-1m12.5-22.5h1v1h-1m-1.5 7.5h1v1h-1m-4.5 4h1v1h-1m13-15.5h1v1h-1m-14.5 23h1v1h-1m-4-19h1v1h-1m-1.5 6h1v1h-1m5.5-8.5h1v1h-1m0 7h1v1h-1m1-19.5h1v1h-1m-0.5 26.5h1v1h-1m-1-11h1v1h-1m5.5-1.5h1v1h-1m1-7h1v1h-1m-8 13h1v1h-1m4 1.5h1v1h-1m-3-14h1v1h-1m6-13h1v1h-1m5.5 12h1v1h-1m0-12.5h1v1h-1m-7.5 9h1v1h-1m-5 8h1v1h-1m8.5-6h1v1h-1m0.5-6.5h1v1h-1m-6.5-2.5h1v1h-1m-2-0.5h1v1h-1m0.5 12.5h1v1h-1m-6.5 9h1v1h-1m8-20.5h1v1h-1m5.5-6.5h1v1h-1m4-11h1v1h-1m3 12.5h1v1h-1m-2.5-14.5h1v1h-1m1.5 5h1v1h-1m4 3h1v1h-1m-19 8h1v1h-1m22-18h1v1h-1m-31.5 22h1v1h-1m24.5-22.5h1v1h-1m-13.5 16h1v1h-1m-2.5 6h1v1h-1m3-13.5h1v1h-1m7 15h1v1h-1m-2.5-11h1v1h-1m-1.5-8h1v1h-1m-3 2.5h1v1h-1m14-9.5h1v1h-1m-16.5 3h1v1h-1m19 8.5h1v1h-1m-10.5-8h1v1h-1m-9-11.5h1v1h-1m25-4.5h1v1h-1m-1.5 7.5h1v1h-1m-12.5 32.5h1v1h-1m6.5-26.5h1v1h-1m-4-6.5h1v1h-1m-9 2.5h1v1h-1m-18-5h1v1h-1m23.5-7.5h1v1h-1m-6 14h1v1h-1m-2-5h1v1h-1m-2.5-4.5h1v1h-1m-1.5 5h1v1h-1m1.5-2h1v1h-1m-4.5-7h1v1h-1m23-2h1v1h-1m-6.5-4h1v1h-1m-3.5 14h1v1h-1m2 6h1v1h-1m8.5-18.5h1v1h-1m-12 7h1v1h-1m7.5-17h1v1h-1m-3 37h1v1h-1m7-50.5h1v1h-1m2 24.5h1v1h-1m6-7h1v1h-1m-17.5 10h1v1h-1m-8-15.5h1v1h-1m8 12.5h1v1h-1m11.5-29.5h1v1h-1m-28 17.5h1v1h-1m31.5-7h1v1h-1m-16.5 17h1v1h-1m0.5-26.5h1v1h-1m3.5 12.5h1v1h-1m-3 0h1v1h-1m-2 3.5h1v1h-1m-1-5h1v1h-1m2.5-8.5h1v1h-1m5.5 1.5h1v1h-1m-1.5 6.5h1v1h-1m1 6h1v1h-1m-17-14.5h1v1h-1m16 7h1v1h-1m-7.5 6h1v1h-1m13-20.5h1v1h-1m-12 18h1v1h-1m8.5-20.5h1v1h-1m-3 16.5h1v1h-1m4-3.5h1v1h-1m-9 2h1v1h-1m-10.5 3.5h1v1h-1m14.5-10h1v1h-1m0 5h1v1h-1m-18.5-8h1v1h-1m19-10h1v1h-1m0 16.5h1v1h-1m2.5-16h1v1h-1m-0.5-4.5h1v1h-1m14 8h1v1h-1m-18.5 14.5h1v1h-1m-3-24.5h1v1h-1m-9.5-2h1v1h-1m4 5h1v1h-1m7.5 0.5h1v1h-1m3.5-4.5h1v1h-1m-1 2.5h1v1h-1m-4.5-5h1v1h-1m4.5-9.5h1v1h-1m5.5-4.5h1v1h-1m-3 16.5h1v1h-1m-7 8.5h1v1h-1m11-13h1v1h-1m-10 11.5h1v1h-1m0-9h1v1h-1m9-12h1v1h-1m-3.5 4.5h1v1h-1m-6.5 4.5h1v1h-1m11-10h1v1h-1m-8.5 2.5h1v1h-1m-6.5 2h1v1h-1m9-8h1v1h-1m4.5 7h1v1h-1m-13-6.5h1v1h-1m4.5 5h1v1h-1m14.5 7.5h1v1h-1m-2.5-9.5h1v1h-1m-8.5 2.5h1v1h-1m-2.5-4.5h1v1h-1m-4 2h1v1h-1m-6.5 6.5h1v1h-1m-6-35.5h1v1h-1m16 24h1v1h-1m9-17.5h1v1h-1m-1 6h1v1h-1m-3.5 2.5h1v1h-1m1.5-12h1v1h-1m-10 4.5h1v1h-1m-1.5 7h1v1h-1m-2-2.5h1v1h-1m15.5-4h1v1h-1m-10.5-1.5h1v1h-1m4 18.5h1v1h-1m13.5-8.5h1v1h-1m-10-4.5h1v1h-1m0.5-13.5h1v1h-1m-10 17h1v1h-1m17-11h1v1h-1m-27.5 12.5h1v1h-1m15.5-9h1v1h-1m7-21h1v1h-1m0 7.5h1v1h-1m-5 0.5h1v1h-1m-11 25h1v1h-1m27-34h1v1h-1m-24 3.5h1v1h-1m0.5 12.5h1v1h-1m19.5-8.5h1v1h-1m-8.5 1h1v1h-1m-20.5 4.5h1v1h-1m30-8.5h1v1h-1m-8-1.5h1v1h-1m-4.5-2.5h1v1h-1m-2 3.5h1v1h-1m-4-0.5h1v1h-1m-6 2h1v1h-1m12-23h1v1h-1m5.5 16.5h1v1h-1m-13 6.5h1v1h-1m-1 9h1v1h-1m15.5-29h1v1h-1m-8.5 3.5h1v1h-1m-7.5 20h1v1h-1m18.5 7h1v1h-1m-10-17h1v1h-1m8.5-26h1v1h-1m-8 39h1v1h-1m-4-23.5h1v1h-1m-0.5-3h1v1h-1m2-9.5h1v1h-1m16-3h1v1h-1m-4 5.5h1v1h-1m-5-11.5h1v1h-1m2 10h1v1h-1m11.5 4.5h1v1h-1m-20 7h1v1h-1m-2-17.5h1v1h-1m-5.5 11h1v1h-1m6.5 6.5h1v1h-1m-3.5-22.5h1v1h-1m6.5 6.5h1v1h-1m-3.5 14h1v1h-1m6-18h1v1h-1m-1-1h1v1h-1m-13.5 20h1v1h-1m8.5 2h1v1h-1m1.5-19.5h1v1h-1m-8-1.5h1v1h-1m11 8.5h1v1h-1m-9.5-11h1v1h-1m15-0.5h1v1h-1m-1.5-2h1v1h-1m-4-3.5h1v1h-1m-8-7h1v1h-1m8 8h1v1h-1m0-4h1v1h-1m4 4.5h1v1h-1m-2-4.5h1v1h-1m4.5 4.5h1v1h-1m-14 16.5h1v1h-1m14-33.5h1v1h-1m-14 12.5h1v1h-1m2.5-18.5h1v1h-1m8 1.5h1v1h-1m0 19.5h1v1h-1m-11.5 2h1v1h-1m6.5-22.5h1v1h-1m5.5 13.5h1v1h-1m-11 5h1v1h-1m2-4.5h1v1h-1m0.5 4.5h1v1h-1m8-14h1v1h-1m5.5 2.5h1v1h-1m5-8.5h1v1h-1m-7-14h1v1h-1m-10.5 31.5h1v1h-1m-2-11h1v1h-1m-2.5 8h1v1h-1m7-9h1v1h-1m12-15.5h1v1h-1m-9 12.5h1v1h-1m4.5-0.5h1v1h-1m-4-3.5h1v1h-1m-8.5-9h1v1h-1m8-6h1v1h-1m-2 6.5h1v1h-1m10.5 6h1v1h-1m-11.5-2.5h1v1h-1m9.5-14h1v1h-1m-26.5 20h1v1h-1m14.5-20h1v1h-1m8 14.5h1v1h-1m-13.5-2h1v1h-1m-5.5 5.5h1v1h-1m10-10h1v1h-1m-4 13.5h1v1h-1m1.5-21h1v1h-1m26-9.5h1v1h-1m-24.5 12h1v1h-1m1 1.5h1v1h-1m14.5-11.5h1v1h-1m-20.5 15.5h1v1h-1m31-28.5h1v1h-1m-22.5 27h1v1h-1m-0.5-20.5h1v1h-1m-5.5 4h1v1h-1m-3 6.5h1v1h-1m3.5-1.5h1v1h-1m-7 0h1v1h-1m13.5 5.5h1v1h-1m-7.5 9.5h1v1h-1m13-18.5h1v1h-1m5-3h1v1h-1m-16 12.5h1v1h-1m2-17h1v1h-1m4 2.5h1v1h-1m-6 5h1v1h-1m19.5-6.5h1v1h-1m-22-11.5h1v1h-1m3.5-7.5h1v1h-1m-6.5 20h1v1h-1m9-1h1v1h-1m-3 1h1v1h-1m-3 1h1v1h-1m12-7.5h1v1h-1m-9.5-18.5h1v1h-1m10.5 4h1v1h-1m-6 5.5h1v1h-1m11.5-1.5h1v1h-1m-8.5-2h1v1h-1m-9 4.5h1v1h-1m17.5-13h1v1h-1m-10 32.5h1v1h-1m-2-19.5h1v1h-1m-4-12h1v1h-1m7 5h1v1h-1m9.5-5h1v1h-1m-15 7h1v1h-1m4-7.5h1v1h-1m-2.5 4.5h1v1h-1m-19.5 13.5h1v1h-1m30-25.5h1v1h-1m-10-6h1v1h-1m11-4h1v1h-1m7.5 15.5h1v1h-1m-33 11.5h1v1h-1m14-10.5h1v1h-1m2-8h1v1h-1m20-10h1v1h-1m-15.5 5h1v1h-1m-6.5 3h1v1h-1m-11.5 1h1v1h-1m12.5 4h1v1h-1m-5.5-1.5h1v1h-1m1-0.5h1v1h-1m11.5 2.5h1v1h-1m-15-13h1v1h-1m-4.5 16h1v1h-1m19.5-25.5h1v1h-1m-20 17h1v1h-1m6.5-7.5h1v1h-1m6-4h1v1h-1m-1 0h1v1h-1m15.5-3.5h1v1h-1m-11.5 8h1v1h-1m-1.5-17.5h1v1h-1m-7.5 12.5h1v1h-1m5 6h1v1h-1m4.5-8.5h1v1h-1m-2.5-1h1v1h-1m-1.5 3h1v1h-1m-7 0h1v1h-1m19.5-4.5h1v1h-1m-2.5-13h1v1h-1m-2-4.5h1v1h-1m0 14h1v1h-1m-3.5 8.5h1v1h-1m-10-8.5h1v1h-1m9 17h1v1h-1m-4-19.5h1v1h-1m-3.5-1.5h1v1h-1m4.5 9h1v1h-1m0.5-15h1v1h-1m4.5-1h1v1h-1m17.5-14.5h1v1h-1m-29.5 3.5h1v1h-1m12.5 10h1v1h-1m4-15h1v1h-1m-6.5 17.5h1v1h-1m5.5 4h1v1h-1m-8-20.5h1v1h-1m-4 0h1v1h-1m0 16.5h1v1h-1m15-6.5h1v1h-1m-5.5-6h1v1h-1m-14.5 0.5h1v1h-1m11.5-18h1v1h-1m-12 25h1v1h-1m56 37h1v1h-1m-3.5-15.5h1v1h-1m18.5 1h1v1h-1m-20-7h1v1h-1m12 16h1v1h-1m6.5-19h1v1h-1m-18 11h1v1h-1m3.5 2.5h1v1h-1m14.5-16.5h1v1h-1m-7.5-14h1v1h-1m7.5 10.5h1v1h-1m-21.5-2h1v1h-1m16.5 20h1v1h-1m-13.5-16h1v1h-1m9.5-14.5h1v1h-1m-7.5 10.5h1v1h-1m17.5-2h1v1h-1m0-6h1v1h-1m-10-11h1v1h-1m10 14.5h1v1h-1m-12.5-29h1v1h-1m5.5 12.5h1v1h-1m-4.5 0h1v1h-1m0.5 35.5h1v1h-1m-7-24h1v1h-1m17.5-21h1v1h-1m-9.5 37.5h1v1h-1m4.5-35h1v1h-1m1 1h1v1h-1m2 0h1v1h-1m-15 11.5h1v1h-1m3 17h1v1h-1m-4-10h1v1h-1m20.5-7h1v1h-1m-14.5 13h1v1h-1m1 1.5h1v1h-1m9.5-7.5h1v1h-1m1.5-1.5h1v1h-1m-18-12.5h1v1h-1m7-16h1v1h-1m10.5 12h1v1h-1m-8 17.5h1v1h-1m-9-10.5h1v1h-1m8 9h1v1h-1m-1.5-1h1v1h-1m9.5-31h1v1h-1m-16 19h1v1h-1m4.5 7h1v1h-1m12.5-8.5h1v1h-1m-16.5-2.5h1v1h-1m-0.5-3h1v1h-1m12 15.5h1v1h-1m-5.5-39h1v1h-1m10.5 20h1v1h-1m-4.5-17h1v1h-1m0-5h1v1h-1m4 12.5h1v1h-1m-18 5.5h1v1h-1m1.5 11h1v1h-1m-0.5-1h1v1h-1m2.5-26h1v1h-1m3 25h1v1h-1m-3.5-23.5h1v1h-1m-2.5 7h1v1h-1m0 4h1v1h-1m13.5-24.5h1v1h-1m6.5 5.5h1v1h-1m-19.5 13h1v1h-1m18-11.5h1v1h-1m-18 7h1v1h-1m0.5-6h1v1h-1m-0.5 18h1v1h-1m1-11.5h1v1h-1m7.5-17.5h1v1h-1m-7 23h1v1h-1m13-32.5h1v1h-1m-4.5 36h1v1h-1m8-15.5h1v1h-1m-16 8h1v1h-1m5.5-25h1v1h-1m-10.5 6h1v1h-1m5 17h1v1h-1m11.5-29h1v1h-1m-9.5 28h1v1h-1m14-17h1v1h-1m-11 18h1v1h-1m-7 2.5h1v1h-1m13-7h1v1h-1m-3.5-32.5h1v1h-1m2.5 1h1v1h-1m6 7h1v1h-1m-17 6h1v1h-1m3.5-13h1v1h-1m15 13.5h1v1h-1m2-5.5h1v1h-1m-15.5-12.5h1v1h-1m8 25h1v1h-1m-15-28h1v1h-1m18-5h1v1h-1m2.5 13.5h1v1h-1m-8.5-18.5h1v1h-1m7 18h1v1h-1m-11.5 20h1v1h-1m-5.5-24.5h1v1h-1m16.5 8h1v1h-1m-13.5-21h1v1h-1m13.5 21.5h1v1h-1m0.5 1h1v1h-1m-17-9.5h1v1h-1m12-14.5h1v1h-1m-9 5.5h1v1h-1m0-3h1v1h-1m-3 4.5h1v1h-1m8.5-12.5h1v1h-1m6.5-2.5h1v1h-1m-8.5 0.5h1v1h-1m7-3.5h1v1h-1m3 14h1v1h-1m-8.5-13h1v1h-1m10.5 10.5h1v1h-1m-17.5-6h1v1h-1m2 21h1v1h-1m13-4.5h1v1h-1m-14 5h1v1h-1m10.5 2h1v1h-1m0-7.5h1v1h-1m-12.5-8h1v1h-1m-0.5 0.5h1v1h-1m0-4.5h1v1h-1m7 17.5h1v1h-1m-6.5-26h1v1h-1m-3.5 8.5h1v1h-1m6.5 9.5h1v1h-1m8.5-32.5h1v1h-1m-6-1.5h1v1h-1m-1 29h1v1h-1m14-33.5h1v1h-1m-22 14.5h1v1h-1m4.5-21h1v1h-1m12 4.5h1v1h-1m3.5 10.5h1v1h-1m-14.5-4h1v1h-1m10.5-11h1v1h-1m-18.5 32.5h1v1h-1m-2-29.5h1v1h-1m26.5 17h1v1h-1m-27.5 13.5h1v1h-1m10-7.5h1v1h-1m5.5-31.5h1v1h-1m-1.5-0.5h1v1h-1m3 2h1v1h-1m-5 29.5h1v1h-1m-4.5-30.5h1v1h-1m18.5 0h1v1h-1m-22.5 9h1v1h-1m14-23h1v1h-1m-12 33h1v1h-1m3-9.5h1v1h-1m-9 24h1v1h-1m9-24.5h1v1h-1m-5.5-0.5h1v1h-1m25-10h1v1h-1m-3 0.5h1v1h-1m-14.5 16h1v1h-1m-0.5-23.5h1v1h-1m-6 11.5h1v1h-1m2.5-3.5h1v1h-1m20-22.5h1v1h-1m0.5 23h1v1h-1m-11-21.5h1v1h-1m10 21.5h1v1h-1m-18.5-3h1v1h-1m8.5-18.5h1v1h-1m6 26.5h1v1h-1m0-30.5h1v1h-1m-9 50h1v1h-1m1-51h1v1h-1m13 14h1v1h-1m-4.5 10.5h1v1h-1m-7 11.5h1v1h-1m10-35.5h1v1h-1m-11-10.5h1v1h-1m-8 29.5h1v1h-1m27-18h1v1h-1m-23-8.5h1v1h-1m15 22.5h1v1h-1m-15.5-32h1v1h-1m17 12h1v1h-1m-24 9h1v1h-1m24 3h1v1h-1m-26.5 9.5h1v1h-1m22.5-0.5h1v1h-1m-6.5-29.5h1v1h-1m4.5-7.5h1v1h-1m-10-6h1v1h-1m14 29h1v1h-1m-18.5-13h1v1h-1m20-15h1v1h-1m-2 4h1v1h-1m-27 25h1v1h-1m29-12.5h1v1h-1m-10 20.5h1v1h-1m10.5-5.5h1v1h-1m1-26h1v1h-1m-12.5-7.5h1v1h-1m-5 30h1v1h-1m2.5-30h1v1h-1m6-5.5h1v1h-1m8 26.5h1v1h-1m-10.5-34.5h1v1h-1m-2.5 38.5h1v1h-1m-5-0.5h1v1h-1m3 3.5h1v1h-1m13.5-26.5h1v1h-1m2.5 9h1v1h-1m-7.5 6.5h1v1h-1m4.5-14h1v1h-1m-17.5 15h1v1h-1m10.5-3h1v1h-1m-10.5-16h1v1h-1m16-14h1v1h-1m-3.5 28.5h1v1h-1m5-16h1v1h-1m0.5-17h1v1h-1m-14 4h1v1h-1m16.5 23h1v1h-1m4.5-17h1v1h-1m-24.5-11h1v1h-1m0.5 27.5h1v1h-1m3.5-27.5h1v1h-1m24.5 13h1v1h-1m-8.5 20h1v1h-1m-21.5 0h1v1h-1m-5-27.5h1v1h-1m4 4h1v1h-1m6-12h1v1h-1m1.5-21h1v1h-1m1.5 9h1v1h-1m11 27h1v1h-1m-20-7h1v1h-1m17-21.5h1v1h-1m-6-3h1v1h-1m2 43.5h1v1h-1m9.5-24.5h1v1h-1m-0.5 20.5h1v1h-1m-1-27.5h1v1h-1m-0.5-7h1v1h-1m0 2.5h1v1h-1m-14-10.5h1v1h-1m13 8.5h1v1h-1m9.5 8.5h1v1h-1m-28.5 2.5h1v1h-1m6 5h1v1h-1m-5.5-8h1v1h-1m18 1h1v1h-1m-15 2h1v1h-1m6-34h1v1h-1m10 1h1v1h-1m1 27.5h1v1h-1m-18.5-22h1v1h-1m1 11h1v1h-1m22.5 4h1v1h-1m-19.5 5.5h1v1h-1m-3-0.5h1v1h-1m16.5-35.5h1v1h-1m-16.5 18.5h1v1h-1m5.5-17.5h1v1h-1m7.5-0.5h1v1h-1m-16.5 27h1v1h-1m21-6h1v1h-1m-20-3.5h1v1h-1m8.5-17h1v1h-1m-9.5 29.5h1v1h-1m0-31.5h1v1h-1m21.5 14.5h1v1h-1m6 4h1v1h-1m-5-11.5h1v1h-1m-10-16h1v1h-1m-15.5 31h1v1h-1m28-0.5h1v1h-1m-14-28h1v1h-1m-9 20.5h1v1h-1m8 6h1v1h-1m-14.5-6h1v1h-1m14-33.5h1v1h-1m0-5h1v1h-1m15.5 19.5h1v1h-1m-15-12h1v1h-1m-9.5 15.5h1v1h-1m23-28h1v1h-1m-13.5 49.5h1v1h-1m10-33.5h1v1h-1m-3 17h1v1h-1m6 1.5h1v1h-1m-23.5-17h1v1h-1m4-2.5h1v1h-1m18 23.5h1v1h-1m-20.5-12h1v1h-1m6 5.5h1v1h-1m9-30.5h1v1h-1m-1.5 0h1v1h-1m-15 30h1v1h-1m-4-31h1v1h-1m18.5 30.5h1v1h-1m-10.5-5h1v1h-1m-4-35h1v1h-1m5.5 0h1v1h-1m15 24h1v1h-1m-10.5-22h1v1h-1m13-1.5h1v1h-1m-20 32.5h1v1h-1m20-34h1v1h-1m-5 23h1v1h-1m4-14.5h1v1h-1m-24.5 6h1v1h-1m25 13.5h1v1h-1m-10-2h1v1h-1m4.5-4h1v1h-1m-5.5 8h1v1h-1m-9-30.5h1v1h-1m-0.5 3h1v1h-1m21.5 5.5h1v1h-1m-2.5-9.5h1v1h-1m-22 18h1v1h-1m12.5 15.5h1v1h-1m18-28.5h1v1h-1m-2.5-6.5h1v1h-1m3 3.5h1v1h-1m-29-5h1v1h-1m14 19h1v1h-1m1 0h1v1h-1m0-35.5h1v1h-1m5-6.5h1v1h-1m-13 7h1v1h-1m17.5-16h1v1h-1m-5 51h1v1h-1m-15.5 2h1v1h-1m-4-20h1v1h-1m4-16.5h1v1h-1m-2-12h1v1h-1m9-0.5h1v1h-1m-5.5-4h1v1h-1m-4.5 14h1v1h-1m8.5 27h1v1h-1m5.5-5.5h1v1h-1m-13-19h1v1h-1m25-0.5h1v1h-1m-32.5 5.5h1v1h-1m28 15.5h1v1h-1m-18-9.5h1v1h-1m-4-30h1v1h-1m6-10.5h1v1h-1m-7.5 15.5h1v1h-1m21.5 6.5h1v1h-1m-16.5-15h1v1h-1m8.5-12.5h1v1h-1m-10.5 12h1v1h-1m-2.5 34.5h1v1h-1m11-10h1v1h-1m3.5 7.5h1v1h-1m5-28.5h1v1h-1m-6.5 27.5h1v1h-1m3-12h1v1h-1m6.5-9h1v1h-1m-8-18h1v1h-1m12.5 11h1v1h-1m-3.5-4h1v1h-1m-5-14h1v1h-1m-18 29.5h1v1h-1m2-9h1v1h-1m0-16h1v1h-1m6-7.5h1v1h-1m-11 12h1v1h-1m19 14h1v1h-1m-14-8.5h1v1h-1m19-23.5h1v1h-1m-17 29.5h1v1h-1m3-31.5h1v1h-1m10.5-5h1v1h-1m2 15.5h1v1h-1m1.5 7.5h1v1h-1m3.5-18.5h1v1h-1m-0.5-8h1v1h-1m0.5 6h1v1h-1m-25.5 22.5h1v1h-1m16-23.5h1v1h-1m-14.5 15.5h1v1h-1m-8.5-12.5h1v1h-1m23.5-14h1v1h-1m3.5 24.5h1v1h-1m-17 2h1v1h-1m3-27h1v1h-1m-5 21.5h1v1h-1m18 4h1v1h-1m8 3h1v1h-1m-24.5-13h1v1h-1m23.5 7h1v1h-1m1-1.5h1v1h-1m-4-21.5h1v1h-1m-0.5 9.5h1v1h-1m-24.5 8h1v1h-1m20.5-25h1v1h-1m-14 40h1v1h-1m18-20.5h1v1h-1m-21-17.5h1v1h-1m28-4.5h1v1h-1m-2.5 11h1v1h-1m1.5-7.5h1v1h-1m-25 23h1v1h-1m34-37.5h1v1h-1m-39 20.5h1v1h-1m1 7.5h1v1h-1m4.5 10.5h1v1h-1m21-36.5h1v1h-1m-3.5 19.5h1v1h-1m-11 11.5h1v1h-1m-2.5-1h1v1h-1m-13-9h1v1h-1m28-11h1v1h-1m-6.5-14h1v1h-1m-12.5-3.5h1v1h-1m-6 17h1v1h-1m17 12h1v1h-1m-12.5-17h1v1h-1m-1-2h1v1h-1m2.5 1.5h1v1h-1m16 4.5h1v1h-1m-10-23h1v1h-1m-1 30h1v1h-1m13.5-24.5h1v1h-1m5.5-6.5h1v1h-1m-21 37.5h1v1h-1m8-13h1v1h-1m-9 1h1v1h-1m-6.5 5.5h1v1h-1m5-33.5h1v1h-1m18.5 19h1v1h-1m-4.5-23.5h1v1h-1m-13 26.5h1v1h-1m17-43.5h1v1h-1m-2.5 10h1v1h-1m0.5 12h1v1h-1m-15.5-5.5h1v1h-1m5.5 33.5h1v1h-1m1.5-9.5h1v1h-1m5.5 2.5h1v1h-1m-17-23h1v1h-1m14-22h1v1h-1m5.5 26.5h1v1h-1m-8.5-22h1v1h-1m7 26.5h1v1h-1m-2.5 1h1v1h-1m-15-12.5h1v1h-1m23-10.5h1v1h-1m-24.5 16h1v1h-1m22 0h1v1h-1m-20.5 9.5h1v1h-1m20.5-45.5h1v1h-1m-10.5 40.5h1v1h-1m15.5-21.5h1v1h-1m0-11h1v1h-1m-25 16.5h1v1h-1m5.5-35h1v1h-1m-4 12h1v1h-1m20.5 8.5h1v1h-1m0 6h1v1h-1m-24.5 8h1v1h-1m3-10h1v1h-1m-3-4h1v1h-1m26 4h1v1h-1m-7.5-17h1v1h-1m-12-3h1v1h-1m-2 25.5h1v1h-1m-0.5-25.5h1v1h-1m20.5 1h1v1h-1m-23.5 9.5h1v1h-1m3-11.5h1v1h-1m1 2.5h1v1h-1m19 22h1v1h-1m-17.5 10h1v1h-1m-4.5-28h1v1h-1m7.5 15.5h1v1h-1m11.5-20.5h1v1h-1m-5.5 26.5h1v1h-1m3-13.5h1v1h-1m-18.5-10h1v1h-1m13.5 30h1v1h-1m13-52.5h1v1h-1m-1.5 25.5h1v1h-1m-2-21.5h1v1h-1m2 17.5h1v1h-1m-17.5 6h1v1h-1m14-6.5h1v1h-1m-16 7.5h1v1h-1m-2.5-25.5h1v1h-1m26-10h1v1h-1m-21.5 52.5h1v1h-1m-14-20h1v1h-1m17 1h1v1h-1m12.5-23.5h1v1h-1m-26 13h1v1h-1m31-23.5h1v1h-1m-17.5-4.5h1v1h-1m14.5 20h1v1h-1m-7 9.5h1v1h-1m2.5-30h1v1h-1m-23.5 30h1v1h-1m8-14h1v1h-1m7.5-17.5h1v1h-1m1 27h1v1h-1m-9.5-18.5h1v1h-1m24 1h1v1h-1m-21.5 14.5h1v1h-1m16.5-8.5h1v1h-1m-10.5 10.5h1v1h-1m-7-33.5h1v1h-1m10-7h1v1h-1m-13.5 23.5h1v1h-1m-1 9.5h1v1h-1m21-29.5h1v1h-1m-4.5-7h1v1h-1m-1.5 2h1v1h-1m3 2h1v1h-1m-11.5 1.5h1v1h-1m16-4.5h1v1h-1m-7-1h1v1h-1m9 21.5h1v1h-1m-15.5-22h1v1h-1m12 27h1v1h-1m-17.5-18h1v1h-1m11.5-16.5h1v1h-1m7 37.5h1v1h-1m-15.5-4h1v1h-1m16.5-26.5h1v1h-1m-24.5-11h1v1h-1m7.5 7h1v1h-1m-2.5 8.5h1v1h-1m18.5-5h1v1h-1m-3.5 19.5h1v1h-1m-10.5-38h1v1h-1m-2 30h1v1h-1m-1-20h1v1h-1m-2 8.5h1v1h-1m21.5 5h1v1h-1m-1 1.5h1v1h-1m-1-15h1v1h-1m-17 18h1v1h-1m-4-21h1v1h-1m3.5 15h1v1h-1m4 2h1v1h-1m16.5-1.5h1v1h-1m3.5-22h1v1h-1m-18-28h1v1h-1m-4-4h1v1h-1m11 5.5h1v1h-1m-6 17.5h1v1h-1m7.5 1h1v1h-1m2.5-3.5h1v1h-1m-3.5-26.5h1v1h-1m0.5 31h1v1h-1m-16.5 12.5h1v1h-1m5-25.5h1v1h-1m2.5-15h1v1h-1m5-9h1v1h-1m-1.5 27.5h1v1h-1m-3.5-25h1v1h-1m8 6.5h1v1h-1m0 10.5h1v1h-1m-3.5-7.5h1v1h-1m2 11h1v1h-1m-2.5-7h1v1h-1m-7.5-6.5h1v1h-1m15 4h1v1h-1m-14.5-10.5h1v1h-1m17 5h1v1h-1m-11 1h1v1h-1m-5.5 7h1v1h-1m4-24.5h1v1h-1m-4 16h1v1h-1m-1.5-21h1v1h-1m5.5-1.5h1v1h-1m7-3.5h1v1h-1m-4.5 12h1v1h-1m4.5-1h1v1h-1m2 12.5h1v1h-1m-5.5-30h1v1h-1m-10 16h1v1h-1m4.5 0h1v1h-1m14.5-11.5h1v1h-1m-11.5 12.5h1v1h-1m-7-3.5h1v1h-1m-0.5-6.5h1v1h-1m16-18.5h1v1h-1m-16 26h1v1h-1m10.5-11h1v1h-1m0 6.5h1v1h-1m-4 2.5h1v1h-1m8-18h1v1h-1m-1.5 18.5h1v1h-1m-5.5-14.5h1v1h-1m-3.5 19h1v1h-1m6-13.5h1v1h-1m-0.5 10h1v1h-1m-8-9.5h1v1h-1m-5 1.5h1v1h-1m9.5-3.5h1v1h-1m7.5 11.5h1v1h-1m2-1h1v1h-1m-8-24.5h1v1h-1m14 1h1v1h-1m-15 13.5h1v1h-1m-2-4.5h1v1h-1m5-10.5h1v1h-1m-6 7h1v1h-1m7-15h1v1h-1m-1.5 14h1v1h-1m-5 3h1v1h-1m-2.5 5.5h1v1h-1m7.5-12.5h1v1h-1m-7 8.5h1v1h-1m1 18.5h1v1h-1m7.5-28h1v1h-1m-2 5.5h1v1h-1m2.5-5h1v1h-1m2-8h1v1h-1m3.5-19.5h1v1h-1m-16 27h1v1h-1m8-29h1v1h-1m-6 10h1v1h-1m12.5 17h1v1h-1m-14.5-27.5h1v1h-1m8.5 0.5h1v1h-1m-3.5 7.5h1v1h-1m3.5 14.5h1v1h-1m-4-15.5h1v1h-1m5.5 1h1v1h-1m2.5 2h1v1h-1m-11.5 9.5h1v1h-1m15-24.5h1v1h-1m-4-2.5h1v1h-1m-4.5 14h1v1h-1m-1-1h1v1h-1m5-6.5h1v1h-1m-4.5 2h1v1h-1m2.5-6h1v1h-1m2.5 12h1v1h-1m-7-22.5h1v1h-1m6 16.5h1v1h-1m7 19.5h1v1h-1m-11-26.5h1v1h-1m2-21.5h1v1h-1m-1 17.5h1v1h-1m6.5 13.5h1v1h-1m18 22.5h1v1h-1m-103-6.5h1v1h-1m9.5-45h1v1h-1m32.5 45.5h1v1h-1m-6-42h1v1h-1m43.5 7h1v1h-1m-40.5-25.5h1v1h-1m-10.5 62.5h1v1h-1m-29-23.5h1v1h-1m30 11.5h1v1h-1m-5-17h1v1h-1m45 41.5h1v1h-1m-56.5-41.5h1v1h-1m52.5-46.5h1v1h-1m-53 17.5h1v1h-1m30.5-21h1v1h-1m-21.5 40.5h1v1h-1m63.5 48h1v1h-1m11-83h1v1h-1m-88 43.5h1v1h-1m47-42.5h1v1h-1m-1.5 75h1v1h-1m-3-47h1v1h-1m-16 16h1v1h-1m68.5-4.5h1v1h-1m-67 9h1v1h-1m21-9h1v1h-1m-15-49.5h1v1h-1m39.5 19.5h1v1h-1m-76.5 4h1v1h-1m16.5 31.5h1v1h-1m-21 11h1v1h-1m62-70.5h1v1h-1m15.5 28h1v1h-1m-15-11.5h1v1h-1" fill="#0000ef"/>
<path d="M373.5 548.5h1v1h-1m11.5-4h1v1h-1m-2.5 3h1v1h-1m-6.5-18.5h1v1h-1m-2 0.5h1v1h-1m11.5 12.5h1v1h-1m1.5-18.5h1v1h-1m-12 23h1v1h-1m2.5-26h1v1h-1m-4.5 17h1v1h-1m10.5-19h1v1h-1m-7 24h1v1h-1m3.5-28h1v1h-1m-1 25.5h1v1h-1m-1.5-26h1v1h-1m9 16h1v1h-1m0-15h1v1h-1m-3-2h1v1h-1m-6-2.5h1v1h-1m-3.5 7.5h1v1h-1m-0.5 9h1v1h-1m5.5 4h1v1h-1m-5.5-2h1v1h-1m2.5 1h1v1h-1m10.5-10h1v1h-1m-0.5 1.5h1v1h-1m-12.5 3h1v1h-1m0.5-14h1v1h-1m2-9h1v1h-1m-3.5 15.5h1v1h-1m8.5 6.5h1v1h-1m-7.5-7h1v1h-1m8 4.5h1v1h-1m2.5-26h1v1h-1m-7 23.5h1v1h-1m1-25h1v1h-1m0.5 0.5h1v1h-1m7-0.5h1v1h-1m-8 20h1v1h-1m-3.5-4h1v1h-1m13-20h1v1h-1m-14.5 16.5h1v1h-1m12.5-2h1v1h-1m-11.5-10h1v1h-1m13-5.5h1v1h-1m-3-4h1v1h-1m-1-0.5h1v1h-1m2.5 2h1v1h-1m-11 12h1v1h-1m6 6h1v1h-1m-7.5-4.5h1v1h-1m10-21h1v1h-1m-6 1.5h1v1h-1m9-1h1v1h-1m-4.5 20h1v1h-1m-1.5-1.5h1v1h-1m-6.5-5.5h1v1h-1m3-20.5h1v1h-1m-3 8h1v1h-1m3.5-10h1v1h-1m0.5 23h1v1h-1m8.5-21h1v1h-1m-5 20h1v1h-1m-6.5-8h1v1h-1m1.5 4h1v1h-1m6 0h1v1h-1m-6-21h1v1h-1m2 19.5h1v1h-1m0-24h1v1h-1m1.5 21h1v1h-1m1.5-25.5h1v1h-1m-6.5 8.5h1v1h-1m6.5 15h1v1h-1m-5-3h1v1h-1m5.5 1.5h1v1h-1m-5-22.5h1v1h-1m7.5-4.5h1v1h-1m-4.5-0.5h1v1h-1m-5 17.5h1v1h-1m13-5h1v1h-1m-1.5-12.5h1v1h-1m-11.5 4.5h1v1h-1m1.5 13h1v1h-1m2 0h1v1h-1m9.5-9h1v1h-1m-2-2h1v1h-1m2-15h1v1h-1m-13.5 5.5h1v1h-1m1.5-6.5h1v1h-1m4-1.5h1v1h-1m-1-2h1v1h-1m-6 18h1v1h-1m10.5 2h1v1h-1m-9.5-2.5h1v1h-1m3.5-22h1v1h-1m-4 6.5h1v1h-1m7.5 15h1v1h-1m5.5-8h1v1h-1m-3 4.5h1v1h-1m-7.5-21.5h1v1h-1m4.5 22h1v1h-1m-3.5-22.5h1v1h-1m9.5 14h1v1h-1m-9 6h1v1h-1m7.5-6h1v1h-1m-11 1h1v1h-1m5.5 0.5h1v1h-1m-4.5-18.5h1v1h-1m13.5-3.5h1v1h-1m-11.5-0.5h1v1h-1m5.5 18h1v1h-1m2.5-24h1v1h-1m-8.5 3h1v1h-1m-1-4h1v1h-1m-2.5 16.5h1v1h-1m2.5-15.5h1v1h-1m1.5 19.5h1v1h-1m6-24h1v1h-1m4.5 16h1v1h-1m1-18.5h1v1h-1m-8.5-1h1v1h-1m-7 16.5h1v1h-1m3.5 4.5h1v1h-1m1-1.5h1v1h-1m9.5-22h1v1h-1m-10 21h1v1h-1m3-25.5h1v1h-1m-5.5 8h1v1h-1m0.5-4.5h1v1h-1m11 10.5h1v1h-1m-3.5-21h1v1h-1m-5.5 2.5h1v1h-1m0 22h1v1h-1m-0.5 0h1v1h-1m9.5-10.5h1v1h-1m2-12.5h1v1h-1m-5 19.5h1v1h-1m5-23.5h1v1h-1m-11.5-2h1v1h-1m9-1.5h1v1h-1m1.5 16.5h1v1h-1m-13.5-13h1v1h-1m-0.5 2h1v1h-1m14.5 8.5h1v1h-1m-1-2.5h1v1h-1m-2-17h1v1h-1m-6.5 23h1v1h-1m-1-21.5h1v1h-1m1-1.5h1v1h-1m10-2h1v1h-1m-9.5 20.5h1v1h-1m6-24.5h1v1h-1m3 2h1v1h-1m-0.5-3h1v1h-1m-7 21h1v1h-1m8.5-6.5h1v1h-1m-10.5 4.5h1v1h-1m-3-4.5h1v1h-1m0.5-13h1v1h-1m11.5-5h1v1h-1m-5.5-6.5h1v1h-1m-6.5 18h1v1h-1m11-15h1v1h-1m-8.5-2.5h1v1h-1m-1-2h1v1h-1m5-3h1v1h-1m5 18.5h1v1h-1m0.5-20h1v1h-1m0.5 2h1v1h-1m-13 15h1v1h-1m0 1.5h1v1h-1m11.5-19h1v1h-1m-4.5 19h1v1h-1m-6-0.5h1v1h-1m0.5-22h1v1h-1m7.5-3.5h1v1h-1m-3 23.5h1v1h-1m2.5-1h1v1h-1m-3.5-25.5h1v1h-1m1.5-3h1v1h-1m-4 1.5h1v1h-1m-1.5 23h1v1h-1m4-24h1v1h-1m7.5 12.5h1v1h-1m-12.5-11h1v1h-1m12.5 12h1v1h-1m1 0h1v1h-1m-8.5 4.5h1v1h-1m3.5-2h1v1h-1m4-4.5h1v1h-1m-5-23h1v1h-1m-8 9.5h1v1h-1m-0.5 0h1v1h-1m1-1.5h1v1h-1m0 9.5h1v1h-1m12.5-20.5h1v1h-1m-3-0.5h1v1h-1m1 20h1v1h-1m-7.5-20.5h1v1h-1m8.5 14h1v1h-1m-9.5-16.5h1v1h-1m4-2.5h1v1h-1m6 16.5h1v1h-1m1.5-16h1v1h-1m-1.5 12.5h1v1h-1m-10.5-13h1v1h-1m10.5 13h1v1h-1m0 0.5h1v1h-1m-7 2.5h1v1h-1m2-26.5h1v1h-1m-8 6h1v1h-1m5.5 19h1v1h-1m5.5-26h1v1h-1m-11 4.5h1v1h-1m1 16h1v1h-1m8.5-24h1v1h-1m2 20.5h1v1h-1m1.5-4.5h1v1h-1m-2.5 3.5h1v1h-1m-8 1h1v1h-1m10-4.5h1v1h-1m-4-23h1v1h-1m-1 25h1v1h-1m0.5-0.5h1v1h-1m5-6.5h1v1h-1m1-0.5h1v1h-1m1-5h1v1h-1m-8-16h1v1h-1m-6 7.5h1v1h-1m10-10.5h1v1h-1m-7.5 2h1v1h-1m-2 16h1v1h-1m12-17h1v1h-1m1.5-5h1v1h-1m-11.5 23h1v1h-1m8.5-24.5h1v1h-1m-10.5 7.5h1v1h-1m2.5 14h1v1h-1m8.5-9.5h1v1h-1m1-0.5h1v1h-1m-14-11h1v1h-1m9.5-7.5h1v1h-1m4 15.5h1v1h-1m0 1h1v1h-1m-7-18.5h1v1h-1m5.5 21.5h1v1h-1m-11-5h1v1h-1m9-13h1v1h-1m2-3.5h1v1h-1m-8.5 4.5h1v1h-1m7 4h1v1h-1m-5-9h1v1h-1m6.5 1.5h1v1h-1m-1.5-3h1v1h-1m0-5.5h1v1h-1m-1.5-0.5h1v1h-1m-3.5 1.5h1v1h-1m5 7h1v1h-1m-3-9h1v1h-1m4 4h1v1h-1" fill="#002dff"/>
<path d="M375.5 549.5h1v1h-1m-3-8.5h1v1h-1m0-2h1v1h-1m8.5-12.5h1v1h-1m-4.5 19.5h1v1h-1m4-22h1v1h-1m4 17.5h1v1h-1m-5.5 2h1v1h-1m-4-2.5h1v1h-1m-2-5h1v1h-1m8 3h1v1h-1m5-7h1v1h-1m-13.5 0h1v1h-1m9.5 6h1v1h-1m-8.5-12.5h1v1h-1m0.5 1.5h1v1h-1m-0.5-1h1v1h-1m8.5-13h1v1h-1m-9.5 8.5h1v1h-1m12.5-1h1v1h-1m-11 1.5h1v1h-1m3.5 7h1v1h-1m-2-2h1v1h-1m9.5-12.5h1v1h-1m-2.5 8.5h1v1h-1m-9.5-8.5h1v1h-1m4.5 10.5h1v1h-1m-3.5-9.5h1v1h-1m10.5 4h1v1h-1m-10 0.5h1v1h-1m11.5-14h1v1h-1m-12.5 3.5h1v1h-1m13.5-7h1v1h-1m-12.5 8.5h1v1h-1m10.5-2h1v1h-1m1.5-8.5h1v1h-1m-8 13.5h1v1h-1m7.5-14h1v1h-1m-4.5-10h1v1h-1m-4.5 21h1v1h-1m-0.5-1.5h1v1h-1m-3-11h1v1h-1m4.5 9.5h1v1h-1m3-23h1v1h-1m0.5 21h1v1h-1m3.5-15h1v1h-1m-11.5 2.5h1v1h-1m0.5 5.5h1v1h-1m9.5 0.5h1v1h-1m3.5-13h1v1h-1m-10.5 14h1v1h-1m2-2h1v1h-1m-6-7h1v1h-1m4.5 6h1v1h-1m8-8h1v1h-1m-9.5 5h1v1h-1m5-22h1v1h-1m-4.5 21h1v1h-1m0.5-1h1v1h-1m3-2h1v1h-1m4-4h1v1h-1m-3 2.5h1v1h-1m-1.5 0h1v1h-1m2-3.5h1v1h-1m-8.5-3.5h1v1h-1m0-4h1v1h-1m13-1.5h1v1h-1m-12-3.5h1v1h-1m9 5.5h1v1h-1m2.5-10h1v1h-1m1.5 4.5h1v1h-1m-9 6.5h1v1h-1m3.5-1.5h1v1h-1m-2-1.5h1v1h-1m0-0.5h1v1h-1m7-13h1v1h-1m0-2.5h1v1h-1m-1 3h1v1h-1m-12 4h1v1h-1m1-5h1v1h-1m0.5 8h1v1h-1m3.5-1.5h1v1h-1m7.5-13.5h1v1h-1m-8 11h1v1h-1m6.5-3.5h1v1h-1m1.5-14h1v1h-1m-3 11.5h1v1h-1m1 0h1v1h-1m4-12h1v1h-1m-1 4.5h1v1h-1m-7.5 6.5h1v1h-1m-5-6h1v1h-1m9 2h1v1h-1m-8.5-8h1v1h-1m-1 1.5h1v1h-1m7 5h1v1h-1m4.5-9h1v1h-1m-6 7.5h1v1h-1m7.5-11h1v1h-1m-6-11h1v1h-1m-7 12.5h1v1h-1m12.5-3h1v1h-1m0-6.5h1v1h-1m-5.5-7h1v1h-1m-4.5 19.5h1v1h-1m9-11.5h1v1h-1m0.5-6.5h1v1h-1m-3.5-5.5h1v1h-1m4 6h1v1h-1m-8 13.5h1v1h-1m8-17.5h1v1h-1m-10 14.5h1v1h-1m9-13.5h1v1h-1m-11 3.5h1v1h-1m3 5.5h1v1h-1m-3.5-9.5h1v1h-1m6.5-13h1v1h-1m5.5 9h1v1h-1m-3.5-10.5h1v1h-1m-6.5 19.5h1v1h-1m11-8h1v1h-1m-13.5-1.5h1v1h-1m7.5-13.5h1v1h-1m-6.5 11.5h1v1h-1m5.5 6.5h1v1h-1m6-13.5h1v1h-1m-5-9.5h1v1h-1m-7 13h1v1h-1m-1.5-3.5h1v1h-1m4 9.5h1v1h-1m-2.5-13h1v1h-1m-1.5-0.5h1v1h-1m4 10h1v1h-1m-3-8h1v1h-1m9-13.5h1v1h-1m3 8.5h1v1h-1m-5 9.5h1v1h-1m-5.5-8.5h1v1h-1m12-1.5h1v1h-1m-5-13h1v1h-1m4 10h1v1h-1m-5-13h1v1h-1m5 12.5h1v1h-1m0-10h1v1h-1m0.5 8h1v1h-1m-1-5.5h1v1h-1m-2.5 7.5h1v1h-1m-6 2h1v1h-1m10.5-7.5h1v1h-1m-2-4h1v1h-1m-5 8.5h1v1h-1m0 0.5h1v1h-1m-5.5-7.5h1v1h-1m11-3h1v1h-1m1-3h1v1h-1m0.5-8.5h1v1h-1m-6.5 15.5h1v1h-1m-0.5-0.5h1v1h-1m6.5-17h1v1h-1m-7 15.5h1v1h-1m6-13.5h1v1h-1m1-4.5h1v1h-1m-8 13.5h1v1h-1m-4.5-8h1v1h-1m11.5-5h1v1h-1m0-0.5h1v1h-1m-1.5 6.5h1v1h-1m-10-4.5h1v1h-1m12.5-6.5h1v1h-1m-1 5h1v1h-1m-2.5 2h1v1h-1m-9-6.5h1v1h-1m5 9h1v1h-1m8-9.5h1v1h-1m-7 6.5h1v1h-1m-6-9.5h1v1h-1m12.5 0h1v1h-1m-11 7.5h1v1h-1m1-1.5h1v1h-1m10.5-14h1v1h-1m-2 2h1v1h-1m-10 8.5h1v1h-1m11-17h1v1h-1m1 7h1v1h-1m-6.5-14h1v1h-1m-6.5 14.5h1v1h-1m12.5-10h1v1h-1m1 7h1v1h-1m-1-4.5h1v1h-1m-7 9h1v1h-1m5.5-13.5h1v1h-1m0.5 4h1v1h-1m0.5-8.5h1v1h-1m0.5 5.5h1v1h-1m-11 7h1v1h-1m10-15.5h1v1h-1m-5.5-7.5h1v1h-1m0 20h1v1h-1m-4-1h1v1h-1m6.5-4h1v1h-1m-8 4h1v1h-1m-1.5-12.5h1v1h-1m7.5-11h1v1h-1m-4.5 20.5h1v1h-1m9.5-13h1v1h-1m-13 1.5h1v1h-1m11.5 4h1v1h-1m2.5-10h1v1h-1m-14.5 4.5h1v1h-1m14.5-6.5h1v1h-1m-7 11h1v1h-1m-5.5-11.5h1v1h-1m2 9h1v1h-1m-1.5-7.5h1v1h-1m3.5 7.5h1v1h-1m2-2.5h1v1h-1m6-9h1v1h-1m-12.5 2.5h1v1h-1m0-4.5h1v1h-1m13.5-9h1v1h-1m-11.5 14.5h1v1h-1m10.5-14h1v1h-1m-5-8h1v1h-1m-2 21h1v1h-1m6-11h1v1h-1m-6-1h1v1h-1m3-3h1v1h-1m-3-1.5h1v1h-1m2.5 0h1v1h-1m-1.5 2.5h1v1h-1m-2.5-3.5h1v1h-1" fill="#0093ff"/>
<path d="M381 548h1v1h-1m-0.5-2h1v1h-1m1-17h1v1h-1m-2 16.5h1v1h-1m3-5h1v1h-1m2-13h1v1h-1m-2 11h1v1h-1m-1-14.5h1v1h-1m3 13.5h1v1h-1m-8 0.5h1v1h-1m6-17.5h1v1h-1m1.5 0.5h1v1h-1m-8 14h1v1h-1m5-1.5h1v1h-1m-5 0.5h1v1h-1m7-18.5h1v1h-1m-8 15.5h1v1h-1m1 0.5h1v1h-1m-1-2.5h1v1h-1m7-15.5h1v1h-1m-0.5-2.5h1v1h-1m2 11.5h1v1h-1m-4 3h1v1h-1m4-4.5h1v1h-1m-5-13h1v1h-1m-2.5 13.5h1v1h-1m4-15.5h1v1h-1m-0.5 0h1v1h-1m-3.5 12.5h1v1h-1m4.5-16h1v1h-1m-6 14.5h1v1h-1m7.5-16h1v1h-1m-1 0h1v1h-1m2.5 9.5h1v1h-1m-0.5 0h1v1h-1m-6.5-12h1v1h-1m-1.5 0h1v1h-1m2.5-3h1v1h-1m4-2.5h1v1h-1m-6.5 1.5h1v1h-1m0-1.5h1v1h-1m8-1.5h1v1h-1m-7.5 13h1v1h-1m5-1h1v1h-1m-3.5-1h1v1h-1m4 1h1v1h-1m3-19h1v1h-1m-2 1h1v1h-1m1.5 11h1v1h-1m-5.5-14.5h1v1h-1m-1 15.5h1v1h-1m5-17h1v1h-1m-5.5 14.5h1v1h-1m7-3.5h1v1h-1m-8-10.5h1v1h-1m4 12h1v1h-1m2-2.5h1v1h-1m-2-16h1v1h-1m3.5 0h1v1h-1m-1.5-2h1v1h-1m-6.5 2h1v1h-1m9-5h1v1h-1m-4.5-1h1v1h-1m-0.5 0.5h1v1h-1m2.5-2.5h1v1h-1m3 1.5h1v1h-1m-0.5-1.5h1v1h-1m-3.5 13h1v1h-1m0.5-15.5h1v1h-1m0 14h1v1h-1m2-3.5h1v1h-1m1-13.5h1v1h-1m-8.5 15.5h1v1h-1m5.5-3.5h1v1h-1m-5.5-12.5h1v1h-1m6.5-2.5h1v1h-1m-5.5 1.5h1v1h-1m7.5-4h1v1h-1m-8 1h1v1h-1m5.5 12h1v1h-1m-1-1h1v1h-1m1-1.5h1v1h-1m-6.5-15h1v1h-1m9.5 10.5h1v1h-1m-1-1.5h1v1h-1m-9 1.5h1v1h-1m7-16h1v1h-1m-7 15.5h1v1h-1m6-2h1v1h-1m0.5-0.5h1v1h-1m-1.5-18h1v1h-1m-1 0h1v1h-1m0-0.5h1v1h-1m1-2h1v1h-1m1.5 15.5h1v1h-1m-2-15.5h1v1h-1m2 12h1v1h-1m3.5-14.5h1v1h-1m-6.5-1.5h1v1h-1m-0.5 0h1v1h-1m-2 13h1v1h-1m-0.5-0.5h1v1h-1m5.5-18h1v1h-1m-4 16h1v1h-1m2.5-17.5h1v1h-1m2 15.5h1v1h-1m2.5-3h1v1h-1m-2 0h1v1h-1m-5-13.5h1v1h-1m3.5 13h1v1h-1m1-16h1v1h-1m-5.5 1h1v1h-1m9 9h1v1h-1m-4 1h1v1h-1m-1-17h1v1h-1m-4.5 14.5h1v1h-1m2-1h1v1h-1m3.5-15.5h1v1h-1m1-1h1v1h-1m1.5 11.5h1v1h-1m-1-15h1v1h-1m2.5 1.5h1v1h-1m0-1.5h1v1h-1m-0.5-1h1v1h-1m-9.5 15h1v1h-1m4-19h1v1h-1m-1.5 3h1v1h-1m-0.5 12h1v1h-1m7-16.5h1v1h-1m0 11h1v1h-1m-0.5-12h1v1h-1m1.5-1.5h1v1h-1m-7.5 15h1v1h-1m-2-15h1v1h-1m7 12.5h1v1h-1m2.5-4h1v1h-1m-10 1h1v1h-1m7.5-16.5h1v1h-1m0.5 0.5h1v1h-1m-1-3.5h1v1h-1m-6 2.5h1v1h-1m0 12.5h1v1h-1m3-17.5h1v1h-1m6 13.5h1v1h-1m-1.5-1h1v1h-1m-6.5-13h1v1h-1m4 11.5h1v1h-1m0.5-15.5h1v1h-1m-0.5-1.5h1v1h-1m1-0.5h1v1h-1m1 0h1v1h-1m-3 15h1v1h-1m-4.5-16h1v1h-1m1 14h1v1h-1m6.5-18.5h1v1h-1m-2.5-1.5h1v1h-1m4 13h1v1h-1m-3-12.5h1v1h-1m-1 12.5h1v1h-1m3.5-15.5h1v1h-1m-6-2h1v1h-1m5 11.5h1v1h-1m-5.5 3h1v1h-1m-2.5-13.5h1v1h-1m1.5-1.5h1v1h-1m0 12h1v1h-1m8-3h1v1h-1m-0.5-14.5h1v1h-1m-2-2h1v1h-1m-4.5 2h1v1h-1m7-2.5h1v1h-1m-3-2h1v1h-1m-2-1h1v1h-1m-1-1h1v1h-1m-2.5 3h1v1h-1m5.5 11.5h1v1h-1m-4.5-1.5h1v1h-1m8-16h1v1h-1m-5.5-1.5h1v1h-1m-1-1.5h1v1h-1m-1.5 15.5h1v1h-1m7-18.5h1v1h-1m0.5 14h1v1h-1m-7-15h1v1h-1m-1.5 1h1v1h-1" fill="#00f9ff"/>
<path d="M377 548.5h1v1h-1m-2-13.5h1v1h-1m4 11.5h1v1h-1m3.5-8.5h1v1h-1m-3.5 6h1v1h-1m5-7.5h1v1h-1m-1-1.5h1v1h-1m1-0.5h1v1h-1m-0.5-8h1v1h-1m0.5-2.5h1v1h-1m-1 8h1v1h-1m-5 4.5h1v1h-1m-1-12.5h1v1h-1m1 10h1v1h-1m6-14h1v1h-1m-1.5-1.5h1v1h-1m-4.5 14h1v1h-1m4.5-8h1v1h-1m1.5-8.5h1v1h-1m-7.5 10h1v1h-1m-0.5-2h1v1h-1m6.5-2h1v1h-1m-3 2h1v1h-1m-4-2h1v1h-1m9-12h1v1h-1m-9.5 10h1v1h-1m7-3.5h1v1h-1m-5.5-5.5h1v1h-1m7.5-4.5h1v1h-1m-7 10.5h1v1h-1m-1.5-11h1v1h-1m0 0h1v1h-1m8 4.5h1v1h-1m-6.5 1h1v1h-1m7-12.5h1v1h-1m-9 2h1v1h-1m1 9h1v1h-1m8-4.5h1v1h-1m0.5-8.5h1v1h-1m-7.5 7.5h1v1h-1m7-9h1v1h-1m0-1h1v1h-1m-1.5 6h1v1h-1m-5 5h1v1h-1m-1.5-4.5h1v1h-1m7.5-11h1v1h-1m-5.5 10.5h1v1h-1m-2.5-11h1v1h-1m8.5 5.5h1v1h-1m-5 2.5h1v1h-1m-4-2h1v1h-1m4.5 1.5h1v1h-1m-4.5-12h1v1h-1m0 6.5h1v1h-1m0.5 0h1v1h-1m2.5 0h1v1h-1m0-1h1v1h-1m-2-9.5h1v1h-1m7.5-5h1v1h-1m-4.5 12.5h1v1h-1m-1.5-0.5h1v1h-1m-1-13h1v1h-1m-2 8h1v1h-1m0.5-10h1v1h-1m0.5 8.5h1v1h-1m7.5-11h1v1h-1m1.5 5.5h1v1h-1m-6.5 4.5h1v1h-1m-2-11h1v1h-1m-1-2.5h1v1h-1m2.5 10h1v1h-1m-0.5-3.5h1v1h-1m-1.5-7.5h1v1h-1m9 4h1v1h-1m-7.5 0h1v1h-1m-1 1h1v1h-1m3 0.5h1v1h-1m-4-5h1v1h-1m3.5 2.5h1v1h-1m5.5-13h1v1h-1m-8.5 0.5h1v1h-1m3.5 10.5h1v1h-1m-2.5-12h1v1h-1m-2 6h1v1h-1m4.5 1h1v1h-1m-2.5-9h1v1h-1m6.5 3h1v1h-1m-8.5-7.5h1v1h-1m8-2h1v1h-1m-4.5 12.5h1v1h-1m0-1.5h1v1h-1m-2-11h1v1h-1m-0.5-1.5h1v1h-1m8.5 3h1v1h-1m-7 2.5h1v1h-1m-0.5-1h1v1h-1m7.5-4.5h1v1h-1m-8.5-5.5h1v1h-1m8-3.5h1v1h-1m-6.5 13h1v1h-1m-2-5.5h1v1h-1m9.5-2.5h1v1h-1m-5.5 5h1v1h-1m-2-3h1v1h-1m2 0.5h1v1h-1m-3.5-3.5h1v1h-1m1-9h1v1h-1m0-1.5h1v1h-1m2 11h1v1h-1m-3-5.5h1v1h-1m7-9.5h1v1h-1m-6.5 0.5h1v1h-1m-0.5-1.5h1v1h-1m0 8h1v1h-1m3-0.5h1v1h-1m-4-2.5h1v1h-1m9-2.5h1v1h-1m-7-6.5h1v1h-1m-1 6.5h1v1h-1m3 1h1v1h-1m6.5-5.5h1v1h-1m-9.5-7.5h1v1h-1m-0.5 8h1v1h-1m1-8h1v1h-1m0-2h1v1h-1m7.5 3.5h1v1h-1m-1 0h1v1h-1m-6.5 1.5h1v1h-1m3.5 2h1v1h-1m4.5-14.5h1v1h-1m-5.5 11h1v1h-1m-3-10h1v1h-1m0-1.5h1v1h-1m2 10.5h1v1h-1m-1.5-4h1v1h-1m0.5-3h1v1h-1m-1-8.5h1v1h-1m7.5-2.5h1v1h-1m2 7h1v1h-1m-1.5-9h1v1h-1m-8 0.5h1v1h-1m3 10h1v1h-1m6.5-14.5h1v1h-1m-10 11.5h1v1h-1m0-10.5h1v1h-1m2 0.5h1v1h-1m6 3.5h1v1h-1m-0.5-2h1v1h-1m-7.5 3h1v1h-1m0.5-3h1v1h-1m2.5 1.5h1v1h-1m0-0.5h1v1h-1m-2.5-2.5h1v1h-1m7.5-5h1v1h-1m1 0h1v1h-1m-7.5 1.5h1v1h-1m1 2h1v1h-1m-1.5-10.5h1v1h-1m0-1.5h1v1h-1m1 7h1v1h-1m0-8.5h1v1h-1m7.5-4h1v1h-1m-7.5 1.5h1v1h-1m7 4.5h1v1h-1m-9.5-6.5h1v1h-1m10 4h1v1h-1m-2-9.5h1v1h-1m0.5 6.5h1v1h-1m-7-7h1v1h-1m2.5 12h1v1h-1m-2.5-13.5h1v1h-1m8-2h1v1h-1m-1 6h1v1h-1m1-1.5h1v1h-1m-9 1h1v1h-1m8-10.5h1v1h-1m-4.5 13h1v1h-1" fill="#60ff9e"/>
<path d="M374.5 539h1v1h-1m1.5-0.5h1v1h-1m3.5 3.5h1v1h-1m0-11h1v1h-1m-4 5h1v1h-1m1.5-7h1v1h-1m3.5-1h1v1h-1m0-1h1v1h-1m-3 0.5h1v1h-1m-2.5 4h1v1h-1m7-6.5h1v1h-1m0.5 2.5h1v1h-1m2.5 0.5h1v1h-1m-4 3.5h1v1h-1m1.5-5.5h1v1h-1m1-3h1v1h-1m-2.5 5.5h1v1h-1m3.5-9h1v1h-1m-3.5 7.5h1v1h-1m-3.5-12h1v1h-1m6.5 4.5h1v1h-1m-1-4.5h1v1h-1m-6.5 3.5h1v1h-1m6-5h1v1h-1m-1 6.5h1v1h-1m2-8.5h1v1h-1m-3.5-4.5h1v1h-1m1.5-0.5h1v1h-1m1.5 5h1v1h-1m-6.5 2h1v1h-1m4 2h1v1h-1m-3-13.5h1v1h-1m-1.5 4.5h1v1h-1m6.5 0.5h1v1h-1m-2 3h1v1h-1m-4-4h1v1h-1m-0.5-1h1v1h-1m-0.5-2h1v1h-1m4 4h1v1h-1m-4-7h1v1h-1m5.5-7h1v1h-1m2.5 3h1v1h-1m-6.5-3h1v1h-1m3.5 9.5h1v1h-1m2-7h1v1h-1m-4-7.5h1v1h-1m-0.5 0.5h1v1h-1m5.5 4h1v1h-1m-5-5h1v1h-1m1.5-2.5h1v1h-1m-5.5 5.5h1v1h-1m7.5-7.5h1v1h-1m-5 6h1v1h-1m3.5 2h1v1h-1m-5.5-2.5h1v1h-1m5 0.5h1v1h-1m-4.5-5.5h1v1h-1m4-6.5h1v1h-1m3 3h1v1h-1m-3 6h1v1h-1m-3-5h1v1h-1m0-2h1v1h-1m6.5-4h1v1h-1m-4-2.5h1v1h-1m1.5-2h1v1h-1m1-0.5h1v1h-1m0 8h1v1h-1m-1 1h1v1h-1m0-1h1v1h-1m-4.5-5.5h1v1h-1m-1-1h1v1h-1m4.5-7h1v1h-1m2.5-2.5h1v1h-1m-6.5 6h1v1h-1m0.5 0h1v1h-1m1.5-9h1v1h-1m1.5 0h1v1h-1m-0.5-1h1v1h-1m0.5-0.5h1v1h-1m-2.5 2.5h1v1h-1m4.5 3.5h1v1h-1m-0.5 0.5h1v1h-1m-4.5-5h1v1h-1m0.5 1h1v1h-1m3-10h1v1h-1m4 5h1v1h-1m-3 3h1v1h-1m-1-0.5h1v1h-1m2.5-10h1v1h-1m1.5 2.5h1v1h-1m-1.5-5h1v1h-1m-1-1.5h1v1h-1m-4 6.5h1v1h-1m5.5-3.5h1v1h-1m0.5-4h1v1h-1m-8.5 4.5h1v1h-1m8.5-3.5h1v1h-1m-5-5.5h1v1h-1m3 8h1v1h-1m-1-0.5h1v1h-1m0.5-11h1v1h-1m-4 7.5h1v1h-1m0-2.5h1v1h-1m4.5-8.5h1v1h-1m2 2.5h1v1h-1m-2-4.5h1v1h-1m-5 8h1v1h-1m7-6.5h1v1h-1m-2.5-3h1v1h-1m1-2.5h1v1h-1m-6 4.5h1v1h-1m7.5-1.5h1v1h-1m1-1h1v1h-1m-0.5-3.5h1v1h-1m-2 6.5h1v1h-1m-4.5-4h1v1h-1m7-5h1v1h-1m-6.5-3.5h1v1h-1m-0.5 3h1v1h-1m-2.5 0h1v1h-1m5.5 4h1v1h-1m1-12h1v1h-1m0.5 9h1v1h-1m2-6.5h1v1h-1m-1-2h1v1h-1m-6.5 5h1v1h-1m3-10h1v1h-1m2-1.5h1v1h-1m1.5 5.5h1v1h-1m-3-7h1v1h-1m2.5 4.5h1v1h-1m1.5-0.5h1v1h-1m1.5-5h1v1h-1m-8 2.5h1v1h-1m0-5.5h1v1h-1m-0.5 6h1v1h-1m5.5-9h1v1h-1m-0.5 9.5h1v1h-1m-0.5-2h1v1h-1m-6.5-2.5h1v1h-1m7.5-8.5h1v1h-1m2 2.5h1v1h-1m-8-1h1v1h-1m8 1.5h1v1h-1m-6.5-6h1v1h-1m3-3.5h1v1h-1m3 5h1v1h-1m0.5-4h1v1h-1m-2-2h1v1h-1m-6 7h1v1h-1m7-7.5h1v1h-1m-4.5-2h1v1h-1m-2.5 2.5h1v1h-1m-0.5 0.5h1v1h-1m7-2h1v1h-1m-5.5 0h1v1h-1m-0.5-3h1v1h-1m6-1h1v1h-1m-2 5.5h1v1h-1m0.5-1.5h1v1h-1m-1-11h1v1h-1m2.5 1.5h1v1h-1m0.5-1.5h1v1h-1m-1.5 8.5h1v1h-1m-4.5-5.5h1v1h-1m5 1h1v1h-1m-6-3h1v1h-1m1-1.5h1v1h-1m7-4h1v1h-1m-2.5 6.5h1v1h-1m2-8.5h1v1h-1m-0.5 1h1v1h-1m-2-7.5h1v1h-1m2.5 2.5h1v1h-1m-9 2.5h1v1h-1m10-1h1v1h-1m-1-3h1v1h-1m-3.5-4.5h1v1h-1m0.5 8h1v1h-1m3-5.5h1v1h-1m-3 4.5h1v1h-1m3.5-9.5h1v1h-1m-1-1.5h1v1h-1m-2.5-1.5h1v1h-1m2.5-0.5h1v1h-1m-6 2.5h1v1h-1m4-6.5h1v1h-1m2 4.5h1v1h-1m-4.5-7h1v1h-1m3.5 11h1v1h-1m1.5-6h1v1h-1m-1.5-1.5h1v1h-1m-0.5-7.5h1v1h-1m-4-1h1v1h-1m-1.5 6.5h1v1h-1m-1.5-2h1v1h-1m2-0.5h1v1h-1m4.5 3h1v1h-1m1.5-5.5h1v1h-1m0-5h1v1h-1m1-1h1v1h-1m-1 1.5h1v1h-1m-7 2.5h1v1h-1m3.5-8h1v1h-1m2 9h1v1h-1m3-6h1v1h-1m-0.5-2h1v1h-1m-2 4h1v1h-1m1.5-5.5h1v1h-1m2-1h1v1h-1m-9-1.5h1v1h-1m8.5 0.5h1v1h-1m-2-5h1v1h-1m-5.5 2h1v1h-1m5.5-4.5h1v1h-1m0.5-1h1v1h-1m-4-2h1v1h-1m-2.5 6.5h1v1h-1m0.5-1h1v1h-1m2.5-8.5h1v1h-1m0.5-0.5h1v1h-1m-4 4h1v1h-1m-0.5-1.5h1v1h-1m5.5-6.5h1v1h-1m1-2h1v1h-1m-7.5 8.5h1v1h-1m2-2h1v1h-1m-0.5-3.5h1v1h-1m-1-1h1v1h-1m4.5-6.5h1v1h-1m3 4h1v1h-1m-6 3h1v1h-1m-0.5-2.5h1v1h-1m7.5-2h1v1h-1m-9-1.5h1v1h-1m5.5 3.5h1v1h-1m-4-2.5h1v1h-1m-1.5-5.5h1v1h-1m7-5h1v1h-1m-5 3.5h1v1h-1m3.5 5h1v1h-1m-0.5-12h1v1h-1m3.5 5.5h1v1h-1m-6-1h1v1h-1m7-3h1v1h-1m-3-5h1v1h-1m3 5h1v1h-1m-8.5-1.5h1v1h-1m8.5-3.5h1v1h-1m-6.5-3.5h1v1h-1m1-1.5h1v1h-1m3-1.5h1v1h-1m-5 6.5h1v1h-1m6-3.5h1v1h-1m-8-1.5h1v1h-1m3-4h1v1h-1m5.5 0h1v1h-1m-8 1h1v1h-1m9.5 0h1v1h-1m-3.5 4.5h1v1h-1m-4.5-4.5h1v1h-1m6-3h1v1h-1m-1 5h1v1h-1m1.5-7h1v1h-1m-6-2h1v1h-1m6 0.5h1v1h-1m-3.5-7.5h1v1h-1m-3 8.5h1v1h-1m3.5 0h1v1h-1m2 0h1v1h-1m-6-5h1v1h-1m1.5-6.5h1v1h-1m-2.5 5.5h1v1h-1m9-3h1v1h-1m-1-5h1v1h-1m0.5 0h1v1h-1m-7 0.5h1v1h-1m2-4.5h1v1h-1" fill="#d1ff2d"/>
<path d="M378 544.5h1v1h-1m0-1h1v1h-1m2-3.5h1v1h-1m-2 0.5h1v1h-1m0 0h1v1h-1m-0.5-0.5h1v1h-1m4.5-4.5h1v1h-1m-4 1.5h1v1h-1m2.5-3.5h1v1h-1m-2 2.5h1v1h-1m-1-1.5h1v1h-1m3.5-3h1v1h-1m-0.5-1h1v1h-1m1-2.5h1v1h-1m0.5 0h1v1h-1m-1.5-1.5h1v1h-1m-1 2.5h1v1h-1m1-4.5h1v1h-1m-1 2h1v1h-1m2.5-4.5h1v1h-1m-3 3.5h1v1h-1m-1-2.5h1v1h-1m3.5-2.5h1v1h-1m0-1h1v1h-1m-4 1h1v1h-1m-0.5-1h1v1h-1m5-3h1v1h-1m-1.5-2.5h1v1h-1m1.5 1h1v1h-1m-4 1h1v1h-1m3-3.5h1v1h-1m-1.5-0.5h1v1h-1m-0.5 1.5h1v1h-1m0-0.5h1v1h-1m-2-2.5h1v1h-1m4.5-2.5h1v1h-1m-2-2.5h1v1h-1m2-1.5h1v1h-1m0.5 1h1v1h-1m-3 1.5h1v1h-1m-1.5-2.5h1v1h-1m1-0.5h1v1h-1m2-2.5h1v1h-1m0-1h1v1h-1m-2 1.5h1v1h-1m1.5-4h1v1h-1m0.5-1h1v1h-1m-1 0.5h1v1h-1m0-2h1v1h-1m-1.5 0h1v1h-1m2.5-2h1v1h-1m-3.5 0.5h1v1h-1m0.5-1h1v1h-1m4-3h1v1h-1m-4 0.5h1v1h-1m3-3.5h1v1h-1m-3.5 2h1v1h-1m4.5-2h1v1h-1m-2 0h1v1h-1m-2 0h1v1h-1m1.5-2h1v1h-1m-1.5-2h1v1h-1m0 0h1v1h-1m3-3h1v1h-1m0.5-1.5h1v1h-1m1 0h1v1h-1m-3.5 2h1v1h-1m1-2h1v1h-1m-1-1h1v1h-1m1.5-4.5h1v1h-1m-1 3h1v1h-1m1.5-4h1v1h-1m1.5-1.5h1v1h-1m-2.5 2h1v1h-1m1.5-4h1v1h-1m-0.5-2h1v1h-1m0.5 0h1v1h-1m-2.5 1.5h1v1h-1m-1 0h1v1h-1m1-1h1v1h-1m-0.5-2.5h1v1h-1m3.5-4h1v1h-1m-1.5 1h1v1h-1m-0.5 2h1v1h-1" fill="#ffb200"/>
<path d="M382 537.5h1v1h-1m-3.5 1.5h1v1h-1m0.5-1h1v1h-1m1.5-1h1v1h-1m-3 0h1v1h-1m-0.5-2h1v1h-1m0.5-5h1v1h-1m1.5 0h1v1h-1m0.5 3.5h1v1h-1m-2-5.5h1v1h-1m4.5-2h1v1h-1m-4.5 5h1v1h-1m1-6.5h1v1h-1m3-0.5h1v1h-1m0.5 0.5h1v1h-1m-4 0.5h1v1h-1m0.5 0.5h1v1h-1m3-6.5h1v1h-1m-3.5 2h1v1h-1m3.5-4h1v1h-1m-1 1h1v1h-1m-3 0.5h1v1h-1m4.5-1.5h1v1h-1m-4.5-3.5h1v1h-1m0 2h1v1h-1m3.5-1.5h1v1h-1m1-4h1v1h-1m-1 2h1v1h-1m0.5-1.5h1v1h-1m-3.5-3h1v1h-1m-0.5 1.5h1v1h-1m1 2.5h1v1h-1m2-3.5h1v1h-1m-1.5 1h1v1h-1m2.5-5.5h1v1h-1m-1-2.5h1v1h-1m-3.5 3h1v1h-1m2-0.5h1v1h-1m2-4.5h1v1h-1m-2 3h1v1h-1m2.5-6h1v1h-1m-3 2.5h1v1h-1m2.5-2.5h1v1h-1m-2 2.5h1v1h-1m2.5-4h1v1h-1m0-2h1v1h-1m-3.5 3h1v1h-1m1 0.5h1v1h-1m-1.5-7h1v1h-1m4.5-0.5h1v1h-1m-2.5 2.5h1v1h-1m-1.5 0h1v1h-1m0.5 0h1v1h-1m2-6.5h1v1h-1m-2.5 5h1v1h-1m1.5-6h1v1h-1m-1 1.5h1v1h-1m-1-0.5h1v1h-1m1-4h1v1h-1m2-2.5h1v1h-1m-1 0.5h1v1h-1m-0.5 3.5h1v1h-1m2-8h1v1h-1m-1 2h1v1h-1m-2 0.5h1v1h-1m1.5-0.5h1v1h-1m-2-4.5h1v1h-1m4-3h1v1h-1m-1 1h1v1h-1m-3-2h1v1h-1m0 3.5h1v1h-1m2-3h1v1h-1m2-1.5h1v1h-1m-3 0h1v1h-1m2.5-1h1v1h-1m0.5-2.5h1v1h-1m-4 3.5h1v1h-1m0.5-2.5h1v1h-1m-0.5 0.5h1v1h-1m2.5-6h1v1h-1m0.5-2h1v1h-1m-1.5 3.5h1v1h-1m0-5.5h1v1h-1m-0.5 2h1v1h-1m1-1.5h1v1h-1m2.5-0.5h1v1h-1m-1.5 0h1v1h-1m-2 1h1v1h-1m2.5-8h1v1h-1m-2.5 5h1v1h-1m0.5-4h1v1h-1m-0.5-2h1v1h-1m0.5 4h1v1h-1m-2-6.5h1v1h-1m5 2h1v1h-1m-0.5-4h1v1h-1m-2.5 0h1v1h-1m2-0.5h1v1h-1m1 0h1v1h-1m-1.5 0h1v1h-1m0-5h1v1h-1m-1 0.5h1v1h-1m0-1.5h1v1h-1m1 1.5h1v1h-1m-0.5-5.5h1v1h-1m0.5 2.5h1v1h-1m-3 3h1v1h-1m0.5-2h1v1h-1m3.5-3h1v1h-1m-2.5 0.5h1v1h-1m-2 0.5h1v1h-1m0.5-5h1v1h-1m3 0h1v1h-1m-3 1h1v1h-1m0.5-4h1v1h-1m0.5-3h1v1h-1m3 2h1v1h-1m-0.5-4h1v1h-1m-2 0.5h1v1h-1m-1.5 0h1v1h-1m-0.5-2h1v1h-1m4.5-2h1v1h-1m-1.5-1h1v1h-1m-1.5-1h1v1h-1m0 4h1v1h-1m-1-4h1v1h-1m1 0h1v1h-1m-0.5-3.5h1v1h-1m-0.5 0h1v1h-1m2.5-4h1v1h-1m-2.5 2.5h1v1h-1m0.5 0.5h1v1h-1m3.5-1.5h1v1h-1m-1-5h1v1h-1m-3.5-0.5h1v1h-1m1 2h1v1h-1m1-4h1v1h-1m-1 2.5h1v1h-1m2.5-5h1v1h-1m-0.5-0.5h1v1h-1m-2 4h1v1h-1m1-1h1v1h-1m2.5-3h1v1h-1m-2 0h1v1h-1m0.5-2.5h1v1h-1m-1.5-2h1v1h-1m0-2.5h1v1h-1m-1-2h1v1h-1m2.5 1.5h1v1h-1m-1.5-2h1v1h-1m-1.5 0h1v1h-1m1 1.5h1v1h-1m3.5-5.5h1v1h-1m-2.5 2h1v1h-1m3-1h1v1h-1m-3-3h1v1h-1m1.5-1h1v1h-1m-1 5h1v1h-1m2-7.5h1v1h-1m-4 4h1v1h-1m0-6h1v1h-1m0.5-1h1v1h-1m4 1h1v1h-1m0-1h1v1h-1m-4-1h1v1h-1m0.5 2.5h1v1h-1m1.5-6.5h1v1h-1m-2-2h1v1h-1m2.5 2h1v1h-1m-2.5 1.5h1v1h-1m-1-4.5h1v1h-1m4-2.5h1v1h-1m0-1h1v1h-1m-3-1.5h1v1h-1m1-1.5h1v1h-1m-1.5 2.5h1v1h-1m0-2h1v1h-1m1.5-2h1v1h-1m-0.5-2h1v1h-1m3.5 3h1v1h-1m-1.5-5h1v1h-1m-3 5.5h1v1h-1m0-2h1v1h-1m0-1.5h1v1h-1m2-1h1v1h-1m-0.5-6h1v1h-1m2 3.5h1v1h-1m0-5.5h1v1h-1m0.5 3h1v1h-1m0.5-3h1v1h-1m-2-2h1v1h-1m-0.5-0.5h1v1h-1m0-0.5h1v1h-1m2.5-3h1v1h-1m-2 2h1v1h-1m-0.5 0h1v1h-1m2-1h1v1h-1m-2-3h1v1h-1m-2 2h1v1h-1m1.5 1h1v1h-1m2.5-4h1v1h-1m-3.5-4h1v1h-1m-1-1.5h1v1h-1m2.5-2h1v1h-1m-1.5-1h1v1h-1m4 2h1v1h-1m-4 2.5h1v1h-1m0.5-1.5h1v1h-1m0.5-3.5h1v1h-1m-1.5-2.5h1v1h-1m-0.5-2h1v1h-1m3 1.5h1v1h-1m0 0.5h1v1h-1m-1.5-4.5h1v1h-1m0.5 5.5h1v1h-1m-0.5-1.5h1v1h-1m0-5.5h1v1h-1m2-3.5h1v1h-1m-0.5 2.5h1v1h-1m-1.5-2.5h1v1h-1m0-2.5h1v1h-1m3 1h1v1h-1m-3 3.5h1v1h-1m-1-6h1v1h-1m3.5-2.5h1v1h-1m-2.5 3.5h1v1h-1m1-2h1v1h-1m2.5-1h1v1h-1m-1.5-3h1v1h-1m1.5 0.5h1v1h-1m-0.5-0.5h1v1h-1m-4-2.5h1v1h-1m3-4h1v1h-1m-0.5-0.5h1v1h-1m1 3.5h1v1h-1m0-2h1v1h-1m-2.5 1.5h1v1h-1m0.5-5.5h1v1h-1m2.5 1h1v1h-1m-2.5-1.5h1v1h-1m1.5-0.5h1v1h-1m-2-4.5h1v1h-1m0 0.5h1v1h-1m-1 1h1v1h-1m0-1.5h1v1h-1m2.5-3h1v1h-1m-2.5 5h1v1h-1m2.5-7h1v1h-1m2-1.5h1v1h-1m-5-1h1v1h-1m5-1h1v1h-1m0-2h1v1h-1" fill="#ff4200"/>
<path d="M302.4 482.4 L370.7 482.4 L370.7 496.0 L345.5 531.7 L302.4 531.7 Z" fill="none" stroke="#A542AD" stroke-width="1.0"/>
<path d="M351.5 545.7 L374.7 512.4 L409.5 512.4 L409.5 579.2 L351.5 579.2 Z" fill="none" stroke="#D0A04A" stroke-width="1.0"/>
<rect x="297.4" y="468.0" width="115.6" height="114.5" fill="none" stroke="#666" stroke-width="0.8"/>
<text x="310.00" y="473.40" font-size="4.3" text-anchor="start" fill="#9A35A5">Target cell - Molm13</text>
<text x="310.00" y="478.40" font-size="4.3" text-anchor="start" fill="#9A35A5">9.92%</text>
<text x="320.00" y="560.60" font-size="4.3" text-anchor="start" fill="#B8862C">T cell - Vector</text>
<text x="320.00" y="565.60" font-size="4.3" text-anchor="start" fill="#B8862C">89.32%</text>
<text x="351.00" y="476.80" font-size="7.3" font-weight="bold" text-anchor="start" fill="#111">PKH<tspan font-size="4.5" dy="-2.2">+</tspan><tspan dy="2.2">CFSE</tspan><tspan font-size="4.5" dy="-2.2">-</tspan><tspan dy="2.2"> 9.92%</tspan></text>
<line x1="297.40" y1="582.50" x2="297.40" y2="584.00" stroke="#666" stroke-width="0.5"/>
<text x="297.40" y="589.30" font-size="4.6" text-anchor="middle" fill="#333">10<tspan font-size="3.2" dy="-1.6">2.1</tspan></text>
<line x1="320.52" y1="582.50" x2="320.52" y2="584.00" stroke="#666" stroke-width="0.5"/>
<text x="320.52" y="589.30" font-size="4.6" text-anchor="middle" fill="#333">10<tspan font-size="3.2" dy="-1.6">3</tspan></text>
<line x1="343.64" y1="582.50" x2="343.64" y2="584.00" stroke="#666" stroke-width="0.5"/>
<text x="343.64" y="589.30" font-size="4.6" text-anchor="middle" fill="#333">10<tspan font-size="3.2" dy="-1.6">4</tspan></text>
<line x1="366.76" y1="582.50" x2="366.76" y2="584.00" stroke="#666" stroke-width="0.5"/>
<text x="366.76" y="589.30" font-size="4.6" text-anchor="middle" fill="#333">10<tspan font-size="3.2" dy="-1.6">5</tspan></text>
<line x1="389.88" y1="582.50" x2="389.88" y2="584.00" stroke="#666" stroke-width="0.5"/>
<text x="389.88" y="589.30" font-size="4.6" text-anchor="middle" fill="#333">10<tspan font-size="3.2" dy="-1.6">6</tspan></text>
<line x1="413.00" y1="582.50" x2="413.00" y2="584.00" stroke="#666" stroke-width="0.5"/>
<text x="413.00" y="589.30" font-size="4.6" text-anchor="middle" fill="#333">10<tspan font-size="3.2" dy="-1.6">7</tspan></text>
<line x1="295.90" y1="582.50" x2="297.40" y2="582.50" stroke="#666" stroke-width="0.5"/>
<text x="292.90" y="582.50" font-size="4.6" text-anchor="middle" fill="#333" transform="rotate(-90 292.9 582.5)">10<tspan font-size="3.2" dy="-1.6">2</tspan></text>
<line x1="295.90" y1="553.88" x2="297.40" y2="553.88" stroke="#666" stroke-width="0.5"/>
<text x="292.90" y="553.88" font-size="4.6" text-anchor="middle" fill="#333" transform="rotate(-90 292.9 553.875)">10<tspan font-size="3.2" dy="-1.6">3</tspan></text>
<line x1="295.90" y1="525.25" x2="297.40" y2="525.25" stroke="#666" stroke-width="0.5"/>
<text x="292.90" y="525.25" font-size="4.6" text-anchor="middle" fill="#333" transform="rotate(-90 292.9 525.25)">10<tspan font-size="3.2" dy="-1.6">4</tspan></text>
<line x1="295.90" y1="496.62" x2="297.40" y2="496.62" stroke="#666" stroke-width="0.5"/>
<text x="292.90" y="496.62" font-size="4.6" text-anchor="middle" fill="#333" transform="rotate(-90 292.9 496.625)">10<tspan font-size="3.2" dy="-1.6">5</tspan></text>
<line x1="295.90" y1="468.00" x2="297.40" y2="468.00" stroke="#666" stroke-width="0.5"/>
<text x="292.90" y="468.00" font-size="4.6" text-anchor="middle" fill="#333" transform="rotate(-90 292.9 468.0)">10<tspan font-size="3.2" dy="-1.6">6</tspan></text>
<text x="286.40" y="505.00" font-size="3.2" text-anchor="middle" fill="#444" transform="rotate(-90 286.4 505)">bs-III</text>
<line x1="285.90" y1="547.00" x2="285.90" y2="550.00" stroke="#666" stroke-width="0.6"/>
<text x="13.00" y="506.90" font-size="9.8" text-anchor="middle" fill="#111" transform="rotate(-90 13 506.9)" textLength="87.7" lengthAdjust="spacingAndGlyphs">PE: PKH Target Cells</text>
<line x1="9.60" y1="604.90" x2="9.60" y2="562.60" stroke="#1E1E1E" stroke-width="1.0"/>
<path d="M9.60 557.60 L11.90 562.60 L7.30 562.60 Z" fill="#1E1E1E"/>
<line x1="9.10" y1="604.90" x2="65.50" y2="604.90" stroke="#1E1E1E" stroke-width="1.0"/>
<path d="M70.50 604.90 L65.50 607.20 L65.50 602.60 Z" fill="#1E1E1E"/>
<text x="75.30" y="608.20" font-size="9.8" text-anchor="start" fill="#111" textLength="101.3" lengthAdjust="spacingAndGlyphs">APC: CFSE UTD-T Cells</text>
<defs>
<linearGradient id="band" x1="0" x2="1" y1="0" y2="0">
<stop offset="0" stop-color="#ffffff"/>
<stop offset="0.05" stop-color="#D6EBF9"/>
<stop offset="0.25" stop-color="#B5DAF3"/>
<stop offset="0.5" stop-color="#83C2EB"/>
<stop offset="0.75" stop-color="#5DADE3"/>
<stop offset="0.93" stop-color="#58AAE1"/>
<stop offset="1" stop-color="#ffffff"/>
</linearGradient>
</defs>
<rect x="0.00" y="706.90" width="384.00" height="19.80" fill="url(#band)"/>
<line x1="9.60" y1="726.60" x2="384.00" y2="726.60" stroke="#151515" stroke-width="1.5"/>
<path d="M391.8 726.6 L383.2 722.4 L383.2 730.8 Z" fill="#151515"/>
<line x1="9.60" y1="722.20" x2="9.60" y2="731.80" stroke="#151515" stroke-width="1.6"/>
<line x1="136.70" y1="723.50" x2="136.70" y2="733.30" stroke="#151515" stroke-width="1.4"/>
<line x1="364.70" y1="722.30" x2="364.70" y2="732.20" stroke="#151515" stroke-width="1.6"/>
<rect x="59.50" y="720.50" width="14.00" height="14.00" fill="#ffffff" opacity="0"/>
<path d="M61.0 733.5 L67.0 721.5 M65.5 733.5 L71.5 721.5" fill="none" stroke="#151515" stroke-width="1.3"/>
<rect x="109.50" y="720.50" width="14.00" height="14.00" fill="#ffffff" opacity="0"/>
<path d="M111.0 733.5 L117.0 721.5 M115.5 733.5 L121.5 721.5" fill="none" stroke="#151515" stroke-width="1.3"/>
<rect x="194.50" y="720.50" width="14.00" height="14.00" fill="#ffffff" opacity="0"/>
<path d="M196.0 733.5 L202.0 721.5 M200.5 733.5 L206.5 721.5" fill="none" stroke="#151515" stroke-width="1.3"/>
<rect x="296.00" y="720.50" width="14.00" height="14.00" fill="#ffffff" opacity="0"/>
<path d="M297.5 733.5 L303.5 721.5 M302.0 733.5 L308.0 721.5" fill="none" stroke="#151515" stroke-width="1.3"/>
<rect x="28.70" y="713.30" width="26.00" height="25.00" fill="#C65A16" stroke="#7A3A10" stroke-width="0.9"/>
<text x="41.70" y="730.84" font-size="14" text-anchor="middle" fill="#1a1a1a" textLength="17.5" lengthAdjust="spacingAndGlyphs">D8</text>
<rect x="155.60" y="713.30" width="30.00" height="25.00" fill="#F0A572" stroke="#8C5530" stroke-width="0.9"/>
<text x="170.60" y="730.84" font-size="14" text-anchor="middle" fill="#1a1a1a" textLength="25.5" lengthAdjust="spacingAndGlyphs">D10</text>
<rect x="320.50" y="712.70" width="28.60" height="25.70" fill="#F0A572" stroke="#8C5530" stroke-width="0.9"/>
<text x="334.80" y="730.59" font-size="14" text-anchor="middle" fill="#1a1a1a" textLength="25.5" lengthAdjust="spacingAndGlyphs">D16</text>
<rect x="77.30" y="717.40" width="27.20" height="19.80" fill="#7684C0" stroke="#3C4A80" stroke-width="0.9"/>
<text x="90.90" y="732.05" font-size="13.2" text-anchor="middle" fill="#ffffff" textLength="22" lengthAdjust="spacingAndGlyphs">48h</text>
<rect x="236.80" y="717.40" width="27.20" height="19.50" fill="#7684C0" stroke="#3C4A80" stroke-width="0.9"/>
<text x="250.40" y="731.90" font-size="13.2" text-anchor="middle" fill="#ffffff" textLength="22" lengthAdjust="spacingAndGlyphs">48h</text>
<text x="130.20" y="720.40" font-size="7.3" font-weight="bold" text-anchor="start" fill="#111">Start</text>
<text x="358.80" y="720.40" font-size="7.3" font-weight="bold" text-anchor="start" fill="#111">End</text>
<text x="96.70" y="704.50" font-size="6.8" font-weight="bold" text-anchor="middle" fill="#111">E:T=1:1</text>
<text x="260.30" y="704.20" font-size="7.25" font-weight="bold" text-anchor="middle" fill="#111">3 rounds</text>
<text x="227.50" y="666.60" font-size="7.2" font-weight="bold" text-anchor="middle" fill="#111">add&#160; 2 x 10<tspan font-size="4.8" dy="-2.8">5</tspan></text>
<text x="229.50" y="675.60" font-size="7.2" font-weight="bold" text-anchor="middle" fill="#111">Fresh Tumor Cell</text>
<text x="309.30" y="666.40" font-size="7.2" font-weight="bold" text-anchor="middle" fill="#111">Flow cytometry analyse</text>
<text x="309.30" y="675.20" font-size="7.2" font-weight="bold" text-anchor="middle" fill="#111">the Residual cells (%)</text>
<line x1="309.30" y1="683.90" x2="309.30" y2="716.00" stroke="#5AAAE0" stroke-width="1.1"/>
<circle cx="309.3" cy="681.3" r="2.5" fill="#fff" stroke="#5AAAE0" stroke-width="1.2"/>
<path d="M225.5 678.2 L207.2 714" fill="none" stroke="#222" stroke-width="1.0" stroke-dasharray="1.5 1.5"/>
<path d="M58.7 676 L42.6 712.5" fill="none" stroke="#222" stroke-width="1.0" stroke-dasharray="1.5 1.5"/>
<path d="M82.7 674.0 L128.8 641.3 L152.7 663.1 L153.3 667.3 L92.0 693.5 L82.4 676.9 Z" fill="#D5E6EE" stroke="#7E9BA8" stroke-width="0.7"/>
<path d="M82.7 674.0 L128.8 641.3 L152.7 663.1 L93.8 685.1 Z" fill="#E2F0F6" stroke="#7E9BA8" stroke-width="0.7"/>
<path d="M93.8 689.1 L153.0 665.2" fill="none" stroke="#A8C0CA" stroke-width="0.5"/>
<path d="M87.3 671.0 L128.2 645.3 L148.1 663.4 L95.5 681.5 Z" fill="#D6EBF5"/>
<ellipse cx="127.6" cy="647.1" rx="3.7" ry="2.7" fill="#CFE7F4" stroke="#7FA8BC" stroke-width="0.65"/>
<ellipse cx="120.0" cy="649.4" rx="3.7" ry="2.7" fill="#CFE7F4" stroke="#7FA8BC" stroke-width="0.65"/>
<ellipse cx="112.5" cy="651.8" rx="3.7" ry="2.7" fill="#CFE7F4" stroke="#7FA8BC" stroke-width="0.65"/>
<ellipse cx="104.9" cy="654.1" rx="3.7" ry="2.7" fill="#CFE7F4" stroke="#7FA8BC" stroke-width="0.65"/>
<ellipse cx="96.7" cy="656.4" rx="3.7" ry="2.7" fill="#CFE7F4" stroke="#7FA8BC" stroke-width="0.65"/>
<ellipse cx="131.7" cy="651.2" rx="3.7" ry="2.7" fill="#CFE7F4" stroke="#7FA8BC" stroke-width="0.65"/>
<ellipse cx="124.7" cy="653.5" rx="3.7" ry="2.7" fill="#CFE7F4" stroke="#7FA8BC" stroke-width="0.65"/>
<ellipse cx="117.1" cy="655.9" rx="3.7" ry="2.7" fill="#CFE7F4" stroke="#7FA8BC" stroke-width="0.65"/>
<ellipse cx="108.9" cy="658.2" rx="3.7" ry="2.7" fill="#CFE7F4" stroke="#7FA8BC" stroke-width="0.65"/>
<ellipse cx="100.2" cy="661.1" rx="3.7" ry="2.7" fill="#CFE7F4" stroke="#7FA8BC" stroke-width="0.65"/>
<ellipse cx="92.0" cy="664.0" rx="3.7" ry="2.7" fill="#CFE7F4" stroke="#7FA8BC" stroke-width="0.65"/>
<ellipse cx="137.0" cy="655.9" rx="3.7" ry="2.7" fill="#CFE7F4" stroke="#7FA8BC" stroke-width="0.65"/>
<ellipse cx="129.4" cy="658.2" rx="3.7" ry="2.7" fill="#CFE7F4" stroke="#7FA8BC" stroke-width="0.65"/>
<ellipse cx="121.2" cy="661.1" rx="3.7" ry="2.7" fill="#CFE7F4" stroke="#7FA8BC" stroke-width="0.65"/>
<ellipse cx="113.0" cy="663.4" rx="3.7" ry="2.7" fill="#CFE7F4" stroke="#7FA8BC" stroke-width="0.65"/>
<ellipse cx="104.3" cy="666.4" rx="3.7" ry="2.7" fill="#CFE7F4" stroke="#7FA8BC" stroke-width="0.65"/>
<ellipse cx="95.5" cy="669.9" rx="3.7" ry="2.7" fill="#CFE7F4" stroke="#7FA8BC" stroke-width="0.65"/>
<ellipse cx="141.6" cy="661.1" rx="3.7" ry="2.7" fill="#CFE7F4" stroke="#7FA8BC" stroke-width="0.65"/>
<ellipse cx="134.1" cy="663.4" rx="3.7" ry="2.7" fill="#CFE7F4" stroke="#7FA8BC" stroke-width="0.65"/>
<ellipse cx="125.9" cy="666.4" rx="3.7" ry="2.7" fill="#CFE7F4" stroke="#7FA8BC" stroke-width="0.65"/>
<ellipse cx="117.7" cy="669.9" rx="3.7" ry="2.7" fill="#CFE7F4" stroke="#7FA8BC" stroke-width="0.65"/>
<ellipse cx="108.9" cy="672.8" rx="3.7" ry="2.7" fill="#CFE7F4" stroke="#7FA8BC" stroke-width="0.65"/>
<ellipse cx="98.4" cy="676.3" rx="3.7" ry="2.7" fill="#CFE7F4" stroke="#7FA8BC" stroke-width="0.65"/>
<rect x="117.71" y="680.96" width="4.00" height="1.20" fill="#333" transform="rotate(-22 117.7 681.0)"/>
<path d="M91 644.7 L114.7 664.6 M80.5 674 L114.7 667.4" fill="none" stroke="#333" stroke-width="0.8" stroke-dasharray="1.3 1.3"/>
<circle cx="67.8" cy="650.8" r="23.6" fill="#FBEDED" stroke="#333" stroke-width="1"/>
<circle cx="69.2" cy="659" r="11.2" fill="#BFE0C6"/>
<circle cx="69.2" cy="659" r="6.8" fill="#7DBE8A"/>
<path d="M80.9 640.5 L79.3 642.2 L80.6 644.5 L78.7 645.8 L78.6 648.1 L76.0 648.3 L75.5 650.8 L73.1 650.3 L71.5 651.9 L69.5 650.2 L67.4 652.4 L66.1 649.7 L63.8 650.4 L63.1 648.1 L60.4 648.1 L60.8 645.5 L58.6 644.5 L59.8 642.2 L57.5 640.5 L59.3 638.7 L58.4 636.5 L60.4 635.2 L60.9 633.3 L62.8 632.5 L63.5 630.1 L66.0 631.0 L67.5 629.1 L69.5 629.9 L71.6 628.7 L73.1 630.6 L75.1 630.8 L76.2 632.6 L78.3 633.1 L77.9 635.7 L80.8 636.4 L79.9 638.7 Z" fill="#EE9096"/>
<circle cx="71" cy="642" r="5.5" fill="#C86A72"/>
<path d="M63 661 L75 657" fill="none" stroke="#333" stroke-width="0.6"/>
<rect x="53.50" y="652.00" width="3.00" height="2.00" fill="#2A8FA8"/>
<rect x="53.50" y="658.00" width="3.00" height="2.00" fill="#2E9A4A"/>
<rect x="55.50" y="665.00" width="3.00" height="2.00" fill="#2A8FA8"/>
<rect x="79.50" y="666.00" width="3.00" height="2.00" fill="#2A8FA8"/>
<rect x="58.50" y="648.00" width="3.00" height="2.00" fill="#C03040"/>
<rect x="78.50" y="647.00" width="3.00" height="2.00" fill="#C03040"/>
<path d="M245.7 643.5 L244.1 645.3 L244.9 647.5 L242.7 648.6 L243.2 651.1 L240.7 651.5 L240.4 654.1 L237.8 653.4 L236.6 655.4 L234.5 654.7 L232.7 656.3 L230.9 654.7 L228.8 655.6 L227.5 653.7 L225.3 653.6 L224.5 651.7 L222.7 650.8 L222.5 648.7 L220.5 647.5 L221.3 645.3 L220.3 643.5 L221.3 641.7 L220.2 639.4 L222.5 638.3 L222.5 636.1 L224.4 635.2 L225.0 632.9 L227.4 633.0 L228.8 631.4 L230.9 632.4 L232.7 631.0 L234.5 632.0 L236.6 631.6 L238.0 633.1 L240.1 633.4 L240.8 635.4 L243.2 635.9 L243.1 638.2 L244.7 639.6 L244.1 641.7 Z" fill="#F0959C"/>
<circle cx="228" cy="644.5" r="5.7" fill="#C9646E"/>
<path d="M214.3 637.5 L218.5 639.4 L214.3 641.3" fill="none" stroke="#C03040" stroke-width="1"/>
<path d="M236.8 626 L238.2 631.8" fill="none" stroke="#C03040" stroke-width="1.3"/>
<text x="209.20" y="640.80" font-size="2.6" text-anchor="middle" fill="#555">TAA</text>
<text x="244.00" y="631.20" font-size="2.6" text-anchor="middle" fill="#555">MHC I</text>
</svg></body></html>
